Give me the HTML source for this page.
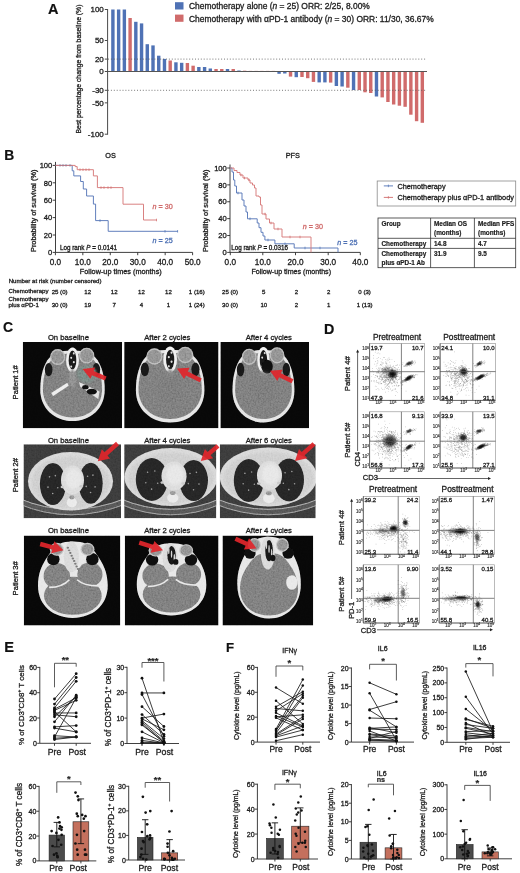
<!DOCTYPE html>
<html><head><meta charset="utf-8"><title>Figure</title>
<style>html,body{margin:0;padding:0;background:#fff;}body{width:520px;height:873px;overflow:hidden;}svg{display:block;}</style>
</head><body>
<svg width="520" height="873" viewBox="0 0 520 873" font-family="Liberation Sans, Arial, sans-serif">
<rect width="520" height="873" fill="#fff"/>
<defs><filter id="b04" x="-20%" y="-20%" width="140%" height="140%"><feGaussianBlur stdDeviation="0.5"/></filter><filter id="b1" x="-30%" y="-30%" width="160%" height="160%"><feGaussianBlur stdDeviation="1.2"/></filter><filter id="b2" x="-30%" y="-30%" width="160%" height="160%"><feGaussianBlur stdDeviation="2.5"/></filter><filter id="nz" x="0" y="0" width="100%" height="100%"><feTurbulence type="fractalNoise" baseFrequency="0.6" numOctaves="2" seed="3"/><feColorMatrix type="matrix" values="1 0 0 0 0  1 0 0 0 0  1 0 0 0 0  0 0 0 0 1"/></filter><radialGradient id="rg"><stop offset="0" stop-color="#000" stop-opacity="1"/><stop offset="0.45" stop-color="#111" stop-opacity="0.85"/><stop offset="1" stop-color="#444" stop-opacity="0"/></radialGradient></defs>
<text x="48" y="14" font-size="14.5" font-weight="bold" fill="#111" stroke="#111" stroke-width="0.18">A</text>
<rect x="175" y="2.2" width="8.5" height="7.3" fill="#4f72b5"/>
<rect x="175" y="14.6" width="8.5" height="7.2" fill="#d06b6b"/>
<text x="189" y="8.82" font-size="8.45" fill="#1c1c1c" stroke="#1c1c1c" stroke-width="0.3">Chemotherapy alone (<tspan font-style="italic">n</tspan> = 25) ORR: 2/25, 8.00%</text>
<text x="189" y="21.62" font-size="8.45" fill="#1c1c1c" stroke="#1c1c1c" stroke-width="0.3">Chemotherapy with αPD-1 antibody (<tspan font-style="italic">n</tspan> = 30) ORR: 11/30, 36.67%</text>
<line x1="107.6" y1="9" x2="107.6" y2="134.7" stroke="#4a4a4a" stroke-width="1"/>
<line x1="104.8" y1="9.5" x2="107.6" y2="9.5" stroke="#4a4a4a" stroke-width="1"/>
<text x="103.8" y="12.36" font-size="8" text-anchor="end" fill="#1c1c1c" stroke="#1c1c1c" stroke-width="0.3">100</text>
<line x1="104.8" y1="40.5" x2="107.6" y2="40.5" stroke="#4a4a4a" stroke-width="1"/>
<text x="103.8" y="43.36" font-size="8" text-anchor="end" fill="#1c1c1c" stroke="#1c1c1c" stroke-width="0.3">50</text>
<line x1="104.8" y1="59.1" x2="107.6" y2="59.1" stroke="#4a4a4a" stroke-width="1"/>
<text x="103.8" y="61.96" font-size="8" text-anchor="end" fill="#1c1c1c" stroke="#1c1c1c" stroke-width="0.3">20</text>
<line x1="104.8" y1="71.5" x2="107.6" y2="71.5" stroke="#4a4a4a" stroke-width="1"/>
<text x="103.8" y="74.36" font-size="8" text-anchor="end" fill="#1c1c1c" stroke="#1c1c1c" stroke-width="0.3">0</text>
<line x1="104.8" y1="90.31" x2="107.6" y2="90.31" stroke="#4a4a4a" stroke-width="1"/>
<text x="103.8" y="93.17" font-size="8" text-anchor="end" fill="#1c1c1c" stroke="#1c1c1c" stroke-width="0.3">-30</text>
<line x1="104.8" y1="102.85" x2="107.6" y2="102.85" stroke="#4a4a4a" stroke-width="1"/>
<text x="103.8" y="105.71" font-size="8" text-anchor="end" fill="#1c1c1c" stroke="#1c1c1c" stroke-width="0.3">-50</text>
<line x1="104.8" y1="134.2" x2="107.6" y2="134.2" stroke="#4a4a4a" stroke-width="1"/>
<text x="103.8" y="137.06" font-size="8" text-anchor="end" fill="#1c1c1c" stroke="#1c1c1c" stroke-width="0.3">-100</text>
<text x="78.7" y="71.43" font-size="6.8" text-anchor="middle" fill="#1c1c1c" stroke="#1c1c1c" stroke-width="0.3" transform="rotate(-90 78.7 69)">Best percentage change from baseline (%)</text>
<rect x="111.2" y="9.5" width="3.4" height="62" fill="#4f72b5"/>
<rect x="116.93" y="9.5" width="3.4" height="62" fill="#4f72b5"/>
<rect x="122.66" y="9.5" width="3.4" height="62" fill="#4f72b5"/>
<rect x="128.39" y="18" width="3.4" height="53.5" fill="#d06b6b"/>
<rect x="134.12" y="21.8" width="3.4" height="49.7" fill="#4f72b5"/>
<rect x="139.85" y="23.4" width="3.4" height="48.1" fill="#4f72b5"/>
<rect x="145.58" y="44.2" width="3.4" height="27.3" fill="#4f72b5"/>
<rect x="151.31" y="45.4" width="3.4" height="26.1" fill="#4f72b5"/>
<rect x="157.04" y="55.7" width="3.4" height="15.8" fill="#4f72b5"/>
<rect x="162.77" y="58.9" width="3.4" height="12.6" fill="#4f72b5"/>
<rect x="168.5" y="60.5" width="3.4" height="11" fill="#d06b6b"/>
<rect x="174.23" y="62.3" width="3.4" height="9.2" fill="#4f72b5"/>
<rect x="179.96" y="62.8" width="3.4" height="8.7" fill="#4f72b5"/>
<rect x="185.69" y="63" width="3.4" height="8.5" fill="#d06b6b"/>
<rect x="191.42" y="65.7" width="3.4" height="5.8" fill="#d06b6b"/>
<rect x="197.15" y="67" width="3.4" height="4.5" fill="#4f72b5"/>
<rect x="202.88" y="67" width="3.4" height="4.5" fill="#4f72b5"/>
<rect x="208.61" y="68.5" width="3.4" height="3" fill="#4f72b5"/>
<rect x="214.34" y="69" width="3.4" height="2.5" fill="#d06b6b"/>
<rect x="220.07" y="69" width="3.4" height="2.5" fill="#d06b6b"/>
<rect x="225.8" y="69" width="3.4" height="2.5" fill="#4f72b5"/>
<rect x="231.53" y="69" width="3.4" height="2.5" fill="#d06b6b"/>
<rect x="237.26" y="70.5" width="3.4" height="1" fill="#4f72b5"/>
<rect x="242.99" y="70.7" width="3.4" height="0.8" fill="#d06b6b"/>
<rect x="248.72" y="70.9" width="3.4" height="0.6" fill="#d06b6b"/>
<rect x="254.45" y="70.9" width="3.4" height="0.6" fill="#d06b6b"/>
<rect x="260.18" y="70.9" width="3.4" height="0.6" fill="#d06b6b"/>
<rect x="265.91" y="70.9" width="3.4" height="0.6" fill="#d06b6b"/>
<rect x="271.64" y="70.9" width="3.4" height="0.6" fill="#d06b6b"/>
<rect x="277.37" y="71.5" width="3.4" height="2.3" fill="#4f72b5"/>
<rect x="283.1" y="71.5" width="3.4" height="2" fill="#4f72b5"/>
<rect x="288.83" y="71.5" width="3.4" height="5.1" fill="#d06b6b"/>
<rect x="294.56" y="71.5" width="3.4" height="5.7" fill="#4f72b5"/>
<rect x="300.29" y="71.5" width="3.4" height="5.5" fill="#d06b6b"/>
<rect x="306.02" y="71.5" width="3.4" height="6.7" fill="#d06b6b"/>
<rect x="311.75" y="71.5" width="3.4" height="10.4" fill="#d06b6b"/>
<rect x="317.48" y="71.5" width="3.4" height="10.9" fill="#4f72b5"/>
<rect x="323.21" y="71.5" width="3.4" height="10.9" fill="#4f72b5"/>
<rect x="328.94" y="71.5" width="3.4" height="11.1" fill="#d06b6b"/>
<rect x="334.67" y="71.5" width="3.4" height="14.5" fill="#4f72b5"/>
<rect x="340.4" y="71.5" width="3.4" height="15" fill="#4f72b5"/>
<rect x="346.13" y="71.5" width="3.4" height="16.2" fill="#d06b6b"/>
<rect x="351.86" y="71.5" width="3.4" height="18.5" fill="#4f72b5"/>
<rect x="357.59" y="71.5" width="3.4" height="18.5" fill="#d06b6b"/>
<rect x="363.32" y="71.5" width="3.4" height="20.8" fill="#d06b6b"/>
<rect x="369.05" y="71.5" width="3.4" height="21.5" fill="#d06b6b"/>
<rect x="374.78" y="71.5" width="3.4" height="25" fill="#4f72b5"/>
<rect x="380.51" y="71.5" width="3.4" height="25.9" fill="#d06b6b"/>
<rect x="386.24" y="71.5" width="3.4" height="30.5" fill="#d06b6b"/>
<rect x="391.97" y="71.5" width="3.4" height="33" fill="#d06b6b"/>
<rect x="397.7" y="71.5" width="3.4" height="34.2" fill="#d06b6b"/>
<rect x="403.43" y="71.5" width="3.4" height="35.3" fill="#d06b6b"/>
<rect x="409.16" y="71.5" width="3.4" height="43.2" fill="#d06b6b"/>
<rect x="414.89" y="71.5" width="3.4" height="49.7" fill="#d06b6b"/>
<rect x="420.62" y="71.5" width="3.4" height="51.3" fill="#d06b6b"/>
<line x1="108" y1="59.1" x2="427" y2="59.1" stroke="#555" stroke-width="0.8" stroke-dasharray="1 1.9"/>
<line x1="108" y1="90.31" x2="427" y2="90.31" stroke="#555" stroke-width="0.8" stroke-dasharray="1 1.9"/>
<line x1="108" y1="71.5" x2="427" y2="71.5" stroke="#555" stroke-width="1.1"/>
<text x="4.3" y="160" font-size="13.8" font-weight="bold" fill="#111" stroke="#111" stroke-width="0.18">B</text>
<line x1="55.5" y1="161.9" x2="55.5" y2="252.4" stroke="#2a2a2a" stroke-width="0.9"/>
<line x1="55.5" y1="252.4" x2="192.6" y2="252.4" stroke="#2a2a2a" stroke-width="0.9"/>
<line x1="52.7" y1="165.4" x2="55.5" y2="165.4" stroke="#2a2a2a" stroke-width="0.9"/>
<text x="52.3" y="168.11" font-size="7.6" text-anchor="end" fill="#1c1c1c" stroke="#1c1c1c" stroke-width="0.3">100</text>
<line x1="52.7" y1="182.8" x2="55.5" y2="182.8" stroke="#2a2a2a" stroke-width="0.9"/>
<text x="52.3" y="185.51" font-size="7.6" text-anchor="end" fill="#1c1c1c" stroke="#1c1c1c" stroke-width="0.3">80</text>
<line x1="52.7" y1="200.2" x2="55.5" y2="200.2" stroke="#2a2a2a" stroke-width="0.9"/>
<text x="52.3" y="202.91" font-size="7.6" text-anchor="end" fill="#1c1c1c" stroke="#1c1c1c" stroke-width="0.3">60</text>
<line x1="52.7" y1="217.6" x2="55.5" y2="217.6" stroke="#2a2a2a" stroke-width="0.9"/>
<text x="52.3" y="220.31" font-size="7.6" text-anchor="end" fill="#1c1c1c" stroke="#1c1c1c" stroke-width="0.3">40</text>
<line x1="52.7" y1="235" x2="55.5" y2="235" stroke="#2a2a2a" stroke-width="0.9"/>
<text x="52.3" y="237.71" font-size="7.6" text-anchor="end" fill="#1c1c1c" stroke="#1c1c1c" stroke-width="0.3">20</text>
<line x1="52.7" y1="252.4" x2="55.5" y2="252.4" stroke="#2a2a2a" stroke-width="0.9"/>
<text x="52.3" y="255.11" font-size="7.6" text-anchor="end" fill="#1c1c1c" stroke="#1c1c1c" stroke-width="0.3">0</text>
<line x1="55.4" y1="252.4" x2="55.4" y2="255.2" stroke="#2a2a2a" stroke-width="0.9"/>
<text x="55.4" y="264.53" font-size="8.2" text-anchor="middle" fill="#1c1c1c" stroke="#1c1c1c" stroke-width="0.3">0.0</text>
<line x1="82.84" y1="252.4" x2="82.84" y2="255.2" stroke="#2a2a2a" stroke-width="0.9"/>
<text x="82.84" y="264.53" font-size="8.2" text-anchor="middle" fill="#1c1c1c" stroke="#1c1c1c" stroke-width="0.3">10.0</text>
<line x1="110.28" y1="252.4" x2="110.28" y2="255.2" stroke="#2a2a2a" stroke-width="0.9"/>
<text x="110.28" y="264.53" font-size="8.2" text-anchor="middle" fill="#1c1c1c" stroke="#1c1c1c" stroke-width="0.3">20.0</text>
<line x1="137.72" y1="252.4" x2="137.72" y2="255.2" stroke="#2a2a2a" stroke-width="0.9"/>
<text x="137.72" y="264.53" font-size="8.2" text-anchor="middle" fill="#1c1c1c" stroke="#1c1c1c" stroke-width="0.3">30.0</text>
<line x1="165.16" y1="252.4" x2="165.16" y2="255.2" stroke="#2a2a2a" stroke-width="0.9"/>
<text x="165.16" y="264.53" font-size="8.2" text-anchor="middle" fill="#1c1c1c" stroke="#1c1c1c" stroke-width="0.3">40.0</text>
<line x1="192.6" y1="252.4" x2="192.6" y2="255.2" stroke="#2a2a2a" stroke-width="0.9"/>
<text x="192.6" y="264.53" font-size="8.2" text-anchor="middle" fill="#1c1c1c" stroke="#1c1c1c" stroke-width="0.3">50.0</text>
<text x="110.5" y="158.41" font-size="7.3" text-anchor="middle" fill="#1c1c1c" stroke="#1c1c1c" stroke-width="0.3">OS</text>
<text x="33.4" y="213.41" font-size="7.3" text-anchor="middle" fill="#1c1c1c" stroke="#1c1c1c" stroke-width="0.3" transform="rotate(-90 33.4 210.8)">Probability of survival (%)</text>
<text x="120.8" y="274.41" font-size="7.3" text-anchor="middle" fill="#1c1c1c" stroke="#1c1c1c" stroke-width="0.3">Follow-up times (months)</text>
<text x="60" y="250.25" font-size="6.3" fill="#1c1c1c" stroke="#1c1c1c" stroke-width="0.3">Log rank <tspan font-style="italic">P</tspan> = 0.0141</text>
<polyline points="55.5,165.4 72.2,165.4 72.2,170.8 73.8,170.8 73.8,175.9 80.6,175.9 80.6,181.5 83.3,181.5 83.3,189 86.6,189 86.6,196 93.4,196 93.4,204.1 95.6,204.1 95.6,220.6 108.2,220.6 108.2,231.3 177.8,231.3" fill="none" stroke="#5878b8" stroke-width="0.95"/>
<polyline points="55.5,165.4 75.2,165.4 75.2,166.6 77.2,166.6 77.2,169.7 93.4,169.7 93.4,175.9 97.4,175.9 97.4,187.6 123,187.6 123,204.2 143.5,204.2 143.5,220 156.8,220" fill="none" stroke="#d77a7a" stroke-width="0.95"/>
<line x1="60" y1="164.1" x2="60" y2="166.7" stroke="#7a7a9a" stroke-width="0.7"/>
<line x1="63" y1="164.1" x2="63" y2="166.7" stroke="#7a7a9a" stroke-width="0.7"/>
<line x1="66" y1="164.1" x2="66" y2="166.7" stroke="#7a7a9a" stroke-width="0.7"/>
<line x1="70" y1="164.1" x2="70" y2="166.7" stroke="#7a7a9a" stroke-width="0.7"/>
<line x1="80" y1="168.4" x2="80" y2="171" stroke="#d06b6b" stroke-width="0.7"/>
<line x1="83" y1="168.4" x2="83" y2="171" stroke="#d06b6b" stroke-width="0.7"/>
<line x1="86" y1="168.4" x2="86" y2="171" stroke="#d06b6b" stroke-width="0.7"/>
<line x1="89" y1="168.4" x2="89" y2="171" stroke="#d06b6b" stroke-width="0.7"/>
<line x1="101" y1="186.3" x2="101" y2="188.9" stroke="#d06b6b" stroke-width="0.7"/>
<line x1="104" y1="186.3" x2="104" y2="188.9" stroke="#d06b6b" stroke-width="0.7"/>
<line x1="108" y1="186.3" x2="108" y2="188.9" stroke="#d06b6b" stroke-width="0.7"/>
<line x1="111" y1="186.3" x2="111" y2="188.9" stroke="#d06b6b" stroke-width="0.7"/>
<line x1="156.5" y1="218.7" x2="156.5" y2="221.3" stroke="#d06b6b" stroke-width="0.7"/>
<line x1="100" y1="219.3" x2="100" y2="221.9" stroke="#4f72b5" stroke-width="0.7"/>
<line x1="165" y1="230" x2="165" y2="232.6" stroke="#4f72b5" stroke-width="0.7"/>
<line x1="177.6" y1="230" x2="177.6" y2="232.6" stroke="#4f72b5" stroke-width="0.7"/>
<text x="152.5" y="209.17" font-size="7.2" fill="#d06b6b" stroke="#d06b6b" stroke-width="0.3"><tspan font-style="italic">n</tspan> = 30</text>
<text x="152.5" y="243.37" font-size="7.2" fill="#4f72b5" stroke="#4f72b5" stroke-width="0.3"><tspan font-style="italic">n</tspan> = 25</text>
<line x1="230" y1="164.5" x2="230" y2="252.4" stroke="#2a2a2a" stroke-width="0.9"/>
<line x1="230" y1="252.4" x2="360.3" y2="252.4" stroke="#2a2a2a" stroke-width="0.9"/>
<line x1="227.2" y1="168" x2="230" y2="168" stroke="#2a2a2a" stroke-width="0.9"/>
<text x="226.8" y="170.71" font-size="7.6" text-anchor="end" fill="#1c1c1c" stroke="#1c1c1c" stroke-width="0.3">100</text>
<line x1="227.2" y1="184.88" x2="230" y2="184.88" stroke="#2a2a2a" stroke-width="0.9"/>
<text x="226.8" y="187.59" font-size="7.6" text-anchor="end" fill="#1c1c1c" stroke="#1c1c1c" stroke-width="0.3">80</text>
<line x1="227.2" y1="201.76" x2="230" y2="201.76" stroke="#2a2a2a" stroke-width="0.9"/>
<text x="226.8" y="204.47" font-size="7.6" text-anchor="end" fill="#1c1c1c" stroke="#1c1c1c" stroke-width="0.3">60</text>
<line x1="227.2" y1="218.64" x2="230" y2="218.64" stroke="#2a2a2a" stroke-width="0.9"/>
<text x="226.8" y="221.35" font-size="7.6" text-anchor="end" fill="#1c1c1c" stroke="#1c1c1c" stroke-width="0.3">40</text>
<line x1="227.2" y1="235.52" x2="230" y2="235.52" stroke="#2a2a2a" stroke-width="0.9"/>
<text x="226.8" y="238.23" font-size="7.6" text-anchor="end" fill="#1c1c1c" stroke="#1c1c1c" stroke-width="0.3">20</text>
<line x1="227.2" y1="252.4" x2="230" y2="252.4" stroke="#2a2a2a" stroke-width="0.9"/>
<text x="226.8" y="255.11" font-size="7.6" text-anchor="end" fill="#1c1c1c" stroke="#1c1c1c" stroke-width="0.3">0</text>
<line x1="230.3" y1="252.4" x2="230.3" y2="255.2" stroke="#2a2a2a" stroke-width="0.9"/>
<text x="230.3" y="264.53" font-size="8.2" text-anchor="middle" fill="#1c1c1c" stroke="#1c1c1c" stroke-width="0.3">0.0</text>
<line x1="262.8" y1="252.4" x2="262.8" y2="255.2" stroke="#2a2a2a" stroke-width="0.9"/>
<text x="262.8" y="264.53" font-size="8.2" text-anchor="middle" fill="#1c1c1c" stroke="#1c1c1c" stroke-width="0.3">10.0</text>
<line x1="295.5" y1="252.4" x2="295.5" y2="255.2" stroke="#2a2a2a" stroke-width="0.9"/>
<text x="295.5" y="264.53" font-size="8.2" text-anchor="middle" fill="#1c1c1c" stroke="#1c1c1c" stroke-width="0.3">20.0</text>
<line x1="328.2" y1="252.4" x2="328.2" y2="255.2" stroke="#2a2a2a" stroke-width="0.9"/>
<text x="328.2" y="264.53" font-size="8.2" text-anchor="middle" fill="#1c1c1c" stroke="#1c1c1c" stroke-width="0.3">30.0</text>
<line x1="360.3" y1="252.4" x2="360.3" y2="255.2" stroke="#2a2a2a" stroke-width="0.9"/>
<text x="360.3" y="264.53" font-size="8.2" text-anchor="middle" fill="#1c1c1c" stroke="#1c1c1c" stroke-width="0.3">40.0</text>
<text x="292.8" y="158.41" font-size="7.3" text-anchor="middle" fill="#1c1c1c" stroke="#1c1c1c" stroke-width="0.3">PFS</text>
<text x="205.8" y="213.41" font-size="7.3" text-anchor="middle" fill="#1c1c1c" stroke="#1c1c1c" stroke-width="0.3" transform="rotate(-90 205.8 210.8)">Probability of survival (%)</text>
<text x="291.2" y="274.33" font-size="7.1" text-anchor="middle" fill="#1c1c1c" stroke="#1c1c1c" stroke-width="0.3">Follow-up times (months)</text>
<text x="231.2" y="250.25" font-size="6.3" fill="#1c1c1c" stroke="#1c1c1c" stroke-width="0.3">Log rank <tspan font-style="italic">P</tspan> = 0.0316</text>
<polyline points="230,168 232,168 232,172 233.5,172 233.5,180 234.8,180 234.8,186 236.5,186 236.5,193 242,193 242,200 244,200 244,206 246,206 246,212 247.5,212 247.5,218.8 257.2,218.8 257.2,223 259,223 259,227.7 261,227.7 261,232.3 263,232.3 263,236 264.9,236 264.9,240 274.9,240 274.9,243.8 294.2,243.8 294.2,248 338,248 338,252.4" fill="none" stroke="#5878b8" stroke-width="0.95"/>
<polyline points="230,168 234,168 234,170.5 237,170.5 237,172.5 240,172.5 240,175 243,175 243,178 248,178 248,180 250,180 250,183 252.5,183 252.5,185 254.5,185 254.5,188 256,188 256,196 259,196 259,197 260.5,197 260.5,205 262,205 262,214 266,214 266,219 269.5,219 269.5,223 274,223 274,229 282,229 282,237 311,237 311,252.4" fill="none" stroke="#d77a7a" stroke-width="0.95"/>
<line x1="241" y1="173.7" x2="241" y2="176.3" stroke="#d06b6b" stroke-width="0.7"/>
<line x1="244.5" y1="176.7" x2="244.5" y2="179.3" stroke="#d06b6b" stroke-width="0.7"/>
<line x1="249" y1="178.7" x2="249" y2="181.3" stroke="#d06b6b" stroke-width="0.7"/>
<line x1="265" y1="212.7" x2="265" y2="215.3" stroke="#d06b6b" stroke-width="0.7"/>
<line x1="271" y1="221.7" x2="271" y2="224.3" stroke="#d06b6b" stroke-width="0.7"/>
<line x1="278" y1="227.7" x2="278" y2="230.3" stroke="#d06b6b" stroke-width="0.7"/>
<line x1="290" y1="235.7" x2="290" y2="238.3" stroke="#d06b6b" stroke-width="0.7"/>
<line x1="300" y1="235.7" x2="300" y2="238.3" stroke="#d06b6b" stroke-width="0.7"/>
<line x1="238" y1="191.7" x2="238" y2="194.3" stroke="#4f72b5" stroke-width="0.7"/>
<line x1="250" y1="217.5" x2="250" y2="220.1" stroke="#4f72b5" stroke-width="0.7"/>
<line x1="268" y1="238.7" x2="268" y2="241.3" stroke="#4f72b5" stroke-width="0.7"/>
<line x1="285" y1="242.5" x2="285" y2="245.1" stroke="#4f72b5" stroke-width="0.7"/>
<line x1="305" y1="246.7" x2="305" y2="249.3" stroke="#4f72b5" stroke-width="0.7"/>
<line x1="320" y1="246.7" x2="320" y2="249.3" stroke="#4f72b5" stroke-width="0.7"/>
<text x="302.8" y="229.17" font-size="7.2" fill="#d06b6b" stroke="#d06b6b" stroke-width="0.3"><tspan font-style="italic">n</tspan> = 30</text>
<text x="337.3" y="244.57" font-size="7.2" fill="#4f72b5" stroke="#4f72b5" stroke-width="0.3"><tspan font-style="italic">n</tspan> = 25</text>
<rect x="377.2" y="181" width="138.5" height="25" fill="none" stroke="#8a8a8a" stroke-width="0.8"/>
<line x1="383.8" y1="185.9" x2="393" y2="185.9" stroke="#4f72b5" stroke-width="0.9"/>
<line x1="388.4" y1="184.6" x2="388.4" y2="187.2" stroke="#4f72b5" stroke-width="0.7"/>
<line x1="383.8" y1="197.4" x2="393" y2="197.4" stroke="#d06b6b" stroke-width="0.9"/>
<line x1="388.4" y1="196.1" x2="388.4" y2="198.7" stroke="#d06b6b" stroke-width="0.7"/>
<text x="397.4" y="188.62" font-size="7.35" fill="#1c1c1c" stroke="#1c1c1c" stroke-width="0.3">Chemotherapy</text>
<text x="397.4" y="200.12" font-size="7.35" fill="#1c1c1c" stroke="#1c1c1c" stroke-width="0.3">Chemotherapy plus αPD-1 antibody</text>
<rect x="378" y="218" width="137.7" height="49.7" fill="none" stroke="#333" stroke-width="0.8"/>
<line x1="430.6" y1="218" x2="430.6" y2="267.7" stroke="#333" stroke-width="0.8"/>
<line x1="474.4" y1="218" x2="474.4" y2="267.7" stroke="#333" stroke-width="0.8"/>
<line x1="378" y1="238.3" x2="515.7" y2="238.3" stroke="#333" stroke-width="0.8"/>
<line x1="378" y1="248.4" x2="515.7" y2="248.4" stroke="#333" stroke-width="0.8"/>
<text x="381.5" y="225.88" font-size="6.4" font-weight="bold" fill="#1c1c1c" stroke="#1c1c1c" stroke-width="0.18">Group</text>
<text x="434" y="225.88" font-size="6.4" font-weight="bold" fill="#1c1c1c" stroke="#1c1c1c" stroke-width="0.18">Median OS</text>
<text x="434" y="234.88" font-size="6.4" font-weight="bold" fill="#1c1c1c" stroke="#1c1c1c" stroke-width="0.18">(months)</text>
<text x="478" y="225.88" font-size="6.4" font-weight="bold" fill="#1c1c1c" stroke="#1c1c1c" stroke-width="0.18">Median PFS</text>
<text x="478" y="234.88" font-size="6.4" font-weight="bold" fill="#1c1c1c" stroke="#1c1c1c" stroke-width="0.18">(months)</text>
<text x="381.5" y="245.58" font-size="6.4" font-weight="bold" fill="#1c1c1c" stroke="#1c1c1c" stroke-width="0.18">Chemotherapy</text>
<text x="434" y="245.58" font-size="6.4" font-weight="bold" fill="#1c1c1c" stroke="#1c1c1c" stroke-width="0.18">14.8</text>
<text x="478" y="245.58" font-size="6.4" font-weight="bold" fill="#1c1c1c" stroke="#1c1c1c" stroke-width="0.18">4.7</text>
<text x="381.5" y="256.08" font-size="6.4" font-weight="bold" fill="#1c1c1c" stroke="#1c1c1c" stroke-width="0.18">Chemotherapy</text>
<text x="381.5" y="265.48" font-size="6.4" font-weight="bold" fill="#1c1c1c" stroke="#1c1c1c" stroke-width="0.18">plus αPD-1 Ab</text>
<text x="434" y="256.08" font-size="6.4" font-weight="bold" fill="#1c1c1c" stroke="#1c1c1c" stroke-width="0.18">31.9</text>
<text x="478" y="256.08" font-size="6.4" font-weight="bold" fill="#1c1c1c" stroke="#1c1c1c" stroke-width="0.18">9.5</text>
<text x="8.7" y="282.68" font-size="6.1" fill="#1c1c1c" stroke="#1c1c1c" stroke-width="0.3">Number at risk (number censored)</text>
<text x="8.5" y="292.68" font-size="6.1" fill="#1c1c1c" stroke="#1c1c1c" stroke-width="0.3">Chemotherapy</text>
<text x="8.5" y="300.58" font-size="6.1" fill="#1c1c1c" stroke="#1c1c1c" stroke-width="0.3">Chemotherapy</text>
<text x="8.5" y="307.28" font-size="6.1" fill="#1c1c1c" stroke="#1c1c1c" stroke-width="0.3">plus αPD-1</text>
<text x="59.6" y="293.98" font-size="6.1" text-anchor="middle" fill="#1c1c1c" stroke="#1c1c1c" stroke-width="0.3">25 (0)</text>
<text x="59.6" y="306.78" font-size="6.1" text-anchor="middle" fill="#1c1c1c" stroke="#1c1c1c" stroke-width="0.3">30 (0)</text>
<text x="87.7" y="293.98" font-size="6.1" text-anchor="middle" fill="#1c1c1c" stroke="#1c1c1c" stroke-width="0.3">12</text>
<text x="87.7" y="306.78" font-size="6.1" text-anchor="middle" fill="#1c1c1c" stroke="#1c1c1c" stroke-width="0.3">19</text>
<text x="114.2" y="293.98" font-size="6.1" text-anchor="middle" fill="#1c1c1c" stroke="#1c1c1c" stroke-width="0.3">12</text>
<text x="114.2" y="306.78" font-size="6.1" text-anchor="middle" fill="#1c1c1c" stroke="#1c1c1c" stroke-width="0.3">7</text>
<text x="141.5" y="293.98" font-size="6.1" text-anchor="middle" fill="#1c1c1c" stroke="#1c1c1c" stroke-width="0.3">12</text>
<text x="141.5" y="306.78" font-size="6.1" text-anchor="middle" fill="#1c1c1c" stroke="#1c1c1c" stroke-width="0.3">4</text>
<text x="168.5" y="293.98" font-size="6.1" text-anchor="middle" fill="#1c1c1c" stroke="#1c1c1c" stroke-width="0.3">12</text>
<text x="168.5" y="306.78" font-size="6.1" text-anchor="middle" fill="#1c1c1c" stroke="#1c1c1c" stroke-width="0.3">1</text>
<text x="196.8" y="293.98" font-size="6.1" text-anchor="middle" fill="#1c1c1c" stroke="#1c1c1c" stroke-width="0.3">1 (16)</text>
<text x="196.8" y="306.78" font-size="6.1" text-anchor="middle" fill="#1c1c1c" stroke="#1c1c1c" stroke-width="0.3">1 (24)</text>
<text x="230" y="293.98" font-size="6.1" text-anchor="middle" fill="#1c1c1c" stroke="#1c1c1c" stroke-width="0.3">25 (0)</text>
<text x="230" y="306.78" font-size="6.1" text-anchor="middle" fill="#1c1c1c" stroke="#1c1c1c" stroke-width="0.3">30 (0)</text>
<text x="263.8" y="293.98" font-size="6.1" text-anchor="middle" fill="#1c1c1c" stroke="#1c1c1c" stroke-width="0.3">5</text>
<text x="263.8" y="306.78" font-size="6.1" text-anchor="middle" fill="#1c1c1c" stroke="#1c1c1c" stroke-width="0.3">10</text>
<text x="296.5" y="293.98" font-size="6.1" text-anchor="middle" fill="#1c1c1c" stroke="#1c1c1c" stroke-width="0.3">2</text>
<text x="296.5" y="306.78" font-size="6.1" text-anchor="middle" fill="#1c1c1c" stroke="#1c1c1c" stroke-width="0.3">2</text>
<text x="328.8" y="293.98" font-size="6.1" text-anchor="middle" fill="#1c1c1c" stroke="#1c1c1c" stroke-width="0.3">2</text>
<text x="328.8" y="306.78" font-size="6.1" text-anchor="middle" fill="#1c1c1c" stroke="#1c1c1c" stroke-width="0.3">1</text>
<text x="364.6" y="293.98" font-size="6.1" text-anchor="middle" fill="#1c1c1c" stroke="#1c1c1c" stroke-width="0.3">0 (3)</text>
<text x="364.6" y="306.78" font-size="6.1" text-anchor="middle" fill="#1c1c1c" stroke="#1c1c1c" stroke-width="0.3">1 (13)</text>
<text x="3" y="332.3" font-size="14" font-weight="bold" fill="#111" stroke="#111" stroke-width="0.18">C</text>
<text x="68.4" y="339.6" font-size="7.7" text-anchor="middle" fill="#1c1c1c" stroke="#1c1c1c" stroke-width="0.3">On baseline</text>
<text x="167.2" y="339.6" font-size="7.7" text-anchor="middle" fill="#1c1c1c" stroke="#1c1c1c" stroke-width="0.3">After 2 cycles</text>
<text x="268.8" y="339.6" font-size="7.7" text-anchor="middle" fill="#1c1c1c" stroke="#1c1c1c" stroke-width="0.3">After 4 cycles</text>
<text x="68.4" y="442.8" font-size="7.7" text-anchor="middle" fill="#1c1c1c" stroke="#1c1c1c" stroke-width="0.3">On baseline</text>
<text x="167.2" y="442.8" font-size="7.7" text-anchor="middle" fill="#1c1c1c" stroke="#1c1c1c" stroke-width="0.3">After 4 cycles</text>
<text x="268.8" y="442.8" font-size="7.7" text-anchor="middle" fill="#1c1c1c" stroke="#1c1c1c" stroke-width="0.3">After 6 cycles</text>
<text x="68.4" y="533.4" font-size="7.7" text-anchor="middle" fill="#1c1c1c" stroke="#1c1c1c" stroke-width="0.3">On baseline</text>
<text x="167.2" y="533.4" font-size="7.7" text-anchor="middle" fill="#1c1c1c" stroke="#1c1c1c" stroke-width="0.3">After 2 cycles</text>
<text x="268.8" y="533.4" font-size="7.7" text-anchor="middle" fill="#1c1c1c" stroke="#1c1c1c" stroke-width="0.3">After 4 cycles</text>
<clipPath id="c1"><rect x="22.8" y="342" width="99.3" height="86.3"/></clipPath>
<g clip-path="url(#c1)">
<rect x="22.8" y="342" width="99.3" height="86.3" fill="#070707"/>
<path d="M72.5 350.44 C85.38 350.44 93.11 353.26 97.62 360.32 C102.77 368.79 104.7 378.66 104.7 389.95 C104.7 408.3 90.53 421 72.5 421 C54.47 421 40.3 408.3 40.3 389.95 C40.3 378.66 42.23 368.79 47.38 360.32 C51.89 353.26 59.62 350.44 72.5 350.44Z" fill="#e2e2e2" filter="url(#b04)"/>
<path d="M72.5 353.44 C84.34 353.44 91.44 356.01 95.59 362.42 C100.32 370.12 102.1 379.1 102.1 389.37 C102.1 406.05 89.08 417.6 72.5 417.6 C55.92 417.6 42.9 406.05 42.9 389.37 C42.9 379.1 44.68 370.12 49.41 362.42 C53.56 356.01 60.66 353.44 72.5 353.44Z" fill="#727272" filter="url(#b04)"/>
<ellipse cx="48.67" cy="369.55" rx="3.86" ry="6.61" fill="#161616" filter="url(#b04)"/>
<ellipse cx="96.33" cy="369.55" rx="3.86" ry="6.61" fill="#161616" filter="url(#b04)"/>
<ellipse cx="57.69" cy="357.06" rx="7.6" ry="7.94" fill="#b4b4b4" filter="url(#b04)"/>
<ellipse cx="57.69" cy="357.06" rx="6.44" ry="6.61" fill="#858585" filter="url(#b04)"/>
<ellipse cx="86.67" cy="355.58" rx="7.6" ry="7.94" fill="#b4b4b4" filter="url(#b04)"/>
<ellipse cx="86.67" cy="355.58" rx="6.44" ry="6.61" fill="#858585" filter="url(#b04)"/>
<ellipse cx="72.5" cy="360" rx="6.44" ry="12.5" fill="#eeeeee" filter="url(#b04)"/>
<ellipse cx="72.5" cy="360" rx="3.86" ry="9.55" fill="#151515" filter="url(#b04)"/>
<ellipse cx="73.79" cy="353.38" rx="0.97" ry="1.1" fill="#d8d8d8"/>
<ellipse cx="71.21" cy="357.79" rx="0.97" ry="1.1" fill="#d8d8d8"/>
<ellipse cx="73.79" cy="362.2" rx="0.97" ry="1.1" fill="#d8d8d8"/>
<ellipse cx="71.21" cy="366.61" rx="0.97" ry="1.1" fill="#d8d8d8"/>
<ellipse cx="72.5" cy="378.37" rx="3.86" ry="8.82" fill="#838383" filter="url(#b1)"/>
<path d="M51.25 393.07 L67.35 382.78 L68.64 385.72 L53.18 396.01Z" fill="#ececec" filter="url(#b04)"/>
<path d="M78.94 382.05 L99.55 391.6 L98.26 398.95 L80.23 386.45Z" fill="#e0e0e0" filter="url(#b04)"/>
<ellipse cx="91.82" cy="391.6" rx="5.15" ry="2.94" fill="#101010" filter="url(#b04)"/>
<ellipse cx="85.38" cy="387.19" rx="3.22" ry="2.21" fill="#101010" filter="url(#b04)"/>
<ellipse cx="86.67" cy="373.96" rx="9.66" ry="8.82" fill="#6e7d78" filter="url(#b1)"/>
<rect x="22.8" y="342" width="99.3" height="86.3" filter="url(#nz)" opacity="0.3" style="mix-blend-mode:overlay"/>
</g>
<path d="M106.54 376.47 L93.6 371.09 L95.14 367.4 L82.6 368.9 L90.38 378.85 L91.91 375.15 L104.86 380.53Z" fill="#e0262b" opacity="0.93"/>
<clipPath id="c2"><rect x="124.2" y="342" width="94.3" height="86.3"/></clipPath>
<g clip-path="url(#c2)">
<rect x="124.2" y="342" width="94.3" height="86.3" fill="#070707"/>
<path d="M170.15 349.63 C183.85 349.63 192.07 352.54 196.87 359.82 C202.34 368.55 204.4 378.74 204.4 390.38 C204.4 409.3 189.33 422.4 170.15 422.4 C150.97 422.4 135.9 409.3 135.9 390.38 C135.9 378.74 137.96 368.55 143.44 359.82 C148.23 352.54 156.45 349.63 170.15 349.63Z" fill="#e2e2e2" filter="url(#b04)"/>
<path d="M170.15 352.63 C182.81 352.63 190.41 355.29 194.84 361.92 C199.9 369.89 201.8 379.18 201.8 389.8 C201.8 407.05 187.87 419 170.15 419 C152.43 419 138.5 407.05 138.5 389.8 C138.5 379.18 140.4 369.89 145.46 361.92 C149.89 355.29 157.49 352.63 170.15 352.63Z" fill="#727272" filter="url(#b04)"/>
<ellipse cx="144.81" cy="369.34" rx="4.11" ry="6.82" fill="#161616" filter="url(#b04)"/>
<ellipse cx="195.5" cy="369.34" rx="4.11" ry="6.82" fill="#161616" filter="url(#b04)"/>
<ellipse cx="154.4" cy="356.45" rx="8.08" ry="8.19" fill="#b4b4b4" filter="url(#b04)"/>
<ellipse cx="154.4" cy="356.45" rx="6.85" ry="6.82" fill="#858585" filter="url(#b04)"/>
<ellipse cx="185.22" cy="354.94" rx="8.08" ry="8.19" fill="#b4b4b4" filter="url(#b04)"/>
<ellipse cx="185.22" cy="354.94" rx="6.85" ry="6.82" fill="#858585" filter="url(#b04)"/>
<ellipse cx="170.15" cy="359.49" rx="6.85" ry="12.89" fill="#eeeeee" filter="url(#b04)"/>
<ellipse cx="170.15" cy="359.49" rx="4.11" ry="9.85" fill="#151515" filter="url(#b04)"/>
<ellipse cx="171.52" cy="352.66" rx="1.03" ry="1.14" fill="#d8d8d8"/>
<ellipse cx="168.78" cy="357.21" rx="1.03" ry="1.14" fill="#d8d8d8"/>
<ellipse cx="171.52" cy="361.76" rx="1.03" ry="1.14" fill="#d8d8d8"/>
<ellipse cx="168.78" cy="366.31" rx="1.03" ry="1.14" fill="#d8d8d8"/>
<ellipse cx="170.15" cy="378.44" rx="4.11" ry="9.1" fill="#838383" filter="url(#b1)"/>
<ellipse cx="170.15" cy="388.29" rx="12.33" ry="15.16" fill="#707070" filter="url(#b2)"/>
<rect x="124.2" y="342" width="94.3" height="86.3" filter="url(#nz)" opacity="0.3" style="mix-blend-mode:overlay"/>
</g>
<path d="M201.78 378.43 L187.82 371.45 L189.61 367.87 L177 368.5 L184.07 378.96 L185.85 375.39 L199.82 382.37Z" fill="#e0262b" opacity="0.93"/>
<clipPath id="c3"><rect x="220.4" y="342" width="88.6" height="86.3"/></clipPath>
<g clip-path="url(#c3)">
<rect x="220.4" y="342" width="88.6" height="86.3" fill="#070707"/>
<path d="M263.45 350.02 C275.83 350.02 283.26 352.92 287.59 360.17 C292.54 368.86 294.4 379.01 294.4 390.61 C294.4 409.45 280.78 422.5 263.45 422.5 C246.12 422.5 232.5 409.45 232.5 390.61 C232.5 379.01 234.36 368.86 239.31 360.17 C243.64 352.92 251.07 350.02 263.45 350.02Z" fill="#e2e2e2" filter="url(#b04)"/>
<path d="M263.45 353.02 C274.79 353.02 281.59 355.66 285.56 362.27 C290.1 370.2 291.8 379.45 291.8 390.02 C291.8 407.21 279.33 419.1 263.45 419.1 C247.57 419.1 235.1 407.21 235.1 390.02 C235.1 379.45 236.8 370.2 241.34 362.27 C245.31 355.66 252.11 353.02 263.45 353.02Z" fill="#727272" filter="url(#b04)"/>
<ellipse cx="240.55" cy="369.65" rx="3.71" ry="6.79" fill="#161616" filter="url(#b04)"/>
<ellipse cx="286.35" cy="369.65" rx="3.71" ry="6.79" fill="#161616" filter="url(#b04)"/>
<ellipse cx="249.21" cy="356.81" rx="7.3" ry="8.15" fill="#b4b4b4" filter="url(#b04)"/>
<ellipse cx="249.21" cy="356.81" rx="6.19" ry="6.79" fill="#858585" filter="url(#b04)"/>
<ellipse cx="277.07" cy="355.31" rx="7.3" ry="8.15" fill="#b4b4b4" filter="url(#b04)"/>
<ellipse cx="277.07" cy="355.31" rx="6.19" ry="6.79" fill="#858585" filter="url(#b04)"/>
<ellipse cx="263.45" cy="359.83" rx="6.19" ry="12.84" fill="#eeeeee" filter="url(#b04)"/>
<ellipse cx="263.45" cy="359.83" rx="3.71" ry="9.81" fill="#151515" filter="url(#b04)"/>
<ellipse cx="264.69" cy="353.04" rx="0.93" ry="1.13" fill="#d8d8d8"/>
<ellipse cx="262.21" cy="357.57" rx="0.93" ry="1.13" fill="#d8d8d8"/>
<ellipse cx="264.69" cy="362.1" rx="0.93" ry="1.13" fill="#d8d8d8"/>
<ellipse cx="262.21" cy="366.63" rx="0.93" ry="1.13" fill="#d8d8d8"/>
<ellipse cx="263.45" cy="378.71" rx="3.71" ry="9.06" fill="#838383" filter="url(#b1)"/>
<ellipse cx="267.16" cy="366.63" rx="5.57" ry="6.79" fill="#080808" filter="url(#b04)"/>
<ellipse cx="263.45" cy="388.52" rx="11.14" ry="15.1" fill="#707070" filter="url(#b2)"/>
<rect x="220.4" y="342" width="88.6" height="86.3" filter="url(#nz)" opacity="0.3" style="mix-blend-mode:overlay"/>
</g>
<path d="M293.43 379.21 L280.9 373.36 L282.59 369.73 L270 370.7 L277.35 380.97 L279.04 377.35 L291.57 383.19Z" fill="#e0262b" opacity="0.93"/>
<clipPath id="c4"><rect x="23.5" y="444.3" width="97.5" height="74"/></clipPath>
<g clip-path="url(#c4)">
<rect x="23.5" y="444.3" width="97.5" height="74" fill="#363636"/>
<path d="M18.5 498.3 Q70.5 520.3 126 498.3 L126 504.3 Q70.5 526.3 18.5 504.3Z" fill="#4e4e4e"/>
<path d="M18.5 498.3 Q70.5 520.3 126 498.3" fill="none" stroke="#b0b0b0" stroke-width="0.9"/>
<path d="M18.5 503.8 Q70.5 525.8 126 503.8" fill="none" stroke="#9a9a9a" stroke-width="0.9"/>
<ellipse cx="70.5" cy="481.3" rx="42.5" ry="29.3" fill="#d4d4d4" filter="url(#b04)"/>
<ellipse cx="70.5" cy="482.3" rx="39" ry="25.8" fill="#c9c9c9" filter="url(#b1)"/>
<ellipse cx="52.9" cy="484" rx="13" ry="21" fill="#222222" filter="url(#b04)"/>
<ellipse cx="90.7" cy="483.3" rx="12" ry="20.5" fill="#222222" filter="url(#b04)"/>
<ellipse cx="72.5" cy="480" rx="11.5" ry="14.5" fill="#d8d8d8" filter="url(#b04)"/>
<ellipse cx="73.5" cy="479" rx="8.05" ry="10.15" fill="#e4e4e4" filter="url(#b1)"/>
<ellipse cx="57.69" cy="487.68" rx="0.8" ry="0.8" fill="#8a8a8a"/>
<ellipse cx="52.75" cy="493.45" rx="0.8" ry="0.8" fill="#8a8a8a"/>
<ellipse cx="48" cy="487.17" rx="0.8" ry="0.8" fill="#8a8a8a"/>
<ellipse cx="49.5" cy="476.85" rx="0.8" ry="0.8" fill="#8a8a8a"/>
<ellipse cx="55.34" cy="475.65" rx="0.8" ry="0.8" fill="#8a8a8a"/>
<ellipse cx="62.35" cy="487" rx="1.8" ry="1.3" fill="#c0c0c0"/>
<ellipse cx="95.12" cy="486.89" rx="0.8" ry="0.8" fill="#8a8a8a"/>
<ellipse cx="90.56" cy="492.52" rx="0.8" ry="0.8" fill="#8a8a8a"/>
<ellipse cx="86.18" cy="486.39" rx="0.8" ry="0.8" fill="#8a8a8a"/>
<ellipse cx="87.56" cy="476.32" rx="0.8" ry="0.8" fill="#8a8a8a"/>
<ellipse cx="92.95" cy="475.15" rx="0.8" ry="0.8" fill="#8a8a8a"/>
<ellipse cx="81.25" cy="486.3" rx="1.8" ry="1.3" fill="#c0c0c0"/>
<ellipse cx="71.8" cy="502.4" rx="5.1" ry="4.98" fill="#e8e8e8" filter="url(#b04)"/>
<ellipse cx="71.8" cy="497.42" rx="2.55" ry="2.05" fill="#8a8a8a" filter="url(#b04)"/>
<rect x="23.5" y="444.3" width="97.5" height="74" filter="url(#nz)" opacity="0.3" style="mix-blend-mode:overlay"/>
</g>
<path d="M116.03 441.86 L104.51 452.21 L101.84 449.24 L97.8 461.2 L110.13 458.46 L107.45 455.48 L118.97 445.14Z" fill="#e0262b" opacity="0.93"/>
<clipPath id="c5"><rect x="124.2" y="444.3" width="92.1" height="74"/></clipPath>
<g clip-path="url(#c5)">
<rect x="124.2" y="444.3" width="92.1" height="74" fill="#363636"/>
<path d="M119.2 498.3 Q171 520.3 221.3 498.3 L221.3 504.3 Q171 526.3 119.2 504.3Z" fill="#4e4e4e"/>
<path d="M119.2 498.3 Q171 520.3 221.3 498.3" fill="none" stroke="#b0b0b0" stroke-width="0.9"/>
<path d="M119.2 503.8 Q171 525.8 221.3 503.8" fill="none" stroke="#9a9a9a" stroke-width="0.9"/>
<ellipse cx="171" cy="477" rx="46.5" ry="29" fill="#d4d4d4" filter="url(#b04)"/>
<ellipse cx="171" cy="478" rx="43" ry="25.5" fill="#c9c9c9" filter="url(#b1)"/>
<ellipse cx="151.8" cy="479.5" rx="16" ry="21.5" fill="#222222" filter="url(#b04)"/>
<ellipse cx="193.7" cy="480.5" rx="14.3" ry="20.5" fill="#222222" filter="url(#b04)"/>
<ellipse cx="174" cy="476" rx="12.5" ry="14.5" fill="#d8d8d8" filter="url(#b04)"/>
<ellipse cx="175" cy="475" rx="8.75" ry="10.15" fill="#e4e4e4" filter="url(#b1)"/>
<ellipse cx="157.69" cy="483.27" rx="0.8" ry="0.8" fill="#8a8a8a"/>
<ellipse cx="151.61" cy="489.17" rx="0.8" ry="0.8" fill="#8a8a8a"/>
<ellipse cx="145.77" cy="482.74" rx="0.8" ry="0.8" fill="#8a8a8a"/>
<ellipse cx="147.62" cy="472.18" rx="0.8" ry="0.8" fill="#8a8a8a"/>
<ellipse cx="154.8" cy="470.95" rx="0.8" ry="0.8" fill="#8a8a8a"/>
<ellipse cx="162.28" cy="482.5" rx="1.8" ry="1.3" fill="#c0c0c0"/>
<ellipse cx="198.97" cy="484.09" rx="0.8" ry="0.8" fill="#8a8a8a"/>
<ellipse cx="193.53" cy="489.72" rx="0.8" ry="0.8" fill="#8a8a8a"/>
<ellipse cx="188.31" cy="483.59" rx="0.8" ry="0.8" fill="#8a8a8a"/>
<ellipse cx="189.96" cy="473.52" rx="0.8" ry="0.8" fill="#8a8a8a"/>
<ellipse cx="196.38" cy="472.35" rx="0.8" ry="0.8" fill="#8a8a8a"/>
<ellipse cx="183.22" cy="483.5" rx="1.8" ry="1.3" fill="#c0c0c0"/>
<ellipse cx="172.75" cy="497.88" rx="5.58" ry="4.93" fill="#e8e8e8" filter="url(#b04)"/>
<ellipse cx="172.75" cy="492.95" rx="2.79" ry="2.03" fill="#8a8a8a" filter="url(#b04)"/>
<rect x="124.2" y="444.3" width="92.1" height="74" filter="url(#nz)" opacity="0.3" style="mix-blend-mode:overlay"/>
</g>
<path d="M216.54 444.15 L207.59 452.07 L204.94 449.07 L200.8 461 L213.15 458.36 L210.5 455.36 L219.46 447.45Z" fill="#e0262b" opacity="0.93"/>
<clipPath id="c6"><rect x="219.8" y="444.3" width="95.9" height="74"/></clipPath>
<g clip-path="url(#c6)">
<rect x="219.8" y="444.3" width="95.9" height="74" fill="#363636"/>
<path d="M214.8 498.3 Q268.4 520.3 320.7 498.3 L320.7 504.3 Q268.4 526.3 214.8 504.3Z" fill="#4e4e4e"/>
<path d="M214.8 498.3 Q268.4 520.3 320.7 498.3" fill="none" stroke="#b0b0b0" stroke-width="0.9"/>
<path d="M214.8 503.8 Q268.4 525.8 320.7 503.8" fill="none" stroke="#9a9a9a" stroke-width="0.9"/>
<ellipse cx="268.4" cy="477" rx="48.5" ry="29.5" fill="#d4d4d4" filter="url(#b04)"/>
<ellipse cx="268.4" cy="478" rx="45" ry="26" fill="#c9c9c9" filter="url(#b1)"/>
<ellipse cx="248.8" cy="480.5" rx="15" ry="21.5" fill="#222222" filter="url(#b04)"/>
<ellipse cx="289" cy="480" rx="15" ry="21.5" fill="#222222" filter="url(#b04)"/>
<ellipse cx="269.5" cy="475.5" rx="12.5" ry="14.5" fill="#d8d8d8" filter="url(#b04)"/>
<ellipse cx="270.5" cy="474.5" rx="8.75" ry="10.15" fill="#e4e4e4" filter="url(#b1)"/>
<ellipse cx="254.33" cy="484.27" rx="0.8" ry="0.8" fill="#8a8a8a"/>
<ellipse cx="248.62" cy="490.17" rx="0.8" ry="0.8" fill="#8a8a8a"/>
<ellipse cx="243.15" cy="483.74" rx="0.8" ry="0.8" fill="#8a8a8a"/>
<ellipse cx="244.88" cy="473.18" rx="0.8" ry="0.8" fill="#8a8a8a"/>
<ellipse cx="251.61" cy="471.95" rx="0.8" ry="0.8" fill="#8a8a8a"/>
<ellipse cx="258.85" cy="483.5" rx="1.8" ry="1.3" fill="#c0c0c0"/>
<ellipse cx="294.53" cy="483.77" rx="0.8" ry="0.8" fill="#8a8a8a"/>
<ellipse cx="288.82" cy="489.67" rx="0.8" ry="0.8" fill="#8a8a8a"/>
<ellipse cx="283.35" cy="483.24" rx="0.8" ry="0.8" fill="#8a8a8a"/>
<ellipse cx="285.08" cy="472.68" rx="0.8" ry="0.8" fill="#8a8a8a"/>
<ellipse cx="291.81" cy="471.45" rx="0.8" ry="0.8" fill="#8a8a8a"/>
<ellipse cx="278.95" cy="483" rx="1.8" ry="1.3" fill="#c0c0c0"/>
<ellipse cx="268.9" cy="498.24" rx="5.82" ry="5.02" fill="#e8e8e8" filter="url(#b04)"/>
<ellipse cx="268.9" cy="493.23" rx="2.91" ry="2.07" fill="#8a8a8a" filter="url(#b04)"/>
<rect x="219.8" y="444.3" width="95.9" height="74" filter="url(#nz)" opacity="0.3" style="mix-blend-mode:overlay"/>
</g>
<path d="M312.52 442.17 L301.68 451.99 L298.99 449.02 L295 461 L307.32 458.21 L304.63 455.25 L315.48 445.43Z" fill="#e0262b" opacity="0.93"/>
<clipPath id="c7"><rect x="23.8" y="535.6" width="96.5" height="89.9"/></clipPath>
<g clip-path="url(#c7)">
<rect x="23.8" y="535.6" width="96.5" height="89.9" fill="#070707"/>
<path d="M72.85 541.6 C84 541.6 89.58 544.65 95.15 552.28 C104.22 564.49 107.7 573.65 107.7 585.85 C107.7 605.69 92.37 617.9 72.85 617.9 C53.33 617.9 38 605.69 38 585.85 C38 573.65 41.48 564.49 50.55 552.28 C56.12 544.65 61.7 541.6 72.85 541.6Z" fill="#e4e4e4" filter="url(#b04)"/>
<ellipse cx="72.85" cy="595.77" rx="28.93" ry="19.07" fill="#727272" filter="url(#b04)"/>
<ellipse cx="56.82" cy="575.93" rx="13.24" ry="12.97" fill="#737373" filter="url(#b04)"/>
<ellipse cx="89.93" cy="574.41" rx="12.55" ry="12.21" fill="#737373" filter="url(#b04)"/>
<path d="M49.15 587.38 Q62.39 587.38 69.37 579.75" stroke="#e6e6e6" stroke-width="1.6" fill="none"/>
<path d="M97.94 585.85 Q84 585.85 77.03 579.75" stroke="#e6e6e6" stroke-width="1.6" fill="none"/>
<ellipse cx="53.33" cy="559.15" rx="6.27" ry="6.1" fill="#0c0c0c" filter="url(#b04)"/>
<ellipse cx="92.37" cy="559.15" rx="6.27" ry="6.1" fill="#0c0c0c" filter="url(#b04)"/>
<ellipse cx="56.82" cy="549.23" rx="6.97" ry="6.49" fill="#bdbdbd" filter="url(#b04)"/>
<ellipse cx="56.82" cy="549.23" rx="5.79" ry="5.34" fill="#858585" filter="url(#b04)"/>
<ellipse cx="87.49" cy="549.23" rx="6.97" ry="6.49" fill="#bdbdbd" filter="url(#b04)"/>
<ellipse cx="87.49" cy="549.23" rx="5.79" ry="5.34" fill="#858585" filter="url(#b04)"/>
<ellipse cx="71.46" cy="556.86" rx="7.67" ry="15.26" fill="#d6d6d6" filter="url(#b04)"/>
<ellipse cx="67.83" cy="547.7" rx="1.25" ry="0.99" fill="#6a6a6a"/>
<ellipse cx="69.09" cy="550.37" rx="1.25" ry="0.99" fill="#6a6a6a"/>
<ellipse cx="70.34" cy="553.05" rx="1.25" ry="0.99" fill="#6a6a6a"/>
<ellipse cx="71.6" cy="555.72" rx="1.25" ry="0.99" fill="#6a6a6a"/>
<ellipse cx="72.85" cy="558.39" rx="1.25" ry="0.99" fill="#6a6a6a"/>
<ellipse cx="74.1" cy="561.06" rx="1.25" ry="0.99" fill="#6a6a6a"/>
<ellipse cx="75.36" cy="563.73" rx="1.25" ry="0.99" fill="#6a6a6a"/>
<ellipse cx="76.61" cy="566.4" rx="1.25" ry="0.99" fill="#6a6a6a"/>
<ellipse cx="77.87" cy="569.07" rx="1.25" ry="0.99" fill="#6a6a6a"/>
<rect x="23.8" y="535.6" width="96.5" height="89.9" filter="url(#nz)" opacity="0.3" style="mix-blend-mode:overlay"/>
</g>
<path d="M39.63 546.13 L52.2 549.49 L51.17 553.35 L63.4 550.2 L54.37 541.37 L53.34 545.23 L40.77 541.87Z" fill="#e0262b" opacity="0.93"/>
<clipPath id="c8"><rect x="124.8" y="535.6" width="93.7" height="89.9"/></clipPath>
<g clip-path="url(#c8)">
<rect x="124.8" y="535.6" width="93.7" height="89.9" fill="#070707"/>
<path d="M171.55 543.2 C182.67 543.2 188.23 546.09 193.79 553.31 C202.82 564.86 206.3 573.52 206.3 585.08 C206.3 603.85 191.01 615.4 171.55 615.4 C152.09 615.4 136.8 603.85 136.8 585.08 C136.8 573.52 140.28 564.86 149.31 553.31 C154.87 546.09 160.43 543.2 171.55 543.2Z" fill="#e4e4e4" filter="url(#b04)"/>
<ellipse cx="171.55" cy="594.46" rx="28.84" ry="18.05" fill="#727272" filter="url(#b04)"/>
<ellipse cx="155.56" cy="575.69" rx="13.21" ry="12.27" fill="#737373" filter="url(#b04)"/>
<ellipse cx="188.58" cy="574.25" rx="12.51" ry="11.55" fill="#737373" filter="url(#b04)"/>
<path d="M147.92 586.52 Q161.12 586.52 168.08 579.3" stroke="#e6e6e6" stroke-width="1.6" fill="none"/>
<path d="M196.57 585.08 Q182.67 585.08 175.72 579.3" stroke="#e6e6e6" stroke-width="1.6" fill="none"/>
<ellipse cx="152.09" cy="559.81" rx="6.25" ry="5.78" fill="#0c0c0c" filter="url(#b04)"/>
<ellipse cx="191.01" cy="559.81" rx="6.25" ry="5.78" fill="#0c0c0c" filter="url(#b04)"/>
<ellipse cx="155.56" cy="550.42" rx="6.95" ry="6.14" fill="#bdbdbd" filter="url(#b04)"/>
<ellipse cx="155.56" cy="550.42" rx="5.77" ry="5.05" fill="#858585" filter="url(#b04)"/>
<ellipse cx="186.15" cy="550.42" rx="6.95" ry="6.14" fill="#bdbdbd" filter="url(#b04)"/>
<ellipse cx="186.15" cy="550.42" rx="5.77" ry="5.05" fill="#858585" filter="url(#b04)"/>
<ellipse cx="170.16" cy="557.64" rx="7.65" ry="14.44" fill="#d6d6d6" filter="url(#b04)"/>
<ellipse cx="171.55" cy="555.47" rx="4.17" ry="9.39" fill="#121212" filter="url(#b04)"/>
<ellipse cx="168.77" cy="550.42" rx="0.7" ry="3.61" fill="#cfcfcf"/>
<ellipse cx="171.55" cy="554.03" rx="0.7" ry="3.61" fill="#cfcfcf"/>
<ellipse cx="174.33" cy="557.64" rx="0.7" ry="3.61" fill="#cfcfcf"/>
<ellipse cx="175.72" cy="561.97" rx="2.78" ry="2.89" fill="#111"/>
<rect x="124.8" y="535.6" width="93.7" height="89.9" filter="url(#nz)" opacity="0.3" style="mix-blend-mode:overlay"/>
</g>
<path d="M138.52 544.69 L151.86 549.01 L150.63 552.81 L163 550.3 L154.44 541.02 L153.21 544.82 L139.88 540.51Z" fill="#e0262b" opacity="0.93"/>
<clipPath id="c9"><rect x="222.5" y="535.6" width="90.7" height="89.9"/></clipPath>
<g clip-path="url(#c9)">
<rect x="222.5" y="535.6" width="90.7" height="89.9" fill="#070707"/>
<path d="M269.05 536.8 C279.21 536.8 284.29 540.06 289.37 548.22 C297.62 561.28 300.8 571.07 300.8 584.13 C300.8 605.34 286.83 618.4 269.05 618.4 C251.27 618.4 237.3 605.34 237.3 584.13 C237.3 571.07 240.48 561.28 248.73 548.22 C253.81 540.06 258.89 536.8 269.05 536.8Z" fill="#e4e4e4" filter="url(#b04)"/>
<path d="M269.05 553.12 C278.31 553.12 282.95 555.61 287.58 561.84 C295.11 571.8 298 579.28 298 589.24 C298 605.44 285.26 615.4 269.05 615.4 C252.84 615.4 240.1 605.44 240.1 589.24 C240.1 579.28 243 571.8 250.52 561.84 C255.15 555.61 259.79 553.12 269.05 553.12Z" fill="#737373" filter="url(#b04)"/>
<ellipse cx="291.91" cy="582.5" rx="5.71" ry="7.34" fill="#e6e6e6" filter="url(#b04)"/>
<ellipse cx="250" cy="553.12" rx="5.71" ry="5.71" fill="#101010" filter="url(#b04)"/>
<ellipse cx="288.1" cy="553.12" rx="5.71" ry="5.71" fill="#101010" filter="url(#b04)"/>
<ellipse cx="254.45" cy="544.96" rx="6.35" ry="6.94" fill="#bdbdbd" filter="url(#b04)"/>
<ellipse cx="254.45" cy="544.96" rx="5.27" ry="5.71" fill="#858585" filter="url(#b04)"/>
<ellipse cx="282.38" cy="544.96" rx="6.35" ry="6.94" fill="#bdbdbd" filter="url(#b04)"/>
<ellipse cx="282.38" cy="544.96" rx="5.27" ry="5.71" fill="#858585" filter="url(#b04)"/>
<ellipse cx="267.78" cy="553.12" rx="6.99" ry="16.32" fill="#d6d6d6" filter="url(#b04)"/>
<ellipse cx="269.05" cy="550.67" rx="3.81" ry="10.61" fill="#121212" filter="url(#b04)"/>
<ellipse cx="266.51" cy="544.96" rx="0.64" ry="4.08" fill="#cfcfcf"/>
<ellipse cx="269.05" cy="549.04" rx="0.64" ry="4.08" fill="#cfcfcf"/>
<ellipse cx="271.59" cy="553.12" rx="0.64" ry="4.08" fill="#cfcfcf"/>
<ellipse cx="272.86" cy="558.02" rx="2.54" ry="3.26" fill="#111"/>
<rect x="222.5" y="535.6" width="90.7" height="89.9" filter="url(#nz)" opacity="0.3" style="mix-blend-mode:overlay"/>
</g>
<path d="M234.49 540.8 L245.58 545.85 L243.92 549.49 L256.5 548.4 L249.06 538.2 L247.4 541.84 L236.31 536.8Z" fill="#e0262b" opacity="0.93"/>
<text x="15.7" y="385.01" font-size="7.6" text-anchor="middle" fill="#1c1c1c" stroke="#1c1c1c" stroke-width="0.3" transform="rotate(-90 15.7 382.3)">Patient 1#</text>
<text x="15.7" y="477.91" font-size="7.6" text-anchor="middle" fill="#1c1c1c" stroke="#1c1c1c" stroke-width="0.3" transform="rotate(-90 15.7 475.2)">Patient 2#</text>
<text x="15.7" y="581.01" font-size="7.6" text-anchor="middle" fill="#1c1c1c" stroke="#1c1c1c" stroke-width="0.3" transform="rotate(-90 15.7 578.3)">Patient 3#</text>
<text x="324" y="333.6" font-size="14.3" font-weight="bold" fill="#111" stroke="#111" stroke-width="0.18">D</text>
<text x="397" y="339.8" font-size="8.35" text-anchor="middle" fill="#1c1c1c" stroke="#1c1c1c" stroke-width="0.3">Pretreatment</text>
<text x="469.2" y="339.8" font-size="8.35" text-anchor="middle" fill="#1c1c1c" stroke="#1c1c1c" stroke-width="0.3">Posttreatment</text>
<text x="393" y="492.3" font-size="8.35" text-anchor="middle" fill="#1c1c1c" stroke="#1c1c1c" stroke-width="0.3">Pretreatment</text>
<text x="467.6" y="492.3" font-size="8.35" text-anchor="middle" fill="#1c1c1c" stroke="#1c1c1c" stroke-width="0.3">Posttreatment</text>
<rect x="369.6" y="343.6" width="55" height="56.8" fill="#fff"/>
<ellipse cx="392.5" cy="374" rx="6" ry="5.5" fill="url(#rg)" opacity="0.95" transform="rotate(0 392.5 374)"/>
<ellipse cx="386" cy="370" rx="6" ry="4" fill="url(#rg)" opacity="0.35" transform="rotate(-35 386 370)"/>
<ellipse cx="409" cy="363.4" rx="3.6" ry="2.1" fill="url(#rg)" opacity="0.8" transform="rotate(-25 409 363.4)"/>
<ellipse cx="408.6" cy="378" rx="5.8" ry="2.6" fill="url(#rg)" opacity="0.95" transform="rotate(-35 408.6 378)"/>
<path d="M392.0 375.0h.7v.7h-.7zM392.2 378.7h.7v.7h-.7zM392.4 370.7h.7v.7h-.7zM385.3 369.5h.7v.7h-.7zM392.5 373.3h.7v.7h-.7zM386.6 372.3h.7v.7h-.7zM391.9 377.1h.7v.7h-.7zM387.7 374.3h.7v.7h-.7zM389.8 381.0h.7v.7h-.7zM391.3 376.4h.7v.7h-.7zM392.7 372.4h.7v.7h-.7zM395.1 378.0h.7v.7h-.7zM390.4 373.7h.7v.7h-.7zM391.1 379.3h.7v.7h-.7zM391.3 370.1h.7v.7h-.7zM391.9 376.3h.7v.7h-.7zM387.5 375.2h.7v.7h-.7zM392.6 381.9h.7v.7h-.7zM391.4 373.3h.7v.7h-.7zM392.1 370.3h.7v.7h-.7zM392.3 371.9h.7v.7h-.7zM384.6 377.0h.7v.7h-.7zM392.5 368.6h.7v.7h-.7zM391.4 370.6h.7v.7h-.7zM389.8 369.5h.7v.7h-.7zM389.6 372.9h.7v.7h-.7zM387.2 371.2h.7v.7h-.7zM396.9 368.9h.7v.7h-.7zM391.9 374.3h.7v.7h-.7zM388.1 369.7h.7v.7h-.7zM390.5 372.2h.7v.7h-.7zM396.1 376.4h.7v.7h-.7zM395.4 373.5h.7v.7h-.7zM390.4 379.3h.7v.7h-.7zM398.6 379.2h.7v.7h-.7zM392.0 376.9h.7v.7h-.7zM391.1 374.1h.7v.7h-.7zM386.2 375.8h.7v.7h-.7zM388.5 370.9h.7v.7h-.7zM399.1 369.1h.7v.7h-.7zM390.4 376.6h.7v.7h-.7zM391.9 366.3h.7v.7h-.7zM396.7 374.2h.7v.7h-.7zM392.2 373.8h.7v.7h-.7zM388.3 375.8h.7v.7h-.7zM392.0 369.4h.7v.7h-.7zM393.3 364.9h.7v.7h-.7zM391.1 373.4h.7v.7h-.7zM390.1 372.6h.7v.7h-.7zM394.3 374.4h.7v.7h-.7zM397.3 375.9h.7v.7h-.7zM393.8 374.2h.7v.7h-.7zM390.6 373.2h.7v.7h-.7zM389.0 377.1h.7v.7h-.7zM389.9 374.7h.7v.7h-.7zM391.1 373.3h.7v.7h-.7zM396.5 370.8h.7v.7h-.7zM398.8 373.3h.7v.7h-.7zM395.4 370.7h.7v.7h-.7zM392.8 375.0h.7v.7h-.7zM393.8 380.5h.7v.7h-.7zM385.2 369.1h.7v.7h-.7zM390.7 371.6h.7v.7h-.7zM387.9 373.8h.7v.7h-.7zM395.9 377.7h.7v.7h-.7zM390.6 372.8h.7v.7h-.7zM392.8 377.5h.7v.7h-.7zM390.7 377.6h.7v.7h-.7zM393.6 367.4h.7v.7h-.7zM391.0 370.1h.7v.7h-.7zM392.6 368.2h.7v.7h-.7zM393.2 370.3h.7v.7h-.7zM389.1 372.9h.7v.7h-.7zM386.6 374.0h.7v.7h-.7zM397.2 371.3h.7v.7h-.7zM391.5 376.1h.7v.7h-.7zM395.4 370.8h.7v.7h-.7zM385.7 373.8h.7v.7h-.7zM388.0 375.3h.7v.7h-.7zM393.5 370.6h.7v.7h-.7zM392.9 373.9h.7v.7h-.7zM386.5 370.5h.7v.7h-.7zM387.1 372.8h.7v.7h-.7zM395.6 370.2h.7v.7h-.7zM394.9 372.6h.7v.7h-.7zM391.7 373.7h.7v.7h-.7zM398.5 373.5h.7v.7h-.7zM391.7 373.0h.7v.7h-.7zM395.0 377.2h.7v.7h-.7zM394.4 385.0h.7v.7h-.7zM385.9 377.1h.7v.7h-.7zM390.8 376.2h.7v.7h-.7zM389.6 376.0h.7v.7h-.7zM383.8 377.0h.7v.7h-.7zM392.1 369.6h.7v.7h-.7zM391.9 389.7h.7v.7h-.7zM396.9 381.7h.7v.7h-.7zM378.4 367.6h.7v.7h-.7zM384.3 375.2h.7v.7h-.7zM379.3 378.1h.7v.7h-.7zM393.8 388.7h.7v.7h-.7zM394.0 376.8h.7v.7h-.7zM390.5 380.3h.7v.7h-.7zM376.1 380.2h.7v.7h-.7zM390.2 379.9h.7v.7h-.7zM380.3 381.4h.7v.7h-.7zM384.9 381.4h.7v.7h-.7zM397.0 374.4h.7v.7h-.7zM382.2 370.2h.7v.7h-.7zM388.2 383.8h.7v.7h-.7zM384.5 369.2h.7v.7h-.7zM378.9 367.8h.7v.7h-.7zM402.2 380.3h.7v.7h-.7zM384.9 372.1h.7v.7h-.7zM380.7 370.5h.7v.7h-.7zM400.3 381.7h.7v.7h-.7zM374.5 381.5h.7v.7h-.7zM385.3 371.1h.7v.7h-.7zM386.3 379.9h.7v.7h-.7zM392.6 379.8h.7v.7h-.7zM381.0 380.2h.7v.7h-.7zM395.9 381.7h.7v.7h-.7zM385.8 374.9h.7v.7h-.7zM396.6 386.4h.7v.7h-.7zM387.6 377.0h.7v.7h-.7zM394.7 381.6h.7v.7h-.7zM387.6 368.4h.7v.7h-.7zM381.0 365.4h.7v.7h-.7zM393.0 378.6h.7v.7h-.7zM384.0 371.6h.7v.7h-.7zM395.3 372.9h.7v.7h-.7zM394.5 371.8h.7v.7h-.7zM398.8 372.5h.7v.7h-.7zM383.3 373.6h.7v.7h-.7zM395.9 384.5h.7v.7h-.7zM391.4 371.4h.7v.7h-.7zM389.1 373.8h.7v.7h-.7zM376.7 358.3h.7v.7h-.7zM389.9 379.6h.7v.7h-.7zM396.9 383.4h.7v.7h-.7zM380.2 374.8h.7v.7h-.7zM396.9 380.3h.7v.7h-.7zM384.2 369.2h.7v.7h-.7zM386.1 378.8h.7v.7h-.7zM386.5 377.4h.7v.7h-.7zM373.4 380.8h.7v.7h-.7zM392.7 381.8h.7v.7h-.7zM388.1 379.1h.7v.7h-.7zM393.5 381.5h.7v.7h-.7zM371.0 380.2h.7v.7h-.7zM380.0 382.8h.7v.7h-.7zM388.7 373.2h.7v.7h-.7zM398.8 371.1h.7v.7h-.7zM383.0 369.3h.7v.7h-.7zM382.9 367.6h.7v.7h-.7zM385.2 382.9h.7v.7h-.7zM389.2 382.1h.7v.7h-.7zM389.2 374.5h.7v.7h-.7zM377.8 372.7h.7v.7h-.7zM402.0 384.0h.7v.7h-.7zM381.7 377.1h.7v.7h-.7zM388.9 386.8h.7v.7h-.7zM398.6 375.7h.7v.7h-.7zM381.0 371.2h.7v.7h-.7zM389.0 377.7h.7v.7h-.7zM387.8 371.0h.7v.7h-.7zM377.5 382.3h.7v.7h-.7zM386.4 376.9h.7v.7h-.7zM387.9 371.9h.7v.7h-.7zM401.3 382.5h.7v.7h-.7zM389.0 367.6h.7v.7h-.7zM376.3 367.9h.7v.7h-.7zM382.5 372.1h.7v.7h-.7zM392.3 375.7h.7v.7h-.7zM385.1 365.9h.7v.7h-.7zM387.2 384.6h.7v.7h-.7zM400.2 371.7h.7v.7h-.7zM385.1 365.6h.7v.7h-.7zM394.3 371.0h.7v.7h-.7zM387.6 379.0h.7v.7h-.7zM390.0 374.0h.7v.7h-.7zM381.1 374.0h.7v.7h-.7zM374.9 385.7h.7v.7h-.7zM390.5 375.9h.7v.7h-.7zM391.0 373.6h.7v.7h-.7zM384.7 375.2h.7v.7h-.7zM379.3 369.6h.7v.7h-.7zM386.3 385.8h.7v.7h-.7zM382.8 381.6h.7v.7h-.7zM385.2 375.2h.7v.7h-.7zM382.4 377.6h.7v.7h-.7zM386.9 377.7h.7v.7h-.7zM380.2 378.9h.7v.7h-.7zM383.8 374.2h.7v.7h-.7zM391.4 379.3h.7v.7h-.7zM388.0 379.8h.7v.7h-.7zM395.2 369.7h.7v.7h-.7zM379.7 377.1h.7v.7h-.7zM379.8 368.6h.7v.7h-.7zM391.5 378.5h.7v.7h-.7zM381.7 371.1h.7v.7h-.7zM376.3 380.8h.7v.7h-.7zM388.4 389.2h.7v.7h-.7zM391.8 376.2h.7v.7h-.7zM375.2 375.1h.7v.7h-.7zM386.8 373.6h.7v.7h-.7zM382.3 374.1h.7v.7h-.7zM392.7 378.9h.7v.7h-.7zM385.0 391.8h.7v.7h-.7zM387.7 384.3h.7v.7h-.7zM389.2 381.9h.7v.7h-.7zM387.8 376.8h.7v.7h-.7zM392.6 378.2h.7v.7h-.7zM374.7 377.3h.7v.7h-.7zM381.5 364.5h.7v.7h-.7zM388.4 376.7h.7v.7h-.7zM385.0 360.9h.7v.7h-.7zM384.1 380.5h.7v.7h-.7zM396.7 365.3h.7v.7h-.7zM391.4 369.7h.7v.7h-.7zM392.5 389.8h.7v.7h-.7zM394.8 383.1h.7v.7h-.7zM396.6 376.0h.7v.7h-.7zM397.4 372.1h.7v.7h-.7zM381.9 359.5h.7v.7h-.7zM373.2 355.2h.7v.7h-.7zM400.1 376.3h.7v.7h-.7zM388.6 357.5h.7v.7h-.7zM383.8 375.6h.7v.7h-.7zM376.7 363.0h.7v.7h-.7zM374.9 351.7h.7v.7h-.7zM409.8 379.5h.7v.7h-.7zM379.9 375.8h.7v.7h-.7zM393.1 366.2h.7v.7h-.7zM397.2 371.8h.7v.7h-.7zM384.0 376.2h.7v.7h-.7zM395.9 365.4h.7v.7h-.7zM382.2 371.3h.7v.7h-.7zM381.1 379.3h.7v.7h-.7zM392.3 378.8h.7v.7h-.7zM380.4 367.4h.7v.7h-.7zM388.8 385.7h.7v.7h-.7zM390.0 370.4h.7v.7h-.7zM390.8 378.3h.7v.7h-.7zM395.8 372.6h.7v.7h-.7zM389.0 372.2h.7v.7h-.7zM372.1 370.5h.7v.7h-.7zM378.0 357.0h.7v.7h-.7zM385.5 371.8h.7v.7h-.7zM383.2 373.2h.7v.7h-.7zM382.6 366.5h.7v.7h-.7zM388.5 369.6h.7v.7h-.7zM383.8 357.2h.7v.7h-.7zM395.6 376.5h.7v.7h-.7zM376.9 376.2h.7v.7h-.7zM377.5 362.5h.7v.7h-.7zM390.2 364.7h.7v.7h-.7zM390.2 375.5h.7v.7h-.7zM376.4 372.6h.7v.7h-.7zM385.7 362.8h.7v.7h-.7zM389.3 370.2h.7v.7h-.7zM412.3 363.0h.7v.7h-.7zM410.8 364.1h.7v.7h-.7zM414.5 360.4h.7v.7h-.7zM407.9 362.9h.7v.7h-.7zM404.8 365.5h.7v.7h-.7zM406.4 363.6h.7v.7h-.7zM411.4 361.6h.7v.7h-.7zM410.4 362.8h.7v.7h-.7zM405.4 365.2h.7v.7h-.7zM408.8 361.1h.7v.7h-.7zM409.7 363.7h.7v.7h-.7zM409.8 362.6h.7v.7h-.7zM405.4 365.8h.7v.7h-.7zM412.2 361.8h.7v.7h-.7zM407.2 362.6h.7v.7h-.7zM411.6 362.5h.7v.7h-.7zM411.5 363.0h.7v.7h-.7zM408.5 364.9h.7v.7h-.7zM405.8 364.6h.7v.7h-.7zM410.0 364.0h.7v.7h-.7zM414.6 361.2h.7v.7h-.7zM407.0 363.5h.7v.7h-.7zM406.6 363.4h.7v.7h-.7zM409.3 362.2h.7v.7h-.7zM406.4 365.8h.7v.7h-.7zM412.0 360.7h.7v.7h-.7zM411.0 363.6h.7v.7h-.7zM405.3 364.4h.7v.7h-.7zM409.7 362.4h.7v.7h-.7zM413.2 362.3h.7v.7h-.7zM411.8 363.5h.7v.7h-.7zM409.3 361.8h.7v.7h-.7zM415.2 362.0h.7v.7h-.7zM413.7 363.8h.7v.7h-.7zM410.6 364.0h.7v.7h-.7zM404.2 365.7h.7v.7h-.7zM405.5 378.3h.7v.7h-.7zM408.0 378.3h.7v.7h-.7zM409.9 377.1h.7v.7h-.7zM410.4 375.8h.7v.7h-.7zM405.2 380.7h.7v.7h-.7zM407.9 379.5h.7v.7h-.7zM407.0 379.2h.7v.7h-.7zM402.3 380.9h.7v.7h-.7zM409.2 376.4h.7v.7h-.7zM404.9 378.8h.7v.7h-.7zM406.6 379.3h.7v.7h-.7zM406.7 379.5h.7v.7h-.7zM405.5 380.9h.7v.7h-.7zM408.9 377.9h.7v.7h-.7zM407.0 377.9h.7v.7h-.7zM411.6 378.6h.7v.7h-.7zM407.4 378.5h.7v.7h-.7zM400.7 380.9h.7v.7h-.7zM409.2 378.7h.7v.7h-.7zM408.1 378.2h.7v.7h-.7zM407.3 380.1h.7v.7h-.7zM411.9 376.2h.7v.7h-.7zM407.2 378.4h.7v.7h-.7zM405.6 380.7h.7v.7h-.7zM410.8 375.8h.7v.7h-.7zM412.7 374.8h.7v.7h-.7zM405.6 379.1h.7v.7h-.7zM412.5 376.1h.7v.7h-.7zM410.5 377.0h.7v.7h-.7zM407.4 376.5h.7v.7h-.7zM410.0 377.7h.7v.7h-.7zM409.8 376.0h.7v.7h-.7zM405.9 378.9h.7v.7h-.7zM407.1 377.0h.7v.7h-.7zM403.9 379.6h.7v.7h-.7zM405.8 380.7h.7v.7h-.7zM417.4 374.6h.7v.7h-.7zM411.3 376.8h.7v.7h-.7zM410.9 378.6h.7v.7h-.7zM403.4 380.5h.7v.7h-.7zM410.0 377.8h.7v.7h-.7zM410.8 375.8h.7v.7h-.7zM410.6 376.0h.7v.7h-.7zM406.3 378.7h.7v.7h-.7zM410.1 378.3h.7v.7h-.7zM413.9 377.6h.7v.7h-.7zM401.6 381.0h.7v.7h-.7zM405.1 380.2h.7v.7h-.7zM403.7 378.9h.7v.7h-.7zM409.6 378.0h.7v.7h-.7zM407.1 377.1h.7v.7h-.7zM405.0 376.9h.7v.7h-.7zM410.5 377.2h.7v.7h-.7zM412.8 377.6h.7v.7h-.7zM411.7 375.8h.7v.7h-.7zM407.2 379.3h.7v.7h-.7zM405.8 379.9h.7v.7h-.7zM409.2 376.7h.7v.7h-.7zM414.4 376.6h.7v.7h-.7zM412.4 375.6h.7v.7h-.7zM411.9 376.6h.7v.7h-.7zM413.0 374.2h.7v.7h-.7zM408.8 379.3h.7v.7h-.7zM411.8 375.3h.7v.7h-.7z" fill="#000" fill-opacity="0.3"/>
<path d="M391.0 370.9h.7v.7h-.7zM390.3 371.8h.7v.7h-.7zM391.9 376.4h.7v.7h-.7zM385.6 373.2h.7v.7h-.7zM383.2 372.1h.7v.7h-.7zM388.6 371.2h.7v.7h-.7zM390.0 373.6h.7v.7h-.7zM396.8 368.6h.7v.7h-.7zM394.7 369.8h.7v.7h-.7zM391.8 376.3h.7v.7h-.7zM392.4 369.8h.7v.7h-.7zM387.4 371.2h.7v.7h-.7zM396.4 376.4h.7v.7h-.7zM390.5 372.9h.7v.7h-.7zM392.0 372.4h.7v.7h-.7zM390.8 377.7h.7v.7h-.7zM386.1 366.9h.7v.7h-.7zM389.1 371.8h.7v.7h-.7zM394.5 375.8h.7v.7h-.7zM392.9 371.0h.7v.7h-.7zM391.6 367.0h.7v.7h-.7zM385.9 376.6h.7v.7h-.7zM396.4 379.0h.7v.7h-.7zM395.8 372.1h.7v.7h-.7zM396.4 373.5h.7v.7h-.7zM390.0 374.0h.7v.7h-.7zM397.8 371.7h.7v.7h-.7zM391.3 371.8h.7v.7h-.7zM389.4 375.6h.7v.7h-.7zM396.7 372.2h.7v.7h-.7zM394.2 372.9h.7v.7h-.7zM393.3 372.0h.7v.7h-.7zM393.9 376.7h.7v.7h-.7zM387.6 377.0h.7v.7h-.7zM388.0 368.1h.7v.7h-.7zM386.2 366.6h.7v.7h-.7zM389.0 368.7h.7v.7h-.7zM391.8 375.4h.7v.7h-.7zM392.7 371.3h.7v.7h-.7zM395.1 373.7h.7v.7h-.7zM391.7 374.3h.7v.7h-.7zM389.6 367.1h.7v.7h-.7zM387.9 370.7h.7v.7h-.7zM392.1 376.8h.7v.7h-.7zM389.6 377.8h.7v.7h-.7zM398.0 379.1h.7v.7h-.7zM392.9 373.8h.7v.7h-.7zM396.2 375.2h.7v.7h-.7zM385.6 379.5h.7v.7h-.7zM392.8 373.1h.7v.7h-.7zM391.8 372.0h.7v.7h-.7zM390.8 370.1h.7v.7h-.7zM391.2 374.4h.7v.7h-.7zM389.3 376.0h.7v.7h-.7zM392.0 370.5h.7v.7h-.7zM388.3 375.1h.7v.7h-.7zM395.8 379.3h.7v.7h-.7zM389.9 369.3h.7v.7h-.7zM389.0 372.2h.7v.7h-.7zM391.0 373.9h.7v.7h-.7zM394.1 374.2h.7v.7h-.7zM395.0 376.5h.7v.7h-.7zM394.2 381.9h.7v.7h-.7zM391.4 370.0h.7v.7h-.7zM395.8 372.3h.7v.7h-.7zM387.5 368.9h.7v.7h-.7zM385.9 371.3h.7v.7h-.7zM392.7 369.8h.7v.7h-.7zM396.7 376.1h.7v.7h-.7zM400.9 373.4h.7v.7h-.7zM390.7 377.4h.7v.7h-.7zM390.2 372.4h.7v.7h-.7zM388.4 369.5h.7v.7h-.7zM389.7 370.6h.7v.7h-.7zM393.4 373.2h.7v.7h-.7zM391.8 370.2h.7v.7h-.7zM391.9 368.0h.7v.7h-.7zM395.9 368.7h.7v.7h-.7zM389.2 371.5h.7v.7h-.7zM387.8 367.6h.7v.7h-.7zM392.6 374.2h.7v.7h-.7zM387.3 376.6h.7v.7h-.7zM396.9 364.1h.7v.7h-.7zM391.0 368.7h.7v.7h-.7zM389.0 367.4h.7v.7h-.7zM388.1 373.8h.7v.7h-.7zM389.3 373.8h.7v.7h-.7zM384.0 373.1h.7v.7h-.7zM390.6 376.1h.7v.7h-.7zM397.1 382.0h.7v.7h-.7zM389.6 376.1h.7v.7h-.7zM391.5 371.5h.7v.7h-.7zM390.8 367.0h.7v.7h-.7zM391.8 379.6h.7v.7h-.7zM379.1 378.8h.7v.7h-.7zM398.3 367.3h.7v.7h-.7zM381.4 368.3h.7v.7h-.7zM393.6 373.1h.7v.7h-.7zM384.6 368.2h.7v.7h-.7zM386.0 373.5h.7v.7h-.7zM386.0 378.6h.7v.7h-.7zM401.1 388.3h.7v.7h-.7zM394.2 361.3h.7v.7h-.7zM379.3 371.9h.7v.7h-.7zM373.8 380.0h.7v.7h-.7zM381.1 383.3h.7v.7h-.7zM387.4 364.8h.7v.7h-.7zM379.1 373.2h.7v.7h-.7zM384.6 367.0h.7v.7h-.7zM389.4 371.7h.7v.7h-.7zM384.5 384.5h.7v.7h-.7zM392.0 383.0h.7v.7h-.7zM386.4 370.1h.7v.7h-.7zM387.9 370.5h.7v.7h-.7zM392.6 379.7h.7v.7h-.7zM378.6 389.6h.7v.7h-.7zM389.8 376.8h.7v.7h-.7zM381.0 376.6h.7v.7h-.7zM384.6 371.7h.7v.7h-.7zM391.8 379.0h.7v.7h-.7zM375.7 365.9h.7v.7h-.7zM394.8 368.3h.7v.7h-.7zM389.1 378.5h.7v.7h-.7zM376.6 372.5h.7v.7h-.7zM388.3 379.0h.7v.7h-.7zM374.4 363.8h.7v.7h-.7zM384.4 382.0h.7v.7h-.7zM388.7 374.4h.7v.7h-.7zM380.7 375.8h.7v.7h-.7zM388.5 383.0h.7v.7h-.7zM389.1 382.2h.7v.7h-.7zM395.1 377.5h.7v.7h-.7zM383.5 372.6h.7v.7h-.7zM378.3 371.8h.7v.7h-.7zM387.6 379.3h.7v.7h-.7zM397.8 385.5h.7v.7h-.7zM386.9 370.9h.7v.7h-.7zM393.1 376.1h.7v.7h-.7zM396.5 378.6h.7v.7h-.7zM386.9 375.4h.7v.7h-.7zM391.1 373.8h.7v.7h-.7zM377.9 369.7h.7v.7h-.7zM377.6 388.2h.7v.7h-.7zM382.2 368.1h.7v.7h-.7zM378.3 370.9h.7v.7h-.7zM381.6 373.7h.7v.7h-.7zM381.3 377.5h.7v.7h-.7zM392.5 373.0h.7v.7h-.7zM387.7 368.8h.7v.7h-.7zM376.5 364.7h.7v.7h-.7zM390.1 388.8h.7v.7h-.7zM382.4 378.5h.7v.7h-.7zM379.0 374.8h.7v.7h-.7zM391.8 380.2h.7v.7h-.7zM388.0 388.4h.7v.7h-.7zM382.0 368.5h.7v.7h-.7zM389.4 375.0h.7v.7h-.7zM384.8 384.0h.7v.7h-.7zM377.6 360.8h.7v.7h-.7zM380.0 376.5h.7v.7h-.7zM383.2 381.7h.7v.7h-.7zM392.0 374.6h.7v.7h-.7zM385.1 379.2h.7v.7h-.7zM385.2 379.9h.7v.7h-.7zM390.3 372.8h.7v.7h-.7zM383.4 376.6h.7v.7h-.7zM384.3 368.8h.7v.7h-.7zM396.1 371.1h.7v.7h-.7zM391.9 380.1h.7v.7h-.7zM402.5 384.5h.7v.7h-.7zM386.6 374.0h.7v.7h-.7zM390.3 372.3h.7v.7h-.7zM385.4 359.0h.7v.7h-.7zM394.2 372.8h.7v.7h-.7zM393.6 380.3h.7v.7h-.7zM383.7 370.6h.7v.7h-.7zM385.4 370.2h.7v.7h-.7zM377.3 376.9h.7v.7h-.7zM388.7 358.7h.7v.7h-.7zM386.4 374.6h.7v.7h-.7zM385.3 377.2h.7v.7h-.7zM382.4 389.3h.7v.7h-.7zM381.7 373.5h.7v.7h-.7zM384.4 371.1h.7v.7h-.7zM383.7 382.3h.7v.7h-.7zM389.0 376.4h.7v.7h-.7zM393.3 379.2h.7v.7h-.7zM400.8 372.0h.7v.7h-.7zM388.9 367.8h.7v.7h-.7zM370.9 381.2h.7v.7h-.7zM394.8 376.1h.7v.7h-.7zM377.3 360.3h.7v.7h-.7zM393.2 376.4h.7v.7h-.7zM394.3 381.2h.7v.7h-.7zM402.0 382.5h.7v.7h-.7zM392.5 375.8h.7v.7h-.7zM391.4 374.3h.7v.7h-.7zM386.0 383.6h.7v.7h-.7zM384.6 381.4h.7v.7h-.7zM400.5 383.1h.7v.7h-.7zM391.5 374.6h.7v.7h-.7zM393.4 371.0h.7v.7h-.7zM392.0 369.4h.7v.7h-.7zM387.7 380.1h.7v.7h-.7zM376.6 372.1h.7v.7h-.7zM383.3 370.4h.7v.7h-.7zM377.4 376.2h.7v.7h-.7zM391.7 383.4h.7v.7h-.7zM394.7 374.4h.7v.7h-.7zM393.6 375.9h.7v.7h-.7zM375.8 389.2h.7v.7h-.7zM379.2 376.6h.7v.7h-.7zM381.7 376.5h.7v.7h-.7zM392.2 369.9h.7v.7h-.7zM377.6 372.5h.7v.7h-.7zM385.8 377.2h.7v.7h-.7zM389.3 371.8h.7v.7h-.7zM391.4 390.6h.7v.7h-.7zM390.4 382.2h.7v.7h-.7zM371.4 376.4h.7v.7h-.7zM377.6 372.1h.7v.7h-.7zM381.8 379.1h.7v.7h-.7zM389.6 373.7h.7v.7h-.7zM401.4 377.8h.7v.7h-.7zM387.1 384.6h.7v.7h-.7zM399.9 373.1h.7v.7h-.7zM378.2 368.4h.7v.7h-.7zM385.6 374.3h.7v.7h-.7zM382.5 347.8h.7v.7h-.7zM391.2 381.9h.7v.7h-.7zM373.0 357.8h.7v.7h-.7zM388.7 364.8h.7v.7h-.7zM392.6 374.6h.7v.7h-.7zM376.7 376.4h.7v.7h-.7zM388.1 386.2h.7v.7h-.7zM381.5 369.0h.7v.7h-.7zM394.8 367.0h.7v.7h-.7zM399.7 377.4h.7v.7h-.7zM390.1 388.5h.7v.7h-.7zM386.2 372.1h.7v.7h-.7zM375.3 361.0h.7v.7h-.7zM390.0 379.7h.7v.7h-.7zM385.4 377.2h.7v.7h-.7zM381.2 375.4h.7v.7h-.7zM394.6 376.0h.7v.7h-.7zM387.1 386.9h.7v.7h-.7zM383.7 375.2h.7v.7h-.7zM385.7 362.8h.7v.7h-.7zM387.9 359.9h.7v.7h-.7zM389.5 359.0h.7v.7h-.7zM379.5 353.6h.7v.7h-.7zM386.1 367.0h.7v.7h-.7zM380.1 364.2h.7v.7h-.7zM377.8 352.5h.7v.7h-.7zM386.5 363.3h.7v.7h-.7zM385.1 369.1h.7v.7h-.7zM385.5 377.2h.7v.7h-.7zM404.4 377.4h.7v.7h-.7zM379.7 364.9h.7v.7h-.7zM385.2 368.7h.7v.7h-.7zM413.2 361.5h.7v.7h-.7zM412.1 362.0h.7v.7h-.7zM409.9 362.8h.7v.7h-.7zM411.2 361.4h.7v.7h-.7zM408.8 364.0h.7v.7h-.7zM410.7 362.8h.7v.7h-.7zM410.0 364.4h.7v.7h-.7zM411.2 365.1h.7v.7h-.7zM407.4 364.3h.7v.7h-.7zM406.9 362.7h.7v.7h-.7zM406.6 364.0h.7v.7h-.7zM411.9 361.3h.7v.7h-.7zM411.1 362.6h.7v.7h-.7zM410.5 363.8h.7v.7h-.7zM409.6 362.7h.7v.7h-.7zM410.5 362.4h.7v.7h-.7zM407.7 364.6h.7v.7h-.7zM414.7 362.7h.7v.7h-.7zM408.5 364.9h.7v.7h-.7zM405.4 365.1h.7v.7h-.7zM412.6 362.8h.7v.7h-.7zM407.0 363.4h.7v.7h-.7zM406.1 362.6h.7v.7h-.7zM411.4 365.1h.7v.7h-.7zM406.6 366.4h.7v.7h-.7zM407.3 365.5h.7v.7h-.7zM406.2 363.8h.7v.7h-.7zM404.6 365.8h.7v.7h-.7zM411.4 363.7h.7v.7h-.7zM408.3 363.9h.7v.7h-.7zM406.9 364.8h.7v.7h-.7zM410.9 360.3h.7v.7h-.7zM412.0 361.0h.7v.7h-.7zM411.6 361.3h.7v.7h-.7zM411.3 362.9h.7v.7h-.7zM411.3 363.9h.7v.7h-.7zM409.6 365.8h.7v.7h-.7zM405.0 380.9h.7v.7h-.7zM412.3 376.8h.7v.7h-.7zM407.0 377.5h.7v.7h-.7zM413.0 376.3h.7v.7h-.7zM402.9 380.4h.7v.7h-.7zM409.0 379.0h.7v.7h-.7zM407.9 378.6h.7v.7h-.7zM405.0 379.6h.7v.7h-.7zM411.0 376.5h.7v.7h-.7zM407.6 379.2h.7v.7h-.7zM412.2 376.2h.7v.7h-.7zM409.6 376.2h.7v.7h-.7zM410.8 377.8h.7v.7h-.7zM404.7 380.0h.7v.7h-.7zM410.4 377.1h.7v.7h-.7zM404.0 380.6h.7v.7h-.7zM407.6 378.8h.7v.7h-.7zM405.7 378.4h.7v.7h-.7zM403.7 379.2h.7v.7h-.7zM409.6 376.8h.7v.7h-.7zM415.5 374.6h.7v.7h-.7zM412.6 376.8h.7v.7h-.7zM414.4 375.8h.7v.7h-.7zM412.2 375.5h.7v.7h-.7zM410.7 376.5h.7v.7h-.7zM405.1 379.0h.7v.7h-.7zM408.1 377.4h.7v.7h-.7zM406.2 379.6h.7v.7h-.7zM413.3 376.0h.7v.7h-.7zM411.0 376.9h.7v.7h-.7zM408.8 377.0h.7v.7h-.7zM411.7 377.2h.7v.7h-.7zM407.3 377.5h.7v.7h-.7zM412.7 377.0h.7v.7h-.7zM409.3 377.7h.7v.7h-.7zM412.2 374.9h.7v.7h-.7zM407.9 377.9h.7v.7h-.7zM412.0 375.6h.7v.7h-.7zM405.8 380.1h.7v.7h-.7zM401.6 380.4h.7v.7h-.7zM403.1 379.9h.7v.7h-.7zM407.7 376.7h.7v.7h-.7zM414.3 377.2h.7v.7h-.7zM413.1 376.9h.7v.7h-.7zM408.2 380.2h.7v.7h-.7zM410.3 374.9h.7v.7h-.7zM408.9 378.5h.7v.7h-.7zM409.7 377.6h.7v.7h-.7zM404.8 380.8h.7v.7h-.7zM406.1 379.5h.7v.7h-.7zM405.9 379.4h.7v.7h-.7zM407.9 376.9h.7v.7h-.7zM409.6 377.9h.7v.7h-.7zM412.0 376.6h.7v.7h-.7zM410.2 377.2h.7v.7h-.7zM406.8 379.3h.7v.7h-.7zM401.4 379.5h.7v.7h-.7zM415.1 374.5h.7v.7h-.7zM407.5 378.3h.7v.7h-.7zM408.5 377.9h.7v.7h-.7zM402.2 381.7h.7v.7h-.7zM405.7 378.6h.7v.7h-.7zM410.9 376.5h.7v.7h-.7z" fill="#000" fill-opacity="0.3"/>
<path d="M390.4 370.5h.7v.7h-.7zM393.7 375.2h.7v.7h-.7zM387.3 372.4h.7v.7h-.7zM387.6 374.9h.7v.7h-.7zM391.8 374.4h.7v.7h-.7zM395.7 371.2h.7v.7h-.7zM392.4 374.2h.7v.7h-.7zM395.0 374.4h.7v.7h-.7zM392.3 376.0h.7v.7h-.7zM397.0 371.6h.7v.7h-.7zM390.0 373.3h.7v.7h-.7zM394.3 367.0h.7v.7h-.7zM390.9 372.7h.7v.7h-.7zM393.2 373.6h.7v.7h-.7zM396.1 376.3h.7v.7h-.7zM392.0 376.0h.7v.7h-.7zM390.9 370.9h.7v.7h-.7zM392.7 375.7h.7v.7h-.7zM388.4 373.7h.7v.7h-.7zM395.4 374.7h.7v.7h-.7zM388.0 375.3h.7v.7h-.7zM389.0 376.7h.7v.7h-.7zM391.8 373.0h.7v.7h-.7zM391.8 371.2h.7v.7h-.7zM395.4 374.0h.7v.7h-.7zM390.7 373.0h.7v.7h-.7zM388.3 375.2h.7v.7h-.7zM385.8 376.6h.7v.7h-.7zM390.1 373.5h.7v.7h-.7zM393.0 373.9h.7v.7h-.7zM391.5 374.1h.7v.7h-.7zM387.2 377.3h.7v.7h-.7zM394.9 377.2h.7v.7h-.7zM393.7 377.1h.7v.7h-.7zM394.9 370.4h.7v.7h-.7zM392.9 374.2h.7v.7h-.7zM391.4 370.6h.7v.7h-.7zM388.5 371.7h.7v.7h-.7zM393.2 375.2h.7v.7h-.7zM392.0 368.9h.7v.7h-.7zM391.0 378.0h.7v.7h-.7zM380.6 372.1h.7v.7h-.7zM396.0 374.6h.7v.7h-.7zM393.9 374.8h.7v.7h-.7zM387.6 373.5h.7v.7h-.7zM390.4 376.7h.7v.7h-.7zM392.3 370.2h.7v.7h-.7zM392.0 379.4h.7v.7h-.7zM395.4 377.2h.7v.7h-.7zM391.3 374.2h.7v.7h-.7zM389.8 379.6h.7v.7h-.7zM391.8 377.1h.7v.7h-.7zM386.4 373.2h.7v.7h-.7zM397.3 372.9h.7v.7h-.7zM393.6 381.1h.7v.7h-.7zM387.6 370.1h.7v.7h-.7zM392.9 375.9h.7v.7h-.7zM392.1 379.2h.7v.7h-.7zM393.0 373.3h.7v.7h-.7zM392.7 373.7h.7v.7h-.7zM386.1 375.4h.7v.7h-.7zM391.5 368.0h.7v.7h-.7zM392.8 371.3h.7v.7h-.7zM392.4 370.0h.7v.7h-.7zM393.8 373.5h.7v.7h-.7zM394.8 373.3h.7v.7h-.7zM392.6 375.4h.7v.7h-.7zM388.7 376.8h.7v.7h-.7zM396.7 372.7h.7v.7h-.7zM397.6 371.7h.7v.7h-.7zM387.6 377.8h.7v.7h-.7zM391.8 372.1h.7v.7h-.7zM391.8 377.1h.7v.7h-.7zM395.0 372.2h.7v.7h-.7zM389.4 376.1h.7v.7h-.7zM391.6 374.2h.7v.7h-.7zM394.3 370.2h.7v.7h-.7zM388.2 371.4h.7v.7h-.7zM394.0 371.4h.7v.7h-.7zM398.5 372.9h.7v.7h-.7zM398.7 370.4h.7v.7h-.7zM394.9 370.6h.7v.7h-.7zM393.8 370.2h.7v.7h-.7zM388.6 378.9h.7v.7h-.7zM390.6 373.9h.7v.7h-.7zM391.9 378.5h.7v.7h-.7zM393.5 377.4h.7v.7h-.7zM386.3 374.8h.7v.7h-.7zM385.7 375.7h.7v.7h-.7zM397.3 370.1h.7v.7h-.7zM393.2 375.1h.7v.7h-.7zM385.1 376.3h.7v.7h-.7zM383.4 375.4h.7v.7h-.7zM381.6 375.2h.7v.7h-.7zM380.3 372.3h.7v.7h-.7zM391.1 368.7h.7v.7h-.7zM378.2 382.7h.7v.7h-.7zM389.2 382.7h.7v.7h-.7zM384.3 380.3h.7v.7h-.7zM389.1 370.8h.7v.7h-.7zM398.1 385.1h.7v.7h-.7zM380.4 373.5h.7v.7h-.7zM385.5 380.0h.7v.7h-.7zM382.0 378.6h.7v.7h-.7zM388.1 377.7h.7v.7h-.7zM393.2 381.7h.7v.7h-.7zM390.8 383.6h.7v.7h-.7zM386.2 372.2h.7v.7h-.7zM391.0 382.7h.7v.7h-.7zM388.0 375.1h.7v.7h-.7zM385.7 377.5h.7v.7h-.7zM387.9 371.0h.7v.7h-.7zM386.9 378.7h.7v.7h-.7zM393.3 374.8h.7v.7h-.7zM385.4 381.2h.7v.7h-.7zM382.1 371.1h.7v.7h-.7zM378.1 372.2h.7v.7h-.7zM395.8 391.1h.7v.7h-.7zM395.0 388.1h.7v.7h-.7zM395.0 395.1h.7v.7h-.7zM400.9 383.5h.7v.7h-.7zM391.3 368.8h.7v.7h-.7zM392.6 377.5h.7v.7h-.7zM384.8 386.8h.7v.7h-.7zM389.8 379.1h.7v.7h-.7zM386.1 380.6h.7v.7h-.7zM385.0 376.0h.7v.7h-.7zM386.7 360.5h.7v.7h-.7zM385.6 362.6h.7v.7h-.7zM400.8 373.6h.7v.7h-.7zM378.7 381.8h.7v.7h-.7zM392.1 385.7h.7v.7h-.7zM384.5 375.4h.7v.7h-.7zM383.1 376.5h.7v.7h-.7zM387.9 391.4h.7v.7h-.7zM390.5 374.5h.7v.7h-.7zM383.2 381.3h.7v.7h-.7zM387.3 367.8h.7v.7h-.7zM398.4 371.0h.7v.7h-.7zM398.9 385.1h.7v.7h-.7zM385.8 371.0h.7v.7h-.7zM382.4 368.5h.7v.7h-.7zM384.7 370.6h.7v.7h-.7zM398.0 385.7h.7v.7h-.7zM387.0 367.9h.7v.7h-.7zM378.7 383.5h.7v.7h-.7zM388.2 380.7h.7v.7h-.7zM383.5 380.8h.7v.7h-.7zM390.4 371.6h.7v.7h-.7zM382.3 373.3h.7v.7h-.7zM381.4 383.1h.7v.7h-.7zM384.8 378.8h.7v.7h-.7zM385.9 376.4h.7v.7h-.7zM386.0 364.5h.7v.7h-.7zM392.9 372.2h.7v.7h-.7zM381.7 377.7h.7v.7h-.7zM389.5 380.1h.7v.7h-.7zM382.1 379.5h.7v.7h-.7zM383.8 371.1h.7v.7h-.7zM383.1 372.5h.7v.7h-.7zM397.1 392.4h.7v.7h-.7zM388.7 371.1h.7v.7h-.7zM381.8 370.6h.7v.7h-.7zM382.4 369.6h.7v.7h-.7zM382.9 369.5h.7v.7h-.7zM381.0 387.7h.7v.7h-.7zM387.4 381.0h.7v.7h-.7zM397.5 369.1h.7v.7h-.7zM391.4 369.5h.7v.7h-.7zM382.4 363.6h.7v.7h-.7zM385.0 379.7h.7v.7h-.7zM384.7 372.7h.7v.7h-.7zM385.0 382.3h.7v.7h-.7zM376.2 386.4h.7v.7h-.7zM384.7 367.9h.7v.7h-.7zM399.7 376.9h.7v.7h-.7zM376.5 382.0h.7v.7h-.7zM395.2 377.3h.7v.7h-.7zM394.4 382.1h.7v.7h-.7zM389.4 361.7h.7v.7h-.7zM394.8 379.5h.7v.7h-.7zM380.0 357.9h.7v.7h-.7zM390.4 375.9h.7v.7h-.7zM394.5 374.5h.7v.7h-.7zM382.8 377.0h.7v.7h-.7zM387.2 368.2h.7v.7h-.7zM390.2 381.5h.7v.7h-.7zM399.4 372.8h.7v.7h-.7zM383.9 388.7h.7v.7h-.7zM379.1 370.3h.7v.7h-.7zM390.6 372.8h.7v.7h-.7zM388.4 377.0h.7v.7h-.7zM400.1 382.4h.7v.7h-.7zM384.7 378.9h.7v.7h-.7zM386.9 358.8h.7v.7h-.7zM387.4 377.3h.7v.7h-.7zM389.2 381.0h.7v.7h-.7zM375.7 375.1h.7v.7h-.7zM393.8 385.6h.7v.7h-.7zM383.4 380.8h.7v.7h-.7zM385.8 373.7h.7v.7h-.7zM397.9 375.8h.7v.7h-.7zM378.1 378.5h.7v.7h-.7zM378.5 378.3h.7v.7h-.7zM396.2 385.1h.7v.7h-.7zM386.2 388.2h.7v.7h-.7zM395.3 364.9h.7v.7h-.7zM382.3 368.3h.7v.7h-.7zM383.9 377.4h.7v.7h-.7zM382.8 379.2h.7v.7h-.7zM385.3 386.7h.7v.7h-.7zM378.5 371.2h.7v.7h-.7zM377.4 370.8h.7v.7h-.7zM399.6 377.7h.7v.7h-.7zM373.2 371.5h.7v.7h-.7zM390.1 379.9h.7v.7h-.7zM382.5 379.4h.7v.7h-.7zM387.8 383.0h.7v.7h-.7zM377.0 369.4h.7v.7h-.7zM387.7 375.9h.7v.7h-.7zM387.0 388.1h.7v.7h-.7zM383.1 376.3h.7v.7h-.7zM399.6 379.1h.7v.7h-.7zM384.3 377.7h.7v.7h-.7zM389.6 376.9h.7v.7h-.7zM381.0 368.8h.7v.7h-.7zM387.2 377.8h.7v.7h-.7zM399.1 364.8h.7v.7h-.7zM372.0 368.1h.7v.7h-.7zM401.9 364.2h.7v.7h-.7zM395.2 378.6h.7v.7h-.7zM386.8 370.8h.7v.7h-.7zM383.5 357.3h.7v.7h-.7zM389.8 376.9h.7v.7h-.7zM387.4 378.8h.7v.7h-.7zM382.9 362.7h.7v.7h-.7zM390.4 366.8h.7v.7h-.7zM389.0 380.7h.7v.7h-.7zM402.6 362.6h.7v.7h-.7zM399.6 378.5h.7v.7h-.7zM391.6 359.4h.7v.7h-.7zM390.2 365.8h.7v.7h-.7zM382.5 362.3h.7v.7h-.7zM386.0 369.5h.7v.7h-.7zM385.0 376.7h.7v.7h-.7zM373.0 374.1h.7v.7h-.7zM378.3 370.2h.7v.7h-.7zM393.2 372.5h.7v.7h-.7zM380.9 362.6h.7v.7h-.7zM395.2 389.3h.7v.7h-.7zM376.9 375.5h.7v.7h-.7zM376.8 353.4h.7v.7h-.7zM405.7 390.7h.7v.7h-.7zM386.8 385.2h.7v.7h-.7zM379.8 376.2h.7v.7h-.7zM380.7 383.6h.7v.7h-.7zM380.5 364.2h.7v.7h-.7zM380.8 361.4h.7v.7h-.7zM384.5 376.2h.7v.7h-.7zM401.6 385.0h.7v.7h-.7zM409.1 363.6h.7v.7h-.7zM405.3 364.1h.7v.7h-.7zM408.8 364.8h.7v.7h-.7zM410.9 361.8h.7v.7h-.7zM411.0 362.9h.7v.7h-.7zM411.5 362.8h.7v.7h-.7zM410.4 363.2h.7v.7h-.7zM409.9 362.6h.7v.7h-.7zM403.8 365.8h.7v.7h-.7zM409.3 363.3h.7v.7h-.7zM410.0 362.8h.7v.7h-.7zM408.3 363.9h.7v.7h-.7zM405.6 363.6h.7v.7h-.7zM412.1 360.3h.7v.7h-.7zM407.9 361.5h.7v.7h-.7zM411.5 361.0h.7v.7h-.7zM411.3 361.7h.7v.7h-.7zM409.9 362.2h.7v.7h-.7zM409.1 364.8h.7v.7h-.7zM408.4 362.7h.7v.7h-.7zM408.2 364.1h.7v.7h-.7zM407.9 361.2h.7v.7h-.7zM407.1 364.0h.7v.7h-.7zM410.9 362.0h.7v.7h-.7zM410.2 361.1h.7v.7h-.7zM411.2 362.5h.7v.7h-.7zM403.2 365.8h.7v.7h-.7zM412.3 362.7h.7v.7h-.7zM408.2 362.6h.7v.7h-.7zM406.3 365.3h.7v.7h-.7zM406.1 364.0h.7v.7h-.7zM406.1 363.8h.7v.7h-.7zM410.1 363.5h.7v.7h-.7zM407.2 364.1h.7v.7h-.7zM409.0 365.1h.7v.7h-.7zM410.8 362.4h.7v.7h-.7zM407.8 363.1h.7v.7h-.7zM410.4 376.5h.7v.7h-.7zM415.7 374.1h.7v.7h-.7zM406.4 378.9h.7v.7h-.7zM412.1 376.4h.7v.7h-.7zM412.9 377.0h.7v.7h-.7zM405.9 380.0h.7v.7h-.7zM404.9 379.3h.7v.7h-.7zM410.3 379.2h.7v.7h-.7zM401.0 381.9h.7v.7h-.7zM401.9 380.5h.7v.7h-.7zM408.6 375.6h.7v.7h-.7zM403.4 380.8h.7v.7h-.7zM409.4 377.5h.7v.7h-.7zM409.0 377.5h.7v.7h-.7zM410.6 376.9h.7v.7h-.7zM409.7 379.7h.7v.7h-.7zM403.5 380.4h.7v.7h-.7zM402.0 380.8h.7v.7h-.7zM409.3 376.3h.7v.7h-.7zM409.7 376.7h.7v.7h-.7zM410.3 377.7h.7v.7h-.7zM408.2 378.0h.7v.7h-.7zM407.5 378.4h.7v.7h-.7zM403.6 381.8h.7v.7h-.7zM414.3 375.3h.7v.7h-.7zM409.1 378.4h.7v.7h-.7zM402.6 381.5h.7v.7h-.7zM402.6 382.3h.7v.7h-.7zM409.1 380.5h.7v.7h-.7zM412.8 375.1h.7v.7h-.7zM405.6 378.9h.7v.7h-.7zM414.4 375.2h.7v.7h-.7zM404.3 381.1h.7v.7h-.7zM402.6 381.2h.7v.7h-.7zM406.5 377.5h.7v.7h-.7zM407.1 378.1h.7v.7h-.7zM401.1 381.7h.7v.7h-.7zM407.0 378.2h.7v.7h-.7zM406.9 379.3h.7v.7h-.7zM409.0 376.4h.7v.7h-.7zM408.4 377.7h.7v.7h-.7zM408.2 378.2h.7v.7h-.7zM414.0 377.0h.7v.7h-.7zM402.0 380.2h.7v.7h-.7zM410.9 377.5h.7v.7h-.7zM409.0 377.7h.7v.7h-.7zM402.9 380.7h.7v.7h-.7zM408.1 377.3h.7v.7h-.7zM408.6 377.2h.7v.7h-.7zM404.8 379.2h.7v.7h-.7zM410.5 378.2h.7v.7h-.7zM405.8 381.9h.7v.7h-.7zM406.8 380.2h.7v.7h-.7zM404.7 380.6h.7v.7h-.7zM404.0 378.9h.7v.7h-.7zM403.4 381.0h.7v.7h-.7zM403.9 380.0h.7v.7h-.7zM411.3 377.2h.7v.7h-.7zM410.8 376.1h.7v.7h-.7zM413.6 375.4h.7v.7h-.7zM409.1 376.1h.7v.7h-.7zM408.1 377.6h.7v.7h-.7zM411.8 377.3h.7v.7h-.7z" fill="#000" fill-opacity="0.3"/>
<rect x="369.6" y="343.6" width="55" height="56.8" fill="none" stroke="#8c8c8c" stroke-width="0.6"/>
<line x1="401.4" y1="343.6" x2="401.4" y2="400.4" stroke="#555" stroke-width="0.75"/>
<line x1="369.6" y1="371.7" x2="424.6" y2="371.7" stroke="#555" stroke-width="0.75"/>
<line x1="369.6" y1="343.6" x2="369.6" y2="400.4" stroke="#444" stroke-width="0.7"/>
<line x1="369.6" y1="400.4" x2="424.6" y2="400.4" stroke="#444" stroke-width="0.7"/>
<text x="370.8" y="349.64" font-size="6" fill="#1c1c1c" stroke="#1c1c1c" stroke-width="0.3">19.7</text>
<text x="423.6" y="349.64" font-size="6" text-anchor="end" fill="#1c1c1c" stroke="#1c1c1c" stroke-width="0.3">10.7</text>
<text x="370.8" y="399.84" font-size="6" fill="#1c1c1c" stroke="#1c1c1c" stroke-width="0.3">47.9</text>
<text x="423.6" y="399.84" font-size="6" text-anchor="end" fill="#1c1c1c" stroke="#1c1c1c" stroke-width="0.3">21.6</text>
<text x="369.1" y="400.4" font-size="4.5" text-anchor="end" fill="#333" stroke="#333" stroke-width="0.15">10<tspan font-size="3.3" dy="-1.6">1</tspan></text>
<line x1="368.8" y1="399.2" x2="369.6" y2="399.2" stroke="#444" stroke-width="0.4"/>
<text x="369.1" y="390.34" font-size="4.5" text-anchor="end" fill="#333" stroke="#333" stroke-width="0.15">10<tspan font-size="3.3" dy="-1.6">2</tspan></text>
<line x1="368.8" y1="389.14" x2="369.6" y2="389.14" stroke="#444" stroke-width="0.4"/>
<text x="369.1" y="380.28" font-size="4.5" text-anchor="end" fill="#333" stroke="#333" stroke-width="0.15">10<tspan font-size="3.3" dy="-1.6">3</tspan></text>
<line x1="368.8" y1="379.08" x2="369.6" y2="379.08" stroke="#444" stroke-width="0.4"/>
<text x="369.1" y="370.22" font-size="4.5" text-anchor="end" fill="#333" stroke="#333" stroke-width="0.15">10<tspan font-size="3.3" dy="-1.6">4</tspan></text>
<line x1="368.8" y1="369.02" x2="369.6" y2="369.02" stroke="#444" stroke-width="0.4"/>
<text x="369.1" y="360.16" font-size="4.5" text-anchor="end" fill="#333" stroke="#333" stroke-width="0.15">10<tspan font-size="3.3" dy="-1.6">5</tspan></text>
<line x1="368.8" y1="358.96" x2="369.6" y2="358.96" stroke="#444" stroke-width="0.4"/>
<text x="369.1" y="350.1" font-size="4.5" text-anchor="end" fill="#333" stroke="#333" stroke-width="0.15">10<tspan font-size="3.3" dy="-1.6">6</tspan></text>
<line x1="368.8" y1="348.9" x2="369.6" y2="348.9" stroke="#444" stroke-width="0.4"/>
<text x="378.95" y="404.4" font-size="4.5" text-anchor="middle" fill="#333" stroke="#333" stroke-width="0.15">10<tspan font-size="3.3" dy="-1.6">2</tspan></text>
<line x1="378.95" y1="400.4" x2="378.95" y2="401.2" stroke="#444" stroke-width="0.4"/>
<text x="392.98" y="404.4" font-size="4.5" text-anchor="middle" fill="#333" stroke="#333" stroke-width="0.15">10<tspan font-size="3.3" dy="-1.6">3</tspan></text>
<line x1="392.98" y1="400.4" x2="392.98" y2="401.2" stroke="#444" stroke-width="0.4"/>
<text x="407" y="404.4" font-size="4.5" text-anchor="middle" fill="#333" stroke="#333" stroke-width="0.15">10<tspan font-size="3.3" dy="-1.6">4</tspan></text>
<line x1="407" y1="400.4" x2="407" y2="401.2" stroke="#444" stroke-width="0.4"/>
<text x="421.03" y="404.4" font-size="4.5" text-anchor="middle" fill="#333" stroke="#333" stroke-width="0.15">10<tspan font-size="3.3" dy="-1.6">5</tspan></text>
<line x1="421.03" y1="400.4" x2="421.03" y2="401.2" stroke="#444" stroke-width="0.4"/>
<rect x="440.1" y="343.6" width="55.5" height="56.8" fill="#fff"/>
<ellipse cx="463.6" cy="371.6" rx="4.8" ry="4.5" fill="url(#rg)" opacity="0.9" transform="rotate(0 463.6 371.6)"/>
<ellipse cx="479.1" cy="363.6" rx="3.6" ry="2.1" fill="url(#rg)" opacity="0.75" transform="rotate(-25 479.1 363.6)"/>
<ellipse cx="480.2" cy="377" rx="6.2" ry="2.5" fill="url(#rg)" opacity="0.95" transform="rotate(-32 480.2 377)"/>
<path d="M459.4 367.4h.7v.7h-.7zM464.4 368.3h.7v.7h-.7zM457.9 372.7h.7v.7h-.7zM464.1 372.9h.7v.7h-.7zM466.5 374.6h.7v.7h-.7zM466.5 369.2h.7v.7h-.7zM461.5 369.4h.7v.7h-.7zM467.2 377.9h.7v.7h-.7zM460.9 376.0h.7v.7h-.7zM468.3 368.4h.7v.7h-.7zM463.0 368.6h.7v.7h-.7zM465.6 375.2h.7v.7h-.7zM460.6 371.9h.7v.7h-.7zM466.7 371.6h.7v.7h-.7zM462.4 373.8h.7v.7h-.7zM462.4 372.1h.7v.7h-.7zM460.1 375.6h.7v.7h-.7zM467.0 370.9h.7v.7h-.7zM464.1 371.7h.7v.7h-.7zM464.3 375.0h.7v.7h-.7zM462.0 369.8h.7v.7h-.7zM462.8 371.8h.7v.7h-.7zM461.6 369.3h.7v.7h-.7zM466.9 373.2h.7v.7h-.7zM463.1 367.4h.7v.7h-.7zM460.1 367.3h.7v.7h-.7zM472.1 374.2h.7v.7h-.7zM463.1 374.5h.7v.7h-.7zM467.9 368.4h.7v.7h-.7zM465.9 368.0h.7v.7h-.7zM465.2 370.4h.7v.7h-.7zM462.3 374.0h.7v.7h-.7zM466.3 368.4h.7v.7h-.7zM462.1 369.1h.7v.7h-.7zM462.3 372.5h.7v.7h-.7zM462.2 368.3h.7v.7h-.7zM465.2 379.0h.7v.7h-.7zM464.0 369.5h.7v.7h-.7zM464.1 369.9h.7v.7h-.7zM469.5 373.7h.7v.7h-.7zM466.8 371.2h.7v.7h-.7zM461.3 365.3h.7v.7h-.7zM458.6 373.7h.7v.7h-.7zM460.0 374.7h.7v.7h-.7zM461.8 369.1h.7v.7h-.7zM465.3 371.4h.7v.7h-.7zM463.7 369.8h.7v.7h-.7zM465.7 370.2h.7v.7h-.7zM465.2 374.6h.7v.7h-.7zM467.4 371.5h.7v.7h-.7zM463.0 368.9h.7v.7h-.7zM462.4 377.4h.7v.7h-.7zM462.4 365.2h.7v.7h-.7zM461.9 378.6h.7v.7h-.7zM461.8 373.7h.7v.7h-.7zM461.8 372.6h.7v.7h-.7zM463.8 375.0h.7v.7h-.7zM464.3 368.8h.7v.7h-.7zM463.9 369.3h.7v.7h-.7zM465.8 369.8h.7v.7h-.7zM461.3 370.3h.7v.7h-.7zM468.4 371.5h.7v.7h-.7zM464.3 368.0h.7v.7h-.7zM466.6 374.1h.7v.7h-.7zM466.4 369.4h.7v.7h-.7zM464.7 371.1h.7v.7h-.7zM460.3 376.9h.7v.7h-.7zM459.9 370.6h.7v.7h-.7zM466.6 374.9h.7v.7h-.7zM466.1 367.9h.7v.7h-.7zM463.7 370.4h.7v.7h-.7zM464.5 374.8h.7v.7h-.7zM470.0 373.4h.7v.7h-.7zM471.4 372.6h.7v.7h-.7zM455.4 365.9h.7v.7h-.7zM456.0 376.4h.7v.7h-.7zM451.5 379.2h.7v.7h-.7zM447.8 362.5h.7v.7h-.7zM465.1 388.2h.7v.7h-.7zM450.6 375.6h.7v.7h-.7zM466.9 380.4h.7v.7h-.7zM455.2 374.7h.7v.7h-.7zM456.7 394.6h.7v.7h-.7zM471.8 384.3h.7v.7h-.7zM462.7 384.0h.7v.7h-.7zM449.7 363.8h.7v.7h-.7zM464.9 385.2h.7v.7h-.7zM455.7 377.8h.7v.7h-.7zM464.6 375.2h.7v.7h-.7zM466.6 381.2h.7v.7h-.7zM455.2 374.6h.7v.7h-.7zM457.8 379.7h.7v.7h-.7zM472.3 387.0h.7v.7h-.7zM464.7 382.9h.7v.7h-.7zM463.6 382.9h.7v.7h-.7zM453.0 365.1h.7v.7h-.7zM454.4 373.8h.7v.7h-.7zM450.6 375.4h.7v.7h-.7zM453.2 361.9h.7v.7h-.7zM453.6 368.7h.7v.7h-.7zM462.7 381.2h.7v.7h-.7zM454.0 363.4h.7v.7h-.7zM455.1 372.9h.7v.7h-.7zM450.5 391.7h.7v.7h-.7zM470.3 383.3h.7v.7h-.7zM470.4 379.7h.7v.7h-.7zM451.0 372.1h.7v.7h-.7zM449.3 370.0h.7v.7h-.7zM451.1 372.9h.7v.7h-.7zM455.6 388.8h.7v.7h-.7zM456.3 379.7h.7v.7h-.7zM465.9 390.5h.7v.7h-.7zM447.2 380.9h.7v.7h-.7zM459.1 374.2h.7v.7h-.7zM463.9 376.8h.7v.7h-.7zM476.1 389.4h.7v.7h-.7zM443.4 375.3h.7v.7h-.7zM458.1 367.8h.7v.7h-.7zM462.6 370.5h.7v.7h-.7zM465.1 378.7h.7v.7h-.7zM452.6 371.3h.7v.7h-.7zM450.9 377.6h.7v.7h-.7zM445.8 372.6h.7v.7h-.7zM454.4 383.2h.7v.7h-.7zM458.1 367.1h.7v.7h-.7zM464.9 370.0h.7v.7h-.7zM449.6 385.6h.7v.7h-.7zM448.0 376.1h.7v.7h-.7zM460.5 369.2h.7v.7h-.7zM457.5 373.5h.7v.7h-.7zM459.3 376.2h.7v.7h-.7zM467.8 376.6h.7v.7h-.7zM452.4 388.1h.7v.7h-.7zM460.0 369.7h.7v.7h-.7zM455.7 380.6h.7v.7h-.7zM458.8 366.1h.7v.7h-.7zM460.6 375.5h.7v.7h-.7zM444.9 364.1h.7v.7h-.7zM458.3 375.7h.7v.7h-.7zM460.5 373.9h.7v.7h-.7zM449.7 367.6h.7v.7h-.7zM457.1 378.1h.7v.7h-.7zM470.4 389.9h.7v.7h-.7zM451.5 387.7h.7v.7h-.7zM449.5 372.1h.7v.7h-.7zM466.3 380.0h.7v.7h-.7zM457.7 380.2h.7v.7h-.7zM457.3 372.1h.7v.7h-.7zM457.9 392.7h.7v.7h-.7zM457.1 381.8h.7v.7h-.7zM450.5 377.8h.7v.7h-.7zM447.4 372.3h.7v.7h-.7zM462.8 376.0h.7v.7h-.7zM459.1 384.1h.7v.7h-.7zM458.9 388.6h.7v.7h-.7zM454.0 371.0h.7v.7h-.7zM454.4 381.7h.7v.7h-.7zM451.1 377.7h.7v.7h-.7zM460.5 385.8h.7v.7h-.7zM446.4 373.7h.7v.7h-.7zM451.1 378.6h.7v.7h-.7zM462.3 375.4h.7v.7h-.7zM455.9 373.0h.7v.7h-.7zM451.3 384.1h.7v.7h-.7zM450.5 377.1h.7v.7h-.7zM462.3 375.6h.7v.7h-.7zM458.6 386.4h.7v.7h-.7zM446.5 370.6h.7v.7h-.7zM448.9 382.4h.7v.7h-.7zM463.5 383.4h.7v.7h-.7zM461.0 372.1h.7v.7h-.7zM454.0 381.1h.7v.7h-.7zM463.8 381.3h.7v.7h-.7zM459.3 370.5h.7v.7h-.7zM455.6 384.6h.7v.7h-.7zM456.7 369.3h.7v.7h-.7zM460.1 375.7h.7v.7h-.7zM448.6 370.4h.7v.7h-.7zM454.9 362.6h.7v.7h-.7zM454.9 368.5h.7v.7h-.7zM445.7 375.8h.7v.7h-.7zM448.5 370.1h.7v.7h-.7zM462.8 384.8h.7v.7h-.7zM467.2 378.6h.7v.7h-.7zM455.6 359.9h.7v.7h-.7zM455.8 383.1h.7v.7h-.7zM454.8 382.1h.7v.7h-.7zM467.0 377.3h.7v.7h-.7zM462.3 366.7h.7v.7h-.7zM460.1 374.1h.7v.7h-.7zM464.5 382.6h.7v.7h-.7zM453.9 373.6h.7v.7h-.7zM447.4 374.8h.7v.7h-.7zM458.4 374.1h.7v.7h-.7zM454.1 383.6h.7v.7h-.7zM460.8 385.4h.7v.7h-.7zM453.9 381.3h.7v.7h-.7zM453.7 380.5h.7v.7h-.7zM473.3 384.0h.7v.7h-.7zM479.8 361.3h.7v.7h-.7zM480.0 363.2h.7v.7h-.7zM478.4 363.2h.7v.7h-.7zM479.2 363.1h.7v.7h-.7zM481.7 361.9h.7v.7h-.7zM477.2 366.1h.7v.7h-.7zM476.2 364.7h.7v.7h-.7zM484.2 360.6h.7v.7h-.7zM479.3 363.4h.7v.7h-.7zM481.1 362.5h.7v.7h-.7zM477.9 364.5h.7v.7h-.7zM479.0 363.2h.7v.7h-.7zM483.9 362.1h.7v.7h-.7zM480.6 363.5h.7v.7h-.7zM480.8 360.9h.7v.7h-.7zM480.9 363.3h.7v.7h-.7zM479.1 363.7h.7v.7h-.7zM479.1 361.0h.7v.7h-.7zM477.3 363.5h.7v.7h-.7zM480.6 365.2h.7v.7h-.7zM479.3 364.0h.7v.7h-.7zM482.8 361.1h.7v.7h-.7zM480.9 361.6h.7v.7h-.7zM477.5 364.5h.7v.7h-.7zM479.6 362.9h.7v.7h-.7zM481.4 362.0h.7v.7h-.7zM476.1 365.0h.7v.7h-.7zM481.1 364.4h.7v.7h-.7zM479.7 363.5h.7v.7h-.7zM481.0 362.6h.7v.7h-.7zM470.9 380.3h.7v.7h-.7zM477.7 378.0h.7v.7h-.7zM482.0 376.6h.7v.7h-.7zM477.9 377.6h.7v.7h-.7zM479.7 375.8h.7v.7h-.7zM483.5 376.4h.7v.7h-.7zM476.6 377.8h.7v.7h-.7zM475.3 377.7h.7v.7h-.7zM478.3 376.5h.7v.7h-.7zM477.8 377.2h.7v.7h-.7zM476.8 375.9h.7v.7h-.7zM485.1 374.5h.7v.7h-.7zM474.2 378.5h.7v.7h-.7zM473.1 378.5h.7v.7h-.7zM486.1 375.0h.7v.7h-.7zM480.7 376.2h.7v.7h-.7zM479.3 377.2h.7v.7h-.7zM484.5 374.7h.7v.7h-.7zM480.5 377.6h.7v.7h-.7zM479.9 377.9h.7v.7h-.7zM476.0 378.8h.7v.7h-.7zM483.3 375.1h.7v.7h-.7zM478.9 377.6h.7v.7h-.7zM475.9 377.7h.7v.7h-.7zM476.3 377.0h.7v.7h-.7zM481.1 374.5h.7v.7h-.7zM482.7 375.0h.7v.7h-.7zM477.5 378.9h.7v.7h-.7zM478.9 378.5h.7v.7h-.7zM483.6 375.8h.7v.7h-.7zM476.4 377.4h.7v.7h-.7zM478.4 377.8h.7v.7h-.7zM490.2 372.4h.7v.7h-.7zM482.7 376.5h.7v.7h-.7zM481.5 374.9h.7v.7h-.7zM475.8 379.6h.7v.7h-.7zM478.8 378.7h.7v.7h-.7zM479.5 377.2h.7v.7h-.7zM481.9 375.8h.7v.7h-.7zM479.6 377.7h.7v.7h-.7zM479.4 378.0h.7v.7h-.7zM481.9 376.1h.7v.7h-.7zM479.3 375.7h.7v.7h-.7zM477.4 378.1h.7v.7h-.7zM476.2 377.6h.7v.7h-.7zM475.7 378.6h.7v.7h-.7zM475.1 379.3h.7v.7h-.7zM480.6 377.3h.7v.7h-.7zM477.5 379.1h.7v.7h-.7zM482.4 377.5h.7v.7h-.7zM480.1 378.1h.7v.7h-.7zM472.7 378.9h.7v.7h-.7zM477.7 378.2h.7v.7h-.7zM480.9 376.8h.7v.7h-.7zM481.2 377.0h.7v.7h-.7zM486.9 374.6h.7v.7h-.7zM476.5 377.8h.7v.7h-.7zM483.2 375.9h.7v.7h-.7zM482.7 374.3h.7v.7h-.7zM475.3 377.0h.7v.7h-.7zM477.2 377.4h.7v.7h-.7zM481.4 376.7h.7v.7h-.7zM489.5 373.9h.7v.7h-.7zM476.2 377.6h.7v.7h-.7zM480.2 376.4h.7v.7h-.7zM483.2 376.3h.7v.7h-.7z" fill="#000" fill-opacity="0.3"/>
<path d="M465.0 379.3h.7v.7h-.7zM462.8 370.9h.7v.7h-.7zM464.6 369.9h.7v.7h-.7zM465.7 365.5h.7v.7h-.7zM459.4 371.2h.7v.7h-.7zM463.2 365.9h.7v.7h-.7zM469.3 368.0h.7v.7h-.7zM464.6 369.4h.7v.7h-.7zM467.8 371.8h.7v.7h-.7zM467.1 370.5h.7v.7h-.7zM458.8 368.8h.7v.7h-.7zM462.0 371.4h.7v.7h-.7zM462.6 368.4h.7v.7h-.7zM462.7 372.0h.7v.7h-.7zM465.5 375.5h.7v.7h-.7zM462.2 370.1h.7v.7h-.7zM466.6 369.9h.7v.7h-.7zM461.2 370.5h.7v.7h-.7zM461.9 360.6h.7v.7h-.7zM464.4 370.4h.7v.7h-.7zM460.8 375.2h.7v.7h-.7zM463.1 373.0h.7v.7h-.7zM468.6 370.8h.7v.7h-.7zM462.4 378.7h.7v.7h-.7zM459.6 372.8h.7v.7h-.7zM462.6 367.2h.7v.7h-.7zM461.8 369.0h.7v.7h-.7zM465.4 373.4h.7v.7h-.7zM462.2 367.4h.7v.7h-.7zM464.1 370.9h.7v.7h-.7zM466.2 372.3h.7v.7h-.7zM462.8 372.5h.7v.7h-.7zM465.6 372.9h.7v.7h-.7zM460.1 373.8h.7v.7h-.7zM461.3 371.5h.7v.7h-.7zM464.1 372.6h.7v.7h-.7zM462.7 372.6h.7v.7h-.7zM467.8 370.8h.7v.7h-.7zM463.4 367.5h.7v.7h-.7zM464.4 375.2h.7v.7h-.7zM464.4 372.1h.7v.7h-.7zM461.6 365.5h.7v.7h-.7zM466.2 371.9h.7v.7h-.7zM464.9 372.9h.7v.7h-.7zM461.3 371.3h.7v.7h-.7zM464.7 365.9h.7v.7h-.7zM466.4 371.4h.7v.7h-.7zM467.0 373.0h.7v.7h-.7zM466.4 372.7h.7v.7h-.7zM457.4 375.6h.7v.7h-.7zM469.9 373.1h.7v.7h-.7zM460.4 364.9h.7v.7h-.7zM464.9 376.6h.7v.7h-.7zM464.9 371.0h.7v.7h-.7zM462.1 366.2h.7v.7h-.7zM458.9 367.5h.7v.7h-.7zM462.2 373.1h.7v.7h-.7zM466.8 373.0h.7v.7h-.7zM465.7 371.2h.7v.7h-.7zM467.1 370.7h.7v.7h-.7zM463.1 376.2h.7v.7h-.7zM464.7 374.3h.7v.7h-.7zM467.5 370.4h.7v.7h-.7zM466.0 374.5h.7v.7h-.7zM462.5 374.8h.7v.7h-.7zM461.1 372.9h.7v.7h-.7zM459.1 372.3h.7v.7h-.7zM464.0 374.0h.7v.7h-.7zM464.7 369.8h.7v.7h-.7zM463.9 371.1h.7v.7h-.7zM464.8 367.3h.7v.7h-.7zM460.0 367.1h.7v.7h-.7zM461.0 374.0h.7v.7h-.7zM451.6 375.3h.7v.7h-.7zM459.9 390.8h.7v.7h-.7zM455.5 387.3h.7v.7h-.7zM452.1 377.2h.7v.7h-.7zM455.0 381.4h.7v.7h-.7zM468.1 380.3h.7v.7h-.7zM465.7 379.4h.7v.7h-.7zM463.3 374.0h.7v.7h-.7zM447.9 375.5h.7v.7h-.7zM452.1 369.4h.7v.7h-.7zM453.5 373.1h.7v.7h-.7zM464.3 376.3h.7v.7h-.7zM451.3 361.2h.7v.7h-.7zM459.5 367.9h.7v.7h-.7zM462.1 366.2h.7v.7h-.7zM473.2 380.9h.7v.7h-.7zM450.5 366.8h.7v.7h-.7zM467.9 374.0h.7v.7h-.7zM454.0 374.8h.7v.7h-.7zM466.1 379.7h.7v.7h-.7zM460.1 373.6h.7v.7h-.7zM450.2 363.6h.7v.7h-.7zM446.1 366.1h.7v.7h-.7zM453.7 383.3h.7v.7h-.7zM456.3 366.4h.7v.7h-.7zM457.9 374.6h.7v.7h-.7zM458.5 384.7h.7v.7h-.7zM454.9 368.5h.7v.7h-.7zM478.7 385.7h.7v.7h-.7zM461.3 381.6h.7v.7h-.7zM456.8 368.9h.7v.7h-.7zM458.5 384.8h.7v.7h-.7zM459.3 376.5h.7v.7h-.7zM466.3 368.7h.7v.7h-.7zM455.4 371.0h.7v.7h-.7zM460.7 377.0h.7v.7h-.7zM456.5 375.6h.7v.7h-.7zM466.7 380.4h.7v.7h-.7zM466.7 377.6h.7v.7h-.7zM452.3 378.6h.7v.7h-.7zM458.8 377.3h.7v.7h-.7zM460.8 365.8h.7v.7h-.7zM461.0 366.3h.7v.7h-.7zM453.7 370.9h.7v.7h-.7zM455.4 382.7h.7v.7h-.7zM450.0 371.8h.7v.7h-.7zM460.5 373.6h.7v.7h-.7zM455.4 369.9h.7v.7h-.7zM457.5 374.7h.7v.7h-.7zM465.6 378.9h.7v.7h-.7zM461.3 378.0h.7v.7h-.7zM464.3 377.1h.7v.7h-.7zM464.6 371.4h.7v.7h-.7zM452.6 376.5h.7v.7h-.7zM461.0 388.7h.7v.7h-.7zM457.1 391.2h.7v.7h-.7zM477.9 377.9h.7v.7h-.7zM453.9 377.9h.7v.7h-.7zM461.6 379.6h.7v.7h-.7zM470.9 376.0h.7v.7h-.7zM455.6 368.1h.7v.7h-.7zM454.6 373.4h.7v.7h-.7zM463.7 389.1h.7v.7h-.7zM454.8 385.3h.7v.7h-.7zM455.1 380.1h.7v.7h-.7zM454.2 374.5h.7v.7h-.7zM462.3 380.2h.7v.7h-.7zM461.2 389.4h.7v.7h-.7zM459.4 373.7h.7v.7h-.7zM459.9 370.2h.7v.7h-.7zM454.7 374.3h.7v.7h-.7zM456.5 376.9h.7v.7h-.7zM458.7 372.6h.7v.7h-.7zM452.3 371.4h.7v.7h-.7zM474.6 392.3h.7v.7h-.7zM456.4 381.4h.7v.7h-.7zM462.2 371.8h.7v.7h-.7zM451.9 370.7h.7v.7h-.7zM459.2 374.6h.7v.7h-.7zM444.8 365.7h.7v.7h-.7zM454.6 371.8h.7v.7h-.7zM445.6 385.2h.7v.7h-.7zM469.8 380.9h.7v.7h-.7zM451.1 372.7h.7v.7h-.7zM455.8 378.5h.7v.7h-.7zM448.9 381.1h.7v.7h-.7zM462.2 379.7h.7v.7h-.7zM452.5 387.9h.7v.7h-.7zM455.6 374.7h.7v.7h-.7zM466.4 384.6h.7v.7h-.7zM450.4 376.3h.7v.7h-.7zM460.0 383.0h.7v.7h-.7zM461.3 390.1h.7v.7h-.7zM452.8 375.1h.7v.7h-.7zM450.9 380.2h.7v.7h-.7zM455.5 373.7h.7v.7h-.7zM465.0 367.1h.7v.7h-.7zM453.7 367.0h.7v.7h-.7zM450.5 371.3h.7v.7h-.7zM467.5 387.5h.7v.7h-.7zM468.8 382.6h.7v.7h-.7zM453.6 385.1h.7v.7h-.7zM469.3 376.3h.7v.7h-.7zM451.6 367.1h.7v.7h-.7zM470.3 384.3h.7v.7h-.7zM456.8 370.6h.7v.7h-.7zM470.6 380.4h.7v.7h-.7zM460.7 371.2h.7v.7h-.7zM456.9 372.6h.7v.7h-.7zM460.8 373.1h.7v.7h-.7zM462.2 375.4h.7v.7h-.7zM457.9 377.3h.7v.7h-.7zM461.2 379.1h.7v.7h-.7zM457.3 377.8h.7v.7h-.7zM459.9 373.0h.7v.7h-.7zM448.3 367.6h.7v.7h-.7zM450.1 360.2h.7v.7h-.7zM445.9 384.8h.7v.7h-.7zM463.1 385.5h.7v.7h-.7zM454.4 376.0h.7v.7h-.7zM460.9 373.0h.7v.7h-.7zM455.2 374.9h.7v.7h-.7zM459.8 383.2h.7v.7h-.7zM460.7 384.7h.7v.7h-.7zM468.1 389.7h.7v.7h-.7zM484.0 363.5h.7v.7h-.7zM480.2 363.9h.7v.7h-.7zM480.2 363.6h.7v.7h-.7zM481.6 364.3h.7v.7h-.7zM473.2 363.2h.7v.7h-.7zM478.6 365.6h.7v.7h-.7zM479.1 361.1h.7v.7h-.7zM479.9 362.8h.7v.7h-.7zM474.4 365.0h.7v.7h-.7zM480.2 362.8h.7v.7h-.7zM480.0 364.7h.7v.7h-.7zM476.5 365.2h.7v.7h-.7zM477.0 365.0h.7v.7h-.7zM477.4 365.2h.7v.7h-.7zM477.7 363.2h.7v.7h-.7zM478.0 364.1h.7v.7h-.7zM480.3 363.8h.7v.7h-.7zM480.2 364.2h.7v.7h-.7zM479.3 363.0h.7v.7h-.7zM479.7 362.3h.7v.7h-.7zM479.1 364.1h.7v.7h-.7zM481.9 362.9h.7v.7h-.7zM483.7 363.0h.7v.7h-.7zM478.9 363.8h.7v.7h-.7zM481.0 360.5h.7v.7h-.7zM481.2 363.6h.7v.7h-.7zM478.3 362.8h.7v.7h-.7zM475.3 364.9h.7v.7h-.7zM478.5 364.6h.7v.7h-.7zM477.5 364.7h.7v.7h-.7zM483.9 376.4h.7v.7h-.7zM484.3 375.3h.7v.7h-.7zM482.4 378.9h.7v.7h-.7zM478.7 378.2h.7v.7h-.7zM480.6 375.4h.7v.7h-.7zM479.8 377.2h.7v.7h-.7zM489.5 372.9h.7v.7h-.7zM479.2 376.6h.7v.7h-.7zM484.5 376.2h.7v.7h-.7zM477.1 378.2h.7v.7h-.7zM476.7 379.3h.7v.7h-.7zM476.8 378.1h.7v.7h-.7zM477.9 379.1h.7v.7h-.7zM472.2 380.2h.7v.7h-.7zM474.0 379.1h.7v.7h-.7zM477.1 380.0h.7v.7h-.7zM480.9 375.9h.7v.7h-.7zM470.5 381.5h.7v.7h-.7zM487.5 375.3h.7v.7h-.7zM478.2 378.0h.7v.7h-.7zM482.8 374.9h.7v.7h-.7zM477.2 379.7h.7v.7h-.7zM478.0 379.2h.7v.7h-.7zM476.2 378.5h.7v.7h-.7zM477.6 376.7h.7v.7h-.7zM482.0 377.2h.7v.7h-.7zM479.0 377.8h.7v.7h-.7zM479.8 376.5h.7v.7h-.7zM487.0 372.7h.7v.7h-.7zM481.1 375.6h.7v.7h-.7zM478.7 376.3h.7v.7h-.7zM481.4 376.0h.7v.7h-.7zM478.5 377.2h.7v.7h-.7zM480.5 377.7h.7v.7h-.7zM481.5 375.9h.7v.7h-.7zM477.4 377.4h.7v.7h-.7zM482.1 376.0h.7v.7h-.7zM480.6 374.9h.7v.7h-.7zM477.7 378.4h.7v.7h-.7zM473.7 380.3h.7v.7h-.7zM479.9 375.9h.7v.7h-.7zM475.9 378.0h.7v.7h-.7zM472.0 380.4h.7v.7h-.7zM480.5 377.9h.7v.7h-.7zM482.2 376.0h.7v.7h-.7zM486.4 373.5h.7v.7h-.7zM479.5 378.2h.7v.7h-.7zM480.1 377.3h.7v.7h-.7zM481.4 376.3h.7v.7h-.7zM481.4 376.2h.7v.7h-.7zM480.5 375.9h.7v.7h-.7zM481.5 376.0h.7v.7h-.7zM473.5 378.7h.7v.7h-.7zM486.4 374.8h.7v.7h-.7zM484.2 374.9h.7v.7h-.7zM482.4 375.6h.7v.7h-.7zM484.2 374.9h.7v.7h-.7zM474.8 380.3h.7v.7h-.7zM475.2 377.6h.7v.7h-.7zM472.0 380.2h.7v.7h-.7zM480.6 378.8h.7v.7h-.7zM480.2 377.8h.7v.7h-.7zM480.2 378.2h.7v.7h-.7zM476.9 377.4h.7v.7h-.7zM481.8 376.5h.7v.7h-.7zM474.2 380.3h.7v.7h-.7zM483.0 376.6h.7v.7h-.7z" fill="#000" fill-opacity="0.3"/>
<path d="M460.6 374.5h.7v.7h-.7zM461.5 377.4h.7v.7h-.7zM464.0 374.2h.7v.7h-.7zM468.0 378.4h.7v.7h-.7zM461.2 369.8h.7v.7h-.7zM463.1 371.9h.7v.7h-.7zM460.4 369.2h.7v.7h-.7zM462.3 374.8h.7v.7h-.7zM465.5 373.8h.7v.7h-.7zM461.3 371.9h.7v.7h-.7zM468.0 377.5h.7v.7h-.7zM464.4 368.4h.7v.7h-.7zM464.8 370.8h.7v.7h-.7zM463.1 369.6h.7v.7h-.7zM458.5 370.4h.7v.7h-.7zM465.9 372.1h.7v.7h-.7zM466.1 369.4h.7v.7h-.7zM461.3 372.2h.7v.7h-.7zM463.9 365.9h.7v.7h-.7zM463.1 371.2h.7v.7h-.7zM463.6 374.5h.7v.7h-.7zM466.1 372.3h.7v.7h-.7zM462.7 376.0h.7v.7h-.7zM464.8 373.2h.7v.7h-.7zM464.8 370.9h.7v.7h-.7zM466.3 375.1h.7v.7h-.7zM453.2 369.8h.7v.7h-.7zM464.2 373.6h.7v.7h-.7zM468.5 375.5h.7v.7h-.7zM463.8 371.0h.7v.7h-.7zM462.7 371.3h.7v.7h-.7zM462.4 367.1h.7v.7h-.7zM458.6 368.8h.7v.7h-.7zM462.9 372.8h.7v.7h-.7zM465.3 371.7h.7v.7h-.7zM462.8 369.3h.7v.7h-.7zM464.7 363.9h.7v.7h-.7zM461.3 370.9h.7v.7h-.7zM462.9 373.9h.7v.7h-.7zM466.7 376.6h.7v.7h-.7zM464.5 372.2h.7v.7h-.7zM463.8 371.6h.7v.7h-.7zM468.6 377.2h.7v.7h-.7zM466.4 369.4h.7v.7h-.7zM459.2 368.5h.7v.7h-.7zM461.2 369.9h.7v.7h-.7zM463.7 371.6h.7v.7h-.7zM464.1 371.7h.7v.7h-.7zM466.2 372.0h.7v.7h-.7zM463.9 368.1h.7v.7h-.7zM458.9 373.2h.7v.7h-.7zM463.8 370.6h.7v.7h-.7zM457.9 375.1h.7v.7h-.7zM466.9 373.2h.7v.7h-.7zM469.7 370.6h.7v.7h-.7zM462.1 370.0h.7v.7h-.7zM465.4 368.3h.7v.7h-.7zM463.6 367.6h.7v.7h-.7zM461.2 374.4h.7v.7h-.7zM462.7 372.0h.7v.7h-.7zM468.1 370.8h.7v.7h-.7zM464.5 378.8h.7v.7h-.7zM462.7 362.6h.7v.7h-.7zM468.7 371.5h.7v.7h-.7zM464.8 367.6h.7v.7h-.7zM462.4 366.9h.7v.7h-.7zM465.4 373.5h.7v.7h-.7zM461.7 368.1h.7v.7h-.7zM464.8 371.9h.7v.7h-.7zM460.3 372.2h.7v.7h-.7zM463.4 372.9h.7v.7h-.7zM464.3 373.0h.7v.7h-.7zM461.1 367.1h.7v.7h-.7zM446.6 367.9h.7v.7h-.7zM447.6 370.8h.7v.7h-.7zM452.2 375.4h.7v.7h-.7zM462.5 385.7h.7v.7h-.7zM450.0 374.2h.7v.7h-.7zM456.1 372.7h.7v.7h-.7zM466.2 380.8h.7v.7h-.7zM471.6 379.4h.7v.7h-.7zM457.1 381.7h.7v.7h-.7zM463.0 385.1h.7v.7h-.7zM456.8 383.7h.7v.7h-.7zM459.5 370.3h.7v.7h-.7zM459.5 368.6h.7v.7h-.7zM454.6 367.0h.7v.7h-.7zM446.5 370.2h.7v.7h-.7zM456.3 372.5h.7v.7h-.7zM455.7 385.9h.7v.7h-.7zM466.6 381.6h.7v.7h-.7zM460.9 371.6h.7v.7h-.7zM464.7 373.4h.7v.7h-.7zM456.1 373.3h.7v.7h-.7zM445.7 376.1h.7v.7h-.7zM460.4 377.5h.7v.7h-.7zM466.4 376.8h.7v.7h-.7zM449.9 372.9h.7v.7h-.7zM469.9 383.0h.7v.7h-.7zM448.3 375.5h.7v.7h-.7zM458.8 384.7h.7v.7h-.7zM464.3 382.1h.7v.7h-.7zM463.6 382.2h.7v.7h-.7zM465.4 380.8h.7v.7h-.7zM463.7 376.1h.7v.7h-.7zM454.2 368.0h.7v.7h-.7zM462.2 387.4h.7v.7h-.7zM462.8 376.4h.7v.7h-.7zM453.5 375.2h.7v.7h-.7zM445.4 372.9h.7v.7h-.7zM465.7 394.8h.7v.7h-.7zM458.0 379.2h.7v.7h-.7zM458.4 383.3h.7v.7h-.7zM455.3 377.6h.7v.7h-.7zM455.1 386.9h.7v.7h-.7zM454.1 351.6h.7v.7h-.7zM459.7 371.3h.7v.7h-.7zM465.8 381.8h.7v.7h-.7zM466.7 385.4h.7v.7h-.7zM455.5 368.6h.7v.7h-.7zM465.6 375.1h.7v.7h-.7zM455.9 374.7h.7v.7h-.7zM449.0 370.6h.7v.7h-.7zM468.7 371.5h.7v.7h-.7zM454.2 372.6h.7v.7h-.7zM454.7 376.8h.7v.7h-.7zM458.0 375.4h.7v.7h-.7zM451.1 378.1h.7v.7h-.7zM462.4 369.7h.7v.7h-.7zM465.9 387.2h.7v.7h-.7zM471.1 387.6h.7v.7h-.7zM465.5 372.5h.7v.7h-.7zM454.0 377.9h.7v.7h-.7zM466.9 380.9h.7v.7h-.7zM452.4 372.1h.7v.7h-.7zM467.1 383.6h.7v.7h-.7zM468.6 394.9h.7v.7h-.7zM452.6 361.8h.7v.7h-.7zM456.0 371.5h.7v.7h-.7zM463.7 372.9h.7v.7h-.7zM460.1 383.3h.7v.7h-.7zM449.3 385.2h.7v.7h-.7zM456.8 393.7h.7v.7h-.7zM452.7 376.9h.7v.7h-.7zM447.0 372.8h.7v.7h-.7zM464.1 375.2h.7v.7h-.7zM446.6 365.0h.7v.7h-.7zM449.0 384.0h.7v.7h-.7zM471.8 391.9h.7v.7h-.7zM449.8 374.5h.7v.7h-.7zM471.4 378.9h.7v.7h-.7zM457.7 376.9h.7v.7h-.7zM466.8 375.0h.7v.7h-.7zM459.0 375.4h.7v.7h-.7zM462.8 380.7h.7v.7h-.7zM456.0 377.9h.7v.7h-.7zM458.9 375.8h.7v.7h-.7zM465.7 373.0h.7v.7h-.7zM454.1 380.3h.7v.7h-.7zM461.4 372.2h.7v.7h-.7zM460.5 377.8h.7v.7h-.7zM446.1 370.1h.7v.7h-.7zM458.9 385.7h.7v.7h-.7zM455.8 376.6h.7v.7h-.7zM443.6 361.8h.7v.7h-.7zM456.4 377.9h.7v.7h-.7zM455.4 374.2h.7v.7h-.7zM451.0 373.8h.7v.7h-.7zM464.2 380.4h.7v.7h-.7zM455.2 379.6h.7v.7h-.7zM469.4 379.5h.7v.7h-.7zM467.4 381.0h.7v.7h-.7zM455.0 372.7h.7v.7h-.7zM447.2 374.7h.7v.7h-.7zM457.1 372.4h.7v.7h-.7zM456.8 375.3h.7v.7h-.7zM456.9 386.2h.7v.7h-.7zM454.5 373.6h.7v.7h-.7zM450.8 369.2h.7v.7h-.7zM465.7 376.2h.7v.7h-.7zM461.5 374.8h.7v.7h-.7zM472.5 385.2h.7v.7h-.7zM453.7 385.7h.7v.7h-.7zM458.2 381.6h.7v.7h-.7zM459.2 376.7h.7v.7h-.7zM457.6 377.4h.7v.7h-.7zM462.4 373.1h.7v.7h-.7zM463.0 384.0h.7v.7h-.7zM454.2 382.0h.7v.7h-.7zM455.0 381.1h.7v.7h-.7zM463.2 381.8h.7v.7h-.7zM455.5 378.2h.7v.7h-.7zM464.8 382.6h.7v.7h-.7zM458.5 380.9h.7v.7h-.7zM458.7 378.8h.7v.7h-.7zM452.7 380.8h.7v.7h-.7zM458.5 379.1h.7v.7h-.7zM461.4 390.4h.7v.7h-.7zM482.5 362.4h.7v.7h-.7zM479.9 364.3h.7v.7h-.7zM474.4 365.8h.7v.7h-.7zM481.6 361.6h.7v.7h-.7zM478.4 364.7h.7v.7h-.7zM480.9 361.1h.7v.7h-.7zM475.3 364.8h.7v.7h-.7zM475.9 366.5h.7v.7h-.7zM482.6 362.3h.7v.7h-.7zM480.4 363.5h.7v.7h-.7zM478.1 363.9h.7v.7h-.7zM475.0 366.7h.7v.7h-.7zM478.8 362.1h.7v.7h-.7zM482.8 363.3h.7v.7h-.7zM479.8 361.0h.7v.7h-.7zM476.9 364.9h.7v.7h-.7zM477.9 362.9h.7v.7h-.7zM474.6 364.9h.7v.7h-.7zM484.8 361.7h.7v.7h-.7zM476.6 362.9h.7v.7h-.7zM479.0 362.3h.7v.7h-.7zM476.3 365.9h.7v.7h-.7zM477.8 364.9h.7v.7h-.7zM481.4 362.9h.7v.7h-.7zM479.8 363.5h.7v.7h-.7zM479.3 363.7h.7v.7h-.7zM482.2 362.0h.7v.7h-.7zM479.4 361.9h.7v.7h-.7zM477.3 364.3h.7v.7h-.7zM477.9 364.2h.7v.7h-.7zM487.9 373.7h.7v.7h-.7zM475.1 378.8h.7v.7h-.7zM479.6 376.7h.7v.7h-.7zM479.0 376.1h.7v.7h-.7zM481.9 375.6h.7v.7h-.7zM484.0 374.8h.7v.7h-.7zM486.2 374.2h.7v.7h-.7zM472.9 380.6h.7v.7h-.7zM480.7 376.5h.7v.7h-.7zM478.0 377.2h.7v.7h-.7zM476.7 378.8h.7v.7h-.7zM479.6 376.9h.7v.7h-.7zM482.1 375.4h.7v.7h-.7zM483.7 376.4h.7v.7h-.7zM474.3 379.0h.7v.7h-.7zM473.7 380.1h.7v.7h-.7zM480.3 374.6h.7v.7h-.7zM482.0 376.7h.7v.7h-.7zM477.4 377.0h.7v.7h-.7zM483.1 375.2h.7v.7h-.7zM475.4 378.0h.7v.7h-.7zM477.6 378.6h.7v.7h-.7zM475.4 380.9h.7v.7h-.7zM479.9 376.1h.7v.7h-.7zM475.5 377.9h.7v.7h-.7zM483.1 375.8h.7v.7h-.7zM484.4 375.8h.7v.7h-.7zM470.8 379.3h.7v.7h-.7zM477.7 377.5h.7v.7h-.7zM490.4 373.0h.7v.7h-.7zM473.8 380.4h.7v.7h-.7zM481.2 375.5h.7v.7h-.7zM475.2 379.1h.7v.7h-.7zM481.1 376.4h.7v.7h-.7zM483.0 376.3h.7v.7h-.7zM478.8 377.8h.7v.7h-.7zM485.4 376.3h.7v.7h-.7zM474.2 379.4h.7v.7h-.7zM486.4 375.4h.7v.7h-.7zM480.7 375.0h.7v.7h-.7zM482.6 374.8h.7v.7h-.7zM479.3 377.8h.7v.7h-.7zM476.5 378.0h.7v.7h-.7zM472.4 381.1h.7v.7h-.7zM477.4 377.3h.7v.7h-.7zM485.9 373.4h.7v.7h-.7zM475.1 378.5h.7v.7h-.7zM485.2 374.2h.7v.7h-.7zM476.8 379.6h.7v.7h-.7zM478.7 377.2h.7v.7h-.7zM478.7 379.2h.7v.7h-.7zM482.6 375.8h.7v.7h-.7zM481.1 377.3h.7v.7h-.7zM484.7 377.4h.7v.7h-.7zM485.2 375.8h.7v.7h-.7zM474.8 378.2h.7v.7h-.7zM476.3 377.7h.7v.7h-.7zM481.7 376.1h.7v.7h-.7zM476.1 377.4h.7v.7h-.7zM478.9 376.8h.7v.7h-.7zM481.5 376.4h.7v.7h-.7zM479.4 377.6h.7v.7h-.7zM477.2 377.9h.7v.7h-.7zM487.2 373.1h.7v.7h-.7zM475.4 378.8h.7v.7h-.7zM479.9 375.8h.7v.7h-.7zM478.7 377.8h.7v.7h-.7z" fill="#000" fill-opacity="0.3"/>
<rect x="440.1" y="343.6" width="55.5" height="56.8" fill="none" stroke="#8c8c8c" stroke-width="0.6"/>
<line x1="472.8" y1="343.6" x2="472.8" y2="400.4" stroke="#555" stroke-width="0.75"/>
<line x1="440.1" y1="371.6" x2="495.6" y2="371.6" stroke="#555" stroke-width="0.75"/>
<line x1="440.1" y1="343.6" x2="440.1" y2="400.4" stroke="#444" stroke-width="0.7"/>
<line x1="440.1" y1="400.4" x2="495.6" y2="400.4" stroke="#444" stroke-width="0.7"/>
<text x="441.3" y="349.64" font-size="6" fill="#1c1c1c" stroke="#1c1c1c" stroke-width="0.3">24.1</text>
<text x="494.6" y="349.64" font-size="6" text-anchor="end" fill="#1c1c1c" stroke="#1c1c1c" stroke-width="0.3">10.0</text>
<text x="441.3" y="399.84" font-size="6" fill="#1c1c1c" stroke="#1c1c1c" stroke-width="0.3">34.8</text>
<text x="494.6" y="399.84" font-size="6" text-anchor="end" fill="#1c1c1c" stroke="#1c1c1c" stroke-width="0.3">31.1</text>
<text x="439.6" y="400.4" font-size="4.5" text-anchor="end" fill="#333" stroke="#333" stroke-width="0.15">10<tspan font-size="3.3" dy="-1.6">1</tspan></text>
<line x1="439.3" y1="399.2" x2="440.1" y2="399.2" stroke="#444" stroke-width="0.4"/>
<text x="439.6" y="390.34" font-size="4.5" text-anchor="end" fill="#333" stroke="#333" stroke-width="0.15">10<tspan font-size="3.3" dy="-1.6">2</tspan></text>
<line x1="439.3" y1="389.14" x2="440.1" y2="389.14" stroke="#444" stroke-width="0.4"/>
<text x="439.6" y="380.28" font-size="4.5" text-anchor="end" fill="#333" stroke="#333" stroke-width="0.15">10<tspan font-size="3.3" dy="-1.6">3</tspan></text>
<line x1="439.3" y1="379.08" x2="440.1" y2="379.08" stroke="#444" stroke-width="0.4"/>
<text x="439.6" y="370.22" font-size="4.5" text-anchor="end" fill="#333" stroke="#333" stroke-width="0.15">10<tspan font-size="3.3" dy="-1.6">4</tspan></text>
<line x1="439.3" y1="369.02" x2="440.1" y2="369.02" stroke="#444" stroke-width="0.4"/>
<text x="439.6" y="360.16" font-size="4.5" text-anchor="end" fill="#333" stroke="#333" stroke-width="0.15">10<tspan font-size="3.3" dy="-1.6">5</tspan></text>
<line x1="439.3" y1="358.96" x2="440.1" y2="358.96" stroke="#444" stroke-width="0.4"/>
<text x="439.6" y="350.1" font-size="4.5" text-anchor="end" fill="#333" stroke="#333" stroke-width="0.15">10<tspan font-size="3.3" dy="-1.6">6</tspan></text>
<line x1="439.3" y1="348.9" x2="440.1" y2="348.9" stroke="#444" stroke-width="0.4"/>
<text x="449.54" y="404.4" font-size="4.5" text-anchor="middle" fill="#333" stroke="#333" stroke-width="0.15">10<tspan font-size="3.3" dy="-1.6">2</tspan></text>
<line x1="449.54" y1="400.4" x2="449.54" y2="401.2" stroke="#444" stroke-width="0.4"/>
<text x="463.69" y="404.4" font-size="4.5" text-anchor="middle" fill="#333" stroke="#333" stroke-width="0.15">10<tspan font-size="3.3" dy="-1.6">3</tspan></text>
<line x1="463.69" y1="400.4" x2="463.69" y2="401.2" stroke="#444" stroke-width="0.4"/>
<text x="477.84" y="404.4" font-size="4.5" text-anchor="middle" fill="#333" stroke="#333" stroke-width="0.15">10<tspan font-size="3.3" dy="-1.6">4</tspan></text>
<line x1="477.84" y1="400.4" x2="477.84" y2="401.2" stroke="#444" stroke-width="0.4"/>
<text x="491.99" y="404.4" font-size="4.5" text-anchor="middle" fill="#333" stroke="#333" stroke-width="0.15">10<tspan font-size="3.3" dy="-1.6">5</tspan></text>
<line x1="491.99" y1="400.4" x2="491.99" y2="401.2" stroke="#444" stroke-width="0.4"/>
<rect x="369.6" y="411.8" width="55" height="56.2" fill="#fff"/>
<ellipse cx="390" cy="441" rx="8.5" ry="7.5" fill="url(#rg)" opacity="0.8" transform="rotate(0 390 441)"/>
<ellipse cx="409" cy="431" rx="3.6" ry="2" fill="url(#rg)" opacity="0.7" transform="rotate(-20 409 431)"/>
<ellipse cx="408.8" cy="447" rx="5" ry="2.4" fill="url(#rg)" opacity="0.9" transform="rotate(-35 408.8 447)"/>
<path d="M393.3 443.2h.7v.7h-.7zM387.6 445.8h.7v.7h-.7zM395.1 447.3h.7v.7h-.7zM386.6 441.8h.7v.7h-.7zM387.6 436.4h.7v.7h-.7zM389.0 443.4h.7v.7h-.7zM385.7 439.0h.7v.7h-.7zM388.5 443.1h.7v.7h-.7zM389.9 436.4h.7v.7h-.7zM390.0 440.3h.7v.7h-.7zM387.3 436.4h.7v.7h-.7zM401.4 437.6h.7v.7h-.7zM399.0 445.2h.7v.7h-.7zM389.2 439.1h.7v.7h-.7zM379.9 446.4h.7v.7h-.7zM391.4 436.6h.7v.7h-.7zM379.8 442.3h.7v.7h-.7zM395.2 434.2h.7v.7h-.7zM389.9 435.7h.7v.7h-.7zM393.6 442.9h.7v.7h-.7zM386.7 444.1h.7v.7h-.7zM388.1 443.8h.7v.7h-.7zM391.1 448.1h.7v.7h-.7zM392.9 437.1h.7v.7h-.7zM382.7 448.9h.7v.7h-.7zM399.1 442.5h.7v.7h-.7zM389.3 441.0h.7v.7h-.7zM386.4 446.2h.7v.7h-.7zM395.1 439.2h.7v.7h-.7zM387.2 446.0h.7v.7h-.7zM390.1 440.6h.7v.7h-.7zM383.8 450.5h.7v.7h-.7zM385.9 441.0h.7v.7h-.7zM391.3 446.0h.7v.7h-.7zM398.9 444.1h.7v.7h-.7zM387.1 441.2h.7v.7h-.7zM382.0 443.2h.7v.7h-.7zM395.2 440.2h.7v.7h-.7zM394.9 441.8h.7v.7h-.7zM385.6 445.7h.7v.7h-.7zM388.5 442.8h.7v.7h-.7zM388.0 440.4h.7v.7h-.7zM384.9 427.0h.7v.7h-.7zM393.5 432.4h.7v.7h-.7zM381.9 435.6h.7v.7h-.7zM384.2 436.7h.7v.7h-.7zM383.6 438.7h.7v.7h-.7zM387.1 441.2h.7v.7h-.7zM391.9 443.3h.7v.7h-.7zM382.9 440.9h.7v.7h-.7zM387.6 432.9h.7v.7h-.7zM387.7 436.5h.7v.7h-.7zM384.2 441.3h.7v.7h-.7zM390.7 440.0h.7v.7h-.7zM389.5 439.5h.7v.7h-.7zM394.0 439.1h.7v.7h-.7zM387.9 439.9h.7v.7h-.7zM397.2 443.6h.7v.7h-.7zM390.9 438.5h.7v.7h-.7zM391.6 433.3h.7v.7h-.7zM391.8 438.1h.7v.7h-.7zM385.5 447.2h.7v.7h-.7zM389.5 438.0h.7v.7h-.7zM395.7 442.3h.7v.7h-.7zM391.8 441.7h.7v.7h-.7zM391.1 432.1h.7v.7h-.7zM391.3 445.7h.7v.7h-.7zM395.3 438.6h.7v.7h-.7zM393.5 444.7h.7v.7h-.7zM386.4 446.9h.7v.7h-.7zM389.9 443.2h.7v.7h-.7zM391.2 446.0h.7v.7h-.7zM391.7 443.8h.7v.7h-.7zM392.5 440.5h.7v.7h-.7zM394.9 444.3h.7v.7h-.7zM391.8 439.7h.7v.7h-.7zM400.0 438.3h.7v.7h-.7zM388.0 443.1h.7v.7h-.7zM395.3 439.5h.7v.7h-.7zM389.9 436.0h.7v.7h-.7zM387.8 436.3h.7v.7h-.7zM393.4 434.0h.7v.7h-.7zM389.9 440.3h.7v.7h-.7zM383.8 439.4h.7v.7h-.7zM390.7 440.8h.7v.7h-.7zM383.5 440.8h.7v.7h-.7zM389.3 449.5h.7v.7h-.7zM384.1 443.9h.7v.7h-.7zM381.0 439.2h.7v.7h-.7zM387.1 437.1h.7v.7h-.7zM391.4 441.6h.7v.7h-.7zM378.7 444.9h.7v.7h-.7zM394.5 441.2h.7v.7h-.7zM377.0 437.1h.7v.7h-.7zM379.6 439.5h.7v.7h-.7zM399.1 438.8h.7v.7h-.7zM389.9 441.7h.7v.7h-.7zM388.7 433.3h.7v.7h-.7zM401.4 441.1h.7v.7h-.7zM389.6 442.3h.7v.7h-.7zM390.9 435.1h.7v.7h-.7zM390.2 442.0h.7v.7h-.7zM387.5 444.2h.7v.7h-.7zM386.9 438.5h.7v.7h-.7zM379.6 446.0h.7v.7h-.7zM388.9 444.0h.7v.7h-.7zM393.3 445.0h.7v.7h-.7zM398.3 438.9h.7v.7h-.7zM393.6 436.2h.7v.7h-.7zM387.9 436.3h.7v.7h-.7zM383.1 434.8h.7v.7h-.7zM394.5 435.6h.7v.7h-.7zM388.4 442.3h.7v.7h-.7zM393.3 441.2h.7v.7h-.7zM391.6 435.4h.7v.7h-.7zM383.2 434.5h.7v.7h-.7zM387.0 442.4h.7v.7h-.7zM387.4 439.3h.7v.7h-.7zM390.9 446.3h.7v.7h-.7zM391.9 440.2h.7v.7h-.7zM390.9 434.7h.7v.7h-.7zM384.9 443.2h.7v.7h-.7zM379.6 432.1h.7v.7h-.7zM383.4 438.5h.7v.7h-.7zM383.9 444.6h.7v.7h-.7zM392.5 435.5h.7v.7h-.7zM394.3 435.6h.7v.7h-.7zM383.3 441.8h.7v.7h-.7zM394.8 437.5h.7v.7h-.7zM386.4 441.6h.7v.7h-.7zM390.1 444.2h.7v.7h-.7zM391.8 448.5h.7v.7h-.7zM388.3 437.8h.7v.7h-.7zM390.2 460.2h.7v.7h-.7zM378.4 446.0h.7v.7h-.7zM384.5 420.8h.7v.7h-.7zM385.6 456.7h.7v.7h-.7zM395.4 446.8h.7v.7h-.7zM403.9 457.2h.7v.7h-.7zM381.4 431.4h.7v.7h-.7zM407.2 455.3h.7v.7h-.7zM379.1 457.8h.7v.7h-.7zM380.4 442.9h.7v.7h-.7zM390.6 444.9h.7v.7h-.7zM372.3 436.6h.7v.7h-.7zM387.2 446.7h.7v.7h-.7zM386.1 437.2h.7v.7h-.7zM373.9 435.5h.7v.7h-.7zM389.0 440.6h.7v.7h-.7zM392.7 448.1h.7v.7h-.7zM382.5 439.2h.7v.7h-.7zM386.7 448.1h.7v.7h-.7zM393.0 447.6h.7v.7h-.7zM378.0 452.8h.7v.7h-.7zM397.8 458.6h.7v.7h-.7zM384.1 450.1h.7v.7h-.7zM391.4 443.8h.7v.7h-.7zM388.6 445.4h.7v.7h-.7zM387.3 453.7h.7v.7h-.7zM381.6 437.1h.7v.7h-.7zM403.0 455.4h.7v.7h-.7zM380.0 431.0h.7v.7h-.7zM394.8 444.2h.7v.7h-.7zM400.1 433.3h.7v.7h-.7zM382.8 451.5h.7v.7h-.7zM374.5 441.2h.7v.7h-.7zM382.6 437.3h.7v.7h-.7zM394.0 446.8h.7v.7h-.7zM375.7 436.4h.7v.7h-.7zM376.9 440.2h.7v.7h-.7zM383.9 446.2h.7v.7h-.7zM400.8 450.2h.7v.7h-.7zM388.9 452.8h.7v.7h-.7zM378.6 431.1h.7v.7h-.7zM376.1 435.5h.7v.7h-.7zM377.7 444.6h.7v.7h-.7zM387.3 446.4h.7v.7h-.7zM383.9 428.6h.7v.7h-.7zM388.0 434.6h.7v.7h-.7zM394.1 432.9h.7v.7h-.7zM394.6 445.7h.7v.7h-.7zM382.3 432.2h.7v.7h-.7zM379.6 431.3h.7v.7h-.7zM384.9 450.8h.7v.7h-.7zM389.4 422.9h.7v.7h-.7zM383.4 431.9h.7v.7h-.7zM378.5 449.6h.7v.7h-.7zM382.7 444.8h.7v.7h-.7zM392.0 449.9h.7v.7h-.7zM384.0 429.9h.7v.7h-.7zM391.0 451.1h.7v.7h-.7zM389.7 453.6h.7v.7h-.7zM399.8 445.1h.7v.7h-.7zM383.5 446.1h.7v.7h-.7zM387.1 452.4h.7v.7h-.7zM378.1 431.2h.7v.7h-.7zM390.1 440.1h.7v.7h-.7zM377.8 437.9h.7v.7h-.7zM390.4 451.8h.7v.7h-.7zM387.3 430.5h.7v.7h-.7zM394.9 440.8h.7v.7h-.7zM381.1 446.1h.7v.7h-.7zM388.8 445.0h.7v.7h-.7zM392.5 447.6h.7v.7h-.7zM380.1 440.0h.7v.7h-.7zM370.3 439.8h.7v.7h-.7zM393.3 441.1h.7v.7h-.7zM404.8 464.9h.7v.7h-.7zM387.2 426.9h.7v.7h-.7zM389.4 441.2h.7v.7h-.7zM394.6 447.9h.7v.7h-.7zM396.9 440.1h.7v.7h-.7zM389.0 446.2h.7v.7h-.7zM387.3 434.7h.7v.7h-.7zM374.9 443.3h.7v.7h-.7zM381.1 447.1h.7v.7h-.7zM380.2 434.9h.7v.7h-.7zM390.2 454.8h.7v.7h-.7zM378.0 453.7h.7v.7h-.7zM390.3 451.6h.7v.7h-.7zM391.7 445.5h.7v.7h-.7zM400.0 451.5h.7v.7h-.7zM387.0 427.6h.7v.7h-.7zM387.0 449.6h.7v.7h-.7zM396.6 436.3h.7v.7h-.7zM378.2 447.4h.7v.7h-.7zM391.4 451.0h.7v.7h-.7zM389.6 430.6h.7v.7h-.7zM375.3 440.7h.7v.7h-.7zM384.1 426.3h.7v.7h-.7zM371.8 449.8h.7v.7h-.7zM383.0 437.4h.7v.7h-.7zM396.8 447.3h.7v.7h-.7zM375.2 431.6h.7v.7h-.7zM387.2 451.2h.7v.7h-.7zM391.5 444.3h.7v.7h-.7zM398.1 447.8h.7v.7h-.7zM387.8 440.5h.7v.7h-.7zM394.5 442.6h.7v.7h-.7zM398.2 460.7h.7v.7h-.7zM382.9 444.2h.7v.7h-.7zM393.9 442.9h.7v.7h-.7zM391.4 431.0h.7v.7h-.7zM395.3 459.6h.7v.7h-.7zM387.5 450.2h.7v.7h-.7zM406.4 453.1h.7v.7h-.7zM391.1 438.8h.7v.7h-.7zM373.6 430.7h.7v.7h-.7zM380.7 428.2h.7v.7h-.7zM408.5 459.7h.7v.7h-.7zM375.2 448.7h.7v.7h-.7zM409.8 433.0h.7v.7h-.7zM407.9 431.0h.7v.7h-.7zM408.3 430.9h.7v.7h-.7zM412.0 429.8h.7v.7h-.7zM411.7 430.5h.7v.7h-.7zM410.2 428.8h.7v.7h-.7zM408.0 430.7h.7v.7h-.7zM413.3 428.6h.7v.7h-.7zM412.4 430.3h.7v.7h-.7zM407.4 430.1h.7v.7h-.7zM412.5 431.5h.7v.7h-.7zM408.6 432.6h.7v.7h-.7zM411.9 430.4h.7v.7h-.7zM404.5 430.9h.7v.7h-.7zM406.8 431.4h.7v.7h-.7zM409.6 428.3h.7v.7h-.7zM410.0 429.4h.7v.7h-.7zM410.0 431.4h.7v.7h-.7zM408.9 429.5h.7v.7h-.7zM410.3 431.3h.7v.7h-.7zM407.1 431.1h.7v.7h-.7zM406.5 432.4h.7v.7h-.7zM409.5 433.8h.7v.7h-.7zM408.0 430.0h.7v.7h-.7zM409.1 432.4h.7v.7h-.7zM411.1 430.4h.7v.7h-.7zM409.9 430.8h.7v.7h-.7zM404.1 449.4h.7v.7h-.7zM406.5 448.3h.7v.7h-.7zM407.6 447.6h.7v.7h-.7zM410.5 444.8h.7v.7h-.7zM414.4 444.6h.7v.7h-.7zM415.0 444.4h.7v.7h-.7zM409.2 446.0h.7v.7h-.7zM408.8 447.8h.7v.7h-.7zM411.9 444.9h.7v.7h-.7zM408.0 445.9h.7v.7h-.7zM408.1 448.2h.7v.7h-.7zM407.2 449.7h.7v.7h-.7zM407.7 447.7h.7v.7h-.7zM406.4 447.5h.7v.7h-.7zM406.5 450.1h.7v.7h-.7zM410.5 447.0h.7v.7h-.7zM409.4 445.6h.7v.7h-.7zM406.5 447.6h.7v.7h-.7zM403.4 447.7h.7v.7h-.7zM403.5 450.5h.7v.7h-.7zM409.9 445.3h.7v.7h-.7zM411.1 446.2h.7v.7h-.7zM411.4 446.2h.7v.7h-.7zM408.7 445.8h.7v.7h-.7zM408.3 448.5h.7v.7h-.7zM405.9 450.5h.7v.7h-.7zM412.9 445.3h.7v.7h-.7zM414.8 445.3h.7v.7h-.7zM411.6 444.0h.7v.7h-.7zM409.5 447.4h.7v.7h-.7zM409.8 446.9h.7v.7h-.7zM409.1 445.0h.7v.7h-.7zM414.0 444.2h.7v.7h-.7zM408.7 447.0h.7v.7h-.7zM410.9 446.0h.7v.7h-.7zM409.9 446.4h.7v.7h-.7zM418.9 442.8h.7v.7h-.7zM406.8 447.4h.7v.7h-.7zM406.2 447.3h.7v.7h-.7zM404.9 449.4h.7v.7h-.7z" fill="#000" fill-opacity="0.3"/>
<path d="M385.7 439.5h.7v.7h-.7zM389.2 437.3h.7v.7h-.7zM390.3 445.7h.7v.7h-.7zM393.8 445.8h.7v.7h-.7zM389.1 434.4h.7v.7h-.7zM388.4 441.0h.7v.7h-.7zM389.5 441.9h.7v.7h-.7zM391.8 445.0h.7v.7h-.7zM385.3 438.9h.7v.7h-.7zM393.2 441.9h.7v.7h-.7zM392.5 442.9h.7v.7h-.7zM388.9 442.2h.7v.7h-.7zM393.2 443.7h.7v.7h-.7zM390.5 445.1h.7v.7h-.7zM401.7 447.0h.7v.7h-.7zM393.6 438.6h.7v.7h-.7zM386.5 434.7h.7v.7h-.7zM395.3 450.1h.7v.7h-.7zM392.7 442.7h.7v.7h-.7zM397.8 434.9h.7v.7h-.7zM388.4 448.8h.7v.7h-.7zM394.1 436.2h.7v.7h-.7zM396.1 437.3h.7v.7h-.7zM394.6 442.7h.7v.7h-.7zM389.1 447.2h.7v.7h-.7zM397.0 434.3h.7v.7h-.7zM391.7 448.5h.7v.7h-.7zM387.9 443.1h.7v.7h-.7zM390.2 434.6h.7v.7h-.7zM379.6 432.7h.7v.7h-.7zM389.7 444.3h.7v.7h-.7zM378.2 440.2h.7v.7h-.7zM394.3 446.4h.7v.7h-.7zM397.0 439.5h.7v.7h-.7zM391.2 451.8h.7v.7h-.7zM390.4 447.8h.7v.7h-.7zM387.7 442.9h.7v.7h-.7zM393.1 443.4h.7v.7h-.7zM394.9 431.9h.7v.7h-.7zM392.8 440.8h.7v.7h-.7zM390.7 431.2h.7v.7h-.7zM387.0 438.8h.7v.7h-.7zM387.1 432.1h.7v.7h-.7zM394.3 443.1h.7v.7h-.7zM382.8 436.0h.7v.7h-.7zM391.0 439.5h.7v.7h-.7zM390.2 436.8h.7v.7h-.7zM396.7 438.0h.7v.7h-.7zM389.2 441.1h.7v.7h-.7zM390.4 444.1h.7v.7h-.7zM389.7 438.2h.7v.7h-.7zM384.5 444.0h.7v.7h-.7zM381.4 438.7h.7v.7h-.7zM394.0 441.7h.7v.7h-.7zM391.4 438.9h.7v.7h-.7zM383.4 440.5h.7v.7h-.7zM393.4 438.6h.7v.7h-.7zM391.1 436.4h.7v.7h-.7zM389.7 440.0h.7v.7h-.7zM384.9 433.7h.7v.7h-.7zM391.1 437.4h.7v.7h-.7zM383.1 446.4h.7v.7h-.7zM389.6 443.7h.7v.7h-.7zM391.4 440.5h.7v.7h-.7zM385.4 450.4h.7v.7h-.7zM385.8 433.9h.7v.7h-.7zM393.8 446.1h.7v.7h-.7zM386.7 447.6h.7v.7h-.7zM382.9 440.3h.7v.7h-.7zM392.3 437.1h.7v.7h-.7zM391.0 432.1h.7v.7h-.7zM383.3 443.1h.7v.7h-.7zM386.8 441.6h.7v.7h-.7zM381.6 436.9h.7v.7h-.7zM380.8 440.3h.7v.7h-.7zM398.5 447.4h.7v.7h-.7zM395.7 449.3h.7v.7h-.7zM391.3 449.5h.7v.7h-.7zM387.9 450.8h.7v.7h-.7zM379.2 445.5h.7v.7h-.7zM384.3 441.5h.7v.7h-.7zM389.6 435.4h.7v.7h-.7zM386.8 433.9h.7v.7h-.7zM386.2 441.9h.7v.7h-.7zM394.0 432.4h.7v.7h-.7zM387.8 443.4h.7v.7h-.7zM394.0 447.2h.7v.7h-.7zM394.5 437.4h.7v.7h-.7zM397.8 450.6h.7v.7h-.7zM378.5 445.0h.7v.7h-.7zM380.7 447.5h.7v.7h-.7zM394.7 438.0h.7v.7h-.7zM398.3 439.7h.7v.7h-.7zM394.8 441.9h.7v.7h-.7zM392.3 443.9h.7v.7h-.7zM393.4 433.7h.7v.7h-.7zM386.8 439.4h.7v.7h-.7zM396.1 443.5h.7v.7h-.7zM392.3 432.4h.7v.7h-.7zM386.0 448.6h.7v.7h-.7zM392.6 443.6h.7v.7h-.7zM384.9 433.2h.7v.7h-.7zM377.8 435.7h.7v.7h-.7zM384.2 444.8h.7v.7h-.7zM391.7 443.3h.7v.7h-.7zM391.9 439.7h.7v.7h-.7zM389.8 449.2h.7v.7h-.7zM381.7 447.1h.7v.7h-.7zM383.0 440.1h.7v.7h-.7zM390.1 440.7h.7v.7h-.7zM388.5 447.7h.7v.7h-.7zM394.8 439.1h.7v.7h-.7zM384.4 440.5h.7v.7h-.7zM384.7 445.6h.7v.7h-.7zM397.5 445.7h.7v.7h-.7zM392.0 443.6h.7v.7h-.7zM382.4 440.8h.7v.7h-.7zM396.7 448.9h.7v.7h-.7zM385.6 443.7h.7v.7h-.7zM388.1 445.6h.7v.7h-.7zM386.0 434.9h.7v.7h-.7zM393.8 439.7h.7v.7h-.7zM393.4 443.8h.7v.7h-.7zM392.6 437.3h.7v.7h-.7zM392.1 435.5h.7v.7h-.7zM388.9 431.1h.7v.7h-.7zM385.9 444.4h.7v.7h-.7zM376.5 441.2h.7v.7h-.7zM388.6 455.0h.7v.7h-.7zM381.7 443.1h.7v.7h-.7zM371.0 437.1h.7v.7h-.7zM374.5 454.4h.7v.7h-.7zM390.9 442.5h.7v.7h-.7zM382.1 454.0h.7v.7h-.7zM391.3 439.5h.7v.7h-.7zM383.2 450.7h.7v.7h-.7zM376.1 440.6h.7v.7h-.7zM382.1 440.2h.7v.7h-.7zM383.7 444.3h.7v.7h-.7zM384.4 438.2h.7v.7h-.7zM386.4 439.5h.7v.7h-.7zM389.4 444.6h.7v.7h-.7zM390.8 440.5h.7v.7h-.7zM391.7 450.0h.7v.7h-.7zM379.5 436.8h.7v.7h-.7zM405.2 426.5h.7v.7h-.7zM373.6 443.5h.7v.7h-.7zM385.7 457.5h.7v.7h-.7zM376.4 441.3h.7v.7h-.7zM383.6 436.5h.7v.7h-.7zM386.3 447.6h.7v.7h-.7zM377.9 442.6h.7v.7h-.7zM381.2 447.6h.7v.7h-.7zM389.3 449.3h.7v.7h-.7zM390.0 445.8h.7v.7h-.7zM383.8 441.8h.7v.7h-.7zM391.7 439.0h.7v.7h-.7zM387.7 445.0h.7v.7h-.7zM386.1 453.5h.7v.7h-.7zM389.3 450.1h.7v.7h-.7zM388.3 450.8h.7v.7h-.7zM411.8 444.7h.7v.7h-.7zM386.9 457.6h.7v.7h-.7zM383.6 436.9h.7v.7h-.7zM390.8 440.2h.7v.7h-.7zM383.5 446.7h.7v.7h-.7zM388.0 435.4h.7v.7h-.7zM386.6 451.0h.7v.7h-.7zM396.3 454.6h.7v.7h-.7zM385.6 440.1h.7v.7h-.7zM385.8 439.9h.7v.7h-.7zM392.9 447.9h.7v.7h-.7zM393.4 434.0h.7v.7h-.7zM388.8 446.8h.7v.7h-.7zM375.9 444.5h.7v.7h-.7zM388.0 453.5h.7v.7h-.7zM375.4 444.1h.7v.7h-.7zM394.5 442.2h.7v.7h-.7zM383.4 451.0h.7v.7h-.7zM380.2 440.9h.7v.7h-.7zM384.9 442.8h.7v.7h-.7zM382.1 456.7h.7v.7h-.7zM388.0 446.1h.7v.7h-.7zM390.6 445.7h.7v.7h-.7zM388.0 450.9h.7v.7h-.7zM391.1 437.1h.7v.7h-.7zM377.1 447.9h.7v.7h-.7zM389.0 459.7h.7v.7h-.7zM386.6 440.5h.7v.7h-.7zM405.2 452.6h.7v.7h-.7zM381.6 461.1h.7v.7h-.7zM389.8 452.8h.7v.7h-.7zM399.8 449.6h.7v.7h-.7zM397.8 449.3h.7v.7h-.7zM378.2 442.2h.7v.7h-.7zM381.6 450.7h.7v.7h-.7zM396.3 437.5h.7v.7h-.7zM374.3 444.2h.7v.7h-.7zM396.2 441.3h.7v.7h-.7zM391.7 444.0h.7v.7h-.7zM395.3 431.4h.7v.7h-.7zM380.2 444.6h.7v.7h-.7zM371.0 444.4h.7v.7h-.7zM376.7 437.1h.7v.7h-.7zM386.8 444.8h.7v.7h-.7zM382.2 448.1h.7v.7h-.7zM383.8 440.9h.7v.7h-.7zM397.3 456.0h.7v.7h-.7zM386.2 442.4h.7v.7h-.7zM375.2 464.7h.7v.7h-.7zM389.8 446.0h.7v.7h-.7zM394.0 447.1h.7v.7h-.7zM375.4 453.0h.7v.7h-.7zM385.0 443.7h.7v.7h-.7zM387.2 446.1h.7v.7h-.7zM382.8 446.4h.7v.7h-.7zM386.1 442.5h.7v.7h-.7zM384.0 431.2h.7v.7h-.7zM389.4 454.9h.7v.7h-.7zM384.6 452.2h.7v.7h-.7zM400.0 445.7h.7v.7h-.7zM389.9 434.7h.7v.7h-.7zM393.5 454.3h.7v.7h-.7zM413.8 448.5h.7v.7h-.7zM380.4 444.5h.7v.7h-.7zM383.4 445.8h.7v.7h-.7zM390.1 444.6h.7v.7h-.7zM386.5 437.6h.7v.7h-.7zM397.2 442.7h.7v.7h-.7zM399.6 454.0h.7v.7h-.7zM391.9 443.4h.7v.7h-.7zM379.5 436.8h.7v.7h-.7zM405.3 444.7h.7v.7h-.7zM394.1 439.9h.7v.7h-.7zM393.0 431.1h.7v.7h-.7zM381.5 426.9h.7v.7h-.7zM388.8 464.6h.7v.7h-.7zM386.4 449.6h.7v.7h-.7zM379.7 435.2h.7v.7h-.7zM389.9 457.8h.7v.7h-.7zM392.5 437.2h.7v.7h-.7zM385.0 450.7h.7v.7h-.7zM396.2 449.3h.7v.7h-.7zM383.2 438.5h.7v.7h-.7zM383.8 448.2h.7v.7h-.7zM391.6 433.3h.7v.7h-.7zM388.9 447.6h.7v.7h-.7zM388.3 454.7h.7v.7h-.7zM374.7 443.2h.7v.7h-.7zM385.0 423.9h.7v.7h-.7zM397.7 455.1h.7v.7h-.7zM405.8 432.7h.7v.7h-.7zM410.3 434.3h.7v.7h-.7zM409.8 430.6h.7v.7h-.7zM407.6 430.9h.7v.7h-.7zM404.5 434.4h.7v.7h-.7zM407.7 431.8h.7v.7h-.7zM408.1 432.3h.7v.7h-.7zM405.9 434.2h.7v.7h-.7zM406.4 430.0h.7v.7h-.7zM407.1 429.8h.7v.7h-.7zM405.8 431.3h.7v.7h-.7zM415.2 430.1h.7v.7h-.7zM411.5 429.0h.7v.7h-.7zM410.8 430.0h.7v.7h-.7zM410.0 430.7h.7v.7h-.7zM403.8 433.9h.7v.7h-.7zM409.8 430.5h.7v.7h-.7zM410.3 430.6h.7v.7h-.7zM413.6 430.0h.7v.7h-.7zM409.3 429.0h.7v.7h-.7zM410.3 431.6h.7v.7h-.7zM407.3 432.6h.7v.7h-.7zM408.9 430.8h.7v.7h-.7zM414.2 429.6h.7v.7h-.7zM404.8 432.9h.7v.7h-.7zM414.4 429.3h.7v.7h-.7zM411.2 445.5h.7v.7h-.7zM407.5 446.7h.7v.7h-.7zM412.4 446.5h.7v.7h-.7zM410.4 446.8h.7v.7h-.7zM410.9 445.6h.7v.7h-.7zM415.6 442.9h.7v.7h-.7zM408.7 447.0h.7v.7h-.7zM403.9 450.0h.7v.7h-.7zM407.9 446.5h.7v.7h-.7zM405.8 448.1h.7v.7h-.7zM407.3 448.7h.7v.7h-.7zM403.8 449.1h.7v.7h-.7zM405.9 447.5h.7v.7h-.7zM404.9 449.5h.7v.7h-.7zM410.2 446.0h.7v.7h-.7zM405.6 449.6h.7v.7h-.7zM407.9 447.4h.7v.7h-.7zM407.3 447.8h.7v.7h-.7zM408.7 445.5h.7v.7h-.7zM408.1 448.9h.7v.7h-.7zM401.7 451.0h.7v.7h-.7zM414.0 447.1h.7v.7h-.7zM409.6 446.3h.7v.7h-.7zM402.8 451.0h.7v.7h-.7zM408.1 445.2h.7v.7h-.7zM409.6 445.3h.7v.7h-.7zM411.2 445.7h.7v.7h-.7zM407.9 447.9h.7v.7h-.7zM412.1 445.3h.7v.7h-.7zM403.5 449.8h.7v.7h-.7zM409.3 448.1h.7v.7h-.7zM404.4 447.0h.7v.7h-.7zM406.3 447.4h.7v.7h-.7zM414.4 443.6h.7v.7h-.7zM402.3 450.6h.7v.7h-.7zM410.5 445.5h.7v.7h-.7zM410.1 447.9h.7v.7h-.7zM406.3 450.3h.7v.7h-.7zM414.4 443.9h.7v.7h-.7zM400.4 449.8h.7v.7h-.7z" fill="#000" fill-opacity="0.3"/>
<path d="M401.7 435.6h.7v.7h-.7zM383.4 443.4h.7v.7h-.7zM384.8 441.8h.7v.7h-.7zM385.1 446.7h.7v.7h-.7zM390.0 442.3h.7v.7h-.7zM382.8 441.2h.7v.7h-.7zM381.8 434.0h.7v.7h-.7zM396.5 443.2h.7v.7h-.7zM391.3 442.0h.7v.7h-.7zM391.5 442.4h.7v.7h-.7zM388.9 439.1h.7v.7h-.7zM384.2 441.5h.7v.7h-.7zM390.6 445.3h.7v.7h-.7zM391.7 444.0h.7v.7h-.7zM388.4 437.2h.7v.7h-.7zM394.8 447.1h.7v.7h-.7zM386.9 440.0h.7v.7h-.7zM393.0 443.5h.7v.7h-.7zM393.7 452.6h.7v.7h-.7zM384.3 439.3h.7v.7h-.7zM397.6 444.5h.7v.7h-.7zM391.7 444.2h.7v.7h-.7zM390.6 437.2h.7v.7h-.7zM394.9 440.3h.7v.7h-.7zM392.2 444.0h.7v.7h-.7zM394.4 439.9h.7v.7h-.7zM380.7 441.2h.7v.7h-.7zM388.0 444.0h.7v.7h-.7zM391.5 444.9h.7v.7h-.7zM383.1 438.8h.7v.7h-.7zM387.6 435.3h.7v.7h-.7zM397.3 443.2h.7v.7h-.7zM385.5 444.4h.7v.7h-.7zM382.8 442.8h.7v.7h-.7zM384.8 445.1h.7v.7h-.7zM385.3 438.6h.7v.7h-.7zM384.6 439.4h.7v.7h-.7zM388.2 434.0h.7v.7h-.7zM381.7 431.4h.7v.7h-.7zM390.7 444.4h.7v.7h-.7zM388.1 447.1h.7v.7h-.7zM395.6 439.8h.7v.7h-.7zM380.9 444.6h.7v.7h-.7zM386.1 444.3h.7v.7h-.7zM394.4 435.0h.7v.7h-.7zM394.3 437.8h.7v.7h-.7zM391.4 449.2h.7v.7h-.7zM385.7 436.0h.7v.7h-.7zM396.3 444.8h.7v.7h-.7zM388.8 438.0h.7v.7h-.7zM392.2 436.3h.7v.7h-.7zM387.5 442.8h.7v.7h-.7zM387.3 443.4h.7v.7h-.7zM392.5 444.3h.7v.7h-.7zM391.7 445.8h.7v.7h-.7zM389.1 445.8h.7v.7h-.7zM389.0 448.5h.7v.7h-.7zM392.6 441.0h.7v.7h-.7zM391.3 447.2h.7v.7h-.7zM385.8 443.3h.7v.7h-.7zM382.7 434.5h.7v.7h-.7zM396.4 440.0h.7v.7h-.7zM389.8 445.3h.7v.7h-.7zM391.5 435.8h.7v.7h-.7zM384.9 436.9h.7v.7h-.7zM384.9 440.2h.7v.7h-.7zM392.7 438.7h.7v.7h-.7zM393.7 441.7h.7v.7h-.7zM383.8 441.3h.7v.7h-.7zM389.6 435.3h.7v.7h-.7zM388.0 443.0h.7v.7h-.7zM386.5 441.6h.7v.7h-.7zM383.9 434.4h.7v.7h-.7zM389.8 447.7h.7v.7h-.7zM392.1 442.5h.7v.7h-.7zM389.2 436.3h.7v.7h-.7zM385.0 442.0h.7v.7h-.7zM392.7 440.7h.7v.7h-.7zM385.6 438.5h.7v.7h-.7zM385.8 438.3h.7v.7h-.7zM401.7 444.0h.7v.7h-.7zM393.6 439.7h.7v.7h-.7zM392.6 434.5h.7v.7h-.7zM394.8 441.9h.7v.7h-.7zM391.5 436.5h.7v.7h-.7zM395.2 430.3h.7v.7h-.7zM390.2 434.3h.7v.7h-.7zM388.4 441.9h.7v.7h-.7zM389.2 449.0h.7v.7h-.7zM387.8 451.3h.7v.7h-.7zM387.9 440.0h.7v.7h-.7zM390.2 442.5h.7v.7h-.7zM386.7 438.6h.7v.7h-.7zM385.6 442.3h.7v.7h-.7zM385.9 444.9h.7v.7h-.7zM379.9 443.5h.7v.7h-.7zM393.8 448.5h.7v.7h-.7zM393.2 441.6h.7v.7h-.7zM386.8 437.7h.7v.7h-.7zM384.4 438.7h.7v.7h-.7zM388.3 449.4h.7v.7h-.7zM386.6 439.3h.7v.7h-.7zM380.6 446.8h.7v.7h-.7zM387.7 441.8h.7v.7h-.7zM395.9 439.9h.7v.7h-.7zM390.0 438.5h.7v.7h-.7zM382.1 439.7h.7v.7h-.7zM392.5 435.4h.7v.7h-.7zM387.4 435.8h.7v.7h-.7zM393.5 438.7h.7v.7h-.7zM394.0 437.9h.7v.7h-.7zM393.6 443.6h.7v.7h-.7zM395.2 459.3h.7v.7h-.7zM381.5 437.2h.7v.7h-.7zM386.9 438.3h.7v.7h-.7zM391.5 442.0h.7v.7h-.7zM397.2 446.8h.7v.7h-.7zM382.3 438.9h.7v.7h-.7zM388.3 451.5h.7v.7h-.7zM393.2 435.9h.7v.7h-.7zM383.1 437.7h.7v.7h-.7zM384.2 444.4h.7v.7h-.7zM394.7 439.8h.7v.7h-.7zM386.3 434.5h.7v.7h-.7zM384.4 438.3h.7v.7h-.7zM383.5 442.7h.7v.7h-.7zM392.7 443.7h.7v.7h-.7zM391.7 447.0h.7v.7h-.7zM392.3 459.0h.7v.7h-.7zM382.0 434.5h.7v.7h-.7zM394.9 448.1h.7v.7h-.7zM393.6 460.6h.7v.7h-.7zM382.0 448.8h.7v.7h-.7zM378.6 447.7h.7v.7h-.7zM379.6 443.5h.7v.7h-.7zM396.3 450.7h.7v.7h-.7zM383.8 442.9h.7v.7h-.7zM377.6 430.9h.7v.7h-.7zM391.1 439.4h.7v.7h-.7zM387.6 458.6h.7v.7h-.7zM383.1 438.9h.7v.7h-.7zM397.8 447.0h.7v.7h-.7zM391.6 431.1h.7v.7h-.7zM395.4 444.1h.7v.7h-.7zM377.2 442.0h.7v.7h-.7zM395.7 452.8h.7v.7h-.7zM382.4 453.8h.7v.7h-.7zM390.0 443.1h.7v.7h-.7zM376.5 439.4h.7v.7h-.7zM384.8 453.4h.7v.7h-.7zM378.0 442.7h.7v.7h-.7zM410.6 458.6h.7v.7h-.7zM383.8 439.5h.7v.7h-.7zM375.5 436.0h.7v.7h-.7zM378.1 439.9h.7v.7h-.7zM383.9 443.4h.7v.7h-.7zM388.2 458.4h.7v.7h-.7zM386.5 444.2h.7v.7h-.7zM404.3 450.5h.7v.7h-.7zM393.1 450.9h.7v.7h-.7zM385.9 434.2h.7v.7h-.7zM377.9 434.0h.7v.7h-.7zM378.5 453.6h.7v.7h-.7zM380.5 453.4h.7v.7h-.7zM386.9 437.8h.7v.7h-.7zM384.9 439.1h.7v.7h-.7zM384.3 445.5h.7v.7h-.7zM389.2 450.7h.7v.7h-.7zM381.9 436.1h.7v.7h-.7zM391.4 445.9h.7v.7h-.7zM384.5 445.5h.7v.7h-.7zM389.9 444.4h.7v.7h-.7zM392.5 438.2h.7v.7h-.7zM388.4 444.9h.7v.7h-.7zM384.3 458.6h.7v.7h-.7zM387.0 438.7h.7v.7h-.7zM377.0 446.5h.7v.7h-.7zM378.9 450.7h.7v.7h-.7zM390.6 446.8h.7v.7h-.7zM388.2 435.5h.7v.7h-.7zM376.9 452.3h.7v.7h-.7zM381.8 452.9h.7v.7h-.7zM397.1 444.4h.7v.7h-.7zM396.6 440.0h.7v.7h-.7zM392.4 455.7h.7v.7h-.7zM383.2 441.3h.7v.7h-.7zM388.9 434.0h.7v.7h-.7zM384.5 445.4h.7v.7h-.7zM397.0 432.8h.7v.7h-.7zM389.2 451.9h.7v.7h-.7zM373.5 450.5h.7v.7h-.7zM390.7 431.7h.7v.7h-.7zM400.1 442.6h.7v.7h-.7zM388.0 442.8h.7v.7h-.7zM378.1 455.3h.7v.7h-.7zM389.8 451.0h.7v.7h-.7zM400.3 437.3h.7v.7h-.7zM376.0 442.3h.7v.7h-.7zM391.8 453.2h.7v.7h-.7zM382.4 449.4h.7v.7h-.7zM380.2 449.0h.7v.7h-.7zM390.3 438.9h.7v.7h-.7zM388.2 437.6h.7v.7h-.7zM391.2 440.5h.7v.7h-.7zM377.4 432.7h.7v.7h-.7zM392.0 440.6h.7v.7h-.7zM379.3 444.7h.7v.7h-.7zM391.9 450.0h.7v.7h-.7zM395.4 459.0h.7v.7h-.7zM398.5 437.3h.7v.7h-.7zM390.7 453.2h.7v.7h-.7zM379.3 441.2h.7v.7h-.7zM388.5 450.2h.7v.7h-.7zM387.0 449.8h.7v.7h-.7zM378.0 423.8h.7v.7h-.7zM382.1 446.7h.7v.7h-.7zM389.6 446.4h.7v.7h-.7zM381.2 431.0h.7v.7h-.7zM386.0 441.5h.7v.7h-.7zM386.4 429.4h.7v.7h-.7zM387.5 442.4h.7v.7h-.7zM384.7 457.8h.7v.7h-.7zM395.7 450.1h.7v.7h-.7zM389.5 456.7h.7v.7h-.7zM390.2 443.9h.7v.7h-.7zM389.2 442.4h.7v.7h-.7zM378.8 440.7h.7v.7h-.7zM396.3 444.7h.7v.7h-.7zM389.2 441.6h.7v.7h-.7zM386.3 444.6h.7v.7h-.7zM396.7 456.1h.7v.7h-.7zM375.9 436.3h.7v.7h-.7zM380.9 446.7h.7v.7h-.7zM378.9 439.9h.7v.7h-.7zM381.7 440.1h.7v.7h-.7zM386.5 452.6h.7v.7h-.7zM378.1 439.7h.7v.7h-.7zM385.2 454.6h.7v.7h-.7zM385.7 438.5h.7v.7h-.7zM406.0 444.2h.7v.7h-.7zM388.9 431.1h.7v.7h-.7zM388.1 450.8h.7v.7h-.7zM389.1 449.2h.7v.7h-.7zM395.5 452.6h.7v.7h-.7zM382.4 454.0h.7v.7h-.7zM388.6 433.3h.7v.7h-.7zM389.6 442.7h.7v.7h-.7zM375.7 445.1h.7v.7h-.7zM385.8 445.2h.7v.7h-.7zM388.9 448.8h.7v.7h-.7zM406.3 430.3h.7v.7h-.7zM415.7 428.6h.7v.7h-.7zM409.2 429.7h.7v.7h-.7zM407.1 431.9h.7v.7h-.7zM406.3 432.8h.7v.7h-.7zM409.5 431.9h.7v.7h-.7zM407.7 431.4h.7v.7h-.7zM409.5 431.8h.7v.7h-.7zM408.3 431.1h.7v.7h-.7zM407.7 432.0h.7v.7h-.7zM405.2 432.4h.7v.7h-.7zM403.0 431.8h.7v.7h-.7zM409.2 430.9h.7v.7h-.7zM409.7 429.3h.7v.7h-.7zM409.3 431.9h.7v.7h-.7zM407.1 432.5h.7v.7h-.7zM408.4 431.6h.7v.7h-.7zM410.1 428.9h.7v.7h-.7zM414.3 429.0h.7v.7h-.7zM411.3 430.8h.7v.7h-.7zM409.1 430.6h.7v.7h-.7zM406.3 432.8h.7v.7h-.7zM408.0 431.4h.7v.7h-.7zM409.9 430.6h.7v.7h-.7zM413.2 429.9h.7v.7h-.7zM410.0 429.2h.7v.7h-.7zM409.3 431.7h.7v.7h-.7zM414.7 444.5h.7v.7h-.7zM404.2 448.5h.7v.7h-.7zM409.0 447.2h.7v.7h-.7zM410.3 446.5h.7v.7h-.7zM409.4 448.0h.7v.7h-.7zM409.7 444.3h.7v.7h-.7zM412.4 447.6h.7v.7h-.7zM410.6 447.5h.7v.7h-.7zM406.0 448.6h.7v.7h-.7zM409.1 447.6h.7v.7h-.7zM406.9 449.6h.7v.7h-.7zM404.2 451.0h.7v.7h-.7zM405.5 449.0h.7v.7h-.7zM411.4 446.4h.7v.7h-.7zM411.1 446.4h.7v.7h-.7zM405.9 449.8h.7v.7h-.7zM410.2 445.9h.7v.7h-.7zM408.8 447.4h.7v.7h-.7zM415.3 442.1h.7v.7h-.7zM411.1 447.7h.7v.7h-.7zM411.5 446.4h.7v.7h-.7zM410.7 446.2h.7v.7h-.7zM412.3 444.0h.7v.7h-.7zM403.4 450.1h.7v.7h-.7zM410.5 448.0h.7v.7h-.7zM410.3 446.0h.7v.7h-.7zM409.3 446.5h.7v.7h-.7zM412.7 445.2h.7v.7h-.7zM410.1 445.9h.7v.7h-.7zM408.9 449.2h.7v.7h-.7zM407.4 448.1h.7v.7h-.7zM409.2 446.5h.7v.7h-.7zM409.4 446.3h.7v.7h-.7zM409.9 446.6h.7v.7h-.7zM412.5 444.8h.7v.7h-.7zM403.7 449.5h.7v.7h-.7zM407.8 448.7h.7v.7h-.7zM408.1 445.7h.7v.7h-.7zM406.0 449.7h.7v.7h-.7zM408.6 445.7h.7v.7h-.7z" fill="#000" fill-opacity="0.3"/>
<rect x="369.6" y="411.8" width="55" height="56.2" fill="none" stroke="#8c8c8c" stroke-width="0.6"/>
<line x1="401.4" y1="411.8" x2="401.4" y2="468" stroke="#555" stroke-width="0.75"/>
<line x1="369.6" y1="441.2" x2="424.6" y2="441.2" stroke="#555" stroke-width="0.75"/>
<line x1="369.6" y1="411.8" x2="369.6" y2="468" stroke="#444" stroke-width="0.7"/>
<line x1="369.6" y1="468" x2="424.6" y2="468" stroke="#444" stroke-width="0.7"/>
<text x="370.8" y="417.84" font-size="6" fill="#1c1c1c" stroke="#1c1c1c" stroke-width="0.3">16.8</text>
<text x="423.6" y="417.84" font-size="6" text-anchor="end" fill="#1c1c1c" stroke="#1c1c1c" stroke-width="0.3">9.13</text>
<text x="370.8" y="467.44" font-size="6" fill="#1c1c1c" stroke="#1c1c1c" stroke-width="0.3">56.8</text>
<text x="423.6" y="467.44" font-size="6" text-anchor="end" fill="#1c1c1c" stroke="#1c1c1c" stroke-width="0.3">17.3</text>
<text x="369.1" y="468" font-size="4.5" text-anchor="end" fill="#333" stroke="#333" stroke-width="0.15">10<tspan font-size="3.3" dy="-1.6">1</tspan></text>
<line x1="368.8" y1="466.8" x2="369.6" y2="466.8" stroke="#444" stroke-width="0.4"/>
<text x="369.1" y="458.06" font-size="4.5" text-anchor="end" fill="#333" stroke="#333" stroke-width="0.15">10<tspan font-size="3.3" dy="-1.6">2</tspan></text>
<line x1="368.8" y1="456.86" x2="369.6" y2="456.86" stroke="#444" stroke-width="0.4"/>
<text x="369.1" y="448.12" font-size="4.5" text-anchor="end" fill="#333" stroke="#333" stroke-width="0.15">10<tspan font-size="3.3" dy="-1.6">3</tspan></text>
<line x1="368.8" y1="446.92" x2="369.6" y2="446.92" stroke="#444" stroke-width="0.4"/>
<text x="369.1" y="438.18" font-size="4.5" text-anchor="end" fill="#333" stroke="#333" stroke-width="0.15">10<tspan font-size="3.3" dy="-1.6">4</tspan></text>
<line x1="368.8" y1="436.98" x2="369.6" y2="436.98" stroke="#444" stroke-width="0.4"/>
<text x="369.1" y="428.24" font-size="4.5" text-anchor="end" fill="#333" stroke="#333" stroke-width="0.15">10<tspan font-size="3.3" dy="-1.6">5</tspan></text>
<line x1="368.8" y1="427.04" x2="369.6" y2="427.04" stroke="#444" stroke-width="0.4"/>
<text x="369.1" y="418.3" font-size="4.5" text-anchor="end" fill="#333" stroke="#333" stroke-width="0.15">10<tspan font-size="3.3" dy="-1.6">6</tspan></text>
<line x1="368.8" y1="417.1" x2="369.6" y2="417.1" stroke="#444" stroke-width="0.4"/>
<text x="378.95" y="472" font-size="4.5" text-anchor="middle" fill="#333" stroke="#333" stroke-width="0.15">10<tspan font-size="3.3" dy="-1.6">2</tspan></text>
<line x1="378.95" y1="468" x2="378.95" y2="468.8" stroke="#444" stroke-width="0.4"/>
<text x="392.98" y="472" font-size="4.5" text-anchor="middle" fill="#333" stroke="#333" stroke-width="0.15">10<tspan font-size="3.3" dy="-1.6">3</tspan></text>
<line x1="392.98" y1="468" x2="392.98" y2="468.8" stroke="#444" stroke-width="0.4"/>
<text x="407" y="472" font-size="4.5" text-anchor="middle" fill="#333" stroke="#333" stroke-width="0.15">10<tspan font-size="3.3" dy="-1.6">4</tspan></text>
<line x1="407" y1="468" x2="407" y2="468.8" stroke="#444" stroke-width="0.4"/>
<text x="421.03" y="472" font-size="4.5" text-anchor="middle" fill="#333" stroke="#333" stroke-width="0.15">10<tspan font-size="3.3" dy="-1.6">5</tspan></text>
<line x1="421.03" y1="468" x2="421.03" y2="468.8" stroke="#444" stroke-width="0.4"/>
<rect x="440.1" y="411.8" width="55.5" height="56.2" fill="#fff"/>
<ellipse cx="463" cy="437.5" rx="4.8" ry="4.2" fill="url(#rg)" opacity="0.85" transform="rotate(0 463 437.5)"/>
<ellipse cx="479" cy="431" rx="3.6" ry="2.1" fill="url(#rg)" opacity="0.75" transform="rotate(-20 479 431)"/>
<ellipse cx="481" cy="446.5" rx="6.2" ry="2.5" fill="url(#rg)" opacity="0.95" transform="rotate(-30 481 446.5)"/>
<path d="M465.8 437.9h.7v.7h-.7zM465.9 436.4h.7v.7h-.7zM463.3 436.1h.7v.7h-.7zM463.4 439.9h.7v.7h-.7zM463.0 439.0h.7v.7h-.7zM463.2 441.0h.7v.7h-.7zM463.5 437.9h.7v.7h-.7zM461.9 438.0h.7v.7h-.7zM462.8 437.6h.7v.7h-.7zM462.3 434.2h.7v.7h-.7zM464.4 432.9h.7v.7h-.7zM461.5 438.7h.7v.7h-.7zM466.0 440.4h.7v.7h-.7zM463.8 432.8h.7v.7h-.7zM462.1 435.4h.7v.7h-.7zM462.8 434.4h.7v.7h-.7zM460.4 438.1h.7v.7h-.7zM469.2 433.2h.7v.7h-.7zM462.2 440.8h.7v.7h-.7zM465.2 438.3h.7v.7h-.7zM466.1 438.7h.7v.7h-.7zM463.7 436.0h.7v.7h-.7zM458.6 442.0h.7v.7h-.7zM462.4 436.6h.7v.7h-.7zM464.3 437.1h.7v.7h-.7zM465.6 441.6h.7v.7h-.7zM461.8 436.5h.7v.7h-.7zM463.1 437.9h.7v.7h-.7zM463.6 438.1h.7v.7h-.7zM466.6 434.4h.7v.7h-.7zM462.2 434.1h.7v.7h-.7zM460.8 436.2h.7v.7h-.7zM466.0 434.9h.7v.7h-.7zM466.8 432.1h.7v.7h-.7zM462.7 439.9h.7v.7h-.7zM460.9 442.8h.7v.7h-.7zM457.3 438.4h.7v.7h-.7zM464.3 436.6h.7v.7h-.7zM460.5 438.1h.7v.7h-.7zM464.2 437.3h.7v.7h-.7zM457.9 435.3h.7v.7h-.7zM461.5 434.3h.7v.7h-.7zM467.1 434.3h.7v.7h-.7zM463.4 433.7h.7v.7h-.7zM467.8 435.0h.7v.7h-.7zM463.5 437.5h.7v.7h-.7zM459.7 435.5h.7v.7h-.7zM461.2 437.7h.7v.7h-.7zM460.3 434.0h.7v.7h-.7zM459.4 432.9h.7v.7h-.7zM463.9 438.4h.7v.7h-.7zM469.0 432.0h.7v.7h-.7zM462.5 436.2h.7v.7h-.7zM465.1 434.3h.7v.7h-.7zM463.7 434.6h.7v.7h-.7zM466.2 436.0h.7v.7h-.7zM461.0 432.8h.7v.7h-.7zM469.9 438.0h.7v.7h-.7zM458.3 433.5h.7v.7h-.7zM460.7 438.1h.7v.7h-.7zM461.5 437.9h.7v.7h-.7zM461.0 434.0h.7v.7h-.7zM469.1 442.5h.7v.7h-.7zM463.4 439.0h.7v.7h-.7zM457.7 435.4h.7v.7h-.7zM462.6 441.1h.7v.7h-.7zM459.0 440.0h.7v.7h-.7zM459.6 435.9h.7v.7h-.7zM454.1 439.2h.7v.7h-.7zM455.2 454.6h.7v.7h-.7zM450.1 444.6h.7v.7h-.7zM469.1 444.6h.7v.7h-.7zM458.0 427.8h.7v.7h-.7zM453.1 451.1h.7v.7h-.7zM466.1 442.4h.7v.7h-.7zM462.3 441.1h.7v.7h-.7zM465.3 435.8h.7v.7h-.7zM461.8 453.6h.7v.7h-.7zM475.3 444.1h.7v.7h-.7zM471.4 437.7h.7v.7h-.7zM460.8 437.7h.7v.7h-.7zM472.1 438.0h.7v.7h-.7zM463.7 451.3h.7v.7h-.7zM456.3 449.2h.7v.7h-.7zM449.2 438.3h.7v.7h-.7zM464.8 454.1h.7v.7h-.7zM466.2 441.1h.7v.7h-.7zM466.7 450.7h.7v.7h-.7zM453.0 438.2h.7v.7h-.7zM447.5 439.3h.7v.7h-.7zM454.2 438.7h.7v.7h-.7zM458.2 447.1h.7v.7h-.7zM449.7 436.8h.7v.7h-.7zM462.4 443.0h.7v.7h-.7zM467.3 444.2h.7v.7h-.7zM461.4 437.3h.7v.7h-.7zM458.7 453.6h.7v.7h-.7zM451.9 426.7h.7v.7h-.7zM457.9 433.1h.7v.7h-.7zM458.1 444.3h.7v.7h-.7zM449.6 429.6h.7v.7h-.7zM454.6 440.8h.7v.7h-.7zM449.9 449.9h.7v.7h-.7zM462.6 454.5h.7v.7h-.7zM468.5 437.8h.7v.7h-.7zM458.5 438.3h.7v.7h-.7zM460.9 449.5h.7v.7h-.7zM472.1 452.0h.7v.7h-.7zM468.2 456.9h.7v.7h-.7zM460.4 448.4h.7v.7h-.7zM461.7 450.3h.7v.7h-.7zM471.5 449.5h.7v.7h-.7zM453.8 441.0h.7v.7h-.7zM468.2 433.4h.7v.7h-.7zM443.7 436.1h.7v.7h-.7zM466.7 446.0h.7v.7h-.7zM446.6 419.5h.7v.7h-.7zM454.1 448.0h.7v.7h-.7zM454.7 444.9h.7v.7h-.7zM446.2 432.7h.7v.7h-.7zM456.7 447.3h.7v.7h-.7zM476.0 450.4h.7v.7h-.7zM464.1 431.1h.7v.7h-.7zM472.7 457.8h.7v.7h-.7zM456.5 436.5h.7v.7h-.7zM457.8 451.3h.7v.7h-.7zM461.3 447.0h.7v.7h-.7zM452.0 447.7h.7v.7h-.7zM465.0 437.3h.7v.7h-.7zM465.2 454.2h.7v.7h-.7zM461.2 441.9h.7v.7h-.7zM457.7 442.3h.7v.7h-.7zM461.2 443.9h.7v.7h-.7zM454.4 444.0h.7v.7h-.7zM465.5 447.4h.7v.7h-.7zM463.7 435.3h.7v.7h-.7zM466.2 443.4h.7v.7h-.7zM444.9 455.6h.7v.7h-.7zM472.2 433.8h.7v.7h-.7zM467.6 447.7h.7v.7h-.7zM460.1 446.0h.7v.7h-.7zM456.5 442.1h.7v.7h-.7zM451.3 447.5h.7v.7h-.7zM446.9 452.8h.7v.7h-.7zM468.2 451.2h.7v.7h-.7zM466.5 443.6h.7v.7h-.7zM457.1 436.0h.7v.7h-.7zM463.9 446.1h.7v.7h-.7zM463.8 438.7h.7v.7h-.7zM449.2 435.9h.7v.7h-.7zM456.8 437.6h.7v.7h-.7zM465.2 449.8h.7v.7h-.7zM472.3 447.3h.7v.7h-.7zM458.7 447.6h.7v.7h-.7zM460.0 454.6h.7v.7h-.7zM451.2 442.1h.7v.7h-.7zM454.2 442.0h.7v.7h-.7zM447.5 444.7h.7v.7h-.7zM463.0 437.9h.7v.7h-.7zM456.8 463.2h.7v.7h-.7zM461.3 437.0h.7v.7h-.7zM467.8 445.2h.7v.7h-.7zM450.0 448.6h.7v.7h-.7zM461.7 446.8h.7v.7h-.7zM455.4 448.9h.7v.7h-.7zM456.4 449.7h.7v.7h-.7zM468.5 441.9h.7v.7h-.7zM456.4 454.3h.7v.7h-.7zM461.8 443.7h.7v.7h-.7zM461.1 442.1h.7v.7h-.7zM456.5 442.3h.7v.7h-.7zM471.3 456.8h.7v.7h-.7zM458.3 432.6h.7v.7h-.7zM464.2 453.2h.7v.7h-.7zM458.6 446.8h.7v.7h-.7zM455.3 447.8h.7v.7h-.7zM451.9 451.7h.7v.7h-.7zM466.4 446.1h.7v.7h-.7zM451.5 449.9h.7v.7h-.7zM477.3 430.6h.7v.7h-.7zM482.9 429.1h.7v.7h-.7zM475.0 431.5h.7v.7h-.7zM480.1 429.4h.7v.7h-.7zM478.0 430.0h.7v.7h-.7zM478.0 431.5h.7v.7h-.7zM481.5 430.9h.7v.7h-.7zM475.4 432.2h.7v.7h-.7zM476.0 431.9h.7v.7h-.7zM480.3 430.6h.7v.7h-.7zM481.8 429.4h.7v.7h-.7zM481.6 429.8h.7v.7h-.7zM478.0 431.8h.7v.7h-.7zM476.8 432.7h.7v.7h-.7zM478.2 430.2h.7v.7h-.7zM477.1 429.9h.7v.7h-.7zM481.4 427.2h.7v.7h-.7zM475.9 433.8h.7v.7h-.7zM477.8 432.5h.7v.7h-.7zM477.7 429.8h.7v.7h-.7zM476.6 430.0h.7v.7h-.7zM483.9 429.2h.7v.7h-.7zM479.6 429.5h.7v.7h-.7zM477.0 429.0h.7v.7h-.7zM479.7 431.8h.7v.7h-.7zM479.7 431.6h.7v.7h-.7zM479.9 432.0h.7v.7h-.7zM480.8 446.4h.7v.7h-.7zM484.0 445.2h.7v.7h-.7zM484.1 444.4h.7v.7h-.7zM482.4 446.1h.7v.7h-.7zM477.1 446.8h.7v.7h-.7zM483.0 445.2h.7v.7h-.7zM485.9 445.1h.7v.7h-.7zM482.7 445.2h.7v.7h-.7zM477.4 447.3h.7v.7h-.7zM482.1 445.1h.7v.7h-.7zM483.6 445.5h.7v.7h-.7zM482.4 445.4h.7v.7h-.7zM477.3 447.2h.7v.7h-.7zM487.0 444.7h.7v.7h-.7zM483.5 445.5h.7v.7h-.7zM478.8 445.8h.7v.7h-.7zM477.1 446.9h.7v.7h-.7zM480.2 446.9h.7v.7h-.7zM479.1 446.6h.7v.7h-.7zM481.7 446.2h.7v.7h-.7zM486.4 443.8h.7v.7h-.7zM481.6 446.5h.7v.7h-.7zM477.6 447.4h.7v.7h-.7zM485.3 445.4h.7v.7h-.7zM479.1 447.1h.7v.7h-.7zM486.7 444.1h.7v.7h-.7zM481.1 446.9h.7v.7h-.7zM480.6 448.2h.7v.7h-.7zM481.2 445.1h.7v.7h-.7zM480.9 446.6h.7v.7h-.7zM485.0 445.1h.7v.7h-.7zM479.1 447.2h.7v.7h-.7zM486.9 443.5h.7v.7h-.7zM480.7 446.2h.7v.7h-.7zM488.6 443.7h.7v.7h-.7zM481.4 446.2h.7v.7h-.7zM482.5 444.8h.7v.7h-.7zM481.8 445.9h.7v.7h-.7zM483.5 445.6h.7v.7h-.7zM480.4 447.1h.7v.7h-.7zM477.6 448.1h.7v.7h-.7zM481.4 446.5h.7v.7h-.7zM490.2 443.1h.7v.7h-.7zM483.5 444.6h.7v.7h-.7zM479.0 447.7h.7v.7h-.7zM480.1 448.1h.7v.7h-.7zM481.2 446.6h.7v.7h-.7zM481.1 445.9h.7v.7h-.7zM486.1 445.4h.7v.7h-.7zM478.7 446.8h.7v.7h-.7zM485.0 445.4h.7v.7h-.7zM484.1 447.7h.7v.7h-.7zM483.2 446.4h.7v.7h-.7zM482.0 445.4h.7v.7h-.7zM488.1 444.4h.7v.7h-.7zM483.2 445.5h.7v.7h-.7zM484.4 444.7h.7v.7h-.7zM482.1 445.7h.7v.7h-.7zM479.5 447.1h.7v.7h-.7zM479.2 446.8h.7v.7h-.7zM475.5 449.3h.7v.7h-.7zM481.6 445.9h.7v.7h-.7zM484.3 445.2h.7v.7h-.7zM477.6 447.3h.7v.7h-.7zM486.9 443.7h.7v.7h-.7zM478.2 447.7h.7v.7h-.7z" fill="#000" fill-opacity="0.3"/>
<path d="M462.9 438.1h.7v.7h-.7zM463.1 438.5h.7v.7h-.7zM458.6 435.8h.7v.7h-.7zM464.4 438.5h.7v.7h-.7zM458.0 441.4h.7v.7h-.7zM463.2 434.8h.7v.7h-.7zM466.2 440.1h.7v.7h-.7zM468.5 438.8h.7v.7h-.7zM463.6 433.2h.7v.7h-.7zM463.8 441.9h.7v.7h-.7zM456.5 436.3h.7v.7h-.7zM462.5 435.9h.7v.7h-.7zM465.3 427.8h.7v.7h-.7zM467.4 438.6h.7v.7h-.7zM464.7 436.3h.7v.7h-.7zM467.0 434.4h.7v.7h-.7zM466.7 437.1h.7v.7h-.7zM464.9 437.7h.7v.7h-.7zM465.0 434.7h.7v.7h-.7zM466.8 438.8h.7v.7h-.7zM469.7 435.6h.7v.7h-.7zM464.6 433.3h.7v.7h-.7zM462.4 438.5h.7v.7h-.7zM462.8 440.9h.7v.7h-.7zM458.2 439.7h.7v.7h-.7zM463.5 440.9h.7v.7h-.7zM464.8 435.1h.7v.7h-.7zM466.2 440.1h.7v.7h-.7zM467.9 430.3h.7v.7h-.7zM464.3 440.3h.7v.7h-.7zM465.2 435.2h.7v.7h-.7zM460.0 438.9h.7v.7h-.7zM464.2 444.6h.7v.7h-.7zM458.9 434.8h.7v.7h-.7zM463.6 438.4h.7v.7h-.7zM462.2 435.3h.7v.7h-.7zM459.2 435.2h.7v.7h-.7zM469.0 437.4h.7v.7h-.7zM463.2 440.6h.7v.7h-.7zM464.1 440.1h.7v.7h-.7zM464.0 430.2h.7v.7h-.7zM468.4 441.8h.7v.7h-.7zM471.2 434.9h.7v.7h-.7zM463.2 440.9h.7v.7h-.7zM466.1 436.8h.7v.7h-.7zM460.8 435.9h.7v.7h-.7zM461.1 437.5h.7v.7h-.7zM459.0 429.0h.7v.7h-.7zM465.0 434.0h.7v.7h-.7zM464.5 438.7h.7v.7h-.7zM462.7 437.9h.7v.7h-.7zM463.8 438.9h.7v.7h-.7zM459.8 437.4h.7v.7h-.7zM464.3 435.7h.7v.7h-.7zM460.7 434.9h.7v.7h-.7zM463.2 432.6h.7v.7h-.7zM457.6 439.1h.7v.7h-.7zM462.0 439.5h.7v.7h-.7zM462.5 435.2h.7v.7h-.7zM464.6 440.4h.7v.7h-.7zM465.5 436.5h.7v.7h-.7zM461.2 432.8h.7v.7h-.7zM466.2 436.7h.7v.7h-.7zM460.7 440.6h.7v.7h-.7zM464.4 436.0h.7v.7h-.7zM455.6 439.0h.7v.7h-.7zM459.7 435.4h.7v.7h-.7zM451.6 446.3h.7v.7h-.7zM457.8 455.5h.7v.7h-.7zM465.2 437.1h.7v.7h-.7zM462.0 451.2h.7v.7h-.7zM450.0 442.0h.7v.7h-.7zM461.4 438.3h.7v.7h-.7zM444.9 427.6h.7v.7h-.7zM450.0 431.0h.7v.7h-.7zM447.9 444.2h.7v.7h-.7zM456.9 453.0h.7v.7h-.7zM476.3 454.2h.7v.7h-.7zM453.4 437.4h.7v.7h-.7zM456.5 434.9h.7v.7h-.7zM455.9 437.8h.7v.7h-.7zM462.3 453.5h.7v.7h-.7zM458.7 436.8h.7v.7h-.7zM448.9 431.8h.7v.7h-.7zM461.8 449.6h.7v.7h-.7zM451.7 445.3h.7v.7h-.7zM467.3 446.5h.7v.7h-.7zM455.4 453.9h.7v.7h-.7zM454.4 453.4h.7v.7h-.7zM462.8 437.1h.7v.7h-.7zM467.7 442.8h.7v.7h-.7zM453.5 430.3h.7v.7h-.7zM469.2 438.2h.7v.7h-.7zM460.1 433.2h.7v.7h-.7zM457.3 441.0h.7v.7h-.7zM460.6 449.4h.7v.7h-.7zM453.7 438.1h.7v.7h-.7zM455.2 438.6h.7v.7h-.7zM459.1 445.9h.7v.7h-.7zM447.7 449.4h.7v.7h-.7zM468.2 439.9h.7v.7h-.7zM462.9 440.2h.7v.7h-.7zM465.5 445.6h.7v.7h-.7zM449.8 433.2h.7v.7h-.7zM457.2 442.0h.7v.7h-.7zM468.4 439.4h.7v.7h-.7zM458.0 450.3h.7v.7h-.7zM451.8 434.3h.7v.7h-.7zM458.9 438.3h.7v.7h-.7zM470.6 433.3h.7v.7h-.7zM458.9 448.7h.7v.7h-.7zM453.6 436.0h.7v.7h-.7zM458.0 435.1h.7v.7h-.7zM466.0 438.3h.7v.7h-.7zM456.8 450.6h.7v.7h-.7zM447.0 448.4h.7v.7h-.7zM462.8 438.8h.7v.7h-.7zM451.0 438.3h.7v.7h-.7zM455.8 445.3h.7v.7h-.7zM460.9 458.4h.7v.7h-.7zM449.9 446.4h.7v.7h-.7zM453.8 445.0h.7v.7h-.7zM471.6 454.4h.7v.7h-.7zM463.6 454.6h.7v.7h-.7zM447.0 443.6h.7v.7h-.7zM461.0 436.7h.7v.7h-.7zM452.8 434.8h.7v.7h-.7zM450.7 440.1h.7v.7h-.7zM461.6 455.3h.7v.7h-.7zM464.8 451.3h.7v.7h-.7zM447.8 446.8h.7v.7h-.7zM454.3 418.8h.7v.7h-.7zM458.7 448.1h.7v.7h-.7zM471.6 448.8h.7v.7h-.7zM459.6 443.1h.7v.7h-.7zM463.4 451.3h.7v.7h-.7zM457.2 435.7h.7v.7h-.7zM471.8 456.5h.7v.7h-.7zM454.8 429.4h.7v.7h-.7zM448.8 441.5h.7v.7h-.7zM454.4 445.0h.7v.7h-.7zM455.3 456.2h.7v.7h-.7zM462.7 466.7h.7v.7h-.7zM460.9 434.0h.7v.7h-.7zM450.0 455.1h.7v.7h-.7zM449.0 439.5h.7v.7h-.7zM455.7 442.9h.7v.7h-.7zM467.1 451.4h.7v.7h-.7zM443.8 446.7h.7v.7h-.7zM461.5 440.6h.7v.7h-.7zM464.6 445.4h.7v.7h-.7zM464.4 442.0h.7v.7h-.7zM449.3 436.9h.7v.7h-.7zM466.8 441.0h.7v.7h-.7zM457.9 434.5h.7v.7h-.7zM473.0 445.1h.7v.7h-.7zM454.3 427.6h.7v.7h-.7zM465.3 453.8h.7v.7h-.7zM461.5 452.3h.7v.7h-.7zM449.7 437.7h.7v.7h-.7zM447.5 433.5h.7v.7h-.7zM457.9 440.1h.7v.7h-.7zM464.4 439.6h.7v.7h-.7zM458.8 447.2h.7v.7h-.7zM447.1 440.4h.7v.7h-.7zM466.1 450.2h.7v.7h-.7zM458.1 436.0h.7v.7h-.7zM460.6 447.1h.7v.7h-.7zM461.4 447.4h.7v.7h-.7zM451.6 442.8h.7v.7h-.7zM467.4 444.9h.7v.7h-.7zM453.3 432.0h.7v.7h-.7zM467.7 449.5h.7v.7h-.7zM449.2 449.3h.7v.7h-.7zM451.0 445.8h.7v.7h-.7zM457.3 438.1h.7v.7h-.7zM468.5 448.2h.7v.7h-.7zM460.8 441.3h.7v.7h-.7zM455.6 441.8h.7v.7h-.7zM476.7 433.6h.7v.7h-.7zM479.0 432.0h.7v.7h-.7zM476.7 432.8h.7v.7h-.7zM483.2 427.7h.7v.7h-.7zM479.8 430.4h.7v.7h-.7zM481.4 430.0h.7v.7h-.7zM473.7 432.8h.7v.7h-.7zM484.1 430.2h.7v.7h-.7zM480.8 429.8h.7v.7h-.7zM477.0 432.0h.7v.7h-.7zM481.9 428.6h.7v.7h-.7zM476.9 431.2h.7v.7h-.7zM476.3 430.7h.7v.7h-.7zM482.2 431.5h.7v.7h-.7zM481.8 429.7h.7v.7h-.7zM479.1 430.9h.7v.7h-.7zM480.5 430.2h.7v.7h-.7zM476.8 433.3h.7v.7h-.7zM478.4 430.9h.7v.7h-.7zM479.1 431.8h.7v.7h-.7zM480.0 431.2h.7v.7h-.7zM477.7 432.9h.7v.7h-.7zM476.5 430.2h.7v.7h-.7zM481.1 431.2h.7v.7h-.7zM478.4 431.5h.7v.7h-.7zM479.9 431.9h.7v.7h-.7zM481.0 447.2h.7v.7h-.7zM479.9 445.5h.7v.7h-.7zM487.3 445.3h.7v.7h-.7zM479.6 445.6h.7v.7h-.7zM481.5 447.9h.7v.7h-.7zM480.5 445.6h.7v.7h-.7zM483.1 445.4h.7v.7h-.7zM487.0 443.9h.7v.7h-.7zM484.4 444.7h.7v.7h-.7zM484.1 445.9h.7v.7h-.7zM485.0 445.3h.7v.7h-.7zM486.6 445.3h.7v.7h-.7zM485.2 445.8h.7v.7h-.7zM478.9 447.3h.7v.7h-.7zM484.7 445.4h.7v.7h-.7zM482.3 445.0h.7v.7h-.7zM481.7 446.6h.7v.7h-.7zM479.3 448.4h.7v.7h-.7zM484.1 445.0h.7v.7h-.7zM484.6 444.7h.7v.7h-.7zM485.5 442.5h.7v.7h-.7zM480.5 447.4h.7v.7h-.7zM479.7 446.6h.7v.7h-.7zM477.2 447.0h.7v.7h-.7zM483.1 445.8h.7v.7h-.7zM479.9 447.1h.7v.7h-.7zM476.7 448.5h.7v.7h-.7zM487.0 443.4h.7v.7h-.7zM482.6 446.0h.7v.7h-.7zM489.5 444.4h.7v.7h-.7zM479.1 447.7h.7v.7h-.7zM471.9 449.9h.7v.7h-.7zM479.6 446.2h.7v.7h-.7zM478.8 446.7h.7v.7h-.7zM480.7 446.4h.7v.7h-.7zM481.4 446.4h.7v.7h-.7zM487.3 444.4h.7v.7h-.7zM480.6 445.8h.7v.7h-.7zM481.3 445.9h.7v.7h-.7zM481.7 444.3h.7v.7h-.7zM479.5 446.6h.7v.7h-.7zM479.9 447.2h.7v.7h-.7zM484.6 444.5h.7v.7h-.7zM490.2 444.5h.7v.7h-.7zM482.1 446.0h.7v.7h-.7zM484.5 443.3h.7v.7h-.7zM475.4 448.7h.7v.7h-.7zM478.2 447.4h.7v.7h-.7zM478.3 447.2h.7v.7h-.7zM483.1 446.7h.7v.7h-.7zM480.2 447.0h.7v.7h-.7zM485.8 445.1h.7v.7h-.7zM482.1 446.2h.7v.7h-.7zM484.7 445.3h.7v.7h-.7zM479.3 446.1h.7v.7h-.7zM482.4 445.2h.7v.7h-.7zM478.5 448.0h.7v.7h-.7zM478.9 447.7h.7v.7h-.7zM483.0 447.2h.7v.7h-.7zM473.1 450.4h.7v.7h-.7zM481.0 446.6h.7v.7h-.7zM479.8 445.4h.7v.7h-.7zM478.5 446.8h.7v.7h-.7zM486.2 444.5h.7v.7h-.7zM479.1 447.4h.7v.7h-.7zM484.2 446.6h.7v.7h-.7zM482.5 446.3h.7v.7h-.7z" fill="#000" fill-opacity="0.3"/>
<path d="M457.5 440.6h.7v.7h-.7zM467.8 438.9h.7v.7h-.7zM463.3 436.9h.7v.7h-.7zM465.1 438.2h.7v.7h-.7zM459.3 440.2h.7v.7h-.7zM466.4 438.2h.7v.7h-.7zM463.8 433.0h.7v.7h-.7zM462.9 441.2h.7v.7h-.7zM466.0 438.9h.7v.7h-.7zM461.2 434.5h.7v.7h-.7zM461.1 436.8h.7v.7h-.7zM461.8 439.6h.7v.7h-.7zM460.2 436.7h.7v.7h-.7zM461.3 438.2h.7v.7h-.7zM458.9 435.8h.7v.7h-.7zM468.5 440.4h.7v.7h-.7zM459.6 438.0h.7v.7h-.7zM462.8 436.5h.7v.7h-.7zM467.9 433.8h.7v.7h-.7zM466.4 437.6h.7v.7h-.7zM466.8 439.1h.7v.7h-.7zM459.1 439.9h.7v.7h-.7zM463.4 439.0h.7v.7h-.7zM466.6 441.5h.7v.7h-.7zM465.7 436.5h.7v.7h-.7zM464.2 432.5h.7v.7h-.7zM461.9 434.8h.7v.7h-.7zM463.7 438.5h.7v.7h-.7zM462.7 438.7h.7v.7h-.7zM461.9 432.0h.7v.7h-.7zM468.6 438.2h.7v.7h-.7zM467.7 437.1h.7v.7h-.7zM459.0 441.4h.7v.7h-.7zM466.1 436.4h.7v.7h-.7zM462.3 441.1h.7v.7h-.7zM465.2 439.1h.7v.7h-.7zM465.6 435.1h.7v.7h-.7zM459.7 434.4h.7v.7h-.7zM463.7 438.1h.7v.7h-.7zM465.6 436.1h.7v.7h-.7zM461.8 439.0h.7v.7h-.7zM462.4 441.7h.7v.7h-.7zM462.4 434.4h.7v.7h-.7zM463.8 436.9h.7v.7h-.7zM463.8 437.8h.7v.7h-.7zM464.5 437.3h.7v.7h-.7zM463.7 437.9h.7v.7h-.7zM463.0 432.7h.7v.7h-.7zM463.9 436.1h.7v.7h-.7zM465.4 443.1h.7v.7h-.7zM462.0 434.9h.7v.7h-.7zM463.5 434.7h.7v.7h-.7zM461.8 435.9h.7v.7h-.7zM464.3 437.7h.7v.7h-.7zM463.5 439.7h.7v.7h-.7zM456.3 434.9h.7v.7h-.7zM460.6 432.4h.7v.7h-.7zM460.7 442.2h.7v.7h-.7zM467.2 432.6h.7v.7h-.7zM463.9 444.0h.7v.7h-.7zM462.0 436.0h.7v.7h-.7zM464.0 432.6h.7v.7h-.7zM461.1 441.0h.7v.7h-.7zM460.5 437.7h.7v.7h-.7zM461.5 439.7h.7v.7h-.7zM464.4 432.7h.7v.7h-.7zM456.3 437.7h.7v.7h-.7zM466.8 430.7h.7v.7h-.7zM461.0 463.1h.7v.7h-.7zM456.4 444.0h.7v.7h-.7zM455.2 437.1h.7v.7h-.7zM470.2 442.1h.7v.7h-.7zM469.3 455.0h.7v.7h-.7zM447.1 441.4h.7v.7h-.7zM460.2 441.9h.7v.7h-.7zM467.5 439.0h.7v.7h-.7zM442.0 430.0h.7v.7h-.7zM445.3 436.8h.7v.7h-.7zM460.5 448.8h.7v.7h-.7zM471.3 443.3h.7v.7h-.7zM453.5 434.3h.7v.7h-.7zM444.9 417.6h.7v.7h-.7zM465.7 435.0h.7v.7h-.7zM458.1 446.9h.7v.7h-.7zM455.8 433.5h.7v.7h-.7zM461.1 439.5h.7v.7h-.7zM456.4 451.4h.7v.7h-.7zM458.6 439.6h.7v.7h-.7zM445.8 446.7h.7v.7h-.7zM453.6 438.9h.7v.7h-.7zM447.9 444.7h.7v.7h-.7zM465.9 440.0h.7v.7h-.7zM454.9 448.9h.7v.7h-.7zM455.3 445.5h.7v.7h-.7zM459.0 445.6h.7v.7h-.7zM444.9 442.2h.7v.7h-.7zM451.4 443.8h.7v.7h-.7zM454.3 449.8h.7v.7h-.7zM463.3 456.1h.7v.7h-.7zM459.8 441.1h.7v.7h-.7zM450.2 437.4h.7v.7h-.7zM461.3 450.1h.7v.7h-.7zM458.4 456.0h.7v.7h-.7zM463.6 428.5h.7v.7h-.7zM458.8 452.4h.7v.7h-.7zM449.6 454.1h.7v.7h-.7zM456.6 439.1h.7v.7h-.7zM456.5 436.8h.7v.7h-.7zM459.3 446.8h.7v.7h-.7zM462.0 441.2h.7v.7h-.7zM450.6 436.7h.7v.7h-.7zM463.8 447.8h.7v.7h-.7zM461.2 443.6h.7v.7h-.7zM442.1 441.5h.7v.7h-.7zM456.6 447.2h.7v.7h-.7zM447.8 453.7h.7v.7h-.7zM461.6 441.4h.7v.7h-.7zM457.6 443.6h.7v.7h-.7zM462.8 455.1h.7v.7h-.7zM474.3 431.1h.7v.7h-.7zM453.6 439.6h.7v.7h-.7zM467.6 446.7h.7v.7h-.7zM458.8 439.2h.7v.7h-.7zM457.5 444.9h.7v.7h-.7zM449.4 446.7h.7v.7h-.7zM461.1 441.0h.7v.7h-.7zM464.2 435.3h.7v.7h-.7zM466.1 441.8h.7v.7h-.7zM455.6 457.3h.7v.7h-.7zM464.6 449.9h.7v.7h-.7zM457.8 450.9h.7v.7h-.7zM471.0 438.9h.7v.7h-.7zM446.7 433.2h.7v.7h-.7zM453.4 443.4h.7v.7h-.7zM453.2 439.1h.7v.7h-.7zM467.1 454.5h.7v.7h-.7zM466.8 445.3h.7v.7h-.7zM455.3 449.0h.7v.7h-.7zM465.0 437.0h.7v.7h-.7zM459.7 449.2h.7v.7h-.7zM462.8 446.4h.7v.7h-.7zM457.7 449.6h.7v.7h-.7zM465.5 438.6h.7v.7h-.7zM455.0 452.3h.7v.7h-.7zM454.0 451.1h.7v.7h-.7zM466.4 457.1h.7v.7h-.7zM464.2 443.4h.7v.7h-.7zM467.6 453.0h.7v.7h-.7zM456.3 428.1h.7v.7h-.7zM451.9 449.6h.7v.7h-.7zM445.9 448.1h.7v.7h-.7zM453.2 443.1h.7v.7h-.7zM457.4 437.4h.7v.7h-.7zM454.1 447.3h.7v.7h-.7zM458.5 442.8h.7v.7h-.7zM451.3 437.0h.7v.7h-.7zM455.3 432.3h.7v.7h-.7zM461.5 443.5h.7v.7h-.7zM455.6 435.0h.7v.7h-.7zM467.7 446.9h.7v.7h-.7zM460.7 435.7h.7v.7h-.7zM458.7 446.4h.7v.7h-.7zM451.6 450.0h.7v.7h-.7zM460.5 437.6h.7v.7h-.7zM454.4 436.0h.7v.7h-.7zM471.9 453.1h.7v.7h-.7zM461.9 444.2h.7v.7h-.7zM468.8 449.1h.7v.7h-.7zM449.1 432.6h.7v.7h-.7zM463.6 446.8h.7v.7h-.7zM453.6 441.2h.7v.7h-.7zM463.6 434.8h.7v.7h-.7zM446.2 425.2h.7v.7h-.7zM473.8 443.7h.7v.7h-.7zM471.6 448.7h.7v.7h-.7zM460.7 453.6h.7v.7h-.7zM464.8 445.2h.7v.7h-.7zM454.5 438.5h.7v.7h-.7zM479.1 431.0h.7v.7h-.7zM476.0 431.4h.7v.7h-.7zM479.4 430.5h.7v.7h-.7zM482.5 430.1h.7v.7h-.7zM477.9 430.9h.7v.7h-.7zM482.4 427.8h.7v.7h-.7zM478.1 433.5h.7v.7h-.7zM474.4 429.4h.7v.7h-.7zM476.9 433.1h.7v.7h-.7zM479.3 431.4h.7v.7h-.7zM474.1 435.2h.7v.7h-.7zM477.3 430.3h.7v.7h-.7zM480.3 431.6h.7v.7h-.7zM478.3 430.4h.7v.7h-.7zM482.4 431.2h.7v.7h-.7zM478.9 430.2h.7v.7h-.7zM483.9 429.7h.7v.7h-.7zM476.6 431.2h.7v.7h-.7zM478.0 430.6h.7v.7h-.7zM483.3 430.3h.7v.7h-.7zM479.6 431.7h.7v.7h-.7zM477.3 433.3h.7v.7h-.7zM474.4 431.4h.7v.7h-.7zM476.4 433.0h.7v.7h-.7zM482.6 429.5h.7v.7h-.7zM480.2 430.6h.7v.7h-.7zM483.8 430.8h.7v.7h-.7zM475.4 448.1h.7v.7h-.7zM481.7 446.0h.7v.7h-.7zM480.0 448.4h.7v.7h-.7zM480.1 446.2h.7v.7h-.7zM478.4 446.4h.7v.7h-.7zM484.6 446.2h.7v.7h-.7zM475.4 447.6h.7v.7h-.7zM476.9 448.0h.7v.7h-.7zM481.0 447.5h.7v.7h-.7zM487.8 443.5h.7v.7h-.7zM487.1 443.4h.7v.7h-.7zM482.3 445.8h.7v.7h-.7zM480.4 446.6h.7v.7h-.7zM484.8 445.7h.7v.7h-.7zM476.2 448.7h.7v.7h-.7zM485.4 444.8h.7v.7h-.7zM480.6 445.8h.7v.7h-.7zM489.0 443.7h.7v.7h-.7zM486.5 444.5h.7v.7h-.7zM481.4 446.3h.7v.7h-.7zM479.4 448.2h.7v.7h-.7zM479.3 448.1h.7v.7h-.7zM477.0 448.4h.7v.7h-.7zM479.2 444.9h.7v.7h-.7zM487.8 445.2h.7v.7h-.7zM476.2 448.4h.7v.7h-.7zM483.1 446.1h.7v.7h-.7zM478.8 447.0h.7v.7h-.7zM483.2 445.1h.7v.7h-.7zM482.0 447.0h.7v.7h-.7zM486.1 445.5h.7v.7h-.7zM475.1 448.3h.7v.7h-.7zM484.8 445.3h.7v.7h-.7zM484.3 444.3h.7v.7h-.7zM474.4 448.5h.7v.7h-.7zM487.6 444.9h.7v.7h-.7zM482.0 447.2h.7v.7h-.7zM479.5 446.1h.7v.7h-.7zM484.3 445.1h.7v.7h-.7zM481.9 447.2h.7v.7h-.7zM486.5 445.0h.7v.7h-.7zM481.5 446.4h.7v.7h-.7zM479.2 446.8h.7v.7h-.7zM478.9 447.8h.7v.7h-.7zM484.2 445.4h.7v.7h-.7zM481.1 445.8h.7v.7h-.7zM477.7 449.0h.7v.7h-.7zM482.9 445.1h.7v.7h-.7zM476.3 449.2h.7v.7h-.7zM479.4 447.0h.7v.7h-.7zM481.9 446.4h.7v.7h-.7zM479.7 447.5h.7v.7h-.7zM484.3 446.3h.7v.7h-.7zM482.8 446.5h.7v.7h-.7zM484.8 445.6h.7v.7h-.7zM480.5 447.2h.7v.7h-.7zM481.1 445.8h.7v.7h-.7zM480.4 447.8h.7v.7h-.7zM488.6 443.9h.7v.7h-.7zM478.1 446.8h.7v.7h-.7zM483.0 446.2h.7v.7h-.7zM477.5 448.7h.7v.7h-.7zM477.9 446.8h.7v.7h-.7zM478.8 446.3h.7v.7h-.7zM482.5 445.5h.7v.7h-.7zM477.1 446.9h.7v.7h-.7zM478.1 447.1h.7v.7h-.7z" fill="#000" fill-opacity="0.3"/>
<rect x="440.1" y="411.8" width="55.5" height="56.2" fill="none" stroke="#8c8c8c" stroke-width="0.6"/>
<line x1="472.8" y1="411.8" x2="472.8" y2="468" stroke="#555" stroke-width="0.75"/>
<line x1="440.1" y1="441.2" x2="495.6" y2="441.2" stroke="#555" stroke-width="0.75"/>
<line x1="440.1" y1="411.8" x2="440.1" y2="468" stroke="#444" stroke-width="0.7"/>
<line x1="440.1" y1="468" x2="495.6" y2="468" stroke="#444" stroke-width="0.7"/>
<text x="441.3" y="417.84" font-size="6" fill="#1c1c1c" stroke="#1c1c1c" stroke-width="0.3">33.9</text>
<text x="494.6" y="417.84" font-size="6" text-anchor="end" fill="#1c1c1c" stroke="#1c1c1c" stroke-width="0.3">13.5</text>
<text x="441.3" y="467.44" font-size="6" fill="#1c1c1c" stroke="#1c1c1c" stroke-width="0.3">25.5</text>
<text x="494.6" y="467.44" font-size="6" text-anchor="end" fill="#1c1c1c" stroke="#1c1c1c" stroke-width="0.3">27.1</text>
<text x="439.6" y="468" font-size="4.5" text-anchor="end" fill="#333" stroke="#333" stroke-width="0.15">10<tspan font-size="3.3" dy="-1.6">1</tspan></text>
<line x1="439.3" y1="466.8" x2="440.1" y2="466.8" stroke="#444" stroke-width="0.4"/>
<text x="439.6" y="458.06" font-size="4.5" text-anchor="end" fill="#333" stroke="#333" stroke-width="0.15">10<tspan font-size="3.3" dy="-1.6">2</tspan></text>
<line x1="439.3" y1="456.86" x2="440.1" y2="456.86" stroke="#444" stroke-width="0.4"/>
<text x="439.6" y="448.12" font-size="4.5" text-anchor="end" fill="#333" stroke="#333" stroke-width="0.15">10<tspan font-size="3.3" dy="-1.6">3</tspan></text>
<line x1="439.3" y1="446.92" x2="440.1" y2="446.92" stroke="#444" stroke-width="0.4"/>
<text x="439.6" y="438.18" font-size="4.5" text-anchor="end" fill="#333" stroke="#333" stroke-width="0.15">10<tspan font-size="3.3" dy="-1.6">4</tspan></text>
<line x1="439.3" y1="436.98" x2="440.1" y2="436.98" stroke="#444" stroke-width="0.4"/>
<text x="439.6" y="428.24" font-size="4.5" text-anchor="end" fill="#333" stroke="#333" stroke-width="0.15">10<tspan font-size="3.3" dy="-1.6">5</tspan></text>
<line x1="439.3" y1="427.04" x2="440.1" y2="427.04" stroke="#444" stroke-width="0.4"/>
<text x="439.6" y="418.3" font-size="4.5" text-anchor="end" fill="#333" stroke="#333" stroke-width="0.15">10<tspan font-size="3.3" dy="-1.6">6</tspan></text>
<line x1="439.3" y1="417.1" x2="440.1" y2="417.1" stroke="#444" stroke-width="0.4"/>
<text x="449.54" y="472" font-size="4.5" text-anchor="middle" fill="#333" stroke="#333" stroke-width="0.15">10<tspan font-size="3.3" dy="-1.6">2</tspan></text>
<line x1="449.54" y1="468" x2="449.54" y2="468.8" stroke="#444" stroke-width="0.4"/>
<text x="463.69" y="472" font-size="4.5" text-anchor="middle" fill="#333" stroke="#333" stroke-width="0.15">10<tspan font-size="3.3" dy="-1.6">3</tspan></text>
<line x1="463.69" y1="468" x2="463.69" y2="468.8" stroke="#444" stroke-width="0.4"/>
<text x="477.84" y="472" font-size="4.5" text-anchor="middle" fill="#333" stroke="#333" stroke-width="0.15">10<tspan font-size="3.3" dy="-1.6">4</tspan></text>
<line x1="477.84" y1="468" x2="477.84" y2="468.8" stroke="#444" stroke-width="0.4"/>
<text x="491.99" y="472" font-size="4.5" text-anchor="middle" fill="#333" stroke="#333" stroke-width="0.15">10<tspan font-size="3.3" dy="-1.6">5</tspan></text>
<line x1="491.99" y1="468" x2="491.99" y2="468.8" stroke="#444" stroke-width="0.4"/>
<rect x="363.3" y="496.3" width="56.1" height="57.9" fill="#fff"/>
<ellipse cx="393.5" cy="528.5" rx="5" ry="3.8" fill="url(#rg)" opacity="0.95" transform="rotate(0 393.5 528.5)"/>
<ellipse cx="405.3" cy="522.5" rx="3" ry="3.6" fill="url(#rg)" opacity="0.85" transform="rotate(0 405.3 522.5)"/>
<ellipse cx="383" cy="531" rx="7" ry="3" fill="url(#rg)" opacity="0.35" transform="rotate(0 383 531)"/>
<path d="M392.7 528.8h.7v.7h-.7zM391.1 529.1h.7v.7h-.7zM394.0 529.8h.7v.7h-.7zM391.0 532.8h.7v.7h-.7zM396.7 528.7h.7v.7h-.7zM392.9 528.2h.7v.7h-.7zM392.1 530.1h.7v.7h-.7zM392.2 528.6h.7v.7h-.7zM392.8 528.3h.7v.7h-.7zM392.2 527.4h.7v.7h-.7zM394.3 529.0h.7v.7h-.7zM396.4 529.0h.7v.7h-.7zM394.0 525.9h.7v.7h-.7zM390.2 529.9h.7v.7h-.7zM388.4 532.0h.7v.7h-.7zM392.9 528.3h.7v.7h-.7zM399.4 530.4h.7v.7h-.7zM394.6 529.0h.7v.7h-.7zM399.8 526.8h.7v.7h-.7zM393.8 526.6h.7v.7h-.7zM395.4 527.9h.7v.7h-.7zM398.7 531.7h.7v.7h-.7zM389.3 530.4h.7v.7h-.7zM393.3 529.1h.7v.7h-.7zM397.2 526.9h.7v.7h-.7zM397.3 530.1h.7v.7h-.7zM391.6 525.4h.7v.7h-.7zM388.8 531.7h.7v.7h-.7zM396.1 530.5h.7v.7h-.7zM397.4 528.6h.7v.7h-.7zM389.9 527.3h.7v.7h-.7zM393.2 527.6h.7v.7h-.7zM394.2 527.4h.7v.7h-.7zM395.0 532.3h.7v.7h-.7zM393.3 527.6h.7v.7h-.7zM395.3 527.4h.7v.7h-.7zM391.7 529.9h.7v.7h-.7zM396.7 526.6h.7v.7h-.7zM396.1 525.6h.7v.7h-.7zM395.7 529.8h.7v.7h-.7zM401.6 528.9h.7v.7h-.7zM393.8 525.8h.7v.7h-.7zM396.3 528.6h.7v.7h-.7zM396.5 530.9h.7v.7h-.7zM395.0 527.6h.7v.7h-.7zM394.0 526.8h.7v.7h-.7zM393.1 525.7h.7v.7h-.7zM393.6 527.7h.7v.7h-.7zM399.0 529.1h.7v.7h-.7zM395.0 532.0h.7v.7h-.7zM389.3 529.7h.7v.7h-.7zM395.5 527.5h.7v.7h-.7zM388.4 525.1h.7v.7h-.7zM394.7 527.3h.7v.7h-.7zM396.3 530.1h.7v.7h-.7zM396.7 531.4h.7v.7h-.7zM386.8 526.9h.7v.7h-.7zM397.2 529.8h.7v.7h-.7zM396.5 528.1h.7v.7h-.7zM394.9 527.7h.7v.7h-.7zM391.3 526.6h.7v.7h-.7zM396.7 526.4h.7v.7h-.7zM391.8 528.3h.7v.7h-.7zM390.2 528.2h.7v.7h-.7zM392.8 523.7h.7v.7h-.7zM396.5 526.4h.7v.7h-.7zM395.4 525.7h.7v.7h-.7zM393.7 527.3h.7v.7h-.7zM394.3 530.6h.7v.7h-.7zM389.4 530.4h.7v.7h-.7zM396.2 532.4h.7v.7h-.7zM389.5 529.9h.7v.7h-.7zM394.4 530.1h.7v.7h-.7zM395.1 527.4h.7v.7h-.7zM394.9 526.1h.7v.7h-.7zM394.2 527.1h.7v.7h-.7zM394.3 527.3h.7v.7h-.7zM390.2 528.4h.7v.7h-.7zM397.9 525.4h.7v.7h-.7zM397.5 529.0h.7v.7h-.7zM398.0 529.6h.7v.7h-.7zM388.6 528.9h.7v.7h-.7zM370.7 528.3h.7v.7h-.7zM391.5 534.0h.7v.7h-.7zM382.4 524.8h.7v.7h-.7zM392.6 534.8h.7v.7h-.7zM385.5 529.9h.7v.7h-.7zM386.8 527.4h.7v.7h-.7zM399.7 528.0h.7v.7h-.7zM390.8 528.3h.7v.7h-.7zM380.6 528.3h.7v.7h-.7zM379.1 528.7h.7v.7h-.7zM379.5 536.7h.7v.7h-.7zM384.2 531.5h.7v.7h-.7zM390.9 539.9h.7v.7h-.7zM398.5 532.0h.7v.7h-.7zM387.1 536.5h.7v.7h-.7zM383.2 533.2h.7v.7h-.7zM382.3 534.7h.7v.7h-.7zM376.3 531.8h.7v.7h-.7zM402.1 530.1h.7v.7h-.7zM376.7 526.9h.7v.7h-.7zM393.9 526.5h.7v.7h-.7zM382.1 527.8h.7v.7h-.7zM399.0 529.5h.7v.7h-.7zM382.3 536.3h.7v.7h-.7zM377.6 534.1h.7v.7h-.7zM373.4 529.5h.7v.7h-.7zM381.5 529.4h.7v.7h-.7zM395.3 524.2h.7v.7h-.7zM392.0 530.7h.7v.7h-.7zM393.2 532.9h.7v.7h-.7zM379.0 531.1h.7v.7h-.7zM384.5 535.3h.7v.7h-.7zM393.4 533.0h.7v.7h-.7zM373.9 530.1h.7v.7h-.7zM389.6 534.4h.7v.7h-.7zM390.6 536.5h.7v.7h-.7zM389.6 533.0h.7v.7h-.7zM395.4 530.7h.7v.7h-.7zM380.5 529.4h.7v.7h-.7zM397.1 536.8h.7v.7h-.7zM375.4 525.7h.7v.7h-.7zM380.2 522.4h.7v.7h-.7zM387.6 530.2h.7v.7h-.7zM391.2 538.9h.7v.7h-.7zM377.3 524.9h.7v.7h-.7zM380.2 526.6h.7v.7h-.7zM366.2 537.7h.7v.7h-.7zM374.6 531.4h.7v.7h-.7zM384.3 539.1h.7v.7h-.7zM391.1 531.6h.7v.7h-.7zM373.4 529.7h.7v.7h-.7zM389.7 535.3h.7v.7h-.7zM376.1 533.1h.7v.7h-.7zM393.1 538.0h.7v.7h-.7zM387.8 529.1h.7v.7h-.7zM381.7 530.1h.7v.7h-.7zM389.6 531.8h.7v.7h-.7zM400.0 528.6h.7v.7h-.7zM377.6 536.0h.7v.7h-.7zM406.7 537.6h.7v.7h-.7zM386.4 533.8h.7v.7h-.7zM394.8 530.4h.7v.7h-.7zM392.8 528.5h.7v.7h-.7zM368.9 536.8h.7v.7h-.7zM388.0 533.3h.7v.7h-.7zM392.9 524.6h.7v.7h-.7zM377.3 533.5h.7v.7h-.7zM391.3 524.0h.7v.7h-.7zM378.9 527.8h.7v.7h-.7zM388.2 528.3h.7v.7h-.7zM388.8 532.8h.7v.7h-.7zM378.0 533.7h.7v.7h-.7zM374.6 528.3h.7v.7h-.7zM384.7 523.5h.7v.7h-.7zM391.5 529.9h.7v.7h-.7zM384.7 532.9h.7v.7h-.7zM383.1 528.8h.7v.7h-.7zM387.2 537.0h.7v.7h-.7zM385.1 530.0h.7v.7h-.7zM395.0 527.4h.7v.7h-.7zM384.1 530.5h.7v.7h-.7zM390.9 530.8h.7v.7h-.7zM382.4 529.3h.7v.7h-.7zM388.3 533.1h.7v.7h-.7zM373.8 524.1h.7v.7h-.7zM373.3 531.7h.7v.7h-.7zM385.3 526.5h.7v.7h-.7zM378.0 531.7h.7v.7h-.7zM373.7 530.2h.7v.7h-.7zM381.6 531.4h.7v.7h-.7zM391.5 527.1h.7v.7h-.7zM391.5 534.7h.7v.7h-.7zM402.8 522.7h.7v.7h-.7zM383.0 531.6h.7v.7h-.7zM374.8 533.5h.7v.7h-.7zM395.1 531.3h.7v.7h-.7zM386.4 529.7h.7v.7h-.7zM380.9 527.7h.7v.7h-.7zM376.2 529.4h.7v.7h-.7zM398.6 530.6h.7v.7h-.7zM382.0 529.3h.7v.7h-.7zM392.2 530.6h.7v.7h-.7zM370.1 530.7h.7v.7h-.7zM374.1 529.4h.7v.7h-.7zM378.9 538.7h.7v.7h-.7zM393.8 533.6h.7v.7h-.7zM386.5 531.0h.7v.7h-.7zM392.5 533.2h.7v.7h-.7zM371.1 526.1h.7v.7h-.7zM376.9 528.9h.7v.7h-.7zM393.5 534.8h.7v.7h-.7zM383.3 534.7h.7v.7h-.7zM390.2 524.0h.7v.7h-.7zM383.3 535.0h.7v.7h-.7zM387.6 533.4h.7v.7h-.7zM389.6 533.6h.7v.7h-.7zM384.4 534.2h.7v.7h-.7zM394.1 520.8h.7v.7h-.7zM378.5 529.0h.7v.7h-.7zM379.8 533.7h.7v.7h-.7zM380.0 531.9h.7v.7h-.7zM405.9 524.3h.7v.7h-.7zM376.7 529.9h.7v.7h-.7zM394.0 528.6h.7v.7h-.7zM407.0 522.2h.7v.7h-.7zM404.6 521.4h.7v.7h-.7zM402.7 522.5h.7v.7h-.7zM399.3 522.2h.7v.7h-.7zM404.0 521.3h.7v.7h-.7zM405.6 522.1h.7v.7h-.7zM407.6 523.2h.7v.7h-.7zM405.9 522.2h.7v.7h-.7zM404.4 525.4h.7v.7h-.7zM407.6 517.2h.7v.7h-.7zM405.0 522.1h.7v.7h-.7zM403.5 525.4h.7v.7h-.7zM406.2 521.6h.7v.7h-.7zM403.1 524.1h.7v.7h-.7zM405.7 522.4h.7v.7h-.7zM402.1 518.2h.7v.7h-.7zM404.8 526.1h.7v.7h-.7zM404.8 524.0h.7v.7h-.7zM405.2 524.1h.7v.7h-.7zM406.0 524.3h.7v.7h-.7zM404.2 522.7h.7v.7h-.7zM403.7 519.0h.7v.7h-.7zM406.5 525.6h.7v.7h-.7zM403.3 523.5h.7v.7h-.7zM403.5 520.7h.7v.7h-.7zM408.9 521.4h.7v.7h-.7zM404.9 521.2h.7v.7h-.7zM407.3 524.5h.7v.7h-.7zM406.0 522.7h.7v.7h-.7zM402.3 524.6h.7v.7h-.7zM402.9 523.8h.7v.7h-.7zM400.5 524.8h.7v.7h-.7zM402.8 521.8h.7v.7h-.7zM404.4 522.0h.7v.7h-.7zM404.8 523.0h.7v.7h-.7zM405.8 520.8h.7v.7h-.7zM405.2 526.8h.7v.7h-.7zM402.8 539.0h.7v.7h-.7zM396.6 533.5h.7v.7h-.7zM403.3 546.7h.7v.7h-.7zM407.7 545.4h.7v.7h-.7zM401.5 529.5h.7v.7h-.7zM404.7 538.8h.7v.7h-.7zM401.4 542.2h.7v.7h-.7zM403.4 544.4h.7v.7h-.7zM404.9 540.8h.7v.7h-.7zM399.7 534.2h.7v.7h-.7zM401.3 540.8h.7v.7h-.7zM405.7 541.4h.7v.7h-.7zM402.2 537.7h.7v.7h-.7zM403.2 544.9h.7v.7h-.7zM402.9 540.8h.7v.7h-.7zM404.9 537.8h.7v.7h-.7zM402.7 538.8h.7v.7h-.7zM403.2 531.3h.7v.7h-.7zM401.1 535.0h.7v.7h-.7zM403.1 545.8h.7v.7h-.7zM398.7 547.5h.7v.7h-.7zM397.8 537.2h.7v.7h-.7zM401.6 545.7h.7v.7h-.7zM407.1 542.4h.7v.7h-.7zM404.0 546.3h.7v.7h-.7zM398.6 538.3h.7v.7h-.7zM407.0 534.7h.7v.7h-.7zM405.4 541.3h.7v.7h-.7zM403.7 537.8h.7v.7h-.7zM400.3 536.7h.7v.7h-.7zM403.0 535.0h.7v.7h-.7zM404.3 530.4h.7v.7h-.7zM400.6 545.6h.7v.7h-.7zM407.3 542.7h.7v.7h-.7zM404.6 533.3h.7v.7h-.7zM406.4 542.0h.7v.7h-.7zM400.1 551.5h.7v.7h-.7zM401.5 534.0h.7v.7h-.7zM400.6 541.3h.7v.7h-.7z" fill="#000" fill-opacity="0.3"/>
<path d="M390.7 528.9h.7v.7h-.7zM395.9 529.2h.7v.7h-.7zM396.8 526.5h.7v.7h-.7zM396.1 524.7h.7v.7h-.7zM393.0 528.8h.7v.7h-.7zM394.9 526.1h.7v.7h-.7zM389.9 527.7h.7v.7h-.7zM394.6 525.1h.7v.7h-.7zM395.8 530.1h.7v.7h-.7zM395.3 531.9h.7v.7h-.7zM393.6 526.9h.7v.7h-.7zM387.3 528.5h.7v.7h-.7zM395.7 526.8h.7v.7h-.7zM389.7 531.4h.7v.7h-.7zM397.6 525.8h.7v.7h-.7zM392.7 531.6h.7v.7h-.7zM390.4 527.7h.7v.7h-.7zM391.8 526.8h.7v.7h-.7zM395.7 528.6h.7v.7h-.7zM392.6 530.7h.7v.7h-.7zM397.3 532.3h.7v.7h-.7zM390.9 528.1h.7v.7h-.7zM393.7 528.7h.7v.7h-.7zM392.3 528.3h.7v.7h-.7zM394.1 525.4h.7v.7h-.7zM394.9 532.5h.7v.7h-.7zM393.4 527.7h.7v.7h-.7zM390.3 527.0h.7v.7h-.7zM392.6 526.2h.7v.7h-.7zM391.4 526.5h.7v.7h-.7zM388.5 530.0h.7v.7h-.7zM391.5 530.4h.7v.7h-.7zM390.9 530.8h.7v.7h-.7zM391.7 528.0h.7v.7h-.7zM391.4 525.0h.7v.7h-.7zM391.1 529.9h.7v.7h-.7zM394.5 526.7h.7v.7h-.7zM396.0 529.4h.7v.7h-.7zM399.2 526.0h.7v.7h-.7zM393.2 531.5h.7v.7h-.7zM386.1 527.5h.7v.7h-.7zM390.2 527.9h.7v.7h-.7zM393.5 529.2h.7v.7h-.7zM394.8 527.9h.7v.7h-.7zM387.2 526.6h.7v.7h-.7zM392.7 534.3h.7v.7h-.7zM388.5 528.9h.7v.7h-.7zM394.1 530.8h.7v.7h-.7zM398.2 529.0h.7v.7h-.7zM396.5 527.5h.7v.7h-.7zM397.6 530.4h.7v.7h-.7zM386.1 530.8h.7v.7h-.7zM396.5 530.3h.7v.7h-.7zM392.6 526.5h.7v.7h-.7zM391.1 532.7h.7v.7h-.7zM386.9 530.8h.7v.7h-.7zM393.2 527.5h.7v.7h-.7zM389.1 526.2h.7v.7h-.7zM396.2 524.9h.7v.7h-.7zM390.5 529.5h.7v.7h-.7zM399.4 528.4h.7v.7h-.7zM396.4 530.4h.7v.7h-.7zM391.9 530.2h.7v.7h-.7zM392.4 528.2h.7v.7h-.7zM396.8 527.1h.7v.7h-.7zM395.0 531.2h.7v.7h-.7zM397.4 531.2h.7v.7h-.7zM396.8 531.4h.7v.7h-.7zM394.3 531.1h.7v.7h-.7zM393.7 525.9h.7v.7h-.7zM392.0 530.6h.7v.7h-.7zM394.0 530.2h.7v.7h-.7zM397.6 529.0h.7v.7h-.7zM395.9 531.4h.7v.7h-.7zM394.6 531.6h.7v.7h-.7zM399.2 528.5h.7v.7h-.7zM390.9 528.4h.7v.7h-.7zM391.6 525.5h.7v.7h-.7zM393.9 533.7h.7v.7h-.7zM392.0 528.5h.7v.7h-.7zM387.4 535.9h.7v.7h-.7zM381.2 529.6h.7v.7h-.7zM387.3 535.9h.7v.7h-.7zM385.4 530.9h.7v.7h-.7zM389.7 530.1h.7v.7h-.7zM399.2 526.0h.7v.7h-.7zM383.2 529.8h.7v.7h-.7zM385.8 540.1h.7v.7h-.7zM385.1 529.0h.7v.7h-.7zM385.3 531.5h.7v.7h-.7zM386.6 527.1h.7v.7h-.7zM382.5 530.5h.7v.7h-.7zM393.3 531.6h.7v.7h-.7zM407.0 535.0h.7v.7h-.7zM389.6 535.3h.7v.7h-.7zM390.1 528.7h.7v.7h-.7zM382.5 531.1h.7v.7h-.7zM385.2 528.8h.7v.7h-.7zM391.4 531.7h.7v.7h-.7zM386.6 528.8h.7v.7h-.7zM384.6 534.8h.7v.7h-.7zM411.9 530.9h.7v.7h-.7zM388.4 531.0h.7v.7h-.7zM367.4 534.9h.7v.7h-.7zM390.9 530.3h.7v.7h-.7zM384.2 525.9h.7v.7h-.7zM392.1 539.3h.7v.7h-.7zM387.0 532.7h.7v.7h-.7zM388.6 533.3h.7v.7h-.7zM382.2 530.5h.7v.7h-.7zM387.1 536.0h.7v.7h-.7zM397.1 532.5h.7v.7h-.7zM365.9 532.7h.7v.7h-.7zM385.9 534.9h.7v.7h-.7zM388.1 532.2h.7v.7h-.7zM391.2 527.9h.7v.7h-.7zM397.3 533.0h.7v.7h-.7zM369.8 532.5h.7v.7h-.7zM393.0 532.6h.7v.7h-.7zM386.4 526.5h.7v.7h-.7zM379.6 530.1h.7v.7h-.7zM379.4 532.9h.7v.7h-.7zM389.8 529.8h.7v.7h-.7zM386.0 531.6h.7v.7h-.7zM381.1 524.8h.7v.7h-.7zM385.0 524.3h.7v.7h-.7zM387.3 533.8h.7v.7h-.7zM376.1 531.6h.7v.7h-.7zM378.9 530.6h.7v.7h-.7zM384.7 534.6h.7v.7h-.7zM374.9 532.2h.7v.7h-.7zM388.1 532.1h.7v.7h-.7zM380.2 530.1h.7v.7h-.7zM367.9 532.7h.7v.7h-.7zM394.8 535.0h.7v.7h-.7zM395.4 531.6h.7v.7h-.7zM391.9 528.4h.7v.7h-.7zM370.2 534.1h.7v.7h-.7zM380.7 538.7h.7v.7h-.7zM386.7 527.9h.7v.7h-.7zM393.0 527.6h.7v.7h-.7zM381.8 530.0h.7v.7h-.7zM386.7 525.4h.7v.7h-.7zM385.0 530.4h.7v.7h-.7zM387.1 521.4h.7v.7h-.7zM389.6 528.2h.7v.7h-.7zM383.9 528.0h.7v.7h-.7zM378.9 525.5h.7v.7h-.7zM387.8 539.4h.7v.7h-.7zM379.3 529.7h.7v.7h-.7zM394.1 532.6h.7v.7h-.7zM384.0 524.4h.7v.7h-.7zM388.8 538.8h.7v.7h-.7zM394.2 533.9h.7v.7h-.7zM372.1 529.5h.7v.7h-.7zM391.6 533.9h.7v.7h-.7zM392.5 531.7h.7v.7h-.7zM392.0 531.9h.7v.7h-.7zM387.5 531.6h.7v.7h-.7zM395.2 528.7h.7v.7h-.7zM381.1 525.7h.7v.7h-.7zM389.8 529.4h.7v.7h-.7zM367.5 531.8h.7v.7h-.7zM387.4 532.3h.7v.7h-.7zM403.0 538.0h.7v.7h-.7zM380.5 527.0h.7v.7h-.7zM379.4 531.7h.7v.7h-.7zM390.5 530.9h.7v.7h-.7zM386.5 525.9h.7v.7h-.7zM395.5 522.5h.7v.7h-.7zM374.7 530.6h.7v.7h-.7zM388.7 532.5h.7v.7h-.7zM384.5 543.3h.7v.7h-.7zM382.6 538.5h.7v.7h-.7zM388.6 524.1h.7v.7h-.7zM379.7 530.5h.7v.7h-.7zM375.6 533.6h.7v.7h-.7zM370.8 532.8h.7v.7h-.7zM401.6 529.1h.7v.7h-.7zM396.2 530.3h.7v.7h-.7zM378.2 524.8h.7v.7h-.7zM386.8 532.9h.7v.7h-.7zM394.8 541.2h.7v.7h-.7zM386.9 535.8h.7v.7h-.7zM376.5 532.0h.7v.7h-.7zM382.2 533.3h.7v.7h-.7zM388.7 533.3h.7v.7h-.7zM391.9 527.5h.7v.7h-.7zM388.3 531.0h.7v.7h-.7zM378.8 532.9h.7v.7h-.7zM381.0 537.3h.7v.7h-.7zM388.5 522.6h.7v.7h-.7zM369.1 530.2h.7v.7h-.7zM383.7 526.1h.7v.7h-.7zM393.8 524.3h.7v.7h-.7zM394.8 536.1h.7v.7h-.7zM382.6 535.3h.7v.7h-.7zM380.0 529.2h.7v.7h-.7zM375.7 543.8h.7v.7h-.7zM383.7 536.8h.7v.7h-.7zM387.6 523.4h.7v.7h-.7zM413.8 532.3h.7v.7h-.7zM397.9 531.6h.7v.7h-.7zM390.4 533.0h.7v.7h-.7zM386.5 526.0h.7v.7h-.7zM380.1 528.0h.7v.7h-.7zM407.3 528.2h.7v.7h-.7zM404.5 519.4h.7v.7h-.7zM404.4 518.1h.7v.7h-.7zM403.9 521.2h.7v.7h-.7zM406.5 529.2h.7v.7h-.7zM405.2 521.4h.7v.7h-.7zM403.5 523.0h.7v.7h-.7zM404.2 525.1h.7v.7h-.7zM407.7 523.2h.7v.7h-.7zM405.5 524.0h.7v.7h-.7zM403.0 525.2h.7v.7h-.7zM407.4 523.3h.7v.7h-.7zM402.6 518.9h.7v.7h-.7zM403.8 517.8h.7v.7h-.7zM407.2 520.0h.7v.7h-.7zM404.9 515.5h.7v.7h-.7zM406.0 521.7h.7v.7h-.7zM406.7 521.6h.7v.7h-.7zM405.0 521.7h.7v.7h-.7zM407.5 526.1h.7v.7h-.7zM404.8 529.5h.7v.7h-.7zM403.4 521.4h.7v.7h-.7zM405.3 522.5h.7v.7h-.7zM404.9 522.9h.7v.7h-.7zM405.9 523.6h.7v.7h-.7zM407.4 517.8h.7v.7h-.7zM402.7 519.5h.7v.7h-.7zM402.5 513.8h.7v.7h-.7zM406.8 524.3h.7v.7h-.7zM403.1 522.1h.7v.7h-.7zM405.3 522.2h.7v.7h-.7zM404.4 525.9h.7v.7h-.7zM405.4 519.1h.7v.7h-.7zM404.4 526.5h.7v.7h-.7zM404.4 523.2h.7v.7h-.7zM404.8 522.7h.7v.7h-.7zM404.7 521.0h.7v.7h-.7zM404.5 540.8h.7v.7h-.7zM406.3 544.7h.7v.7h-.7zM399.4 539.1h.7v.7h-.7zM404.4 537.0h.7v.7h-.7zM402.6 531.2h.7v.7h-.7zM405.7 534.3h.7v.7h-.7zM405.1 530.3h.7v.7h-.7zM406.0 539.8h.7v.7h-.7zM403.9 541.0h.7v.7h-.7zM401.8 546.6h.7v.7h-.7zM405.9 534.1h.7v.7h-.7zM405.2 532.5h.7v.7h-.7zM409.2 531.5h.7v.7h-.7zM402.7 547.8h.7v.7h-.7zM407.8 539.2h.7v.7h-.7zM405.8 542.2h.7v.7h-.7zM398.3 540.8h.7v.7h-.7zM402.4 549.0h.7v.7h-.7zM406.8 537.5h.7v.7h-.7zM404.5 535.7h.7v.7h-.7zM399.5 543.0h.7v.7h-.7zM403.3 539.2h.7v.7h-.7zM400.5 541.4h.7v.7h-.7zM406.2 534.0h.7v.7h-.7zM399.7 547.7h.7v.7h-.7zM404.0 545.4h.7v.7h-.7zM402.6 539.3h.7v.7h-.7zM405.7 541.9h.7v.7h-.7zM401.8 539.7h.7v.7h-.7zM406.0 543.4h.7v.7h-.7zM405.5 546.5h.7v.7h-.7zM406.2 542.7h.7v.7h-.7zM405.7 547.1h.7v.7h-.7zM405.1 536.1h.7v.7h-.7zM405.1 540.8h.7v.7h-.7zM402.8 538.0h.7v.7h-.7zM405.8 544.5h.7v.7h-.7zM405.2 541.0h.7v.7h-.7zM406.5 548.6h.7v.7h-.7z" fill="#000" fill-opacity="0.3"/>
<path d="M393.3 527.0h.7v.7h-.7zM391.1 530.1h.7v.7h-.7zM393.1 527.2h.7v.7h-.7zM394.7 527.3h.7v.7h-.7zM394.6 528.6h.7v.7h-.7zM393.5 528.2h.7v.7h-.7zM391.1 529.7h.7v.7h-.7zM394.8 526.9h.7v.7h-.7zM398.4 528.9h.7v.7h-.7zM394.5 527.3h.7v.7h-.7zM386.4 527.3h.7v.7h-.7zM388.3 532.8h.7v.7h-.7zM395.1 528.5h.7v.7h-.7zM393.7 526.3h.7v.7h-.7zM398.1 528.9h.7v.7h-.7zM393.9 524.5h.7v.7h-.7zM391.0 528.6h.7v.7h-.7zM395.9 528.3h.7v.7h-.7zM391.4 531.4h.7v.7h-.7zM390.1 531.5h.7v.7h-.7zM395.2 528.9h.7v.7h-.7zM392.9 527.6h.7v.7h-.7zM397.5 527.3h.7v.7h-.7zM395.7 528.5h.7v.7h-.7zM393.2 527.0h.7v.7h-.7zM397.6 530.1h.7v.7h-.7zM391.7 527.9h.7v.7h-.7zM395.1 525.0h.7v.7h-.7zM392.2 524.5h.7v.7h-.7zM395.1 531.8h.7v.7h-.7zM393.9 533.4h.7v.7h-.7zM388.9 530.1h.7v.7h-.7zM398.8 527.5h.7v.7h-.7zM390.0 528.2h.7v.7h-.7zM389.7 526.4h.7v.7h-.7zM395.1 526.9h.7v.7h-.7zM394.2 528.4h.7v.7h-.7zM390.6 530.8h.7v.7h-.7zM390.9 527.8h.7v.7h-.7zM394.7 531.6h.7v.7h-.7zM390.4 528.7h.7v.7h-.7zM392.9 522.7h.7v.7h-.7zM390.5 528.4h.7v.7h-.7zM391.1 531.4h.7v.7h-.7zM387.9 531.3h.7v.7h-.7zM397.0 525.5h.7v.7h-.7zM400.6 532.0h.7v.7h-.7zM389.2 524.3h.7v.7h-.7zM397.9 527.1h.7v.7h-.7zM396.1 527.0h.7v.7h-.7zM389.8 530.5h.7v.7h-.7zM396.1 529.6h.7v.7h-.7zM395.0 527.9h.7v.7h-.7zM394.3 527.5h.7v.7h-.7zM390.2 529.5h.7v.7h-.7zM397.1 531.8h.7v.7h-.7zM397.5 526.9h.7v.7h-.7zM392.1 528.7h.7v.7h-.7zM384.4 527.7h.7v.7h-.7zM399.3 528.3h.7v.7h-.7zM395.3 531.3h.7v.7h-.7zM395.0 530.8h.7v.7h-.7zM391.5 529.4h.7v.7h-.7zM393.9 528.1h.7v.7h-.7zM392.8 526.6h.7v.7h-.7zM398.4 531.2h.7v.7h-.7zM396.0 530.4h.7v.7h-.7zM390.4 530.6h.7v.7h-.7zM396.6 530.6h.7v.7h-.7zM395.7 525.4h.7v.7h-.7zM394.9 530.0h.7v.7h-.7zM393.6 531.1h.7v.7h-.7zM396.5 529.1h.7v.7h-.7zM393.3 530.4h.7v.7h-.7zM392.2 524.5h.7v.7h-.7zM393.6 527.2h.7v.7h-.7zM391.2 531.6h.7v.7h-.7zM398.5 523.8h.7v.7h-.7zM387.3 525.5h.7v.7h-.7zM390.8 528.9h.7v.7h-.7zM401.9 528.8h.7v.7h-.7zM381.3 524.4h.7v.7h-.7zM382.1 530.5h.7v.7h-.7zM401.0 529.8h.7v.7h-.7zM401.2 529.8h.7v.7h-.7zM398.5 531.2h.7v.7h-.7zM368.0 533.1h.7v.7h-.7zM389.3 529.6h.7v.7h-.7zM384.4 534.0h.7v.7h-.7zM383.1 531.0h.7v.7h-.7zM389.5 530.4h.7v.7h-.7zM387.1 530.3h.7v.7h-.7zM393.7 532.4h.7v.7h-.7zM394.3 529.6h.7v.7h-.7zM396.0 533.6h.7v.7h-.7zM406.7 532.3h.7v.7h-.7zM380.2 531.2h.7v.7h-.7zM383.9 530.7h.7v.7h-.7zM377.0 533.1h.7v.7h-.7zM379.8 528.4h.7v.7h-.7zM389.5 535.2h.7v.7h-.7zM384.0 531.7h.7v.7h-.7zM391.4 531.8h.7v.7h-.7zM374.9 529.6h.7v.7h-.7zM391.6 531.2h.7v.7h-.7zM383.7 533.2h.7v.7h-.7zM381.3 533.6h.7v.7h-.7zM385.8 530.8h.7v.7h-.7zM391.1 534.9h.7v.7h-.7zM381.3 535.1h.7v.7h-.7zM383.5 529.9h.7v.7h-.7zM392.0 529.0h.7v.7h-.7zM393.7 531.4h.7v.7h-.7zM403.0 533.9h.7v.7h-.7zM386.7 535.3h.7v.7h-.7zM385.4 528.4h.7v.7h-.7zM380.7 532.1h.7v.7h-.7zM372.2 533.8h.7v.7h-.7zM381.3 532.4h.7v.7h-.7zM395.1 529.2h.7v.7h-.7zM396.0 534.1h.7v.7h-.7zM397.7 539.9h.7v.7h-.7zM378.6 532.6h.7v.7h-.7zM391.1 534.7h.7v.7h-.7zM382.8 534.9h.7v.7h-.7zM392.5 535.1h.7v.7h-.7zM377.6 529.8h.7v.7h-.7zM383.3 528.5h.7v.7h-.7zM377.5 532.5h.7v.7h-.7zM377.8 528.6h.7v.7h-.7zM381.1 532.2h.7v.7h-.7zM381.6 530.2h.7v.7h-.7zM391.7 532.5h.7v.7h-.7zM385.9 530.7h.7v.7h-.7zM385.4 533.5h.7v.7h-.7zM386.8 531.7h.7v.7h-.7zM379.9 532.4h.7v.7h-.7zM386.0 530.5h.7v.7h-.7zM382.6 534.7h.7v.7h-.7zM394.0 529.7h.7v.7h-.7zM395.1 531.8h.7v.7h-.7zM379.3 531.5h.7v.7h-.7zM379.8 536.4h.7v.7h-.7zM386.2 524.6h.7v.7h-.7zM387.8 536.1h.7v.7h-.7zM373.9 535.4h.7v.7h-.7zM392.7 527.4h.7v.7h-.7zM396.0 524.3h.7v.7h-.7zM400.1 533.4h.7v.7h-.7zM384.6 525.7h.7v.7h-.7zM383.5 529.9h.7v.7h-.7zM391.1 534.7h.7v.7h-.7zM387.6 525.9h.7v.7h-.7zM392.4 531.7h.7v.7h-.7zM375.5 531.4h.7v.7h-.7zM375.3 531.5h.7v.7h-.7zM394.2 531.7h.7v.7h-.7zM382.5 527.9h.7v.7h-.7zM385.3 530.9h.7v.7h-.7zM389.1 529.7h.7v.7h-.7zM366.9 531.7h.7v.7h-.7zM388.0 527.8h.7v.7h-.7zM384.8 521.4h.7v.7h-.7zM382.6 526.8h.7v.7h-.7zM382.1 529.3h.7v.7h-.7zM400.8 535.0h.7v.7h-.7zM390.0 529.6h.7v.7h-.7zM381.9 533.1h.7v.7h-.7zM393.3 532.7h.7v.7h-.7zM384.7 537.3h.7v.7h-.7zM367.1 524.6h.7v.7h-.7zM394.7 533.6h.7v.7h-.7zM403.5 534.1h.7v.7h-.7zM382.8 530.6h.7v.7h-.7zM380.6 530.5h.7v.7h-.7zM376.4 529.4h.7v.7h-.7zM382.5 529.7h.7v.7h-.7zM382.6 525.4h.7v.7h-.7zM401.1 536.3h.7v.7h-.7zM387.0 529.9h.7v.7h-.7zM383.4 538.0h.7v.7h-.7zM396.6 532.1h.7v.7h-.7zM380.8 522.7h.7v.7h-.7zM386.3 525.6h.7v.7h-.7zM375.6 529.5h.7v.7h-.7zM396.5 530.2h.7v.7h-.7zM390.6 536.7h.7v.7h-.7zM380.9 530.5h.7v.7h-.7zM382.4 524.4h.7v.7h-.7zM388.9 531.2h.7v.7h-.7zM378.9 529.5h.7v.7h-.7zM386.1 528.5h.7v.7h-.7zM394.6 528.2h.7v.7h-.7zM380.3 525.6h.7v.7h-.7zM386.2 525.0h.7v.7h-.7zM385.1 531.3h.7v.7h-.7zM388.4 535.5h.7v.7h-.7zM375.5 529.7h.7v.7h-.7zM384.8 535.9h.7v.7h-.7zM366.4 534.0h.7v.7h-.7zM387.3 528.3h.7v.7h-.7zM390.2 530.7h.7v.7h-.7zM392.9 530.0h.7v.7h-.7zM387.9 526.4h.7v.7h-.7zM377.2 533.1h.7v.7h-.7zM405.6 532.8h.7v.7h-.7zM405.1 518.8h.7v.7h-.7zM405.8 519.7h.7v.7h-.7zM406.1 524.0h.7v.7h-.7zM403.0 521.6h.7v.7h-.7zM405.1 521.9h.7v.7h-.7zM406.7 525.0h.7v.7h-.7zM404.0 518.0h.7v.7h-.7zM406.6 520.4h.7v.7h-.7zM405.1 523.2h.7v.7h-.7zM403.0 521.2h.7v.7h-.7zM405.3 526.0h.7v.7h-.7zM402.6 522.7h.7v.7h-.7zM403.5 523.0h.7v.7h-.7zM403.7 526.1h.7v.7h-.7zM406.0 522.8h.7v.7h-.7zM406.5 521.8h.7v.7h-.7zM403.7 526.2h.7v.7h-.7zM403.3 520.4h.7v.7h-.7zM404.6 523.7h.7v.7h-.7zM404.9 524.6h.7v.7h-.7zM407.7 523.8h.7v.7h-.7zM404.3 519.2h.7v.7h-.7zM406.5 518.3h.7v.7h-.7zM403.5 521.1h.7v.7h-.7zM404.9 523.2h.7v.7h-.7zM405.4 523.3h.7v.7h-.7zM402.3 522.1h.7v.7h-.7zM405.6 523.1h.7v.7h-.7zM405.3 526.9h.7v.7h-.7zM409.5 525.9h.7v.7h-.7zM407.2 522.9h.7v.7h-.7zM407.8 521.0h.7v.7h-.7zM408.0 524.7h.7v.7h-.7zM405.7 526.1h.7v.7h-.7zM405.0 520.7h.7v.7h-.7zM404.8 521.9h.7v.7h-.7zM402.9 543.8h.7v.7h-.7zM399.2 542.5h.7v.7h-.7zM403.8 547.7h.7v.7h-.7zM401.9 535.2h.7v.7h-.7zM401.4 541.5h.7v.7h-.7zM403.0 539.0h.7v.7h-.7zM403.6 529.8h.7v.7h-.7zM405.5 535.8h.7v.7h-.7zM401.0 542.1h.7v.7h-.7zM403.1 539.0h.7v.7h-.7zM399.5 541.2h.7v.7h-.7zM398.0 546.6h.7v.7h-.7zM400.8 536.7h.7v.7h-.7zM401.5 537.1h.7v.7h-.7zM403.7 541.9h.7v.7h-.7zM402.0 535.8h.7v.7h-.7zM404.1 531.8h.7v.7h-.7zM403.8 541.5h.7v.7h-.7zM402.8 543.4h.7v.7h-.7zM401.6 544.7h.7v.7h-.7zM399.4 534.4h.7v.7h-.7zM402.9 539.7h.7v.7h-.7zM403.3 534.5h.7v.7h-.7zM405.1 542.1h.7v.7h-.7zM401.8 536.6h.7v.7h-.7zM402.1 541.5h.7v.7h-.7zM400.0 534.0h.7v.7h-.7zM403.5 542.8h.7v.7h-.7zM403.6 532.9h.7v.7h-.7zM405.9 537.9h.7v.7h-.7zM403.8 538.4h.7v.7h-.7zM402.8 540.8h.7v.7h-.7zM404.5 551.8h.7v.7h-.7zM405.2 548.0h.7v.7h-.7zM401.5 546.4h.7v.7h-.7zM401.6 543.8h.7v.7h-.7zM405.6 533.5h.7v.7h-.7zM402.6 536.8h.7v.7h-.7zM405.7 540.8h.7v.7h-.7zM408.0 535.9h.7v.7h-.7z" fill="#000" fill-opacity="0.3"/>
<rect x="363.3" y="496.3" width="56.1" height="57.9" fill="none" stroke="#8c8c8c" stroke-width="0.6"/>
<line x1="398.2" y1="496.3" x2="398.2" y2="554.2" stroke="#555" stroke-width="0.75"/>
<line x1="363.3" y1="530.3" x2="419.4" y2="530.3" stroke="#555" stroke-width="0.75"/>
<line x1="363.3" y1="496.3" x2="363.3" y2="554.2" stroke="#444" stroke-width="0.7"/>
<line x1="363.3" y1="554.2" x2="419.4" y2="554.2" stroke="#444" stroke-width="0.7"/>
<text x="364.5" y="502.34" font-size="6" fill="#1c1c1c" stroke="#1c1c1c" stroke-width="0.3">39.2</text>
<text x="418.4" y="502.34" font-size="6" text-anchor="end" fill="#1c1c1c" stroke="#1c1c1c" stroke-width="0.3">24.2</text>
<text x="364.5" y="553.64" font-size="6" fill="#1c1c1c" stroke="#1c1c1c" stroke-width="0.3">25.3</text>
<text x="418.4" y="553.64" font-size="6" text-anchor="end" fill="#1c1c1c" stroke="#1c1c1c" stroke-width="0.3">11.4</text>
<text x="362.8" y="554.2" font-size="4.5" text-anchor="end" fill="#333" stroke="#333" stroke-width="0.15">10<tspan font-size="3.3" dy="-1.6">1</tspan></text>
<line x1="362.5" y1="553" x2="363.3" y2="553" stroke="#444" stroke-width="0.4"/>
<text x="362.8" y="543.92" font-size="4.5" text-anchor="end" fill="#333" stroke="#333" stroke-width="0.15">10<tspan font-size="3.3" dy="-1.6">2</tspan></text>
<line x1="362.5" y1="542.72" x2="363.3" y2="542.72" stroke="#444" stroke-width="0.4"/>
<text x="362.8" y="533.64" font-size="4.5" text-anchor="end" fill="#333" stroke="#333" stroke-width="0.15">10<tspan font-size="3.3" dy="-1.6">3</tspan></text>
<line x1="362.5" y1="532.44" x2="363.3" y2="532.44" stroke="#444" stroke-width="0.4"/>
<text x="362.8" y="523.36" font-size="4.5" text-anchor="end" fill="#333" stroke="#333" stroke-width="0.15">10<tspan font-size="3.3" dy="-1.6">4</tspan></text>
<line x1="362.5" y1="522.16" x2="363.3" y2="522.16" stroke="#444" stroke-width="0.4"/>
<text x="362.8" y="513.08" font-size="4.5" text-anchor="end" fill="#333" stroke="#333" stroke-width="0.15">10<tspan font-size="3.3" dy="-1.6">5</tspan></text>
<line x1="362.5" y1="511.88" x2="363.3" y2="511.88" stroke="#444" stroke-width="0.4"/>
<text x="362.8" y="502.8" font-size="4.5" text-anchor="end" fill="#333" stroke="#333" stroke-width="0.15">10<tspan font-size="3.3" dy="-1.6">6</tspan></text>
<line x1="362.5" y1="501.6" x2="363.3" y2="501.6" stroke="#444" stroke-width="0.4"/>
<text x="372.84" y="558.2" font-size="4.5" text-anchor="middle" fill="#333" stroke="#333" stroke-width="0.15">10<tspan font-size="3.3" dy="-1.6">2</tspan></text>
<line x1="372.84" y1="554.2" x2="372.84" y2="555" stroke="#444" stroke-width="0.4"/>
<text x="387.14" y="558.2" font-size="4.5" text-anchor="middle" fill="#333" stroke="#333" stroke-width="0.15">10<tspan font-size="3.3" dy="-1.6">3</tspan></text>
<line x1="387.14" y1="554.2" x2="387.14" y2="555" stroke="#444" stroke-width="0.4"/>
<text x="401.45" y="558.2" font-size="4.5" text-anchor="middle" fill="#333" stroke="#333" stroke-width="0.15">10<tspan font-size="3.3" dy="-1.6">4</tspan></text>
<line x1="401.45" y1="554.2" x2="401.45" y2="555" stroke="#444" stroke-width="0.4"/>
<text x="415.75" y="558.2" font-size="4.5" text-anchor="middle" fill="#333" stroke="#333" stroke-width="0.15">10<tspan font-size="3.3" dy="-1.6">5</tspan></text>
<line x1="415.75" y1="554.2" x2="415.75" y2="555" stroke="#444" stroke-width="0.4"/>
<rect x="439.2" y="496.3" width="55.1" height="57.9" fill="#fff"/>
<ellipse cx="460" cy="531" rx="8" ry="3.4" fill="url(#rg)" opacity="0.95" transform="rotate(0 460 531)"/>
<ellipse cx="477" cy="537.5" rx="2.8" ry="5.5" fill="url(#rg)" opacity="0.6" transform="rotate(0 477 537.5)"/>
<ellipse cx="452" cy="531" rx="7" ry="3" fill="url(#rg)" opacity="0.35" transform="rotate(0 452 531)"/>
<path d="M463.1 531.3h.7v.7h-.7zM460.0 529.4h.7v.7h-.7zM464.8 534.2h.7v.7h-.7zM460.4 528.2h.7v.7h-.7zM463.8 531.7h.7v.7h-.7zM457.9 530.3h.7v.7h-.7zM463.7 531.5h.7v.7h-.7zM474.1 533.5h.7v.7h-.7zM458.0 531.6h.7v.7h-.7zM460.9 530.2h.7v.7h-.7zM462.4 526.9h.7v.7h-.7zM458.5 530.4h.7v.7h-.7zM459.9 531.5h.7v.7h-.7zM457.4 533.3h.7v.7h-.7zM462.7 530.7h.7v.7h-.7zM464.6 530.9h.7v.7h-.7zM467.1 531.8h.7v.7h-.7zM454.9 531.7h.7v.7h-.7zM462.2 528.9h.7v.7h-.7zM465.5 529.7h.7v.7h-.7zM468.8 530.9h.7v.7h-.7zM463.4 531.4h.7v.7h-.7zM457.9 531.7h.7v.7h-.7zM472.8 531.5h.7v.7h-.7zM452.5 531.5h.7v.7h-.7zM464.2 532.0h.7v.7h-.7zM467.4 533.8h.7v.7h-.7zM469.5 532.5h.7v.7h-.7zM454.6 528.2h.7v.7h-.7zM460.9 530.9h.7v.7h-.7zM462.4 530.3h.7v.7h-.7zM462.5 529.7h.7v.7h-.7zM456.1 531.2h.7v.7h-.7zM452.3 530.8h.7v.7h-.7zM458.4 530.0h.7v.7h-.7zM469.5 529.2h.7v.7h-.7zM464.5 530.3h.7v.7h-.7zM468.3 532.6h.7v.7h-.7zM464.0 528.7h.7v.7h-.7zM462.7 532.1h.7v.7h-.7zM462.4 533.0h.7v.7h-.7zM455.0 531.3h.7v.7h-.7zM454.0 531.7h.7v.7h-.7zM465.0 531.2h.7v.7h-.7zM457.7 530.7h.7v.7h-.7zM461.5 531.8h.7v.7h-.7zM462.9 531.9h.7v.7h-.7zM460.5 528.2h.7v.7h-.7zM453.0 531.2h.7v.7h-.7zM457.0 532.3h.7v.7h-.7zM463.3 530.7h.7v.7h-.7zM462.5 528.6h.7v.7h-.7zM460.4 529.3h.7v.7h-.7zM463.3 530.7h.7v.7h-.7zM457.3 534.9h.7v.7h-.7zM461.8 533.3h.7v.7h-.7zM469.5 531.0h.7v.7h-.7zM466.1 532.1h.7v.7h-.7zM463.0 531.1h.7v.7h-.7zM462.5 528.6h.7v.7h-.7zM456.4 529.4h.7v.7h-.7zM466.3 528.8h.7v.7h-.7zM454.5 528.2h.7v.7h-.7zM464.5 531.8h.7v.7h-.7zM459.3 528.4h.7v.7h-.7zM470.8 531.9h.7v.7h-.7zM455.8 530.7h.7v.7h-.7zM466.2 532.8h.7v.7h-.7zM466.3 529.6h.7v.7h-.7zM462.3 531.5h.7v.7h-.7zM463.5 529.4h.7v.7h-.7zM467.0 532.3h.7v.7h-.7zM460.3 532.5h.7v.7h-.7zM458.8 531.9h.7v.7h-.7zM452.9 530.6h.7v.7h-.7zM455.6 531.7h.7v.7h-.7zM464.0 534.1h.7v.7h-.7zM457.8 530.7h.7v.7h-.7zM456.5 529.9h.7v.7h-.7zM463.7 527.3h.7v.7h-.7zM469.5 528.3h.7v.7h-.7zM460.9 530.2h.7v.7h-.7zM468.0 527.8h.7v.7h-.7zM455.5 531.4h.7v.7h-.7zM459.7 531.6h.7v.7h-.7zM465.0 528.7h.7v.7h-.7zM461.6 531.1h.7v.7h-.7zM462.4 529.9h.7v.7h-.7zM457.4 530.5h.7v.7h-.7zM454.7 530.9h.7v.7h-.7zM465.4 528.9h.7v.7h-.7zM468.4 532.7h.7v.7h-.7zM467.5 528.0h.7v.7h-.7zM455.6 531.2h.7v.7h-.7zM465.0 532.9h.7v.7h-.7zM459.0 533.3h.7v.7h-.7zM456.7 531.3h.7v.7h-.7zM457.6 530.3h.7v.7h-.7zM467.7 530.0h.7v.7h-.7zM460.4 533.3h.7v.7h-.7zM444.6 535.2h.7v.7h-.7zM465.3 536.3h.7v.7h-.7zM461.1 531.6h.7v.7h-.7zM457.4 534.6h.7v.7h-.7zM466.3 533.1h.7v.7h-.7zM452.4 531.2h.7v.7h-.7zM459.7 531.5h.7v.7h-.7zM452.3 541.1h.7v.7h-.7zM446.8 544.7h.7v.7h-.7zM444.2 528.4h.7v.7h-.7zM456.0 531.9h.7v.7h-.7zM443.6 529.2h.7v.7h-.7zM464.3 532.7h.7v.7h-.7zM455.5 539.1h.7v.7h-.7zM472.4 531.1h.7v.7h-.7zM459.6 533.1h.7v.7h-.7zM446.3 537.5h.7v.7h-.7zM450.3 532.6h.7v.7h-.7zM464.2 532.0h.7v.7h-.7zM440.7 529.9h.7v.7h-.7zM460.5 533.9h.7v.7h-.7zM454.1 533.0h.7v.7h-.7zM466.8 535.4h.7v.7h-.7zM449.7 532.8h.7v.7h-.7zM448.5 539.8h.7v.7h-.7zM461.2 530.2h.7v.7h-.7zM464.7 534.2h.7v.7h-.7zM459.5 529.2h.7v.7h-.7zM450.4 533.6h.7v.7h-.7zM443.7 532.9h.7v.7h-.7zM476.8 531.3h.7v.7h-.7zM449.6 534.1h.7v.7h-.7zM466.3 530.0h.7v.7h-.7zM459.6 534.8h.7v.7h-.7zM450.3 539.4h.7v.7h-.7zM448.2 525.1h.7v.7h-.7zM457.2 534.4h.7v.7h-.7zM457.6 527.4h.7v.7h-.7zM449.3 536.6h.7v.7h-.7zM462.9 534.5h.7v.7h-.7zM456.3 529.8h.7v.7h-.7zM450.3 536.4h.7v.7h-.7zM452.1 528.4h.7v.7h-.7zM451.2 536.6h.7v.7h-.7zM448.8 530.5h.7v.7h-.7zM466.8 531.4h.7v.7h-.7zM443.4 534.0h.7v.7h-.7zM441.8 526.2h.7v.7h-.7zM460.8 531.9h.7v.7h-.7zM455.5 530.9h.7v.7h-.7zM440.5 533.7h.7v.7h-.7zM450.8 527.9h.7v.7h-.7zM466.5 529.9h.7v.7h-.7zM453.2 532.0h.7v.7h-.7zM443.5 528.5h.7v.7h-.7zM444.0 532.3h.7v.7h-.7zM463.1 531.5h.7v.7h-.7zM455.7 532.9h.7v.7h-.7zM458.8 533.4h.7v.7h-.7zM460.2 537.2h.7v.7h-.7zM443.3 532.5h.7v.7h-.7zM456.1 529.1h.7v.7h-.7zM444.3 534.0h.7v.7h-.7zM445.6 536.2h.7v.7h-.7zM455.0 536.6h.7v.7h-.7zM467.0 532.3h.7v.7h-.7zM450.5 532.2h.7v.7h-.7zM468.0 538.0h.7v.7h-.7zM461.6 530.9h.7v.7h-.7zM448.5 529.7h.7v.7h-.7zM450.5 531.1h.7v.7h-.7zM461.9 529.7h.7v.7h-.7zM453.7 528.9h.7v.7h-.7zM452.9 534.8h.7v.7h-.7zM446.5 529.5h.7v.7h-.7zM461.4 539.1h.7v.7h-.7zM459.7 527.4h.7v.7h-.7zM462.8 536.2h.7v.7h-.7zM467.5 525.2h.7v.7h-.7zM443.3 531.3h.7v.7h-.7zM457.6 526.6h.7v.7h-.7zM452.9 540.0h.7v.7h-.7zM455.1 536.4h.7v.7h-.7zM464.2 527.1h.7v.7h-.7zM472.1 526.8h.7v.7h-.7zM457.1 535.8h.7v.7h-.7zM457.8 536.7h.7v.7h-.7zM471.2 536.6h.7v.7h-.7zM457.9 531.1h.7v.7h-.7zM442.1 530.7h.7v.7h-.7zM443.9 525.3h.7v.7h-.7zM459.0 536.8h.7v.7h-.7zM457.6 529.5h.7v.7h-.7zM458.6 534.9h.7v.7h-.7zM464.5 533.1h.7v.7h-.7zM455.5 532.3h.7v.7h-.7zM460.6 531.0h.7v.7h-.7zM468.2 531.9h.7v.7h-.7zM455.8 533.1h.7v.7h-.7zM456.0 534.2h.7v.7h-.7zM449.1 545.6h.7v.7h-.7zM457.0 534.5h.7v.7h-.7zM460.2 526.4h.7v.7h-.7zM457.9 529.7h.7v.7h-.7zM477.3 541.1h.7v.7h-.7zM476.4 530.5h.7v.7h-.7zM475.3 532.3h.7v.7h-.7zM473.1 532.1h.7v.7h-.7zM478.2 545.1h.7v.7h-.7zM476.1 534.0h.7v.7h-.7zM479.1 536.8h.7v.7h-.7zM477.4 537.5h.7v.7h-.7zM472.6 528.3h.7v.7h-.7zM473.5 536.0h.7v.7h-.7zM479.1 546.1h.7v.7h-.7zM476.7 547.0h.7v.7h-.7zM477.7 543.8h.7v.7h-.7zM477.5 535.3h.7v.7h-.7zM477.1 539.1h.7v.7h-.7zM477.0 530.3h.7v.7h-.7zM476.7 538.6h.7v.7h-.7zM479.8 533.3h.7v.7h-.7zM473.1 538.0h.7v.7h-.7zM478.2 527.7h.7v.7h-.7zM475.2 534.3h.7v.7h-.7zM477.2 542.5h.7v.7h-.7zM476.5 528.6h.7v.7h-.7zM476.8 541.7h.7v.7h-.7zM480.1 528.1h.7v.7h-.7zM475.9 547.7h.7v.7h-.7zM477.9 536.8h.7v.7h-.7zM478.9 538.9h.7v.7h-.7zM476.6 532.3h.7v.7h-.7zM478.1 537.6h.7v.7h-.7zM477.7 544.0h.7v.7h-.7zM481.2 544.0h.7v.7h-.7zM476.3 524.6h.7v.7h-.7zM477.2 543.4h.7v.7h-.7zM476.2 545.4h.7v.7h-.7zM478.0 539.2h.7v.7h-.7zM477.8 538.3h.7v.7h-.7zM476.5 538.8h.7v.7h-.7zM474.8 542.1h.7v.7h-.7zM473.9 542.0h.7v.7h-.7zM480.4 540.2h.7v.7h-.7zM478.7 544.1h.7v.7h-.7zM473.9 535.8h.7v.7h-.7zM477.5 537.9h.7v.7h-.7zM477.2 541.2h.7v.7h-.7zM475.8 545.1h.7v.7h-.7zM478.8 539.9h.7v.7h-.7zM474.1 533.5h.7v.7h-.7zM476.6 536.5h.7v.7h-.7zM478.6 535.1h.7v.7h-.7zM475.7 531.7h.7v.7h-.7zM477.6 538.0h.7v.7h-.7zM477.8 529.4h.7v.7h-.7zM478.7 538.8h.7v.7h-.7zM479.0 531.3h.7v.7h-.7zM479.4 521.2h.7v.7h-.7zM475.4 535.7h.7v.7h-.7z" fill="#000" fill-opacity="0.3"/>
<path d="M469.5 526.7h.7v.7h-.7zM467.7 531.9h.7v.7h-.7zM452.3 531.5h.7v.7h-.7zM458.8 533.9h.7v.7h-.7zM465.4 529.0h.7v.7h-.7zM466.4 533.8h.7v.7h-.7zM458.2 532.1h.7v.7h-.7zM464.7 532.9h.7v.7h-.7zM461.5 530.1h.7v.7h-.7zM464.8 528.3h.7v.7h-.7zM468.6 528.0h.7v.7h-.7zM451.4 530.3h.7v.7h-.7zM463.1 529.9h.7v.7h-.7zM461.5 533.7h.7v.7h-.7zM462.6 529.7h.7v.7h-.7zM455.1 530.4h.7v.7h-.7zM464.9 529.7h.7v.7h-.7zM461.6 530.2h.7v.7h-.7zM455.6 533.6h.7v.7h-.7zM445.6 531.0h.7v.7h-.7zM463.9 529.3h.7v.7h-.7zM452.5 530.4h.7v.7h-.7zM456.8 534.4h.7v.7h-.7zM457.3 532.2h.7v.7h-.7zM451.8 534.4h.7v.7h-.7zM456.0 534.0h.7v.7h-.7zM466.8 532.1h.7v.7h-.7zM468.3 529.7h.7v.7h-.7zM458.0 531.2h.7v.7h-.7zM461.6 532.1h.7v.7h-.7zM464.8 530.2h.7v.7h-.7zM459.7 531.4h.7v.7h-.7zM461.9 532.1h.7v.7h-.7zM453.0 528.8h.7v.7h-.7zM460.8 528.0h.7v.7h-.7zM465.7 529.9h.7v.7h-.7zM457.6 530.8h.7v.7h-.7zM449.4 530.4h.7v.7h-.7zM456.0 531.4h.7v.7h-.7zM469.1 530.2h.7v.7h-.7zM467.4 531.0h.7v.7h-.7zM467.4 526.9h.7v.7h-.7zM455.6 532.5h.7v.7h-.7zM463.8 534.4h.7v.7h-.7zM460.3 531.2h.7v.7h-.7zM461.3 532.2h.7v.7h-.7zM464.1 533.1h.7v.7h-.7zM462.3 530.6h.7v.7h-.7zM466.8 532.9h.7v.7h-.7zM460.0 534.2h.7v.7h-.7zM461.9 529.9h.7v.7h-.7zM454.7 532.0h.7v.7h-.7zM470.6 528.3h.7v.7h-.7zM459.7 532.8h.7v.7h-.7zM467.7 531.4h.7v.7h-.7zM457.1 531.2h.7v.7h-.7zM463.8 533.7h.7v.7h-.7zM460.5 533.8h.7v.7h-.7zM469.9 531.1h.7v.7h-.7zM461.9 530.6h.7v.7h-.7zM457.6 530.0h.7v.7h-.7zM454.5 527.9h.7v.7h-.7zM462.0 533.1h.7v.7h-.7zM458.9 534.6h.7v.7h-.7zM461.5 533.1h.7v.7h-.7zM456.2 529.6h.7v.7h-.7zM460.6 532.3h.7v.7h-.7zM458.5 534.3h.7v.7h-.7zM459.4 534.5h.7v.7h-.7zM457.9 530.8h.7v.7h-.7zM464.7 531.4h.7v.7h-.7zM464.6 530.8h.7v.7h-.7zM461.2 532.0h.7v.7h-.7zM461.3 532.9h.7v.7h-.7zM456.0 532.1h.7v.7h-.7zM467.0 531.7h.7v.7h-.7zM464.2 528.9h.7v.7h-.7zM459.1 529.9h.7v.7h-.7zM461.6 535.0h.7v.7h-.7zM463.1 529.6h.7v.7h-.7zM458.6 533.3h.7v.7h-.7zM460.5 532.5h.7v.7h-.7zM459.7 532.0h.7v.7h-.7zM458.6 532.6h.7v.7h-.7zM461.7 529.0h.7v.7h-.7zM465.4 535.0h.7v.7h-.7zM462.4 530.7h.7v.7h-.7zM461.8 533.0h.7v.7h-.7zM460.3 533.4h.7v.7h-.7zM465.5 532.4h.7v.7h-.7zM464.0 530.2h.7v.7h-.7zM455.1 531.7h.7v.7h-.7zM462.8 531.4h.7v.7h-.7zM461.7 527.2h.7v.7h-.7zM464.1 531.6h.7v.7h-.7zM467.5 535.2h.7v.7h-.7zM455.7 532.8h.7v.7h-.7zM463.4 530.1h.7v.7h-.7zM466.0 535.0h.7v.7h-.7zM459.1 531.8h.7v.7h-.7zM472.3 532.9h.7v.7h-.7zM451.8 534.5h.7v.7h-.7zM467.4 536.9h.7v.7h-.7zM451.9 531.8h.7v.7h-.7zM447.5 525.9h.7v.7h-.7zM441.2 530.8h.7v.7h-.7zM457.1 534.8h.7v.7h-.7zM456.3 525.2h.7v.7h-.7zM455.0 535.8h.7v.7h-.7zM445.0 533.6h.7v.7h-.7zM451.0 532.4h.7v.7h-.7zM456.7 537.2h.7v.7h-.7zM465.8 532.7h.7v.7h-.7zM444.4 532.2h.7v.7h-.7zM461.2 526.1h.7v.7h-.7zM445.6 529.6h.7v.7h-.7zM459.0 524.3h.7v.7h-.7zM468.1 536.8h.7v.7h-.7zM457.4 534.4h.7v.7h-.7zM449.2 534.8h.7v.7h-.7zM454.7 525.2h.7v.7h-.7zM453.2 528.5h.7v.7h-.7zM442.6 531.1h.7v.7h-.7zM466.2 525.8h.7v.7h-.7zM463.5 532.8h.7v.7h-.7zM451.2 526.8h.7v.7h-.7zM463.0 530.0h.7v.7h-.7zM460.0 535.1h.7v.7h-.7zM471.2 532.6h.7v.7h-.7zM452.4 535.6h.7v.7h-.7zM447.4 533.8h.7v.7h-.7zM455.9 524.2h.7v.7h-.7zM447.7 536.3h.7v.7h-.7zM455.3 528.0h.7v.7h-.7zM463.4 528.2h.7v.7h-.7zM462.7 534.9h.7v.7h-.7zM445.4 530.9h.7v.7h-.7zM449.4 538.5h.7v.7h-.7zM454.6 530.5h.7v.7h-.7zM442.8 537.7h.7v.7h-.7zM449.7 529.8h.7v.7h-.7zM460.1 534.3h.7v.7h-.7zM458.3 522.2h.7v.7h-.7zM461.6 532.4h.7v.7h-.7zM462.0 534.2h.7v.7h-.7zM469.6 538.5h.7v.7h-.7zM461.7 534.2h.7v.7h-.7zM442.5 526.3h.7v.7h-.7zM448.8 532.0h.7v.7h-.7zM450.2 532.1h.7v.7h-.7zM442.4 537.5h.7v.7h-.7zM454.5 533.5h.7v.7h-.7zM457.6 535.2h.7v.7h-.7zM456.4 536.3h.7v.7h-.7zM447.6 536.0h.7v.7h-.7zM444.5 533.6h.7v.7h-.7zM454.1 534.1h.7v.7h-.7zM464.8 531.7h.7v.7h-.7zM443.2 532.0h.7v.7h-.7zM454.7 538.4h.7v.7h-.7zM452.1 531.2h.7v.7h-.7zM456.1 533.4h.7v.7h-.7zM448.8 533.6h.7v.7h-.7zM450.9 534.0h.7v.7h-.7zM461.2 534.4h.7v.7h-.7zM441.3 533.7h.7v.7h-.7zM457.2 525.2h.7v.7h-.7zM454.9 526.3h.7v.7h-.7zM444.0 531.5h.7v.7h-.7zM454.6 527.5h.7v.7h-.7zM466.5 533.6h.7v.7h-.7zM455.8 531.9h.7v.7h-.7zM458.3 528.7h.7v.7h-.7zM454.2 532.3h.7v.7h-.7zM465.4 529.7h.7v.7h-.7zM446.5 534.0h.7v.7h-.7zM462.7 532.8h.7v.7h-.7zM441.6 531.0h.7v.7h-.7zM455.2 531.5h.7v.7h-.7zM445.5 529.2h.7v.7h-.7zM476.4 536.5h.7v.7h-.7zM467.0 530.1h.7v.7h-.7zM458.0 529.7h.7v.7h-.7zM440.2 534.0h.7v.7h-.7zM445.3 540.0h.7v.7h-.7zM467.2 532.4h.7v.7h-.7zM456.2 538.5h.7v.7h-.7zM458.1 528.8h.7v.7h-.7zM441.6 529.4h.7v.7h-.7zM487.6 532.2h.7v.7h-.7zM454.6 531.0h.7v.7h-.7zM440.2 533.9h.7v.7h-.7zM457.7 536.1h.7v.7h-.7zM439.9 532.2h.7v.7h-.7zM466.9 528.5h.7v.7h-.7zM453.2 527.7h.7v.7h-.7zM465.7 532.8h.7v.7h-.7zM459.1 526.8h.7v.7h-.7zM460.9 537.6h.7v.7h-.7zM445.4 536.8h.7v.7h-.7zM462.8 535.4h.7v.7h-.7zM446.6 534.6h.7v.7h-.7zM472.7 527.9h.7v.7h-.7zM478.0 535.7h.7v.7h-.7zM478.2 536.3h.7v.7h-.7zM476.1 540.7h.7v.7h-.7zM476.5 533.8h.7v.7h-.7zM476.2 541.1h.7v.7h-.7zM477.3 542.5h.7v.7h-.7zM480.1 545.7h.7v.7h-.7zM478.9 536.0h.7v.7h-.7zM474.4 534.7h.7v.7h-.7zM475.9 523.3h.7v.7h-.7zM477.8 543.3h.7v.7h-.7zM474.5 534.7h.7v.7h-.7zM477.5 538.4h.7v.7h-.7zM473.3 536.9h.7v.7h-.7zM479.3 538.2h.7v.7h-.7zM476.6 541.2h.7v.7h-.7zM476.1 543.8h.7v.7h-.7zM473.7 539.3h.7v.7h-.7zM480.0 540.0h.7v.7h-.7zM476.5 541.6h.7v.7h-.7zM476.6 536.6h.7v.7h-.7zM479.2 537.4h.7v.7h-.7zM481.2 537.6h.7v.7h-.7zM479.3 540.7h.7v.7h-.7zM477.1 550.4h.7v.7h-.7zM476.3 542.8h.7v.7h-.7zM473.1 531.1h.7v.7h-.7zM475.2 535.4h.7v.7h-.7zM475.3 531.0h.7v.7h-.7zM474.7 534.8h.7v.7h-.7zM474.2 528.8h.7v.7h-.7zM478.1 530.4h.7v.7h-.7zM478.4 537.3h.7v.7h-.7zM478.0 539.2h.7v.7h-.7zM476.4 536.5h.7v.7h-.7zM475.5 532.9h.7v.7h-.7zM476.8 539.6h.7v.7h-.7zM476.3 535.8h.7v.7h-.7zM474.1 533.3h.7v.7h-.7zM478.4 535.6h.7v.7h-.7zM475.2 535.6h.7v.7h-.7zM477.2 535.9h.7v.7h-.7zM477.2 542.8h.7v.7h-.7zM478.7 539.6h.7v.7h-.7zM480.6 539.4h.7v.7h-.7zM475.1 536.5h.7v.7h-.7zM478.1 540.1h.7v.7h-.7zM477.2 531.8h.7v.7h-.7zM479.0 540.3h.7v.7h-.7zM477.7 538.4h.7v.7h-.7zM479.9 535.6h.7v.7h-.7zM478.0 540.1h.7v.7h-.7zM480.2 534.8h.7v.7h-.7zM477.8 535.3h.7v.7h-.7zM476.4 538.5h.7v.7h-.7zM474.7 538.2h.7v.7h-.7zM474.2 543.5h.7v.7h-.7z" fill="#000" fill-opacity="0.3"/>
<path d="M454.0 532.3h.7v.7h-.7zM455.5 529.9h.7v.7h-.7zM459.4 528.0h.7v.7h-.7zM463.4 532.4h.7v.7h-.7zM459.6 532.6h.7v.7h-.7zM458.5 529.6h.7v.7h-.7zM463.6 531.2h.7v.7h-.7zM474.2 533.0h.7v.7h-.7zM462.3 531.5h.7v.7h-.7zM464.8 531.1h.7v.7h-.7zM457.4 532.2h.7v.7h-.7zM462.1 532.3h.7v.7h-.7zM457.9 534.5h.7v.7h-.7zM458.4 532.0h.7v.7h-.7zM460.8 530.4h.7v.7h-.7zM460.8 529.5h.7v.7h-.7zM459.4 532.9h.7v.7h-.7zM461.6 529.2h.7v.7h-.7zM458.1 527.3h.7v.7h-.7zM465.3 531.7h.7v.7h-.7zM461.9 533.8h.7v.7h-.7zM455.5 532.5h.7v.7h-.7zM456.0 531.3h.7v.7h-.7zM465.6 532.6h.7v.7h-.7zM461.5 530.3h.7v.7h-.7zM460.1 528.0h.7v.7h-.7zM457.3 532.8h.7v.7h-.7zM465.8 532.8h.7v.7h-.7zM463.2 530.7h.7v.7h-.7zM463.4 531.0h.7v.7h-.7zM468.6 531.1h.7v.7h-.7zM461.3 530.0h.7v.7h-.7zM466.8 530.5h.7v.7h-.7zM465.8 532.1h.7v.7h-.7zM463.4 530.5h.7v.7h-.7zM465.8 529.3h.7v.7h-.7zM463.4 531.8h.7v.7h-.7zM452.3 530.4h.7v.7h-.7zM460.0 533.9h.7v.7h-.7zM461.2 529.3h.7v.7h-.7zM458.1 529.7h.7v.7h-.7zM451.5 533.6h.7v.7h-.7zM464.8 531.4h.7v.7h-.7zM466.2 529.9h.7v.7h-.7zM458.6 532.3h.7v.7h-.7zM455.9 534.0h.7v.7h-.7zM464.6 531.6h.7v.7h-.7zM459.9 535.5h.7v.7h-.7zM466.9 528.9h.7v.7h-.7zM462.4 531.5h.7v.7h-.7zM461.2 530.3h.7v.7h-.7zM462.4 529.4h.7v.7h-.7zM469.1 529.7h.7v.7h-.7zM465.1 530.6h.7v.7h-.7zM460.1 531.7h.7v.7h-.7zM457.9 533.5h.7v.7h-.7zM460.1 529.5h.7v.7h-.7zM462.5 528.0h.7v.7h-.7zM460.5 532.0h.7v.7h-.7zM467.7 535.5h.7v.7h-.7zM458.3 531.3h.7v.7h-.7zM466.4 533.6h.7v.7h-.7zM466.0 531.5h.7v.7h-.7zM461.4 529.2h.7v.7h-.7zM455.7 533.2h.7v.7h-.7zM459.9 528.9h.7v.7h-.7zM456.0 534.5h.7v.7h-.7zM459.9 534.4h.7v.7h-.7zM465.9 530.9h.7v.7h-.7zM458.5 530.4h.7v.7h-.7zM464.9 532.8h.7v.7h-.7zM464.0 529.5h.7v.7h-.7zM456.7 533.6h.7v.7h-.7zM459.7 529.4h.7v.7h-.7zM467.9 527.2h.7v.7h-.7zM462.9 532.1h.7v.7h-.7zM459.3 531.5h.7v.7h-.7zM464.6 530.5h.7v.7h-.7zM462.6 533.9h.7v.7h-.7zM455.3 529.2h.7v.7h-.7zM464.4 528.1h.7v.7h-.7zM458.8 530.6h.7v.7h-.7zM455.8 530.0h.7v.7h-.7zM466.0 531.2h.7v.7h-.7zM466.3 531.6h.7v.7h-.7zM464.2 528.5h.7v.7h-.7zM463.7 530.3h.7v.7h-.7zM459.2 532.4h.7v.7h-.7zM457.9 533.4h.7v.7h-.7zM456.8 528.9h.7v.7h-.7zM461.3 535.4h.7v.7h-.7zM461.6 531.0h.7v.7h-.7zM458.0 534.3h.7v.7h-.7zM454.9 529.4h.7v.7h-.7zM451.4 531.5h.7v.7h-.7zM464.6 532.6h.7v.7h-.7zM455.9 530.8h.7v.7h-.7zM462.4 529.3h.7v.7h-.7zM450.2 529.3h.7v.7h-.7zM458.0 532.2h.7v.7h-.7zM447.5 540.1h.7v.7h-.7zM460.3 526.4h.7v.7h-.7zM449.8 530.1h.7v.7h-.7zM461.2 533.8h.7v.7h-.7zM463.1 531.1h.7v.7h-.7zM447.4 538.8h.7v.7h-.7zM448.6 531.4h.7v.7h-.7zM462.9 541.5h.7v.7h-.7zM450.4 531.3h.7v.7h-.7zM458.6 529.9h.7v.7h-.7zM456.0 528.5h.7v.7h-.7zM469.2 533.3h.7v.7h-.7zM459.2 531.2h.7v.7h-.7zM450.0 535.7h.7v.7h-.7zM453.3 532.0h.7v.7h-.7zM449.6 533.9h.7v.7h-.7zM471.2 532.8h.7v.7h-.7zM452.3 528.7h.7v.7h-.7zM445.4 535.1h.7v.7h-.7zM462.4 533.5h.7v.7h-.7zM454.9 531.3h.7v.7h-.7zM441.3 525.2h.7v.7h-.7zM459.5 538.0h.7v.7h-.7zM448.4 532.0h.7v.7h-.7zM446.3 535.3h.7v.7h-.7zM454.6 535.3h.7v.7h-.7zM450.9 536.5h.7v.7h-.7zM461.9 532.5h.7v.7h-.7zM449.0 533.3h.7v.7h-.7zM456.2 535.9h.7v.7h-.7zM454.4 532.6h.7v.7h-.7zM453.0 533.3h.7v.7h-.7zM449.5 532.5h.7v.7h-.7zM464.7 530.5h.7v.7h-.7zM450.7 531.2h.7v.7h-.7zM457.5 530.6h.7v.7h-.7zM450.0 534.6h.7v.7h-.7zM446.1 532.6h.7v.7h-.7zM444.2 531.2h.7v.7h-.7zM452.8 528.2h.7v.7h-.7zM454.3 530.2h.7v.7h-.7zM456.8 536.7h.7v.7h-.7zM451.7 532.8h.7v.7h-.7zM451.4 536.0h.7v.7h-.7zM474.0 531.2h.7v.7h-.7zM448.9 530.3h.7v.7h-.7zM443.6 529.3h.7v.7h-.7zM453.4 533.5h.7v.7h-.7zM460.3 530.9h.7v.7h-.7zM444.7 535.8h.7v.7h-.7zM463.1 529.1h.7v.7h-.7zM478.7 527.1h.7v.7h-.7zM460.0 533.5h.7v.7h-.7zM441.4 530.2h.7v.7h-.7zM474.9 536.9h.7v.7h-.7zM466.8 534.1h.7v.7h-.7zM466.8 530.7h.7v.7h-.7zM444.9 535.9h.7v.7h-.7zM452.8 530.4h.7v.7h-.7zM449.6 534.7h.7v.7h-.7zM460.4 525.2h.7v.7h-.7zM451.6 530.7h.7v.7h-.7zM441.8 536.9h.7v.7h-.7zM453.7 534.4h.7v.7h-.7zM470.4 529.5h.7v.7h-.7zM453.1 538.1h.7v.7h-.7zM459.7 528.4h.7v.7h-.7zM456.7 532.6h.7v.7h-.7zM446.5 538.4h.7v.7h-.7zM450.9 531.5h.7v.7h-.7zM442.7 530.5h.7v.7h-.7zM459.9 531.4h.7v.7h-.7zM471.0 531.9h.7v.7h-.7zM454.5 529.4h.7v.7h-.7zM451.3 530.4h.7v.7h-.7zM456.1 530.9h.7v.7h-.7zM445.8 537.7h.7v.7h-.7zM450.2 534.2h.7v.7h-.7zM464.2 531.9h.7v.7h-.7zM455.4 530.3h.7v.7h-.7zM461.6 527.4h.7v.7h-.7zM466.1 536.4h.7v.7h-.7zM444.2 531.6h.7v.7h-.7zM451.0 534.6h.7v.7h-.7zM452.4 531.5h.7v.7h-.7zM451.9 531.9h.7v.7h-.7zM447.1 533.9h.7v.7h-.7zM448.4 531.4h.7v.7h-.7zM459.8 535.0h.7v.7h-.7zM451.8 529.9h.7v.7h-.7zM468.6 526.1h.7v.7h-.7zM468.6 532.0h.7v.7h-.7zM453.3 531.5h.7v.7h-.7zM448.7 533.8h.7v.7h-.7zM451.2 528.5h.7v.7h-.7zM454.3 530.4h.7v.7h-.7zM441.8 535.5h.7v.7h-.7zM452.7 526.6h.7v.7h-.7zM462.5 530.7h.7v.7h-.7zM463.3 531.2h.7v.7h-.7zM471.6 535.5h.7v.7h-.7zM440.9 533.5h.7v.7h-.7zM464.7 530.1h.7v.7h-.7zM478.5 546.8h.7v.7h-.7zM476.7 538.4h.7v.7h-.7zM476.8 539.4h.7v.7h-.7zM479.2 536.3h.7v.7h-.7zM482.0 537.0h.7v.7h-.7zM475.9 542.5h.7v.7h-.7zM479.3 534.5h.7v.7h-.7zM476.5 537.1h.7v.7h-.7zM476.3 546.4h.7v.7h-.7zM473.9 544.6h.7v.7h-.7zM479.7 539.3h.7v.7h-.7zM473.7 532.3h.7v.7h-.7zM476.0 548.1h.7v.7h-.7zM475.6 542.4h.7v.7h-.7zM477.4 534.3h.7v.7h-.7zM475.7 543.9h.7v.7h-.7zM476.4 534.5h.7v.7h-.7zM478.2 545.4h.7v.7h-.7zM480.3 531.7h.7v.7h-.7zM476.7 532.5h.7v.7h-.7zM477.1 545.0h.7v.7h-.7zM475.1 534.7h.7v.7h-.7zM477.5 531.5h.7v.7h-.7zM478.7 531.2h.7v.7h-.7zM477.9 533.2h.7v.7h-.7zM478.1 540.9h.7v.7h-.7zM474.0 536.2h.7v.7h-.7zM476.7 543.8h.7v.7h-.7zM476.8 550.6h.7v.7h-.7zM477.0 535.6h.7v.7h-.7zM476.2 541.8h.7v.7h-.7zM477.6 532.5h.7v.7h-.7zM478.6 539.3h.7v.7h-.7zM478.7 533.8h.7v.7h-.7zM479.4 538.4h.7v.7h-.7zM477.5 542.8h.7v.7h-.7zM475.9 532.4h.7v.7h-.7zM476.2 544.7h.7v.7h-.7zM475.5 535.0h.7v.7h-.7zM478.0 537.1h.7v.7h-.7zM476.9 544.6h.7v.7h-.7zM476.6 539.8h.7v.7h-.7zM476.4 536.0h.7v.7h-.7zM476.1 537.7h.7v.7h-.7zM477.8 533.3h.7v.7h-.7zM478.4 534.7h.7v.7h-.7zM477.5 542.8h.7v.7h-.7zM473.3 528.7h.7v.7h-.7zM476.8 536.1h.7v.7h-.7zM475.6 535.3h.7v.7h-.7zM479.7 536.5h.7v.7h-.7zM481.0 536.9h.7v.7h-.7zM477.9 542.0h.7v.7h-.7zM475.6 542.3h.7v.7h-.7zM475.8 532.3h.7v.7h-.7zM474.6 537.6h.7v.7h-.7zM477.5 534.1h.7v.7h-.7z" fill="#000" fill-opacity="0.3"/>
<rect x="439.2" y="496.3" width="55.1" height="57.9" fill="none" stroke="#8c8c8c" stroke-width="0.6"/>
<line x1="473.3" y1="496.3" x2="473.3" y2="554.2" stroke="#555" stroke-width="0.75"/>
<line x1="439.2" y1="530.4" x2="494.3" y2="530.4" stroke="#555" stroke-width="0.75"/>
<line x1="439.2" y1="496.3" x2="439.2" y2="554.2" stroke="#444" stroke-width="0.7"/>
<line x1="439.2" y1="554.2" x2="494.3" y2="554.2" stroke="#444" stroke-width="0.7"/>
<text x="440.4" y="502.34" font-size="6" fill="#1c1c1c" stroke="#1c1c1c" stroke-width="0.3">25.6</text>
<text x="493.3" y="502.34" font-size="6" text-anchor="end" fill="#1c1c1c" stroke="#1c1c1c" stroke-width="0.3">1.47</text>
<text x="440.4" y="553.64" font-size="6" fill="#1c1c1c" stroke="#1c1c1c" stroke-width="0.3">44.1</text>
<text x="493.3" y="553.64" font-size="6" text-anchor="end" fill="#1c1c1c" stroke="#1c1c1c" stroke-width="0.3">28.8</text>
<text x="438.7" y="554.2" font-size="4.5" text-anchor="end" fill="#333" stroke="#333" stroke-width="0.15">10<tspan font-size="3.3" dy="-1.6">1</tspan></text>
<line x1="438.4" y1="553" x2="439.2" y2="553" stroke="#444" stroke-width="0.4"/>
<text x="438.7" y="543.92" font-size="4.5" text-anchor="end" fill="#333" stroke="#333" stroke-width="0.15">10<tspan font-size="3.3" dy="-1.6">2</tspan></text>
<line x1="438.4" y1="542.72" x2="439.2" y2="542.72" stroke="#444" stroke-width="0.4"/>
<text x="438.7" y="533.64" font-size="4.5" text-anchor="end" fill="#333" stroke="#333" stroke-width="0.15">10<tspan font-size="3.3" dy="-1.6">3</tspan></text>
<line x1="438.4" y1="532.44" x2="439.2" y2="532.44" stroke="#444" stroke-width="0.4"/>
<text x="438.7" y="523.36" font-size="4.5" text-anchor="end" fill="#333" stroke="#333" stroke-width="0.15">10<tspan font-size="3.3" dy="-1.6">4</tspan></text>
<line x1="438.4" y1="522.16" x2="439.2" y2="522.16" stroke="#444" stroke-width="0.4"/>
<text x="438.7" y="513.08" font-size="4.5" text-anchor="end" fill="#333" stroke="#333" stroke-width="0.15">10<tspan font-size="3.3" dy="-1.6">5</tspan></text>
<line x1="438.4" y1="511.88" x2="439.2" y2="511.88" stroke="#444" stroke-width="0.4"/>
<text x="438.7" y="502.8" font-size="4.5" text-anchor="end" fill="#333" stroke="#333" stroke-width="0.15">10<tspan font-size="3.3" dy="-1.6">6</tspan></text>
<line x1="438.4" y1="501.6" x2="439.2" y2="501.6" stroke="#444" stroke-width="0.4"/>
<text x="448.57" y="558.2" font-size="4.5" text-anchor="middle" fill="#333" stroke="#333" stroke-width="0.15">10<tspan font-size="3.3" dy="-1.6">2</tspan></text>
<line x1="448.57" y1="554.2" x2="448.57" y2="555" stroke="#444" stroke-width="0.4"/>
<text x="462.62" y="558.2" font-size="4.5" text-anchor="middle" fill="#333" stroke="#333" stroke-width="0.15">10<tspan font-size="3.3" dy="-1.6">3</tspan></text>
<line x1="462.62" y1="554.2" x2="462.62" y2="555" stroke="#444" stroke-width="0.4"/>
<text x="476.67" y="558.2" font-size="4.5" text-anchor="middle" fill="#333" stroke="#333" stroke-width="0.15">10<tspan font-size="3.3" dy="-1.6">4</tspan></text>
<line x1="476.67" y1="554.2" x2="476.67" y2="555" stroke="#444" stroke-width="0.4"/>
<text x="490.72" y="558.2" font-size="4.5" text-anchor="middle" fill="#333" stroke="#333" stroke-width="0.15">10<tspan font-size="3.3" dy="-1.6">5</tspan></text>
<line x1="490.72" y1="554.2" x2="490.72" y2="555" stroke="#444" stroke-width="0.4"/>
<rect x="363.3" y="564.8" width="56.1" height="58.2" fill="#fff"/>
<ellipse cx="386.5" cy="599" rx="8" ry="3.3" fill="url(#rg)" opacity="0.9" transform="rotate(-6 386.5 599)"/>
<ellipse cx="403" cy="593" rx="2.8" ry="6" fill="url(#rg)" opacity="0.55" transform="rotate(0 403 593)"/>
<ellipse cx="378" cy="600" rx="6" ry="3" fill="url(#rg)" opacity="0.35" transform="rotate(0 378 600)"/>
<path d="M388.4 598.3h.7v.7h-.7zM385.3 595.5h.7v.7h-.7zM383.8 599.9h.7v.7h-.7zM388.2 597.5h.7v.7h-.7zM387.0 599.3h.7v.7h-.7zM378.8 598.0h.7v.7h-.7zM386.9 594.7h.7v.7h-.7zM385.9 603.2h.7v.7h-.7zM392.5 598.7h.7v.7h-.7zM381.7 602.3h.7v.7h-.7zM390.8 596.4h.7v.7h-.7zM389.7 598.0h.7v.7h-.7zM386.6 598.6h.7v.7h-.7zM391.2 600.1h.7v.7h-.7zM394.4 597.9h.7v.7h-.7zM390.0 598.5h.7v.7h-.7zM386.3 598.0h.7v.7h-.7zM383.6 599.1h.7v.7h-.7zM383.9 597.7h.7v.7h-.7zM383.9 598.9h.7v.7h-.7zM379.2 600.0h.7v.7h-.7zM384.0 598.4h.7v.7h-.7zM383.0 598.7h.7v.7h-.7zM378.8 600.8h.7v.7h-.7zM379.0 596.6h.7v.7h-.7zM387.9 602.1h.7v.7h-.7zM383.6 598.8h.7v.7h-.7zM392.5 599.5h.7v.7h-.7zM384.3 601.8h.7v.7h-.7zM390.4 599.9h.7v.7h-.7zM389.7 593.7h.7v.7h-.7zM392.6 602.5h.7v.7h-.7zM389.3 594.9h.7v.7h-.7zM380.9 597.3h.7v.7h-.7zM385.8 597.4h.7v.7h-.7zM384.3 597.0h.7v.7h-.7zM378.7 601.4h.7v.7h-.7zM390.5 601.0h.7v.7h-.7zM388.4 596.8h.7v.7h-.7zM377.7 601.2h.7v.7h-.7zM384.6 598.7h.7v.7h-.7zM375.5 600.2h.7v.7h-.7zM382.8 598.8h.7v.7h-.7zM386.9 596.9h.7v.7h-.7zM389.5 594.7h.7v.7h-.7zM383.6 598.3h.7v.7h-.7zM384.0 602.2h.7v.7h-.7zM391.4 602.1h.7v.7h-.7zM383.2 599.2h.7v.7h-.7zM383.6 595.6h.7v.7h-.7zM388.4 598.9h.7v.7h-.7zM384.1 597.6h.7v.7h-.7zM384.5 599.0h.7v.7h-.7zM382.7 596.7h.7v.7h-.7zM381.2 600.7h.7v.7h-.7zM388.7 597.9h.7v.7h-.7zM385.6 601.4h.7v.7h-.7zM386.0 596.3h.7v.7h-.7zM386.7 597.9h.7v.7h-.7zM391.4 595.7h.7v.7h-.7zM392.0 599.2h.7v.7h-.7zM381.9 600.5h.7v.7h-.7zM391.3 599.1h.7v.7h-.7zM393.6 599.7h.7v.7h-.7zM387.3 599.1h.7v.7h-.7zM389.1 602.9h.7v.7h-.7zM380.3 600.0h.7v.7h-.7zM375.2 602.7h.7v.7h-.7zM382.0 601.7h.7v.7h-.7zM392.9 602.0h.7v.7h-.7zM394.5 597.7h.7v.7h-.7zM386.7 599.7h.7v.7h-.7zM385.0 597.8h.7v.7h-.7zM379.9 599.1h.7v.7h-.7zM380.0 599.1h.7v.7h-.7zM375.4 599.9h.7v.7h-.7zM384.1 604.0h.7v.7h-.7zM394.2 599.6h.7v.7h-.7zM391.8 598.4h.7v.7h-.7zM386.2 598.4h.7v.7h-.7zM387.3 601.0h.7v.7h-.7zM386.4 597.8h.7v.7h-.7zM378.6 598.5h.7v.7h-.7zM384.9 596.6h.7v.7h-.7zM384.9 600.2h.7v.7h-.7zM389.5 599.1h.7v.7h-.7zM383.8 597.2h.7v.7h-.7zM393.1 600.4h.7v.7h-.7zM390.3 599.1h.7v.7h-.7zM390.3 593.5h.7v.7h-.7zM386.4 599.3h.7v.7h-.7zM380.4 597.9h.7v.7h-.7zM384.5 599.7h.7v.7h-.7zM384.8 600.2h.7v.7h-.7zM384.1 598.1h.7v.7h-.7zM379.4 599.1h.7v.7h-.7zM382.8 600.6h.7v.7h-.7zM390.3 596.7h.7v.7h-.7zM384.7 598.0h.7v.7h-.7zM389.1 601.9h.7v.7h-.7zM385.4 598.3h.7v.7h-.7zM380.8 598.3h.7v.7h-.7zM387.3 598.9h.7v.7h-.7zM376.9 598.8h.7v.7h-.7zM379.1 602.2h.7v.7h-.7zM384.2 597.2h.7v.7h-.7zM389.8 598.0h.7v.7h-.7zM384.7 595.0h.7v.7h-.7zM372.4 604.7h.7v.7h-.7zM385.5 603.5h.7v.7h-.7zM375.7 601.3h.7v.7h-.7zM368.8 597.3h.7v.7h-.7zM369.5 596.3h.7v.7h-.7zM377.1 602.0h.7v.7h-.7zM370.4 599.1h.7v.7h-.7zM389.6 600.8h.7v.7h-.7zM384.7 603.7h.7v.7h-.7zM382.2 602.8h.7v.7h-.7zM369.5 596.6h.7v.7h-.7zM390.1 597.8h.7v.7h-.7zM391.4 596.7h.7v.7h-.7zM385.3 600.5h.7v.7h-.7zM364.8 599.4h.7v.7h-.7zM371.4 599.9h.7v.7h-.7zM378.5 602.6h.7v.7h-.7zM365.0 609.3h.7v.7h-.7zM384.5 598.2h.7v.7h-.7zM397.1 595.3h.7v.7h-.7zM366.9 600.4h.7v.7h-.7zM387.6 599.8h.7v.7h-.7zM379.8 600.8h.7v.7h-.7zM374.1 602.2h.7v.7h-.7zM403.3 597.1h.7v.7h-.7zM370.2 602.9h.7v.7h-.7zM390.6 597.8h.7v.7h-.7zM376.6 598.8h.7v.7h-.7zM384.4 594.7h.7v.7h-.7zM387.2 603.8h.7v.7h-.7zM369.5 599.9h.7v.7h-.7zM379.3 599.3h.7v.7h-.7zM383.1 596.5h.7v.7h-.7zM400.7 598.8h.7v.7h-.7zM380.5 595.4h.7v.7h-.7zM366.0 597.9h.7v.7h-.7zM366.2 598.5h.7v.7h-.7zM381.3 603.5h.7v.7h-.7zM371.1 604.3h.7v.7h-.7zM371.2 606.1h.7v.7h-.7zM378.8 601.9h.7v.7h-.7zM377.4 601.7h.7v.7h-.7zM376.9 599.9h.7v.7h-.7zM368.5 600.8h.7v.7h-.7zM379.0 603.8h.7v.7h-.7zM381.7 595.8h.7v.7h-.7zM378.5 600.4h.7v.7h-.7zM391.1 601.6h.7v.7h-.7zM371.2 606.5h.7v.7h-.7zM378.3 603.6h.7v.7h-.7zM370.4 596.7h.7v.7h-.7zM382.5 602.6h.7v.7h-.7zM375.1 599.3h.7v.7h-.7zM377.4 606.1h.7v.7h-.7zM373.8 604.9h.7v.7h-.7zM401.6 600.2h.7v.7h-.7zM378.7 604.5h.7v.7h-.7zM382.6 597.6h.7v.7h-.7zM387.7 603.5h.7v.7h-.7zM373.6 593.5h.7v.7h-.7zM378.7 609.1h.7v.7h-.7zM367.7 596.4h.7v.7h-.7zM384.0 607.8h.7v.7h-.7zM374.7 596.5h.7v.7h-.7zM367.1 601.4h.7v.7h-.7zM391.6 596.8h.7v.7h-.7zM389.0 603.0h.7v.7h-.7zM388.2 597.1h.7v.7h-.7zM375.4 597.5h.7v.7h-.7zM374.8 601.6h.7v.7h-.7zM389.1 599.9h.7v.7h-.7zM391.3 598.0h.7v.7h-.7zM390.9 601.9h.7v.7h-.7zM388.7 598.7h.7v.7h-.7zM386.5 607.0h.7v.7h-.7zM381.2 603.4h.7v.7h-.7zM377.9 593.1h.7v.7h-.7zM397.6 598.8h.7v.7h-.7zM387.9 594.5h.7v.7h-.7zM377.1 602.5h.7v.7h-.7zM397.3 600.7h.7v.7h-.7zM368.5 597.9h.7v.7h-.7zM378.9 604.7h.7v.7h-.7zM374.1 600.8h.7v.7h-.7zM378.4 597.8h.7v.7h-.7zM382.8 600.0h.7v.7h-.7zM385.1 601.3h.7v.7h-.7zM389.2 600.2h.7v.7h-.7zM402.8 601.3h.7v.7h-.7zM404.8 590.4h.7v.7h-.7zM405.4 586.4h.7v.7h-.7zM402.0 607.4h.7v.7h-.7zM407.4 595.1h.7v.7h-.7zM404.3 585.0h.7v.7h-.7zM403.1 588.1h.7v.7h-.7zM406.5 596.1h.7v.7h-.7zM404.9 587.7h.7v.7h-.7zM402.6 596.8h.7v.7h-.7zM403.9 594.8h.7v.7h-.7zM401.9 596.9h.7v.7h-.7zM401.2 597.3h.7v.7h-.7zM406.6 593.8h.7v.7h-.7zM401.3 591.1h.7v.7h-.7zM400.4 597.2h.7v.7h-.7zM409.2 595.4h.7v.7h-.7zM405.4 595.6h.7v.7h-.7zM401.5 592.6h.7v.7h-.7zM400.9 599.5h.7v.7h-.7zM400.1 597.9h.7v.7h-.7zM400.9 581.0h.7v.7h-.7zM405.8 588.4h.7v.7h-.7zM401.6 597.7h.7v.7h-.7zM405.7 593.0h.7v.7h-.7zM395.9 598.8h.7v.7h-.7zM402.4 609.0h.7v.7h-.7zM400.5 597.5h.7v.7h-.7zM403.7 601.1h.7v.7h-.7zM401.2 598.3h.7v.7h-.7zM406.6 588.8h.7v.7h-.7zM402.0 594.9h.7v.7h-.7zM401.3 595.4h.7v.7h-.7zM405.8 597.4h.7v.7h-.7zM398.3 580.4h.7v.7h-.7zM402.1 591.0h.7v.7h-.7zM401.5 588.8h.7v.7h-.7zM400.8 594.8h.7v.7h-.7zM406.2 589.1h.7v.7h-.7zM401.7 594.1h.7v.7h-.7zM400.4 596.8h.7v.7h-.7zM403.5 592.4h.7v.7h-.7zM405.5 594.0h.7v.7h-.7zM406.2 584.7h.7v.7h-.7zM404.4 589.4h.7v.7h-.7zM402.8 593.3h.7v.7h-.7zM401.6 586.7h.7v.7h-.7zM402.5 598.0h.7v.7h-.7zM398.4 591.0h.7v.7h-.7zM402.1 602.3h.7v.7h-.7zM402.5 593.6h.7v.7h-.7zM403.4 597.7h.7v.7h-.7zM398.9 587.9h.7v.7h-.7z" fill="#000" fill-opacity="0.3"/>
<path d="M388.7 599.2h.7v.7h-.7zM378.2 596.1h.7v.7h-.7zM379.3 597.4h.7v.7h-.7zM379.3 598.2h.7v.7h-.7zM387.0 599.8h.7v.7h-.7zM377.5 599.0h.7v.7h-.7zM377.7 598.3h.7v.7h-.7zM377.7 601.5h.7v.7h-.7zM385.0 598.1h.7v.7h-.7zM392.4 598.7h.7v.7h-.7zM382.1 603.4h.7v.7h-.7zM384.4 599.1h.7v.7h-.7zM380.4 599.7h.7v.7h-.7zM380.9 601.0h.7v.7h-.7zM384.7 601.0h.7v.7h-.7zM385.5 601.7h.7v.7h-.7zM386.6 594.3h.7v.7h-.7zM385.4 601.6h.7v.7h-.7zM378.2 596.8h.7v.7h-.7zM396.4 597.3h.7v.7h-.7zM391.4 599.2h.7v.7h-.7zM384.6 598.5h.7v.7h-.7zM389.7 599.0h.7v.7h-.7zM391.9 602.7h.7v.7h-.7zM387.6 597.8h.7v.7h-.7zM382.6 598.6h.7v.7h-.7zM383.4 598.7h.7v.7h-.7zM387.7 600.8h.7v.7h-.7zM396.2 598.2h.7v.7h-.7zM389.9 597.3h.7v.7h-.7zM391.1 595.9h.7v.7h-.7zM382.1 599.1h.7v.7h-.7zM390.4 598.5h.7v.7h-.7zM381.5 598.5h.7v.7h-.7zM394.6 598.1h.7v.7h-.7zM388.4 593.5h.7v.7h-.7zM384.6 600.4h.7v.7h-.7zM380.2 600.1h.7v.7h-.7zM395.5 598.3h.7v.7h-.7zM389.6 599.9h.7v.7h-.7zM383.5 602.4h.7v.7h-.7zM378.4 598.4h.7v.7h-.7zM389.6 601.9h.7v.7h-.7zM391.9 597.1h.7v.7h-.7zM388.8 600.6h.7v.7h-.7zM384.3 597.6h.7v.7h-.7zM389.6 601.2h.7v.7h-.7zM389.1 600.3h.7v.7h-.7zM399.6 597.9h.7v.7h-.7zM387.2 600.8h.7v.7h-.7zM382.1 597.9h.7v.7h-.7zM385.6 598.5h.7v.7h-.7zM398.6 593.0h.7v.7h-.7zM383.0 598.7h.7v.7h-.7zM381.4 598.0h.7v.7h-.7zM388.5 600.3h.7v.7h-.7zM385.7 601.1h.7v.7h-.7zM393.7 602.4h.7v.7h-.7zM371.4 598.2h.7v.7h-.7zM389.4 597.9h.7v.7h-.7zM378.9 601.7h.7v.7h-.7zM389.2 601.4h.7v.7h-.7zM388.0 597.7h.7v.7h-.7zM381.6 597.7h.7v.7h-.7zM382.6 598.3h.7v.7h-.7zM374.1 600.4h.7v.7h-.7zM390.3 599.4h.7v.7h-.7zM383.8 599.2h.7v.7h-.7zM385.1 600.8h.7v.7h-.7zM383.0 598.4h.7v.7h-.7zM393.2 598.7h.7v.7h-.7zM387.4 598.0h.7v.7h-.7zM384.9 598.2h.7v.7h-.7zM393.0 596.9h.7v.7h-.7zM382.3 599.2h.7v.7h-.7zM383.1 598.6h.7v.7h-.7zM386.0 598.6h.7v.7h-.7zM395.6 601.0h.7v.7h-.7zM386.1 601.4h.7v.7h-.7zM388.7 595.0h.7v.7h-.7zM374.8 603.9h.7v.7h-.7zM374.2 598.0h.7v.7h-.7zM382.0 598.6h.7v.7h-.7zM390.1 596.9h.7v.7h-.7zM388.5 599.8h.7v.7h-.7zM385.8 601.3h.7v.7h-.7zM384.6 598.3h.7v.7h-.7zM387.8 596.8h.7v.7h-.7zM395.6 600.7h.7v.7h-.7zM389.0 598.3h.7v.7h-.7zM394.1 602.0h.7v.7h-.7zM386.3 602.5h.7v.7h-.7zM382.3 598.9h.7v.7h-.7zM391.9 598.4h.7v.7h-.7zM389.1 599.6h.7v.7h-.7zM379.7 597.6h.7v.7h-.7zM390.5 596.9h.7v.7h-.7zM382.3 602.4h.7v.7h-.7zM387.5 600.7h.7v.7h-.7zM389.0 599.0h.7v.7h-.7zM383.3 599.5h.7v.7h-.7zM378.6 599.9h.7v.7h-.7zM390.7 599.9h.7v.7h-.7zM384.3 595.7h.7v.7h-.7zM394.5 598.6h.7v.7h-.7zM386.5 596.5h.7v.7h-.7zM388.1 598.8h.7v.7h-.7zM377.8 602.9h.7v.7h-.7zM377.0 597.5h.7v.7h-.7zM383.0 599.6h.7v.7h-.7zM380.1 600.3h.7v.7h-.7zM371.0 593.4h.7v.7h-.7zM388.9 598.9h.7v.7h-.7zM386.4 600.4h.7v.7h-.7zM381.9 605.2h.7v.7h-.7zM406.0 605.4h.7v.7h-.7zM382.7 601.1h.7v.7h-.7zM379.0 593.8h.7v.7h-.7zM378.3 599.1h.7v.7h-.7zM364.7 601.3h.7v.7h-.7zM383.1 594.8h.7v.7h-.7zM378.2 602.2h.7v.7h-.7zM369.2 597.2h.7v.7h-.7zM373.6 601.8h.7v.7h-.7zM379.7 599.9h.7v.7h-.7zM374.8 600.3h.7v.7h-.7zM377.0 595.1h.7v.7h-.7zM371.2 600.6h.7v.7h-.7zM383.9 595.0h.7v.7h-.7zM387.6 599.6h.7v.7h-.7zM372.6 597.8h.7v.7h-.7zM385.7 599.9h.7v.7h-.7zM366.9 597.2h.7v.7h-.7zM388.5 605.1h.7v.7h-.7zM377.7 595.8h.7v.7h-.7zM381.1 600.6h.7v.7h-.7zM378.0 593.6h.7v.7h-.7zM398.8 603.2h.7v.7h-.7zM384.2 596.6h.7v.7h-.7zM387.8 600.8h.7v.7h-.7zM386.8 597.1h.7v.7h-.7zM375.5 602.4h.7v.7h-.7zM392.9 599.0h.7v.7h-.7zM367.0 601.6h.7v.7h-.7zM371.1 600.4h.7v.7h-.7zM396.0 598.0h.7v.7h-.7zM384.2 600.4h.7v.7h-.7zM388.7 600.8h.7v.7h-.7zM377.7 602.1h.7v.7h-.7zM384.8 598.7h.7v.7h-.7zM373.9 604.0h.7v.7h-.7zM373.7 600.2h.7v.7h-.7zM389.7 606.3h.7v.7h-.7zM378.3 606.4h.7v.7h-.7zM367.6 597.2h.7v.7h-.7zM383.8 601.1h.7v.7h-.7zM382.7 593.4h.7v.7h-.7zM378.7 597.7h.7v.7h-.7zM390.7 598.5h.7v.7h-.7zM376.5 599.2h.7v.7h-.7zM395.8 599.1h.7v.7h-.7zM382.7 599.1h.7v.7h-.7zM388.5 601.5h.7v.7h-.7zM371.5 602.0h.7v.7h-.7zM375.7 600.4h.7v.7h-.7zM376.7 599.2h.7v.7h-.7zM382.6 598.0h.7v.7h-.7zM395.8 593.4h.7v.7h-.7zM381.0 597.2h.7v.7h-.7zM375.0 600.1h.7v.7h-.7zM374.3 599.5h.7v.7h-.7zM371.6 603.8h.7v.7h-.7zM382.8 606.9h.7v.7h-.7zM368.0 600.0h.7v.7h-.7zM376.2 600.5h.7v.7h-.7zM390.3 603.0h.7v.7h-.7zM373.8 595.2h.7v.7h-.7zM370.0 603.9h.7v.7h-.7zM387.6 599.5h.7v.7h-.7zM365.3 597.8h.7v.7h-.7zM385.4 592.8h.7v.7h-.7zM379.4 600.1h.7v.7h-.7zM377.2 601.8h.7v.7h-.7zM396.7 592.5h.7v.7h-.7zM378.1 591.7h.7v.7h-.7zM390.7 604.1h.7v.7h-.7zM370.7 599.0h.7v.7h-.7zM376.7 599.4h.7v.7h-.7zM379.9 605.9h.7v.7h-.7zM401.2 597.8h.7v.7h-.7zM378.7 601.3h.7v.7h-.7zM374.8 592.9h.7v.7h-.7zM376.5 601.9h.7v.7h-.7zM383.8 603.2h.7v.7h-.7zM387.4 600.7h.7v.7h-.7zM400.7 590.0h.7v.7h-.7zM401.7 590.3h.7v.7h-.7zM403.3 585.4h.7v.7h-.7zM399.7 603.8h.7v.7h-.7zM403.0 587.7h.7v.7h-.7zM397.7 580.4h.7v.7h-.7zM403.5 593.8h.7v.7h-.7zM407.1 592.1h.7v.7h-.7zM405.7 595.2h.7v.7h-.7zM406.2 585.0h.7v.7h-.7zM404.1 594.2h.7v.7h-.7zM407.9 596.5h.7v.7h-.7zM401.6 586.1h.7v.7h-.7zM401.3 596.2h.7v.7h-.7zM404.3 583.5h.7v.7h-.7zM403.7 590.5h.7v.7h-.7zM400.0 586.6h.7v.7h-.7zM403.0 596.8h.7v.7h-.7zM404.0 598.3h.7v.7h-.7zM402.7 597.7h.7v.7h-.7zM399.6 583.9h.7v.7h-.7zM402.7 594.0h.7v.7h-.7zM401.0 577.2h.7v.7h-.7zM403.6 591.4h.7v.7h-.7zM401.1 586.8h.7v.7h-.7zM407.4 592.9h.7v.7h-.7zM404.0 602.0h.7v.7h-.7zM405.8 592.6h.7v.7h-.7zM403.3 598.1h.7v.7h-.7zM401.4 605.6h.7v.7h-.7zM404.6 596.9h.7v.7h-.7zM405.3 594.5h.7v.7h-.7zM403.4 601.0h.7v.7h-.7zM405.5 590.4h.7v.7h-.7zM403.8 590.3h.7v.7h-.7zM403.3 597.2h.7v.7h-.7zM408.4 593.3h.7v.7h-.7zM402.4 588.1h.7v.7h-.7zM400.1 605.3h.7v.7h-.7zM403.8 602.2h.7v.7h-.7zM401.2 601.3h.7v.7h-.7zM400.8 591.1h.7v.7h-.7zM402.7 601.4h.7v.7h-.7zM405.3 599.8h.7v.7h-.7zM404.2 596.2h.7v.7h-.7zM405.4 585.4h.7v.7h-.7zM403.1 594.7h.7v.7h-.7zM400.1 591.7h.7v.7h-.7zM405.4 597.7h.7v.7h-.7zM404.1 589.3h.7v.7h-.7zM399.5 599.1h.7v.7h-.7zM407.8 588.2h.7v.7h-.7zM401.6 592.1h.7v.7h-.7zM399.1 588.6h.7v.7h-.7z" fill="#000" fill-opacity="0.3"/>
<path d="M386.8 597.3h.7v.7h-.7zM386.4 599.8h.7v.7h-.7zM386.2 599.4h.7v.7h-.7zM388.2 598.2h.7v.7h-.7zM385.3 600.2h.7v.7h-.7zM382.6 599.8h.7v.7h-.7zM390.1 600.9h.7v.7h-.7zM384.8 600.8h.7v.7h-.7zM384.3 596.1h.7v.7h-.7zM378.3 600.8h.7v.7h-.7zM391.3 598.6h.7v.7h-.7zM389.8 603.2h.7v.7h-.7zM387.1 601.0h.7v.7h-.7zM386.8 598.9h.7v.7h-.7zM385.1 598.3h.7v.7h-.7zM385.8 598.0h.7v.7h-.7zM393.5 595.7h.7v.7h-.7zM391.3 600.9h.7v.7h-.7zM391.4 598.0h.7v.7h-.7zM386.9 604.4h.7v.7h-.7zM391.7 598.9h.7v.7h-.7zM389.1 602.0h.7v.7h-.7zM383.3 601.1h.7v.7h-.7zM380.4 601.4h.7v.7h-.7zM379.8 597.2h.7v.7h-.7zM376.4 597.2h.7v.7h-.7zM390.1 599.0h.7v.7h-.7zM388.0 597.4h.7v.7h-.7zM382.5 596.4h.7v.7h-.7zM377.3 598.0h.7v.7h-.7zM377.8 602.5h.7v.7h-.7zM382.1 600.3h.7v.7h-.7zM387.5 597.3h.7v.7h-.7zM385.2 596.7h.7v.7h-.7zM386.4 600.7h.7v.7h-.7zM391.8 601.2h.7v.7h-.7zM383.2 595.6h.7v.7h-.7zM387.4 598.0h.7v.7h-.7zM388.2 598.3h.7v.7h-.7zM393.6 600.4h.7v.7h-.7zM388.0 596.7h.7v.7h-.7zM384.0 597.9h.7v.7h-.7zM383.8 594.9h.7v.7h-.7zM388.4 598.8h.7v.7h-.7zM392.9 599.6h.7v.7h-.7zM387.7 596.6h.7v.7h-.7zM396.4 596.0h.7v.7h-.7zM396.2 598.1h.7v.7h-.7zM382.3 602.2h.7v.7h-.7zM390.2 599.8h.7v.7h-.7zM371.8 600.9h.7v.7h-.7zM392.9 595.0h.7v.7h-.7zM387.5 598.7h.7v.7h-.7zM388.5 598.4h.7v.7h-.7zM387.2 596.4h.7v.7h-.7zM384.1 600.8h.7v.7h-.7zM383.7 600.8h.7v.7h-.7zM384.2 600.2h.7v.7h-.7zM386.3 598.9h.7v.7h-.7zM388.6 600.5h.7v.7h-.7zM391.0 592.1h.7v.7h-.7zM388.0 599.0h.7v.7h-.7zM380.7 600.0h.7v.7h-.7zM388.0 598.9h.7v.7h-.7zM375.4 598.6h.7v.7h-.7zM386.7 596.6h.7v.7h-.7zM379.3 601.2h.7v.7h-.7zM383.5 601.9h.7v.7h-.7zM379.9 599.3h.7v.7h-.7zM384.8 598.6h.7v.7h-.7zM386.8 601.4h.7v.7h-.7zM393.2 600.4h.7v.7h-.7zM389.7 599.1h.7v.7h-.7zM376.8 598.2h.7v.7h-.7zM393.8 597.3h.7v.7h-.7zM386.7 599.6h.7v.7h-.7zM389.0 595.8h.7v.7h-.7zM381.6 598.8h.7v.7h-.7zM389.6 597.8h.7v.7h-.7zM394.0 596.7h.7v.7h-.7zM384.4 603.2h.7v.7h-.7zM388.0 598.2h.7v.7h-.7zM392.1 598.9h.7v.7h-.7zM381.3 600.5h.7v.7h-.7zM388.7 595.8h.7v.7h-.7zM394.4 597.6h.7v.7h-.7zM391.9 600.8h.7v.7h-.7zM390.2 597.0h.7v.7h-.7zM382.1 602.4h.7v.7h-.7zM384.3 598.1h.7v.7h-.7zM391.6 599.0h.7v.7h-.7zM387.6 601.1h.7v.7h-.7zM387.2 601.0h.7v.7h-.7zM380.1 601.6h.7v.7h-.7zM378.9 599.9h.7v.7h-.7zM384.7 596.9h.7v.7h-.7zM387.8 595.6h.7v.7h-.7zM388.1 598.2h.7v.7h-.7zM384.8 599.0h.7v.7h-.7zM390.9 597.2h.7v.7h-.7zM392.3 593.4h.7v.7h-.7zM389.9 599.8h.7v.7h-.7zM380.3 598.5h.7v.7h-.7zM396.0 602.5h.7v.7h-.7zM383.9 599.4h.7v.7h-.7zM387.8 599.6h.7v.7h-.7zM389.4 600.9h.7v.7h-.7zM373.4 598.5h.7v.7h-.7zM386.6 603.9h.7v.7h-.7zM377.1 598.3h.7v.7h-.7zM386.5 599.8h.7v.7h-.7zM382.0 595.8h.7v.7h-.7zM390.0 599.7h.7v.7h-.7zM371.7 598.4h.7v.7h-.7zM393.7 602.4h.7v.7h-.7zM404.8 601.3h.7v.7h-.7zM372.1 603.3h.7v.7h-.7zM385.5 604.1h.7v.7h-.7zM365.7 606.1h.7v.7h-.7zM398.9 602.9h.7v.7h-.7zM398.8 602.0h.7v.7h-.7zM399.1 601.3h.7v.7h-.7zM383.9 599.4h.7v.7h-.7zM378.8 601.3h.7v.7h-.7zM375.8 600.5h.7v.7h-.7zM376.6 598.3h.7v.7h-.7zM372.6 595.9h.7v.7h-.7zM393.7 594.0h.7v.7h-.7zM364.7 596.6h.7v.7h-.7zM380.6 602.1h.7v.7h-.7zM385.1 599.1h.7v.7h-.7zM374.0 603.1h.7v.7h-.7zM372.4 595.5h.7v.7h-.7zM387.5 598.2h.7v.7h-.7zM391.8 603.5h.7v.7h-.7zM388.4 600.1h.7v.7h-.7zM396.8 604.8h.7v.7h-.7zM366.4 599.2h.7v.7h-.7zM378.2 600.9h.7v.7h-.7zM367.4 598.9h.7v.7h-.7zM377.7 599.5h.7v.7h-.7zM376.4 600.5h.7v.7h-.7zM378.9 595.3h.7v.7h-.7zM388.5 597.6h.7v.7h-.7zM382.3 598.4h.7v.7h-.7zM387.1 599.0h.7v.7h-.7zM383.8 599.3h.7v.7h-.7zM389.3 604.4h.7v.7h-.7zM378.3 608.4h.7v.7h-.7zM389.1 599.6h.7v.7h-.7zM386.3 603.3h.7v.7h-.7zM392.1 600.8h.7v.7h-.7zM376.9 596.8h.7v.7h-.7zM374.1 595.8h.7v.7h-.7zM366.5 590.2h.7v.7h-.7zM371.3 603.6h.7v.7h-.7zM388.5 606.8h.7v.7h-.7zM376.6 601.2h.7v.7h-.7zM377.0 595.4h.7v.7h-.7zM369.7 604.8h.7v.7h-.7zM366.7 596.6h.7v.7h-.7zM388.2 604.5h.7v.7h-.7zM393.3 598.9h.7v.7h-.7zM383.4 602.8h.7v.7h-.7zM369.5 597.1h.7v.7h-.7zM383.1 602.6h.7v.7h-.7zM366.4 598.7h.7v.7h-.7zM384.0 601.9h.7v.7h-.7zM396.8 597.1h.7v.7h-.7zM383.9 594.5h.7v.7h-.7zM387.1 604.2h.7v.7h-.7zM389.0 592.2h.7v.7h-.7zM388.1 600.4h.7v.7h-.7zM389.4 594.2h.7v.7h-.7zM378.3 600.2h.7v.7h-.7zM389.1 592.9h.7v.7h-.7zM378.2 597.4h.7v.7h-.7zM368.4 602.0h.7v.7h-.7zM364.7 601.1h.7v.7h-.7zM383.8 601.0h.7v.7h-.7zM401.2 600.1h.7v.7h-.7zM395.2 605.3h.7v.7h-.7zM376.6 604.6h.7v.7h-.7zM400.8 601.1h.7v.7h-.7zM381.7 599.3h.7v.7h-.7zM399.9 599.1h.7v.7h-.7zM380.7 595.6h.7v.7h-.7zM372.7 604.9h.7v.7h-.7zM385.3 597.6h.7v.7h-.7zM407.6 600.0h.7v.7h-.7zM371.4 595.5h.7v.7h-.7zM385.4 599.4h.7v.7h-.7zM393.8 604.0h.7v.7h-.7zM386.3 598.4h.7v.7h-.7zM393.6 600.7h.7v.7h-.7zM404.3 592.5h.7v.7h-.7zM403.3 601.4h.7v.7h-.7zM402.7 593.2h.7v.7h-.7zM404.6 594.2h.7v.7h-.7zM403.2 605.9h.7v.7h-.7zM404.9 599.1h.7v.7h-.7zM401.9 588.5h.7v.7h-.7zM399.1 597.4h.7v.7h-.7zM404.7 593.3h.7v.7h-.7zM397.8 584.2h.7v.7h-.7zM400.8 593.3h.7v.7h-.7zM403.2 589.0h.7v.7h-.7zM402.3 600.0h.7v.7h-.7zM403.3 588.3h.7v.7h-.7zM406.4 603.4h.7v.7h-.7zM403.9 594.7h.7v.7h-.7zM402.8 585.2h.7v.7h-.7zM401.2 602.2h.7v.7h-.7zM399.9 591.4h.7v.7h-.7zM399.0 597.0h.7v.7h-.7zM405.8 589.6h.7v.7h-.7zM400.6 583.9h.7v.7h-.7zM401.0 587.7h.7v.7h-.7zM405.2 598.1h.7v.7h-.7zM403.0 590.6h.7v.7h-.7zM401.8 599.8h.7v.7h-.7zM398.9 595.9h.7v.7h-.7zM400.9 592.3h.7v.7h-.7zM400.0 600.4h.7v.7h-.7zM404.7 604.9h.7v.7h-.7zM400.2 588.4h.7v.7h-.7zM403.3 595.3h.7v.7h-.7zM399.6 594.9h.7v.7h-.7zM402.5 586.8h.7v.7h-.7zM400.2 595.3h.7v.7h-.7zM401.4 585.3h.7v.7h-.7zM403.3 588.7h.7v.7h-.7zM403.9 590.1h.7v.7h-.7zM408.3 595.7h.7v.7h-.7zM406.5 582.2h.7v.7h-.7zM401.7 600.0h.7v.7h-.7zM403.5 589.1h.7v.7h-.7zM402.3 582.1h.7v.7h-.7zM404.6 592.1h.7v.7h-.7zM403.1 591.2h.7v.7h-.7zM408.0 596.8h.7v.7h-.7zM400.3 592.8h.7v.7h-.7zM402.3 586.4h.7v.7h-.7zM402.0 598.2h.7v.7h-.7zM406.3 586.8h.7v.7h-.7zM402.1 587.1h.7v.7h-.7zM403.7 595.3h.7v.7h-.7zM406.7 583.5h.7v.7h-.7z" fill="#000" fill-opacity="0.3"/>
<rect x="363.3" y="564.8" width="56.1" height="58.2" fill="none" stroke="#8c8c8c" stroke-width="0.6"/>
<line x1="398.2" y1="564.8" x2="398.2" y2="623" stroke="#555" stroke-width="0.75"/>
<line x1="363.3" y1="598.3" x2="419.4" y2="598.3" stroke="#555" stroke-width="0.75"/>
<line x1="363.3" y1="564.8" x2="363.3" y2="623" stroke="#444" stroke-width="0.7"/>
<line x1="363.3" y1="623" x2="419.4" y2="623" stroke="#444" stroke-width="0.7"/>
<text x="364.5" y="570.84" font-size="6" fill="#1c1c1c" stroke="#1c1c1c" stroke-width="0.3">13.6</text>
<text x="418.4" y="570.84" font-size="6" text-anchor="end" fill="#1c1c1c" stroke="#1c1c1c" stroke-width="0.3">9.90</text>
<text x="364.5" y="622.44" font-size="6" fill="#1c1c1c" stroke="#1c1c1c" stroke-width="0.3">59.9</text>
<text x="418.4" y="622.44" font-size="6" text-anchor="end" fill="#1c1c1c" stroke="#1c1c1c" stroke-width="0.3">16.5</text>
<text x="362.8" y="623" font-size="4.5" text-anchor="end" fill="#333" stroke="#333" stroke-width="0.15">10<tspan font-size="3.3" dy="-1.6">1</tspan></text>
<line x1="362.5" y1="621.8" x2="363.3" y2="621.8" stroke="#444" stroke-width="0.4"/>
<text x="362.8" y="612.66" font-size="4.5" text-anchor="end" fill="#333" stroke="#333" stroke-width="0.15">10<tspan font-size="3.3" dy="-1.6">2</tspan></text>
<line x1="362.5" y1="611.46" x2="363.3" y2="611.46" stroke="#444" stroke-width="0.4"/>
<text x="362.8" y="602.32" font-size="4.5" text-anchor="end" fill="#333" stroke="#333" stroke-width="0.15">10<tspan font-size="3.3" dy="-1.6">3</tspan></text>
<line x1="362.5" y1="601.12" x2="363.3" y2="601.12" stroke="#444" stroke-width="0.4"/>
<text x="362.8" y="591.98" font-size="4.5" text-anchor="end" fill="#333" stroke="#333" stroke-width="0.15">10<tspan font-size="3.3" dy="-1.6">4</tspan></text>
<line x1="362.5" y1="590.78" x2="363.3" y2="590.78" stroke="#444" stroke-width="0.4"/>
<text x="362.8" y="581.64" font-size="4.5" text-anchor="end" fill="#333" stroke="#333" stroke-width="0.15">10<tspan font-size="3.3" dy="-1.6">5</tspan></text>
<line x1="362.5" y1="580.44" x2="363.3" y2="580.44" stroke="#444" stroke-width="0.4"/>
<text x="362.8" y="571.3" font-size="4.5" text-anchor="end" fill="#333" stroke="#333" stroke-width="0.15">10<tspan font-size="3.3" dy="-1.6">6</tspan></text>
<line x1="362.5" y1="570.1" x2="363.3" y2="570.1" stroke="#444" stroke-width="0.4"/>
<text x="372.84" y="627" font-size="4.5" text-anchor="middle" fill="#333" stroke="#333" stroke-width="0.15">10<tspan font-size="3.3" dy="-1.6">2</tspan></text>
<line x1="372.84" y1="623" x2="372.84" y2="623.8" stroke="#444" stroke-width="0.4"/>
<text x="387.14" y="627" font-size="4.5" text-anchor="middle" fill="#333" stroke="#333" stroke-width="0.15">10<tspan font-size="3.3" dy="-1.6">3</tspan></text>
<line x1="387.14" y1="623" x2="387.14" y2="623.8" stroke="#444" stroke-width="0.4"/>
<text x="401.45" y="627" font-size="4.5" text-anchor="middle" fill="#333" stroke="#333" stroke-width="0.15">10<tspan font-size="3.3" dy="-1.6">4</tspan></text>
<line x1="401.45" y1="623" x2="401.45" y2="623.8" stroke="#444" stroke-width="0.4"/>
<text x="415.75" y="627" font-size="4.5" text-anchor="middle" fill="#333" stroke="#333" stroke-width="0.15">10<tspan font-size="3.3" dy="-1.6">5</tspan></text>
<line x1="415.75" y1="623" x2="415.75" y2="623.8" stroke="#444" stroke-width="0.4"/>
<rect x="439.2" y="564.8" width="55.1" height="58.2" fill="#fff"/>
<ellipse cx="461" cy="597.8" rx="8" ry="2" fill="url(#rg)" opacity="0.95" transform="rotate(0 461 597.8)"/>
<ellipse cx="477.7" cy="604.4" rx="3" ry="4.5" fill="url(#rg)" opacity="0.85" transform="rotate(0 477.7 604.4)"/>
<ellipse cx="452" cy="598.5" rx="6" ry="2" fill="url(#rg)" opacity="0.3" transform="rotate(0 452 598.5)"/>
<path d="M472.2 598.3h.7v.7h-.7zM456.9 597.7h.7v.7h-.7zM465.3 597.7h.7v.7h-.7zM453.9 598.4h.7v.7h-.7zM461.4 600.1h.7v.7h-.7zM474.2 599.6h.7v.7h-.7zM462.2 599.3h.7v.7h-.7zM456.6 596.9h.7v.7h-.7zM463.1 599.1h.7v.7h-.7zM465.6 598.3h.7v.7h-.7zM458.0 596.2h.7v.7h-.7zM453.5 598.1h.7v.7h-.7zM467.4 599.6h.7v.7h-.7zM454.5 598.2h.7v.7h-.7zM455.2 597.1h.7v.7h-.7zM453.4 598.0h.7v.7h-.7zM467.0 597.7h.7v.7h-.7zM468.9 596.1h.7v.7h-.7zM455.0 600.5h.7v.7h-.7zM464.1 597.5h.7v.7h-.7zM463.2 597.2h.7v.7h-.7zM459.7 597.5h.7v.7h-.7zM469.0 597.6h.7v.7h-.7zM469.2 597.0h.7v.7h-.7zM450.6 596.5h.7v.7h-.7zM456.9 597.5h.7v.7h-.7zM459.2 599.0h.7v.7h-.7zM461.5 598.4h.7v.7h-.7zM464.4 601.7h.7v.7h-.7zM463.6 599.2h.7v.7h-.7zM462.7 597.9h.7v.7h-.7zM461.7 595.5h.7v.7h-.7zM461.0 597.2h.7v.7h-.7zM469.0 597.1h.7v.7h-.7zM464.5 599.8h.7v.7h-.7zM458.0 598.3h.7v.7h-.7zM463.5 599.4h.7v.7h-.7zM470.6 598.0h.7v.7h-.7zM453.5 596.6h.7v.7h-.7zM456.5 595.9h.7v.7h-.7zM464.4 595.2h.7v.7h-.7zM458.0 598.5h.7v.7h-.7zM465.2 599.0h.7v.7h-.7zM461.1 597.5h.7v.7h-.7zM461.6 598.8h.7v.7h-.7zM474.8 597.5h.7v.7h-.7zM464.7 597.6h.7v.7h-.7zM462.6 597.6h.7v.7h-.7zM464.6 599.0h.7v.7h-.7zM459.7 598.0h.7v.7h-.7zM466.8 598.3h.7v.7h-.7zM460.3 597.5h.7v.7h-.7zM469.2 596.8h.7v.7h-.7zM462.4 597.0h.7v.7h-.7zM461.2 598.7h.7v.7h-.7zM467.7 598.2h.7v.7h-.7zM466.8 598.1h.7v.7h-.7zM464.9 596.4h.7v.7h-.7zM456.9 596.3h.7v.7h-.7zM466.6 597.2h.7v.7h-.7zM464.6 597.0h.7v.7h-.7zM471.5 594.0h.7v.7h-.7zM460.7 599.7h.7v.7h-.7zM459.0 599.0h.7v.7h-.7zM459.7 599.3h.7v.7h-.7zM458.3 596.6h.7v.7h-.7zM466.0 597.8h.7v.7h-.7zM456.4 596.9h.7v.7h-.7zM463.5 600.2h.7v.7h-.7zM461.4 597.8h.7v.7h-.7zM463.5 596.1h.7v.7h-.7zM460.4 599.3h.7v.7h-.7zM465.8 599.6h.7v.7h-.7zM470.7 599.0h.7v.7h-.7zM457.7 595.7h.7v.7h-.7zM462.9 598.1h.7v.7h-.7zM463.9 598.0h.7v.7h-.7zM463.8 595.8h.7v.7h-.7zM473.1 599.7h.7v.7h-.7zM459.8 596.7h.7v.7h-.7zM459.3 599.9h.7v.7h-.7zM459.7 596.4h.7v.7h-.7zM460.3 599.1h.7v.7h-.7zM461.2 596.2h.7v.7h-.7zM471.4 598.9h.7v.7h-.7zM454.3 596.9h.7v.7h-.7zM476.2 597.3h.7v.7h-.7zM463.8 596.8h.7v.7h-.7zM462.0 596.6h.7v.7h-.7zM466.0 597.5h.7v.7h-.7zM462.0 597.0h.7v.7h-.7zM464.8 595.3h.7v.7h-.7zM465.4 599.4h.7v.7h-.7zM464.8 597.7h.7v.7h-.7zM451.0 598.1h.7v.7h-.7zM459.3 595.3h.7v.7h-.7zM468.5 597.5h.7v.7h-.7zM464.2 596.1h.7v.7h-.7zM451.2 596.7h.7v.7h-.7zM464.5 598.6h.7v.7h-.7zM453.9 600.6h.7v.7h-.7zM450.9 606.1h.7v.7h-.7zM449.4 598.0h.7v.7h-.7zM445.4 599.1h.7v.7h-.7zM443.7 602.8h.7v.7h-.7zM465.0 597.9h.7v.7h-.7zM448.8 599.9h.7v.7h-.7zM455.3 600.7h.7v.7h-.7zM459.0 599.0h.7v.7h-.7zM445.6 599.8h.7v.7h-.7zM456.6 595.3h.7v.7h-.7zM447.8 594.6h.7v.7h-.7zM461.3 598.7h.7v.7h-.7zM453.2 595.4h.7v.7h-.7zM463.1 600.5h.7v.7h-.7zM451.7 596.8h.7v.7h-.7zM451.4 600.9h.7v.7h-.7zM445.2 598.7h.7v.7h-.7zM448.3 599.7h.7v.7h-.7zM462.0 601.6h.7v.7h-.7zM453.7 598.8h.7v.7h-.7zM450.3 599.2h.7v.7h-.7zM451.8 602.1h.7v.7h-.7zM451.4 599.1h.7v.7h-.7zM457.3 604.8h.7v.7h-.7zM458.4 598.2h.7v.7h-.7zM444.9 600.5h.7v.7h-.7zM451.9 597.7h.7v.7h-.7zM445.8 597.1h.7v.7h-.7zM462.8 599.1h.7v.7h-.7zM441.9 592.6h.7v.7h-.7zM453.2 602.3h.7v.7h-.7zM458.7 600.5h.7v.7h-.7zM463.2 604.2h.7v.7h-.7zM463.6 596.1h.7v.7h-.7zM448.1 598.9h.7v.7h-.7zM449.8 602.8h.7v.7h-.7zM449.3 604.4h.7v.7h-.7zM456.4 601.8h.7v.7h-.7zM462.7 600.2h.7v.7h-.7zM471.4 599.5h.7v.7h-.7zM453.1 597.7h.7v.7h-.7zM447.3 597.1h.7v.7h-.7zM451.2 600.9h.7v.7h-.7zM457.7 598.9h.7v.7h-.7zM455.2 600.2h.7v.7h-.7zM453.4 600.8h.7v.7h-.7zM466.8 602.0h.7v.7h-.7zM452.5 599.7h.7v.7h-.7zM481.2 601.0h.7v.7h-.7zM470.4 599.1h.7v.7h-.7zM443.8 598.5h.7v.7h-.7zM444.2 598.1h.7v.7h-.7zM456.8 597.6h.7v.7h-.7zM448.0 597.8h.7v.7h-.7zM453.2 599.7h.7v.7h-.7zM461.2 598.1h.7v.7h-.7zM456.1 598.1h.7v.7h-.7zM464.2 602.1h.7v.7h-.7zM459.4 596.2h.7v.7h-.7zM442.0 599.4h.7v.7h-.7zM455.9 602.0h.7v.7h-.7zM450.6 601.6h.7v.7h-.7zM459.8 604.8h.7v.7h-.7zM449.7 602.7h.7v.7h-.7zM449.4 605.2h.7v.7h-.7zM450.6 598.8h.7v.7h-.7zM442.1 597.6h.7v.7h-.7zM449.4 596.5h.7v.7h-.7zM445.5 597.6h.7v.7h-.7zM452.1 596.8h.7v.7h-.7zM452.8 595.5h.7v.7h-.7zM450.6 600.1h.7v.7h-.7zM455.3 592.3h.7v.7h-.7zM478.7 602.9h.7v.7h-.7zM478.7 608.1h.7v.7h-.7zM473.8 595.9h.7v.7h-.7zM473.4 610.3h.7v.7h-.7zM474.7 604.4h.7v.7h-.7zM477.6 608.9h.7v.7h-.7zM475.1 596.4h.7v.7h-.7zM476.1 600.1h.7v.7h-.7zM475.9 608.8h.7v.7h-.7zM481.1 597.9h.7v.7h-.7zM480.0 603.9h.7v.7h-.7zM477.9 608.7h.7v.7h-.7zM478.6 615.1h.7v.7h-.7zM478.8 599.1h.7v.7h-.7zM480.4 601.4h.7v.7h-.7zM477.1 602.8h.7v.7h-.7zM477.9 604.6h.7v.7h-.7zM479.8 605.2h.7v.7h-.7zM473.5 602.8h.7v.7h-.7zM478.1 608.1h.7v.7h-.7zM481.5 601.4h.7v.7h-.7zM480.6 599.2h.7v.7h-.7zM480.5 609.4h.7v.7h-.7zM477.3 599.2h.7v.7h-.7zM476.9 605.6h.7v.7h-.7zM479.5 605.8h.7v.7h-.7zM478.6 608.3h.7v.7h-.7zM482.1 604.2h.7v.7h-.7zM478.5 601.2h.7v.7h-.7zM478.8 609.5h.7v.7h-.7zM476.3 603.4h.7v.7h-.7zM474.8 611.5h.7v.7h-.7zM478.1 604.7h.7v.7h-.7zM477.5 613.1h.7v.7h-.7zM477.5 602.5h.7v.7h-.7zM480.0 603.8h.7v.7h-.7zM477.7 604.8h.7v.7h-.7zM477.4 602.2h.7v.7h-.7zM481.9 604.5h.7v.7h-.7zM474.1 603.3h.7v.7h-.7zM475.8 608.5h.7v.7h-.7zM475.4 603.6h.7v.7h-.7zM477.9 607.4h.7v.7h-.7zM474.6 603.0h.7v.7h-.7zM480.1 598.4h.7v.7h-.7zM479.7 603.7h.7v.7h-.7zM479.5 607.1h.7v.7h-.7zM477.1 602.4h.7v.7h-.7zM476.7 598.7h.7v.7h-.7zM482.0 601.0h.7v.7h-.7zM477.5 602.8h.7v.7h-.7zM471.7 603.7h.7v.7h-.7zM478.1 603.2h.7v.7h-.7zM478.3 603.8h.7v.7h-.7zM480.1 611.3h.7v.7h-.7zM478.3 601.2h.7v.7h-.7zM478.5 610.9h.7v.7h-.7zM474.8 611.5h.7v.7h-.7zM474.7 603.7h.7v.7h-.7zM478.0 603.7h.7v.7h-.7z" fill="#000" fill-opacity="0.3"/>
<path d="M468.9 599.7h.7v.7h-.7zM457.6 597.9h.7v.7h-.7zM451.6 598.7h.7v.7h-.7zM466.9 595.3h.7v.7h-.7zM461.5 598.4h.7v.7h-.7zM459.2 597.3h.7v.7h-.7zM459.0 596.1h.7v.7h-.7zM457.2 597.0h.7v.7h-.7zM459.1 598.3h.7v.7h-.7zM457.4 596.2h.7v.7h-.7zM470.3 598.2h.7v.7h-.7zM467.0 596.5h.7v.7h-.7zM462.7 598.7h.7v.7h-.7zM460.6 597.3h.7v.7h-.7zM467.4 597.5h.7v.7h-.7zM465.3 596.9h.7v.7h-.7zM460.7 595.6h.7v.7h-.7zM456.3 596.5h.7v.7h-.7zM464.7 596.1h.7v.7h-.7zM456.6 598.9h.7v.7h-.7zM469.0 597.1h.7v.7h-.7zM457.3 598.1h.7v.7h-.7zM469.1 598.4h.7v.7h-.7zM467.4 597.2h.7v.7h-.7zM459.7 597.8h.7v.7h-.7zM462.2 596.7h.7v.7h-.7zM458.1 598.6h.7v.7h-.7zM455.8 597.6h.7v.7h-.7zM461.2 598.7h.7v.7h-.7zM463.0 600.9h.7v.7h-.7zM448.8 596.7h.7v.7h-.7zM465.1 598.8h.7v.7h-.7zM467.4 598.5h.7v.7h-.7zM460.1 596.4h.7v.7h-.7zM460.7 598.3h.7v.7h-.7zM463.8 598.8h.7v.7h-.7zM458.5 598.3h.7v.7h-.7zM455.7 598.3h.7v.7h-.7zM460.6 595.8h.7v.7h-.7zM457.4 598.9h.7v.7h-.7zM462.7 595.4h.7v.7h-.7zM456.6 600.1h.7v.7h-.7zM460.8 600.4h.7v.7h-.7zM462.8 596.8h.7v.7h-.7zM455.3 595.5h.7v.7h-.7zM466.7 598.9h.7v.7h-.7zM456.3 596.5h.7v.7h-.7zM461.1 597.1h.7v.7h-.7zM452.0 598.1h.7v.7h-.7zM467.1 598.6h.7v.7h-.7zM471.3 598.4h.7v.7h-.7zM464.5 598.3h.7v.7h-.7zM458.7 598.7h.7v.7h-.7zM470.5 599.3h.7v.7h-.7zM460.7 596.0h.7v.7h-.7zM466.6 598.9h.7v.7h-.7zM454.2 597.3h.7v.7h-.7zM465.1 597.7h.7v.7h-.7zM465.3 599.0h.7v.7h-.7zM472.1 597.8h.7v.7h-.7zM463.6 595.6h.7v.7h-.7zM464.4 598.3h.7v.7h-.7zM456.6 598.1h.7v.7h-.7zM466.5 596.1h.7v.7h-.7zM461.8 598.6h.7v.7h-.7zM465.0 598.8h.7v.7h-.7zM453.7 598.2h.7v.7h-.7zM463.1 597.3h.7v.7h-.7zM462.9 600.1h.7v.7h-.7zM468.5 597.2h.7v.7h-.7zM462.8 597.5h.7v.7h-.7zM464.1 597.7h.7v.7h-.7zM460.7 598.1h.7v.7h-.7zM459.2 596.1h.7v.7h-.7zM468.0 598.1h.7v.7h-.7zM464.4 597.6h.7v.7h-.7zM470.2 596.1h.7v.7h-.7zM459.3 598.7h.7v.7h-.7zM461.4 598.4h.7v.7h-.7zM454.2 600.4h.7v.7h-.7zM470.4 597.1h.7v.7h-.7zM456.2 597.9h.7v.7h-.7zM465.3 597.6h.7v.7h-.7zM465.8 597.8h.7v.7h-.7zM462.2 599.0h.7v.7h-.7zM459.5 598.6h.7v.7h-.7zM461.4 598.6h.7v.7h-.7zM464.1 599.5h.7v.7h-.7zM462.5 597.3h.7v.7h-.7zM455.1 594.7h.7v.7h-.7zM458.2 595.8h.7v.7h-.7zM465.0 596.7h.7v.7h-.7zM457.0 596.6h.7v.7h-.7zM461.2 598.4h.7v.7h-.7zM463.8 596.8h.7v.7h-.7zM453.7 599.1h.7v.7h-.7zM464.0 596.7h.7v.7h-.7zM460.3 597.9h.7v.7h-.7zM459.8 598.0h.7v.7h-.7zM458.3 598.8h.7v.7h-.7zM468.5 596.9h.7v.7h-.7zM450.7 595.8h.7v.7h-.7zM457.6 597.9h.7v.7h-.7zM444.5 601.4h.7v.7h-.7zM453.8 600.3h.7v.7h-.7zM456.1 599.7h.7v.7h-.7zM465.5 599.5h.7v.7h-.7zM452.6 594.6h.7v.7h-.7zM468.8 595.8h.7v.7h-.7zM454.6 593.9h.7v.7h-.7zM461.7 596.3h.7v.7h-.7zM453.5 598.8h.7v.7h-.7zM450.6 597.4h.7v.7h-.7zM451.4 597.3h.7v.7h-.7zM455.7 598.1h.7v.7h-.7zM454.2 598.7h.7v.7h-.7zM450.5 601.5h.7v.7h-.7zM453.7 599.7h.7v.7h-.7zM463.2 596.1h.7v.7h-.7zM446.2 598.4h.7v.7h-.7zM463.5 597.8h.7v.7h-.7zM452.9 597.8h.7v.7h-.7zM449.9 598.9h.7v.7h-.7zM442.3 597.9h.7v.7h-.7zM460.4 598.6h.7v.7h-.7zM467.7 596.2h.7v.7h-.7zM459.5 597.3h.7v.7h-.7zM448.3 599.5h.7v.7h-.7zM451.2 598.0h.7v.7h-.7zM459.5 598.7h.7v.7h-.7zM460.0 597.6h.7v.7h-.7zM444.4 598.9h.7v.7h-.7zM455.9 595.5h.7v.7h-.7zM459.5 596.4h.7v.7h-.7zM462.5 600.5h.7v.7h-.7zM452.1 599.5h.7v.7h-.7zM459.2 597.7h.7v.7h-.7zM447.8 602.9h.7v.7h-.7zM454.9 591.6h.7v.7h-.7zM454.7 600.0h.7v.7h-.7zM453.0 595.3h.7v.7h-.7zM454.2 596.1h.7v.7h-.7zM462.1 600.1h.7v.7h-.7zM465.4 595.3h.7v.7h-.7zM460.4 595.3h.7v.7h-.7zM464.7 601.1h.7v.7h-.7zM467.9 597.0h.7v.7h-.7zM451.7 599.5h.7v.7h-.7zM455.4 598.2h.7v.7h-.7zM462.4 597.3h.7v.7h-.7zM444.2 599.4h.7v.7h-.7zM457.2 597.8h.7v.7h-.7zM462.0 598.2h.7v.7h-.7zM455.9 598.4h.7v.7h-.7zM451.3 599.9h.7v.7h-.7zM464.3 599.6h.7v.7h-.7zM446.3 599.2h.7v.7h-.7zM447.8 598.2h.7v.7h-.7zM458.1 600.6h.7v.7h-.7zM448.0 599.4h.7v.7h-.7zM455.1 597.6h.7v.7h-.7zM450.4 598.5h.7v.7h-.7zM465.0 600.2h.7v.7h-.7zM453.3 602.9h.7v.7h-.7zM463.3 600.3h.7v.7h-.7zM444.9 594.5h.7v.7h-.7zM446.0 598.8h.7v.7h-.7zM470.9 598.8h.7v.7h-.7zM459.3 595.9h.7v.7h-.7zM469.5 596.3h.7v.7h-.7zM468.7 597.5h.7v.7h-.7zM462.8 597.9h.7v.7h-.7zM455.8 597.3h.7v.7h-.7zM480.7 605.2h.7v.7h-.7zM477.5 603.0h.7v.7h-.7zM475.6 607.8h.7v.7h-.7zM476.2 604.7h.7v.7h-.7zM475.5 599.3h.7v.7h-.7zM480.6 605.9h.7v.7h-.7zM479.2 611.4h.7v.7h-.7zM478.9 605.2h.7v.7h-.7zM477.8 608.4h.7v.7h-.7zM473.9 605.3h.7v.7h-.7zM478.8 612.3h.7v.7h-.7zM474.3 606.1h.7v.7h-.7zM476.7 608.4h.7v.7h-.7zM480.3 603.8h.7v.7h-.7zM476.8 605.6h.7v.7h-.7zM480.5 603.2h.7v.7h-.7zM473.2 607.6h.7v.7h-.7zM479.2 603.8h.7v.7h-.7zM477.8 606.0h.7v.7h-.7zM479.9 603.9h.7v.7h-.7zM478.7 605.2h.7v.7h-.7zM476.0 604.8h.7v.7h-.7zM482.1 604.1h.7v.7h-.7zM478.2 603.3h.7v.7h-.7zM479.0 596.5h.7v.7h-.7zM475.6 602.9h.7v.7h-.7zM477.6 607.5h.7v.7h-.7zM476.0 604.7h.7v.7h-.7zM479.6 597.1h.7v.7h-.7zM479.6 604.5h.7v.7h-.7zM480.4 604.1h.7v.7h-.7zM479.2 593.2h.7v.7h-.7zM477.5 608.0h.7v.7h-.7zM482.4 610.1h.7v.7h-.7zM477.9 604.4h.7v.7h-.7zM481.2 611.8h.7v.7h-.7zM478.0 602.7h.7v.7h-.7zM477.6 602.5h.7v.7h-.7zM480.2 607.3h.7v.7h-.7zM475.7 608.1h.7v.7h-.7zM474.8 604.8h.7v.7h-.7zM475.7 600.7h.7v.7h-.7zM477.6 607.5h.7v.7h-.7zM480.6 611.7h.7v.7h-.7zM481.0 611.9h.7v.7h-.7zM477.1 604.5h.7v.7h-.7zM479.7 603.5h.7v.7h-.7zM481.9 600.8h.7v.7h-.7zM480.3 603.7h.7v.7h-.7zM477.5 605.5h.7v.7h-.7zM482.7 603.9h.7v.7h-.7zM473.4 606.4h.7v.7h-.7zM479.4 606.4h.7v.7h-.7zM476.8 609.3h.7v.7h-.7zM476.6 605.5h.7v.7h-.7zM478.3 596.8h.7v.7h-.7zM475.4 600.0h.7v.7h-.7zM475.1 608.8h.7v.7h-.7zM477.6 598.5h.7v.7h-.7zM479.3 610.3h.7v.7h-.7z" fill="#000" fill-opacity="0.3"/>
<path d="M464.2 598.6h.7v.7h-.7zM457.1 599.5h.7v.7h-.7zM466.0 597.7h.7v.7h-.7zM464.2 595.4h.7v.7h-.7zM459.2 597.8h.7v.7h-.7zM461.1 600.7h.7v.7h-.7zM468.4 597.7h.7v.7h-.7zM452.4 599.4h.7v.7h-.7zM461.9 599.4h.7v.7h-.7zM456.5 597.0h.7v.7h-.7zM449.7 596.4h.7v.7h-.7zM464.5 597.4h.7v.7h-.7zM461.0 597.3h.7v.7h-.7zM460.6 597.6h.7v.7h-.7zM468.8 596.3h.7v.7h-.7zM464.5 599.0h.7v.7h-.7zM461.1 598.2h.7v.7h-.7zM466.0 594.5h.7v.7h-.7zM460.7 598.9h.7v.7h-.7zM461.0 598.9h.7v.7h-.7zM463.4 597.0h.7v.7h-.7zM468.3 600.2h.7v.7h-.7zM471.0 596.1h.7v.7h-.7zM466.1 597.4h.7v.7h-.7zM448.6 596.2h.7v.7h-.7zM452.6 598.2h.7v.7h-.7zM456.1 598.2h.7v.7h-.7zM456.3 597.6h.7v.7h-.7zM461.6 599.3h.7v.7h-.7zM468.6 595.6h.7v.7h-.7zM458.5 596.8h.7v.7h-.7zM463.0 597.4h.7v.7h-.7zM472.0 597.3h.7v.7h-.7zM463.9 597.7h.7v.7h-.7zM466.0 597.7h.7v.7h-.7zM465.6 596.9h.7v.7h-.7zM457.6 598.0h.7v.7h-.7zM462.2 599.3h.7v.7h-.7zM467.3 595.2h.7v.7h-.7zM464.4 599.0h.7v.7h-.7zM458.3 597.3h.7v.7h-.7zM464.3 599.3h.7v.7h-.7zM455.2 598.4h.7v.7h-.7zM465.8 598.8h.7v.7h-.7zM457.8 597.5h.7v.7h-.7zM472.7 598.0h.7v.7h-.7zM456.7 599.7h.7v.7h-.7zM460.9 597.8h.7v.7h-.7zM468.6 596.5h.7v.7h-.7zM459.8 598.5h.7v.7h-.7zM455.3 596.8h.7v.7h-.7zM470.5 598.9h.7v.7h-.7zM461.6 598.6h.7v.7h-.7zM452.5 597.0h.7v.7h-.7zM465.7 597.6h.7v.7h-.7zM466.0 597.2h.7v.7h-.7zM459.2 598.4h.7v.7h-.7zM455.3 598.9h.7v.7h-.7zM457.5 599.2h.7v.7h-.7zM462.4 594.7h.7v.7h-.7zM467.5 599.7h.7v.7h-.7zM444.6 596.9h.7v.7h-.7zM460.9 598.3h.7v.7h-.7zM467.4 596.9h.7v.7h-.7zM465.6 598.6h.7v.7h-.7zM463.2 597.6h.7v.7h-.7zM464.0 598.9h.7v.7h-.7zM460.9 599.1h.7v.7h-.7zM467.2 601.2h.7v.7h-.7zM458.8 598.2h.7v.7h-.7zM461.3 598.1h.7v.7h-.7zM461.9 599.3h.7v.7h-.7zM472.5 597.9h.7v.7h-.7zM465.0 597.0h.7v.7h-.7zM461.7 598.4h.7v.7h-.7zM447.5 598.9h.7v.7h-.7zM445.8 599.9h.7v.7h-.7zM454.9 598.7h.7v.7h-.7zM456.4 598.1h.7v.7h-.7zM462.0 596.6h.7v.7h-.7zM462.6 599.1h.7v.7h-.7zM457.4 596.3h.7v.7h-.7zM472.0 596.9h.7v.7h-.7zM452.4 596.9h.7v.7h-.7zM452.8 596.9h.7v.7h-.7zM467.0 599.2h.7v.7h-.7zM457.0 597.6h.7v.7h-.7zM455.4 595.0h.7v.7h-.7zM463.2 599.4h.7v.7h-.7zM449.6 596.9h.7v.7h-.7zM452.4 595.7h.7v.7h-.7zM464.2 598.2h.7v.7h-.7zM458.8 596.8h.7v.7h-.7zM458.5 599.2h.7v.7h-.7zM457.3 599.0h.7v.7h-.7zM456.2 599.5h.7v.7h-.7zM458.8 596.9h.7v.7h-.7zM463.8 595.1h.7v.7h-.7zM462.0 600.4h.7v.7h-.7zM464.7 598.7h.7v.7h-.7zM461.5 598.4h.7v.7h-.7zM450.6 600.3h.7v.7h-.7zM456.0 598.9h.7v.7h-.7zM446.5 598.3h.7v.7h-.7zM453.3 595.4h.7v.7h-.7zM453.5 600.9h.7v.7h-.7zM455.9 598.1h.7v.7h-.7zM456.2 598.6h.7v.7h-.7zM446.2 600.6h.7v.7h-.7zM460.7 602.4h.7v.7h-.7zM453.7 600.0h.7v.7h-.7zM447.2 596.9h.7v.7h-.7zM456.2 599.2h.7v.7h-.7zM455.3 601.9h.7v.7h-.7zM457.7 597.7h.7v.7h-.7zM470.9 600.3h.7v.7h-.7zM461.5 606.2h.7v.7h-.7zM460.9 596.4h.7v.7h-.7zM441.1 601.8h.7v.7h-.7zM456.7 600.0h.7v.7h-.7zM449.9 597.8h.7v.7h-.7zM467.0 599.7h.7v.7h-.7zM453.9 597.5h.7v.7h-.7zM456.9 599.6h.7v.7h-.7zM453.6 598.9h.7v.7h-.7zM460.1 600.2h.7v.7h-.7zM474.6 600.7h.7v.7h-.7zM455.2 595.4h.7v.7h-.7zM449.0 600.5h.7v.7h-.7zM457.0 599.2h.7v.7h-.7zM458.2 598.1h.7v.7h-.7zM445.3 599.1h.7v.7h-.7zM456.7 601.1h.7v.7h-.7zM450.2 599.1h.7v.7h-.7zM447.2 600.4h.7v.7h-.7zM444.6 600.2h.7v.7h-.7zM447.0 599.0h.7v.7h-.7zM450.0 601.6h.7v.7h-.7zM448.5 595.1h.7v.7h-.7zM456.3 597.5h.7v.7h-.7zM449.4 598.9h.7v.7h-.7zM454.7 595.1h.7v.7h-.7zM455.3 596.1h.7v.7h-.7zM451.0 599.2h.7v.7h-.7zM468.0 596.1h.7v.7h-.7zM462.2 602.1h.7v.7h-.7zM442.7 596.4h.7v.7h-.7zM458.8 601.5h.7v.7h-.7zM457.3 592.6h.7v.7h-.7zM458.4 604.0h.7v.7h-.7zM452.2 601.1h.7v.7h-.7zM463.9 596.1h.7v.7h-.7zM449.8 601.0h.7v.7h-.7zM460.1 599.3h.7v.7h-.7zM458.1 596.9h.7v.7h-.7zM471.6 599.0h.7v.7h-.7zM459.0 599.8h.7v.7h-.7zM458.9 601.3h.7v.7h-.7zM451.0 598.7h.7v.7h-.7zM443.3 599.1h.7v.7h-.7zM446.7 597.7h.7v.7h-.7zM466.8 603.3h.7v.7h-.7zM446.3 596.6h.7v.7h-.7zM471.2 595.8h.7v.7h-.7zM454.7 600.5h.7v.7h-.7zM456.1 602.6h.7v.7h-.7zM446.0 596.4h.7v.7h-.7zM456.5 604.5h.7v.7h-.7zM457.7 601.8h.7v.7h-.7zM448.9 599.5h.7v.7h-.7zM457.7 597.9h.7v.7h-.7zM465.9 596.0h.7v.7h-.7zM453.6 595.7h.7v.7h-.7zM479.5 608.0h.7v.7h-.7zM470.2 604.1h.7v.7h-.7zM478.7 607.2h.7v.7h-.7zM476.2 604.5h.7v.7h-.7zM476.4 599.3h.7v.7h-.7zM482.1 608.7h.7v.7h-.7zM477.2 611.8h.7v.7h-.7zM479.9 603.8h.7v.7h-.7zM480.8 604.9h.7v.7h-.7zM478.5 604.5h.7v.7h-.7zM481.0 608.1h.7v.7h-.7zM476.4 601.1h.7v.7h-.7zM482.3 599.7h.7v.7h-.7zM477.2 600.3h.7v.7h-.7zM474.3 602.1h.7v.7h-.7zM477.5 601.3h.7v.7h-.7zM479.2 607.5h.7v.7h-.7zM475.8 604.8h.7v.7h-.7zM476.6 605.4h.7v.7h-.7zM475.7 603.1h.7v.7h-.7zM477.6 607.3h.7v.7h-.7zM480.3 605.3h.7v.7h-.7zM477.5 607.2h.7v.7h-.7zM479.7 602.6h.7v.7h-.7zM475.4 596.1h.7v.7h-.7zM473.9 602.8h.7v.7h-.7zM478.7 609.3h.7v.7h-.7zM479.1 594.6h.7v.7h-.7zM477.7 601.0h.7v.7h-.7zM478.8 605.2h.7v.7h-.7zM478.6 604.2h.7v.7h-.7zM479.3 600.2h.7v.7h-.7zM475.1 606.4h.7v.7h-.7zM476.9 605.8h.7v.7h-.7zM479.3 606.4h.7v.7h-.7zM478.3 606.3h.7v.7h-.7zM476.4 602.9h.7v.7h-.7zM476.7 604.9h.7v.7h-.7zM477.1 605.4h.7v.7h-.7zM476.6 604.5h.7v.7h-.7zM481.1 602.4h.7v.7h-.7zM475.6 597.5h.7v.7h-.7zM481.6 602.6h.7v.7h-.7zM478.4 602.0h.7v.7h-.7zM478.8 599.8h.7v.7h-.7zM477.8 609.5h.7v.7h-.7zM479.6 604.7h.7v.7h-.7zM481.6 604.1h.7v.7h-.7zM478.7 603.0h.7v.7h-.7zM478.8 597.5h.7v.7h-.7zM478.8 607.2h.7v.7h-.7zM475.2 608.5h.7v.7h-.7zM478.5 605.8h.7v.7h-.7zM479.4 606.6h.7v.7h-.7zM476.8 614.1h.7v.7h-.7zM479.6 608.7h.7v.7h-.7zM478.2 603.7h.7v.7h-.7zM476.7 600.2h.7v.7h-.7zM474.1 609.3h.7v.7h-.7zM477.6 605.7h.7v.7h-.7z" fill="#000" fill-opacity="0.3"/>
<rect x="439.2" y="564.8" width="55.1" height="58.2" fill="none" stroke="#8c8c8c" stroke-width="0.6"/>
<line x1="473.3" y1="564.8" x2="473.3" y2="623" stroke="#555" stroke-width="0.75"/>
<line x1="439.2" y1="598.3" x2="494.3" y2="598.3" stroke="#555" stroke-width="0.75"/>
<line x1="439.2" y1="564.8" x2="439.2" y2="623" stroke="#444" stroke-width="0.7"/>
<line x1="439.2" y1="623" x2="494.3" y2="623" stroke="#444" stroke-width="0.7"/>
<text x="440.4" y="570.84" font-size="6" fill="#1c1c1c" stroke="#1c1c1c" stroke-width="0.3">3.52</text>
<text x="493.3" y="570.84" font-size="6" text-anchor="end" fill="#1c1c1c" stroke="#1c1c1c" stroke-width="0.3">0.15</text>
<text x="440.4" y="622.44" font-size="6" fill="#1c1c1c" stroke="#1c1c1c" stroke-width="0.3">55.8</text>
<text x="493.3" y="622.44" font-size="6" text-anchor="end" fill="#1c1c1c" stroke="#1c1c1c" stroke-width="0.3">40.5</text>
<text x="438.7" y="623" font-size="4.5" text-anchor="end" fill="#333" stroke="#333" stroke-width="0.15">10<tspan font-size="3.3" dy="-1.6">1</tspan></text>
<line x1="438.4" y1="621.8" x2="439.2" y2="621.8" stroke="#444" stroke-width="0.4"/>
<text x="438.7" y="612.66" font-size="4.5" text-anchor="end" fill="#333" stroke="#333" stroke-width="0.15">10<tspan font-size="3.3" dy="-1.6">2</tspan></text>
<line x1="438.4" y1="611.46" x2="439.2" y2="611.46" stroke="#444" stroke-width="0.4"/>
<text x="438.7" y="602.32" font-size="4.5" text-anchor="end" fill="#333" stroke="#333" stroke-width="0.15">10<tspan font-size="3.3" dy="-1.6">3</tspan></text>
<line x1="438.4" y1="601.12" x2="439.2" y2="601.12" stroke="#444" stroke-width="0.4"/>
<text x="438.7" y="591.98" font-size="4.5" text-anchor="end" fill="#333" stroke="#333" stroke-width="0.15">10<tspan font-size="3.3" dy="-1.6">4</tspan></text>
<line x1="438.4" y1="590.78" x2="439.2" y2="590.78" stroke="#444" stroke-width="0.4"/>
<text x="438.7" y="581.64" font-size="4.5" text-anchor="end" fill="#333" stroke="#333" stroke-width="0.15">10<tspan font-size="3.3" dy="-1.6">5</tspan></text>
<line x1="438.4" y1="580.44" x2="439.2" y2="580.44" stroke="#444" stroke-width="0.4"/>
<text x="438.7" y="571.3" font-size="4.5" text-anchor="end" fill="#333" stroke="#333" stroke-width="0.15">10<tspan font-size="3.3" dy="-1.6">6</tspan></text>
<line x1="438.4" y1="570.1" x2="439.2" y2="570.1" stroke="#444" stroke-width="0.4"/>
<text x="448.57" y="627" font-size="4.5" text-anchor="middle" fill="#333" stroke="#333" stroke-width="0.15">10<tspan font-size="3.3" dy="-1.6">2</tspan></text>
<line x1="448.57" y1="623" x2="448.57" y2="623.8" stroke="#444" stroke-width="0.4"/>
<text x="462.62" y="627" font-size="4.5" text-anchor="middle" fill="#333" stroke="#333" stroke-width="0.15">10<tspan font-size="3.3" dy="-1.6">3</tspan></text>
<line x1="462.62" y1="623" x2="462.62" y2="623.8" stroke="#444" stroke-width="0.4"/>
<text x="476.67" y="627" font-size="4.5" text-anchor="middle" fill="#333" stroke="#333" stroke-width="0.15">10<tspan font-size="3.3" dy="-1.6">4</tspan></text>
<line x1="476.67" y1="623" x2="476.67" y2="623.8" stroke="#444" stroke-width="0.4"/>
<text x="490.72" y="627" font-size="4.5" text-anchor="middle" fill="#333" stroke="#333" stroke-width="0.15">10<tspan font-size="3.3" dy="-1.6">5</tspan></text>
<line x1="490.72" y1="623" x2="490.72" y2="623.8" stroke="#444" stroke-width="0.4"/>
<line x1="357.6" y1="351.4" x2="357.6" y2="451" stroke="#222" stroke-width="0.7"/>
<path d="M356.1 352.4 L357.6 349.4 L359.1 352.4Z" fill="#222"/>
<line x1="377" y1="478.5" x2="489" y2="478.5" stroke="#222" stroke-width="0.7"/>
<path d="M488 477 L491 478.5 L488 480Z" fill="#222"/>
<text x="362.8" y="480.21" font-size="7.6" fill="#1c1c1c" stroke="#1c1c1c" stroke-width="0.3">CD3</text>
<text x="357.4" y="461.84" font-size="7.4" text-anchor="middle" fill="#1c1c1c" stroke="#1c1c1c" stroke-width="0.3" transform="rotate(-90 357.4 459.2)">CD4</text>
<line x1="351.6" y1="500.7" x2="351.6" y2="599" stroke="#222" stroke-width="0.7"/>
<path d="M350.1 501.7 L351.6 498.7 L353.1 501.7Z" fill="#222"/>
<line x1="377" y1="629.8" x2="491" y2="629.8" stroke="#222" stroke-width="0.7"/>
<path d="M490 628.3 L493 629.8 L490 631.3Z" fill="#222"/>
<text x="360.8" y="632.51" font-size="7.6" fill="#1c1c1c" stroke="#1c1c1c" stroke-width="0.3">CD3</text>
<text x="350.9" y="613.04" font-size="7.4" text-anchor="middle" fill="#1c1c1c" stroke="#1c1c1c" stroke-width="0.3" transform="rotate(-90 350.9 610.4)">PD-1</text>
<text x="347.6" y="376.48" font-size="7.8" text-anchor="middle" fill="#1c1c1c" stroke="#1c1c1c" stroke-width="0.3" transform="rotate(-90 347.6 373.7)">Patient 4#</text>
<text x="347.6" y="443.08" font-size="7.8" text-anchor="middle" fill="#1c1c1c" stroke="#1c1c1c" stroke-width="0.3" transform="rotate(-90 347.6 440.3)">Patient 5#</text>
<text x="341.2" y="530.48" font-size="7.8" text-anchor="middle" fill="#1c1c1c" stroke="#1c1c1c" stroke-width="0.3" transform="rotate(-90 341.2 527.7)">Patient 4#</text>
<text x="341.2" y="596.98" font-size="7.8" text-anchor="middle" fill="#1c1c1c" stroke="#1c1c1c" stroke-width="0.3" transform="rotate(-90 341.2 594.2)">Patient 5#</text>
<text x="4.2" y="652.2" font-size="14.6" font-weight="bold" fill="#111" stroke="#111" stroke-width="0.18">E</text>
<line x1="39.8" y1="666.9" x2="39.8" y2="743.3" stroke="#2a2a2a" stroke-width="0.9"/>
<line x1="39.8" y1="743.3" x2="91" y2="743.3" stroke="#2a2a2a" stroke-width="0.9"/>
<line x1="37.2" y1="743.3" x2="39.8" y2="743.3" stroke="#2a2a2a" stroke-width="0.9"/>
<text x="37" y="745.8" font-size="7" text-anchor="end" fill="#1c1c1c" stroke="#1c1c1c" stroke-width="0.3">0</text>
<line x1="37.2" y1="718" x2="39.8" y2="718" stroke="#2a2a2a" stroke-width="0.9"/>
<text x="37" y="720.5" font-size="7" text-anchor="end" fill="#1c1c1c" stroke="#1c1c1c" stroke-width="0.3">20</text>
<line x1="37.2" y1="692.7" x2="39.8" y2="692.7" stroke="#2a2a2a" stroke-width="0.9"/>
<text x="37" y="695.2" font-size="7" text-anchor="end" fill="#1c1c1c" stroke="#1c1c1c" stroke-width="0.3">40</text>
<line x1="37.2" y1="667.4" x2="39.8" y2="667.4" stroke="#2a2a2a" stroke-width="0.9"/>
<text x="37" y="669.9" font-size="7" text-anchor="end" fill="#1c1c1c" stroke="#1c1c1c" stroke-width="0.3">60</text>
<line x1="54.5" y1="743.3" x2="54.5" y2="745.8" stroke="#2a2a2a" stroke-width="0.9"/>
<line x1="76.2" y1="743.3" x2="76.2" y2="745.8" stroke="#2a2a2a" stroke-width="0.9"/>
<line x1="54.5" y1="699.02" x2="76.2" y2="673.72" stroke="#1a1a1a" stroke-width="0.85"/>
<line x1="54.5" y1="704.08" x2="76.2" y2="677.52" stroke="#1a1a1a" stroke-width="0.85"/>
<line x1="54.5" y1="707.88" x2="76.2" y2="681.31" stroke="#1a1a1a" stroke-width="0.85"/>
<line x1="54.5" y1="709.14" x2="76.2" y2="697.76" stroke="#1a1a1a" stroke-width="0.85"/>
<line x1="54.5" y1="710.41" x2="76.2" y2="700.29" stroke="#1a1a1a" stroke-width="0.85"/>
<line x1="54.5" y1="711.67" x2="76.2" y2="731.91" stroke="#1a1a1a" stroke-width="0.85"/>
<line x1="54.5" y1="712.94" x2="76.2" y2="712.94" stroke="#1a1a1a" stroke-width="0.85"/>
<line x1="54.5" y1="714.84" x2="76.2" y2="716.73" stroke="#1a1a1a" stroke-width="0.85"/>
<line x1="54.5" y1="716.73" x2="76.2" y2="696.5" stroke="#1a1a1a" stroke-width="0.85"/>
<line x1="54.5" y1="721.79" x2="76.2" y2="695.23" stroke="#1a1a1a" stroke-width="0.85"/>
<line x1="54.5" y1="726.85" x2="76.2" y2="725.59" stroke="#1a1a1a" stroke-width="0.85"/>
<line x1="54.5" y1="728.12" x2="76.2" y2="731.91" stroke="#1a1a1a" stroke-width="0.85"/>
<line x1="54.5" y1="735.71" x2="76.2" y2="736.97" stroke="#1a1a1a" stroke-width="0.85"/>
<line x1="54.5" y1="736.97" x2="76.2" y2="697.76" stroke="#1a1a1a" stroke-width="0.85"/>
<line x1="54.5" y1="738.24" x2="76.2" y2="736.97" stroke="#1a1a1a" stroke-width="0.85"/>
<line x1="54.5" y1="739.5" x2="76.2" y2="736.97" stroke="#1a1a1a" stroke-width="0.85"/>
<circle cx="54.5" cy="699.02" r="1.4" fill="#111"/>
<circle cx="76.2" cy="673.72" r="1.4" fill="#111"/>
<circle cx="54.5" cy="704.08" r="1.4" fill="#111"/>
<circle cx="76.2" cy="677.52" r="1.4" fill="#111"/>
<circle cx="54.5" cy="707.88" r="1.4" fill="#111"/>
<circle cx="76.2" cy="681.31" r="1.4" fill="#111"/>
<circle cx="54.5" cy="709.14" r="1.4" fill="#111"/>
<circle cx="76.2" cy="697.76" r="1.4" fill="#111"/>
<circle cx="54.5" cy="710.41" r="1.4" fill="#111"/>
<circle cx="76.2" cy="700.29" r="1.4" fill="#111"/>
<circle cx="54.5" cy="711.67" r="1.4" fill="#111"/>
<circle cx="76.2" cy="731.91" r="1.4" fill="#111"/>
<circle cx="54.5" cy="712.94" r="1.4" fill="#111"/>
<circle cx="76.2" cy="712.94" r="1.4" fill="#111"/>
<circle cx="54.5" cy="714.84" r="1.4" fill="#111"/>
<circle cx="76.2" cy="716.73" r="1.4" fill="#111"/>
<circle cx="54.5" cy="716.73" r="1.4" fill="#111"/>
<circle cx="76.2" cy="696.5" r="1.4" fill="#111"/>
<circle cx="54.5" cy="721.79" r="1.4" fill="#111"/>
<circle cx="76.2" cy="695.23" r="1.4" fill="#111"/>
<circle cx="54.5" cy="726.85" r="1.4" fill="#111"/>
<circle cx="76.2" cy="725.59" r="1.4" fill="#111"/>
<circle cx="54.5" cy="728.12" r="1.4" fill="#111"/>
<circle cx="76.2" cy="731.91" r="1.4" fill="#111"/>
<circle cx="54.5" cy="735.71" r="1.4" fill="#111"/>
<circle cx="76.2" cy="736.97" r="1.4" fill="#111"/>
<circle cx="54.5" cy="736.97" r="1.4" fill="#111"/>
<circle cx="76.2" cy="697.76" r="1.4" fill="#111"/>
<circle cx="54.5" cy="738.24" r="1.4" fill="#111"/>
<circle cx="76.2" cy="736.97" r="1.4" fill="#111"/>
<circle cx="54.5" cy="739.5" r="1.4" fill="#111"/>
<circle cx="76.2" cy="736.97" r="1.4" fill="#111"/>
<polyline points="54.5,687.3 54.5,663.3 76.2,663.3 76.2,666.7" fill="none" stroke="#333" stroke-width="0.8"/>
<text x="65.35" y="662.55" font-size="9.5" font-weight="bold" text-anchor="middle" fill="#1c1c1c" stroke="#1c1c1c" stroke-width="0.18">**</text>
<text x="54.6" y="754.71" font-size="8.7" text-anchor="middle" fill="#1c1c1c" stroke="#1c1c1c" stroke-width="0.3">Pre</text>
<text x="77.2" y="754.71" font-size="8.7" text-anchor="middle" fill="#1c1c1c" stroke="#1c1c1c" stroke-width="0.3">Post</text>
<text x="21" y="707.82" font-size="7.9" text-anchor="middle" fill="#1c1c1c" stroke="#1c1c1c" stroke-width="0.3" transform="rotate(-90 21 705)">% of CD3<tspan font-size="4.9" dy="-3.16">+</tspan><tspan dy="3.16">CD8</tspan><tspan font-size="4.9" dy="-3.16">+</tspan><tspan dy="3.16"> T cells</tspan></text>
<line x1="127" y1="666.8" x2="127" y2="743.5" stroke="#2a2a2a" stroke-width="0.9"/>
<line x1="127" y1="743.5" x2="179" y2="743.5" stroke="#2a2a2a" stroke-width="0.9"/>
<line x1="124.4" y1="743.5" x2="127" y2="743.5" stroke="#2a2a2a" stroke-width="0.9"/>
<text x="124.2" y="746" font-size="7" text-anchor="end" fill="#1c1c1c" stroke="#1c1c1c" stroke-width="0.3">0</text>
<line x1="124.4" y1="718.1" x2="127" y2="718.1" stroke="#2a2a2a" stroke-width="0.9"/>
<text x="124.2" y="720.6" font-size="7" text-anchor="end" fill="#1c1c1c" stroke="#1c1c1c" stroke-width="0.3">10</text>
<line x1="124.4" y1="692.7" x2="127" y2="692.7" stroke="#2a2a2a" stroke-width="0.9"/>
<text x="124.2" y="695.2" font-size="7" text-anchor="end" fill="#1c1c1c" stroke="#1c1c1c" stroke-width="0.3">20</text>
<line x1="124.4" y1="667.3" x2="127" y2="667.3" stroke="#2a2a2a" stroke-width="0.9"/>
<text x="124.2" y="669.8" font-size="7" text-anchor="end" fill="#1c1c1c" stroke="#1c1c1c" stroke-width="0.3">30</text>
<line x1="142" y1="743.5" x2="142" y2="746" stroke="#2a2a2a" stroke-width="0.9"/>
<line x1="163.9" y1="743.5" x2="163.9" y2="746" stroke="#2a2a2a" stroke-width="0.9"/>
<line x1="142" y1="678.22" x2="163.9" y2="742.23" stroke="#1a1a1a" stroke-width="0.85"/>
<line x1="142" y1="692.95" x2="163.9" y2="692.95" stroke="#1a1a1a" stroke-width="0.85"/>
<line x1="142" y1="694.48" x2="163.9" y2="736.13" stroke="#1a1a1a" stroke-width="0.85"/>
<line x1="142" y1="706.67" x2="163.9" y2="726.48" stroke="#1a1a1a" stroke-width="0.85"/>
<line x1="142" y1="714.54" x2="163.9" y2="734.36" stroke="#1a1a1a" stroke-width="0.85"/>
<line x1="142" y1="718.1" x2="163.9" y2="714.04" stroke="#1a1a1a" stroke-width="0.85"/>
<line x1="142" y1="718.86" x2="163.9" y2="729.78" stroke="#1a1a1a" stroke-width="0.85"/>
<line x1="142" y1="720.64" x2="163.9" y2="738.67" stroke="#1a1a1a" stroke-width="0.85"/>
<line x1="142" y1="722.16" x2="163.9" y2="741.21" stroke="#1a1a1a" stroke-width="0.85"/>
<line x1="142" y1="723.94" x2="163.9" y2="742.48" stroke="#1a1a1a" stroke-width="0.85"/>
<line x1="142" y1="724.96" x2="163.9" y2="742.23" stroke="#1a1a1a" stroke-width="0.85"/>
<line x1="142" y1="731.82" x2="163.9" y2="742.74" stroke="#1a1a1a" stroke-width="0.85"/>
<line x1="142" y1="737.91" x2="163.9" y2="742.99" stroke="#1a1a1a" stroke-width="0.85"/>
<line x1="142" y1="740.45" x2="163.9" y2="743.25" stroke="#1a1a1a" stroke-width="0.85"/>
<line x1="142" y1="742.23" x2="163.9" y2="742.74" stroke="#1a1a1a" stroke-width="0.85"/>
<line x1="142" y1="742.99" x2="163.9" y2="743.25" stroke="#1a1a1a" stroke-width="0.85"/>
<circle cx="142" cy="678.22" r="1.4" fill="#111"/>
<circle cx="163.9" cy="742.23" r="1.4" fill="#111"/>
<circle cx="142" cy="692.95" r="1.4" fill="#111"/>
<circle cx="163.9" cy="692.95" r="1.4" fill="#111"/>
<circle cx="142" cy="694.48" r="1.4" fill="#111"/>
<circle cx="163.9" cy="736.13" r="1.4" fill="#111"/>
<circle cx="142" cy="706.67" r="1.4" fill="#111"/>
<circle cx="163.9" cy="726.48" r="1.4" fill="#111"/>
<circle cx="142" cy="714.54" r="1.4" fill="#111"/>
<circle cx="163.9" cy="734.36" r="1.4" fill="#111"/>
<circle cx="142" cy="718.1" r="1.4" fill="#111"/>
<circle cx="163.9" cy="714.04" r="1.4" fill="#111"/>
<circle cx="142" cy="718.86" r="1.4" fill="#111"/>
<circle cx="163.9" cy="729.78" r="1.4" fill="#111"/>
<circle cx="142" cy="720.64" r="1.4" fill="#111"/>
<circle cx="163.9" cy="738.67" r="1.4" fill="#111"/>
<circle cx="142" cy="722.16" r="1.4" fill="#111"/>
<circle cx="163.9" cy="741.21" r="1.4" fill="#111"/>
<circle cx="142" cy="723.94" r="1.4" fill="#111"/>
<circle cx="163.9" cy="742.48" r="1.4" fill="#111"/>
<circle cx="142" cy="724.96" r="1.4" fill="#111"/>
<circle cx="163.9" cy="742.23" r="1.4" fill="#111"/>
<circle cx="142" cy="731.82" r="1.4" fill="#111"/>
<circle cx="163.9" cy="742.74" r="1.4" fill="#111"/>
<circle cx="142" cy="737.91" r="1.4" fill="#111"/>
<circle cx="163.9" cy="742.99" r="1.4" fill="#111"/>
<circle cx="142" cy="740.45" r="1.4" fill="#111"/>
<circle cx="163.9" cy="743.25" r="1.4" fill="#111"/>
<circle cx="142" cy="742.23" r="1.4" fill="#111"/>
<circle cx="163.9" cy="742.74" r="1.4" fill="#111"/>
<circle cx="142" cy="742.99" r="1.4" fill="#111"/>
<circle cx="163.9" cy="743.25" r="1.4" fill="#111"/>
<polyline points="142,667.7 142,662.5 163.9,662.5 163.9,681.5" fill="none" stroke="#333" stroke-width="0.8"/>
<text x="152.95" y="663.65" font-size="9.5" font-weight="bold" text-anchor="middle" fill="#1c1c1c" stroke="#1c1c1c" stroke-width="0.18">***</text>
<text x="142" y="754.71" font-size="8.7" text-anchor="middle" fill="#1c1c1c" stroke="#1c1c1c" stroke-width="0.3">Pre</text>
<text x="164.5" y="754.71" font-size="8.7" text-anchor="middle" fill="#1c1c1c" stroke="#1c1c1c" stroke-width="0.3">Post</text>
<text x="108.3" y="709.93" font-size="8.2" text-anchor="middle" fill="#1c1c1c" stroke="#1c1c1c" stroke-width="0.3" transform="rotate(-90 108.3 707)">% of CD3<tspan font-size="5.08" dy="-3.28">+</tspan><tspan dy="3.28">PD-1</tspan><tspan font-size="5.08" dy="-3.28">+</tspan><tspan dy="3.28"> cells</tspan></text>
<line x1="39.1" y1="785.88" x2="39.1" y2="860.9" stroke="#2a2a2a" stroke-width="0.9"/>
<line x1="39.1" y1="860.9" x2="96.3" y2="860.9" stroke="#2a2a2a" stroke-width="0.9"/>
<line x1="36.5" y1="860.9" x2="39.1" y2="860.9" stroke="#2a2a2a" stroke-width="0.9"/>
<text x="36.3" y="863.4" font-size="7" text-anchor="end" fill="#1c1c1c" stroke="#1c1c1c" stroke-width="0.3">0</text>
<line x1="36.5" y1="836.06" x2="39.1" y2="836.06" stroke="#2a2a2a" stroke-width="0.9"/>
<text x="36.3" y="838.56" font-size="7" text-anchor="end" fill="#1c1c1c" stroke="#1c1c1c" stroke-width="0.3">20</text>
<line x1="36.5" y1="811.22" x2="39.1" y2="811.22" stroke="#2a2a2a" stroke-width="0.9"/>
<text x="36.3" y="813.72" font-size="7" text-anchor="end" fill="#1c1c1c" stroke="#1c1c1c" stroke-width="0.3">40</text>
<line x1="36.5" y1="786.38" x2="39.1" y2="786.38" stroke="#2a2a2a" stroke-width="0.9"/>
<text x="36.3" y="788.88" font-size="7" text-anchor="end" fill="#1c1c1c" stroke="#1c1c1c" stroke-width="0.3">60</text>
<line x1="56.8" y1="860.9" x2="56.8" y2="863.4" stroke="#2a2a2a" stroke-width="0.9"/>
<line x1="80.9" y1="860.9" x2="80.9" y2="863.4" stroke="#2a2a2a" stroke-width="0.9"/>
<rect x="49.1" y="835.07" width="15.4" height="25.83" fill="#4b4b4b" stroke="#222" stroke-width="0.6"/>
<circle cx="58.15" cy="817.43" r="1.35" fill="#111"/>
<circle cx="59.46" cy="822.4" r="1.35" fill="#111"/>
<circle cx="60.05" cy="826.12" r="1.35" fill="#111"/>
<circle cx="61.67" cy="827.37" r="1.35" fill="#111"/>
<circle cx="59.44" cy="828.61" r="1.35" fill="#111"/>
<circle cx="61.45" cy="829.85" r="1.35" fill="#111"/>
<circle cx="51.62" cy="831.09" r="1.35" fill="#111"/>
<circle cx="56.42" cy="832.95" r="1.35" fill="#111"/>
<circle cx="61.68" cy="834.82" r="1.35" fill="#111"/>
<circle cx="58.44" cy="839.79" r="1.35" fill="#111"/>
<circle cx="61.21" cy="844.75" r="1.35" fill="#111"/>
<circle cx="52.55" cy="846" r="1.35" fill="#111"/>
<circle cx="56.46" cy="853.45" r="1.35" fill="#111"/>
<circle cx="54.01" cy="854.69" r="1.35" fill="#111"/>
<circle cx="57.28" cy="855.93" r="1.35" fill="#111"/>
<circle cx="57.61" cy="857.17" r="1.35" fill="#111"/>
<line x1="56.8" y1="822.4" x2="56.8" y2="846.87" stroke="#111" stroke-width="0.9"/>
<line x1="53.6" y1="822.4" x2="60" y2="822.4" stroke="#111" stroke-width="0.9"/>
<line x1="53.6" y1="846.87" x2="60" y2="846.87" stroke="#111" stroke-width="0.9"/>
<rect x="73" y="821.78" width="15.8" height="39.12" fill="#c4705d" stroke="#222" stroke-width="0.6"/>
<circle cx="75.54" cy="792.59" r="1.35" fill="#111"/>
<circle cx="77.78" cy="796.32" r="1.35" fill="#111"/>
<circle cx="78.47" cy="800.04" r="1.35" fill="#111"/>
<circle cx="85.48" cy="816.19" r="1.35" fill="#111"/>
<circle cx="83.82" cy="818.67" r="1.35" fill="#111"/>
<circle cx="77.16" cy="849.72" r="1.35" fill="#111"/>
<circle cx="84.17" cy="831.09" r="1.35" fill="#111"/>
<circle cx="76.93" cy="834.82" r="1.35" fill="#111"/>
<circle cx="82.19" cy="814.95" r="1.35" fill="#111"/>
<circle cx="76.79" cy="813.7" r="1.35" fill="#111"/>
<circle cx="75.42" cy="843.51" r="1.35" fill="#111"/>
<circle cx="84.99" cy="849.72" r="1.35" fill="#111"/>
<circle cx="77.7" cy="854.69" r="1.35" fill="#111"/>
<circle cx="77.77" cy="816.19" r="1.35" fill="#111"/>
<circle cx="86.21" cy="854.69" r="1.35" fill="#111"/>
<circle cx="85" cy="854.69" r="1.35" fill="#111"/>
<line x1="80.9" y1="798.92" x2="80.9" y2="843.64" stroke="#111" stroke-width="0.9"/>
<line x1="77.7" y1="798.92" x2="84.1" y2="798.92" stroke="#111" stroke-width="0.9"/>
<line x1="77.7" y1="843.64" x2="84.1" y2="843.64" stroke="#111" stroke-width="0.9"/>
<polyline points="56.8,792.8 56.8,781.8 80.9,781.8 80.9,785" fill="none" stroke="#333" stroke-width="0.8"/>
<text x="68.85" y="782.05" font-size="9.5" font-weight="bold" text-anchor="middle" fill="#1c1c1c" stroke="#1c1c1c" stroke-width="0.18">*</text>
<text x="56" y="871.41" font-size="8.7" text-anchor="middle" fill="#1c1c1c" stroke="#1c1c1c" stroke-width="0.3">Pre</text>
<text x="78.3" y="871.41" font-size="8.7" text-anchor="middle" fill="#1c1c1c" stroke="#1c1c1c" stroke-width="0.3">Post</text>
<text x="19.2" y="827.43" font-size="8.2" text-anchor="middle" fill="#1c1c1c" stroke="#1c1c1c" stroke-width="0.3" transform="rotate(-90 19.2 824.5)">% of CD3<tspan font-size="5.08" dy="-3.28">+</tspan><tspan dy="3.28">CD8</tspan><tspan font-size="5.08" dy="-3.28">+</tspan><tspan dy="3.28"> T cells</tspan></text>
<line x1="128.7" y1="785.79" x2="128.7" y2="860" stroke="#2a2a2a" stroke-width="0.9"/>
<line x1="128.7" y1="860" x2="185" y2="860" stroke="#2a2a2a" stroke-width="0.9"/>
<line x1="126.1" y1="860" x2="128.7" y2="860" stroke="#2a2a2a" stroke-width="0.9"/>
<text x="125.9" y="862.5" font-size="7" text-anchor="end" fill="#1c1c1c" stroke="#1c1c1c" stroke-width="0.3">0</text>
<line x1="126.1" y1="835.43" x2="128.7" y2="835.43" stroke="#2a2a2a" stroke-width="0.9"/>
<text x="125.9" y="837.93" font-size="7" text-anchor="end" fill="#1c1c1c" stroke="#1c1c1c" stroke-width="0.3">10</text>
<line x1="126.1" y1="810.86" x2="128.7" y2="810.86" stroke="#2a2a2a" stroke-width="0.9"/>
<text x="125.9" y="813.36" font-size="7" text-anchor="end" fill="#1c1c1c" stroke="#1c1c1c" stroke-width="0.3">20</text>
<line x1="126.1" y1="786.29" x2="128.7" y2="786.29" stroke="#2a2a2a" stroke-width="0.9"/>
<text x="125.9" y="788.79" font-size="7" text-anchor="end" fill="#1c1c1c" stroke="#1c1c1c" stroke-width="0.3">30</text>
<line x1="145.2" y1="860" x2="145.2" y2="862.5" stroke="#2a2a2a" stroke-width="0.9"/>
<line x1="169.6" y1="860" x2="169.6" y2="862.5" stroke="#2a2a2a" stroke-width="0.9"/>
<rect x="137.4" y="837.4" width="15.6" height="22.6" fill="#4b4b4b" stroke="#222" stroke-width="0.6"/>
<circle cx="142.88" cy="796.86" r="1.35" fill="#111"/>
<circle cx="150.28" cy="811.11" r="1.35" fill="#111"/>
<circle cx="145.63" cy="812.58" r="1.35" fill="#111"/>
<circle cx="147.16" cy="824.37" r="1.35" fill="#111"/>
<circle cx="141.95" cy="831.99" r="1.35" fill="#111"/>
<circle cx="150.05" cy="835.43" r="1.35" fill="#111"/>
<circle cx="147.3" cy="836.17" r="1.35" fill="#111"/>
<circle cx="150.33" cy="837.89" r="1.35" fill="#111"/>
<circle cx="149.53" cy="839.36" r="1.35" fill="#111"/>
<circle cx="142.99" cy="841.08" r="1.35" fill="#111"/>
<circle cx="143.67" cy="842.06" r="1.35" fill="#111"/>
<circle cx="141.53" cy="848.7" r="1.35" fill="#111"/>
<circle cx="141.3" cy="854.59" r="1.35" fill="#111"/>
<circle cx="140.42" cy="857.05" r="1.35" fill="#111"/>
<circle cx="143.01" cy="858.77" r="1.35" fill="#111"/>
<circle cx="146.33" cy="859.51" r="1.35" fill="#111"/>
<line x1="145.2" y1="819.71" x2="145.2" y2="854.35" stroke="#111" stroke-width="0.9"/>
<line x1="142" y1="819.71" x2="148.4" y2="819.71" stroke="#111" stroke-width="0.9"/>
<line x1="142" y1="854.35" x2="148.4" y2="854.35" stroke="#111" stroke-width="0.9"/>
<rect x="161.6" y="852.87" width="16.1" height="7.13" fill="#c4705d" stroke="#222" stroke-width="0.6"/>
<circle cx="164.19" cy="858.77" r="1.35" fill="#111"/>
<circle cx="171.61" cy="811.11" r="1.35" fill="#111"/>
<circle cx="167.87" cy="852.87" r="1.35" fill="#111"/>
<circle cx="167.56" cy="843.54" r="1.35" fill="#111"/>
<circle cx="173.15" cy="851.15" r="1.35" fill="#111"/>
<circle cx="169.44" cy="831.5" r="1.35" fill="#111"/>
<circle cx="167.62" cy="846.73" r="1.35" fill="#111"/>
<circle cx="169.44" cy="855.33" r="1.35" fill="#111"/>
<circle cx="171.9" cy="857.79" r="1.35" fill="#111"/>
<circle cx="164.78" cy="859.02" r="1.35" fill="#111"/>
<circle cx="174.88" cy="858.77" r="1.35" fill="#111"/>
<circle cx="164.4" cy="859.26" r="1.35" fill="#111"/>
<circle cx="172.4" cy="859.51" r="1.35" fill="#111"/>
<circle cx="173.44" cy="859.75" r="1.35" fill="#111"/>
<circle cx="164.35" cy="859.26" r="1.35" fill="#111"/>
<circle cx="172.82" cy="859.75" r="1.35" fill="#111"/>
<line x1="169.65" y1="839.61" x2="169.65" y2="860" stroke="#111" stroke-width="0.9"/>
<line x1="166.45" y1="839.61" x2="172.85" y2="839.61" stroke="#111" stroke-width="0.9"/>
<line x1="166.45" y1="860" x2="172.85" y2="860" stroke="#111" stroke-width="0.9"/>
<polyline points="145.2,787.7 145.2,782.5 169.6,782.5 169.6,801.5" fill="none" stroke="#333" stroke-width="0.8"/>
<text x="157.4" y="783.25" font-size="9.5" font-weight="bold" text-anchor="middle" fill="#1c1c1c" stroke="#1c1c1c" stroke-width="0.18">**</text>
<text x="145.2" y="871.31" font-size="8.7" text-anchor="middle" fill="#1c1c1c" stroke="#1c1c1c" stroke-width="0.3">Pre</text>
<text x="169.4" y="871.31" font-size="8.7" text-anchor="middle" fill="#1c1c1c" stroke="#1c1c1c" stroke-width="0.3">Post</text>
<text x="111.2" y="826.93" font-size="8.2" text-anchor="middle" fill="#1c1c1c" stroke="#1c1c1c" stroke-width="0.3" transform="rotate(-90 111.2 824)">% of CD3<tspan font-size="5.08" dy="-3.28">+</tspan><tspan dy="3.28">PD-1</tspan><tspan font-size="5.08" dy="-3.28">+</tspan><tspan dy="3.28"> cells</tspan></text>
<text x="226" y="651.8" font-size="13.2" font-weight="bold" fill="#111" stroke="#111" stroke-width="0.18">F</text>
<line x1="257.4" y1="666.9" x2="257.4" y2="742.1" stroke="#2a2a2a" stroke-width="0.9"/>
<line x1="257.4" y1="742.1" x2="320" y2="742.1" stroke="#2a2a2a" stroke-width="0.9"/>
<line x1="254.8" y1="742.1" x2="257.4" y2="742.1" stroke="#2a2a2a" stroke-width="0.9"/>
<text x="254.6" y="744.6" font-size="7" text-anchor="end" fill="#1c1c1c" stroke="#1c1c1c" stroke-width="0.3">0</text>
<line x1="254.8" y1="717.2" x2="257.4" y2="717.2" stroke="#2a2a2a" stroke-width="0.9"/>
<text x="254.6" y="719.7" font-size="7" text-anchor="end" fill="#1c1c1c" stroke="#1c1c1c" stroke-width="0.3">20</text>
<line x1="254.8" y1="692.3" x2="257.4" y2="692.3" stroke="#2a2a2a" stroke-width="0.9"/>
<text x="254.6" y="694.8" font-size="7" text-anchor="end" fill="#1c1c1c" stroke="#1c1c1c" stroke-width="0.3">40</text>
<line x1="254.8" y1="667.4" x2="257.4" y2="667.4" stroke="#2a2a2a" stroke-width="0.9"/>
<text x="254.6" y="669.9" font-size="7" text-anchor="end" fill="#1c1c1c" stroke="#1c1c1c" stroke-width="0.3">60</text>
<line x1="276" y1="742.1" x2="276" y2="744.6" stroke="#2a2a2a" stroke-width="0.9"/>
<line x1="302.8" y1="742.1" x2="302.8" y2="744.6" stroke="#2a2a2a" stroke-width="0.9"/>
<line x1="276" y1="687.57" x2="302.8" y2="703.75" stroke="#1a1a1a" stroke-width="0.85"/>
<line x1="276" y1="700.77" x2="302.8" y2="723.92" stroke="#1a1a1a" stroke-width="0.85"/>
<line x1="276" y1="706.74" x2="302.8" y2="691.68" stroke="#1a1a1a" stroke-width="0.85"/>
<line x1="276" y1="708.49" x2="302.8" y2="710.85" stroke="#1a1a1a" stroke-width="0.85"/>
<line x1="276" y1="710.85" x2="302.8" y2="693.67" stroke="#1a1a1a" stroke-width="0.85"/>
<line x1="276" y1="712.84" x2="302.8" y2="725.91" stroke="#1a1a1a" stroke-width="0.85"/>
<line x1="276" y1="715.96" x2="302.8" y2="726.91" stroke="#1a1a1a" stroke-width="0.85"/>
<line x1="276" y1="716.83" x2="302.8" y2="714.83" stroke="#1a1a1a" stroke-width="0.85"/>
<line x1="276" y1="729.03" x2="302.8" y2="679.6" stroke="#1a1a1a" stroke-width="0.85"/>
<line x1="276" y1="730.02" x2="302.8" y2="695.66" stroke="#1a1a1a" stroke-width="0.85"/>
<line x1="276" y1="731.02" x2="302.8" y2="685.58" stroke="#1a1a1a" stroke-width="0.85"/>
<line x1="276" y1="733.01" x2="302.8" y2="697.65" stroke="#1a1a1a" stroke-width="0.85"/>
<line x1="276" y1="734.01" x2="302.8" y2="716.83" stroke="#1a1a1a" stroke-width="0.85"/>
<line x1="276" y1="735" x2="302.8" y2="718.94" stroke="#1a1a1a" stroke-width="0.85"/>
<line x1="276" y1="735.88" x2="302.8" y2="725.91" stroke="#1a1a1a" stroke-width="0.85"/>
<line x1="276" y1="737.12" x2="302.8" y2="730.02" stroke="#1a1a1a" stroke-width="0.85"/>
<line x1="276" y1="740.73" x2="302.8" y2="734.63" stroke="#1a1a1a" stroke-width="0.85"/>
<line x1="276" y1="717.82" x2="302.8" y2="730.02" stroke="#1a1a1a" stroke-width="0.85"/>
<circle cx="276" cy="687.57" r="1.25" fill="#111"/>
<circle cx="302.8" cy="703.75" r="1.25" fill="#111"/>
<circle cx="276" cy="700.77" r="1.25" fill="#111"/>
<circle cx="302.8" cy="723.92" r="1.25" fill="#111"/>
<circle cx="276" cy="706.74" r="1.25" fill="#111"/>
<circle cx="302.8" cy="691.68" r="1.25" fill="#111"/>
<circle cx="276" cy="708.49" r="1.25" fill="#111"/>
<circle cx="302.8" cy="710.85" r="1.25" fill="#111"/>
<circle cx="276" cy="710.85" r="1.25" fill="#111"/>
<circle cx="302.8" cy="693.67" r="1.25" fill="#111"/>
<circle cx="276" cy="712.84" r="1.25" fill="#111"/>
<circle cx="302.8" cy="725.91" r="1.25" fill="#111"/>
<circle cx="276" cy="715.96" r="1.25" fill="#111"/>
<circle cx="302.8" cy="726.91" r="1.25" fill="#111"/>
<circle cx="276" cy="716.83" r="1.25" fill="#111"/>
<circle cx="302.8" cy="714.83" r="1.25" fill="#111"/>
<circle cx="276" cy="729.03" r="1.25" fill="#111"/>
<circle cx="302.8" cy="679.6" r="1.25" fill="#111"/>
<circle cx="276" cy="730.02" r="1.25" fill="#111"/>
<circle cx="302.8" cy="695.66" r="1.25" fill="#111"/>
<circle cx="276" cy="731.02" r="1.25" fill="#111"/>
<circle cx="302.8" cy="685.58" r="1.25" fill="#111"/>
<circle cx="276" cy="733.01" r="1.25" fill="#111"/>
<circle cx="302.8" cy="697.65" r="1.25" fill="#111"/>
<circle cx="276" cy="734.01" r="1.25" fill="#111"/>
<circle cx="302.8" cy="716.83" r="1.25" fill="#111"/>
<circle cx="276" cy="735" r="1.25" fill="#111"/>
<circle cx="302.8" cy="718.94" r="1.25" fill="#111"/>
<circle cx="276" cy="735.88" r="1.25" fill="#111"/>
<circle cx="302.8" cy="725.91" r="1.25" fill="#111"/>
<circle cx="276" cy="737.12" r="1.25" fill="#111"/>
<circle cx="302.8" cy="730.02" r="1.25" fill="#111"/>
<circle cx="276" cy="740.73" r="1.25" fill="#111"/>
<circle cx="302.8" cy="734.63" r="1.25" fill="#111"/>
<circle cx="276" cy="717.82" r="1.25" fill="#111"/>
<circle cx="302.8" cy="730.02" r="1.25" fill="#111"/>
<text x="289.7" y="652.7" font-size="7" text-anchor="middle" fill="#1c1c1c" stroke="#1c1c1c" stroke-width="0.3">IFNγ</text>
<polyline points="276,676.8 276,666 302.8,666 302.8,670.4" fill="none" stroke="#333" stroke-width="0.8"/>
<text x="289.4" y="666.25" font-size="9.5" font-weight="bold" text-anchor="middle" fill="#1c1c1c" stroke="#1c1c1c" stroke-width="0.18">*</text>
<text x="276" y="752.43" font-size="8.5" text-anchor="middle" fill="#1c1c1c" stroke="#1c1c1c" stroke-width="0.3">Pre</text>
<text x="302.8" y="752.43" font-size="8.5" text-anchor="middle" fill="#1c1c1c" stroke="#1c1c1c" stroke-width="0.3">Post</text>
<text x="236.2" y="708.16" font-size="6.9" text-anchor="middle" fill="#1c1c1c" stroke="#1c1c1c" stroke-width="0.3" transform="rotate(-90 236.2 705.7)">Cytokine level (pg/mL)</text>
<line x1="351.4" y1="667.5" x2="351.4" y2="742.1" stroke="#2a2a2a" stroke-width="0.9"/>
<line x1="351.4" y1="742.1" x2="414" y2="742.1" stroke="#2a2a2a" stroke-width="0.9"/>
<line x1="348.8" y1="742.1" x2="351.4" y2="742.1" stroke="#2a2a2a" stroke-width="0.9"/>
<text x="348.6" y="744.6" font-size="7" text-anchor="end" fill="#1c1c1c" stroke="#1c1c1c" stroke-width="0.3">0</text>
<line x1="348.8" y1="723.58" x2="351.4" y2="723.58" stroke="#2a2a2a" stroke-width="0.9"/>
<text x="348.6" y="726.07" font-size="7" text-anchor="end" fill="#1c1c1c" stroke="#1c1c1c" stroke-width="0.3">5</text>
<line x1="348.8" y1="705.05" x2="351.4" y2="705.05" stroke="#2a2a2a" stroke-width="0.9"/>
<text x="348.6" y="707.55" font-size="7" text-anchor="end" fill="#1c1c1c" stroke="#1c1c1c" stroke-width="0.3">10</text>
<line x1="348.8" y1="686.52" x2="351.4" y2="686.52" stroke="#2a2a2a" stroke-width="0.9"/>
<text x="348.6" y="689.02" font-size="7" text-anchor="end" fill="#1c1c1c" stroke="#1c1c1c" stroke-width="0.3">15</text>
<line x1="348.8" y1="668" x2="351.4" y2="668" stroke="#2a2a2a" stroke-width="0.9"/>
<text x="348.6" y="670.5" font-size="7" text-anchor="end" fill="#1c1c1c" stroke="#1c1c1c" stroke-width="0.3">20</text>
<line x1="369.6" y1="742.1" x2="369.6" y2="744.6" stroke="#2a2a2a" stroke-width="0.9"/>
<line x1="396.4" y1="742.1" x2="396.4" y2="744.6" stroke="#2a2a2a" stroke-width="0.9"/>
<line x1="369.6" y1="682.82" x2="396.4" y2="694.31" stroke="#1a1a1a" stroke-width="0.85"/>
<line x1="369.6" y1="693.19" x2="396.4" y2="740.25" stroke="#1a1a1a" stroke-width="0.85"/>
<line x1="369.6" y1="709.5" x2="396.4" y2="701.72" stroke="#1a1a1a" stroke-width="0.85"/>
<line x1="369.6" y1="710.24" x2="396.4" y2="726.91" stroke="#1a1a1a" stroke-width="0.85"/>
<line x1="369.6" y1="718.02" x2="396.4" y2="718.76" stroke="#1a1a1a" stroke-width="0.85"/>
<line x1="369.6" y1="727.65" x2="396.4" y2="732.84" stroke="#1a1a1a" stroke-width="0.85"/>
<line x1="369.6" y1="729.13" x2="396.4" y2="729.5" stroke="#1a1a1a" stroke-width="0.85"/>
<line x1="369.6" y1="728.39" x2="396.4" y2="726.91" stroke="#1a1a1a" stroke-width="0.85"/>
<line x1="369.6" y1="730.99" x2="396.4" y2="740.99" stroke="#1a1a1a" stroke-width="0.85"/>
<line x1="369.6" y1="733.95" x2="396.4" y2="736.17" stroke="#1a1a1a" stroke-width="0.85"/>
<line x1="369.6" y1="734.69" x2="396.4" y2="738.02" stroke="#1a1a1a" stroke-width="0.85"/>
<line x1="369.6" y1="736.91" x2="396.4" y2="738.02" stroke="#1a1a1a" stroke-width="0.85"/>
<line x1="369.6" y1="739.14" x2="396.4" y2="740.25" stroke="#1a1a1a" stroke-width="0.85"/>
<line x1="369.6" y1="740.62" x2="396.4" y2="740.99" stroke="#1a1a1a" stroke-width="0.85"/>
<line x1="369.6" y1="739.88" x2="396.4" y2="741.36" stroke="#1a1a1a" stroke-width="0.85"/>
<line x1="369.6" y1="738.39" x2="396.4" y2="731.36" stroke="#1a1a1a" stroke-width="0.85"/>
<circle cx="369.6" cy="682.82" r="1.25" fill="#111"/>
<circle cx="396.4" cy="694.31" r="1.25" fill="#111"/>
<circle cx="369.6" cy="693.19" r="1.25" fill="#111"/>
<circle cx="396.4" cy="740.25" r="1.25" fill="#111"/>
<circle cx="369.6" cy="709.5" r="1.25" fill="#111"/>
<circle cx="396.4" cy="701.72" r="1.25" fill="#111"/>
<circle cx="369.6" cy="710.24" r="1.25" fill="#111"/>
<circle cx="396.4" cy="726.91" r="1.25" fill="#111"/>
<circle cx="369.6" cy="718.02" r="1.25" fill="#111"/>
<circle cx="396.4" cy="718.76" r="1.25" fill="#111"/>
<circle cx="369.6" cy="727.65" r="1.25" fill="#111"/>
<circle cx="396.4" cy="732.84" r="1.25" fill="#111"/>
<circle cx="369.6" cy="729.13" r="1.25" fill="#111"/>
<circle cx="396.4" cy="729.5" r="1.25" fill="#111"/>
<circle cx="369.6" cy="728.39" r="1.25" fill="#111"/>
<circle cx="396.4" cy="726.91" r="1.25" fill="#111"/>
<circle cx="369.6" cy="730.99" r="1.25" fill="#111"/>
<circle cx="396.4" cy="740.99" r="1.25" fill="#111"/>
<circle cx="369.6" cy="733.95" r="1.25" fill="#111"/>
<circle cx="396.4" cy="736.17" r="1.25" fill="#111"/>
<circle cx="369.6" cy="734.69" r="1.25" fill="#111"/>
<circle cx="396.4" cy="738.02" r="1.25" fill="#111"/>
<circle cx="369.6" cy="736.91" r="1.25" fill="#111"/>
<circle cx="396.4" cy="738.02" r="1.25" fill="#111"/>
<circle cx="369.6" cy="739.14" r="1.25" fill="#111"/>
<circle cx="396.4" cy="740.25" r="1.25" fill="#111"/>
<circle cx="369.6" cy="740.62" r="1.25" fill="#111"/>
<circle cx="396.4" cy="740.99" r="1.25" fill="#111"/>
<circle cx="369.6" cy="739.88" r="1.25" fill="#111"/>
<circle cx="396.4" cy="741.36" r="1.25" fill="#111"/>
<circle cx="369.6" cy="738.39" r="1.25" fill="#111"/>
<circle cx="396.4" cy="731.36" r="1.25" fill="#111"/>
<text x="382.7" y="650.7" font-size="7" text-anchor="middle" fill="#1c1c1c" stroke="#1c1c1c" stroke-width="0.3">IL6</text>
<polyline points="369.6,669.4 369.6,664.3 396.4,664.3 396.4,680.5" fill="none" stroke="#333" stroke-width="0.8"/>
<text x="383" y="664.25" font-size="9.5" font-weight="bold" text-anchor="middle" fill="#1c1c1c" stroke="#1c1c1c" stroke-width="0.18">*</text>
<text x="369.6" y="752.43" font-size="8.5" text-anchor="middle" fill="#1c1c1c" stroke="#1c1c1c" stroke-width="0.3">Pre</text>
<text x="396.4" y="752.43" font-size="8.5" text-anchor="middle" fill="#1c1c1c" stroke="#1c1c1c" stroke-width="0.3">Post</text>
<text x="330.8" y="708.16" font-size="6.9" text-anchor="middle" fill="#1c1c1c" stroke="#1c1c1c" stroke-width="0.3" transform="rotate(-90 330.8 705.7)">Cytokine level (pg/mL)</text>
<line x1="447" y1="667.5" x2="447" y2="742.3" stroke="#2a2a2a" stroke-width="0.9"/>
<line x1="447" y1="742.3" x2="510" y2="742.3" stroke="#2a2a2a" stroke-width="0.9"/>
<line x1="444.4" y1="742.3" x2="447" y2="742.3" stroke="#2a2a2a" stroke-width="0.9"/>
<text x="444.2" y="744.8" font-size="7" text-anchor="end" fill="#1c1c1c" stroke="#1c1c1c" stroke-width="0.3">0</text>
<line x1="444.4" y1="727.44" x2="447" y2="727.44" stroke="#2a2a2a" stroke-width="0.9"/>
<text x="444.2" y="729.94" font-size="7" text-anchor="end" fill="#1c1c1c" stroke="#1c1c1c" stroke-width="0.3">50</text>
<line x1="444.4" y1="712.58" x2="447" y2="712.58" stroke="#2a2a2a" stroke-width="0.9"/>
<text x="444.2" y="715.08" font-size="7" text-anchor="end" fill="#1c1c1c" stroke="#1c1c1c" stroke-width="0.3">100</text>
<line x1="444.4" y1="697.72" x2="447" y2="697.72" stroke="#2a2a2a" stroke-width="0.9"/>
<text x="444.2" y="700.22" font-size="7" text-anchor="end" fill="#1c1c1c" stroke="#1c1c1c" stroke-width="0.3">150</text>
<line x1="444.4" y1="682.86" x2="447" y2="682.86" stroke="#2a2a2a" stroke-width="0.9"/>
<text x="444.2" y="685.36" font-size="7" text-anchor="end" fill="#1c1c1c" stroke="#1c1c1c" stroke-width="0.3">200</text>
<line x1="444.4" y1="668" x2="447" y2="668" stroke="#2a2a2a" stroke-width="0.9"/>
<text x="444.2" y="670.5" font-size="7" text-anchor="end" fill="#1c1c1c" stroke="#1c1c1c" stroke-width="0.3">250</text>
<line x1="465.8" y1="742.3" x2="465.8" y2="744.8" stroke="#2a2a2a" stroke-width="0.9"/>
<line x1="493" y1="742.3" x2="493" y2="744.8" stroke="#2a2a2a" stroke-width="0.9"/>
<line x1="465.8" y1="671.57" x2="493" y2="731.6" stroke="#1a1a1a" stroke-width="0.85"/>
<line x1="465.8" y1="696.83" x2="493" y2="733.98" stroke="#1a1a1a" stroke-width="0.85"/>
<line x1="465.8" y1="709.01" x2="493" y2="730.71" stroke="#1a1a1a" stroke-width="0.85"/>
<line x1="465.8" y1="718.52" x2="493" y2="728.33" stroke="#1a1a1a" stroke-width="0.85"/>
<line x1="465.8" y1="719.42" x2="493" y2="726.25" stroke="#1a1a1a" stroke-width="0.85"/>
<line x1="465.8" y1="722.98" x2="493" y2="735.76" stroke="#1a1a1a" stroke-width="0.85"/>
<line x1="465.8" y1="724.47" x2="493" y2="728.33" stroke="#1a1a1a" stroke-width="0.85"/>
<line x1="465.8" y1="727.44" x2="493" y2="731.6" stroke="#1a1a1a" stroke-width="0.85"/>
<line x1="465.8" y1="728.33" x2="493" y2="733.98" stroke="#1a1a1a" stroke-width="0.85"/>
<line x1="465.8" y1="731.6" x2="493" y2="730.71" stroke="#1a1a1a" stroke-width="0.85"/>
<line x1="465.8" y1="732.79" x2="493" y2="735.76" stroke="#1a1a1a" stroke-width="0.85"/>
<line x1="465.8" y1="734.87" x2="493" y2="737.25" stroke="#1a1a1a" stroke-width="0.85"/>
<line x1="465.8" y1="737.25" x2="493" y2="735.76" stroke="#1a1a1a" stroke-width="0.85"/>
<line x1="465.8" y1="738.44" x2="493" y2="737.25" stroke="#1a1a1a" stroke-width="0.85"/>
<line x1="465.8" y1="739.33" x2="493" y2="735.76" stroke="#1a1a1a" stroke-width="0.85"/>
<line x1="465.8" y1="736.36" x2="493" y2="733.38" stroke="#1a1a1a" stroke-width="0.85"/>
<circle cx="465.8" cy="671.57" r="1.25" fill="#111"/>
<circle cx="493" cy="731.6" r="1.25" fill="#111"/>
<circle cx="465.8" cy="696.83" r="1.25" fill="#111"/>
<circle cx="493" cy="733.98" r="1.25" fill="#111"/>
<circle cx="465.8" cy="709.01" r="1.25" fill="#111"/>
<circle cx="493" cy="730.71" r="1.25" fill="#111"/>
<circle cx="465.8" cy="718.52" r="1.25" fill="#111"/>
<circle cx="493" cy="728.33" r="1.25" fill="#111"/>
<circle cx="465.8" cy="719.42" r="1.25" fill="#111"/>
<circle cx="493" cy="726.25" r="1.25" fill="#111"/>
<circle cx="465.8" cy="722.98" r="1.25" fill="#111"/>
<circle cx="493" cy="735.76" r="1.25" fill="#111"/>
<circle cx="465.8" cy="724.47" r="1.25" fill="#111"/>
<circle cx="493" cy="728.33" r="1.25" fill="#111"/>
<circle cx="465.8" cy="727.44" r="1.25" fill="#111"/>
<circle cx="493" cy="731.6" r="1.25" fill="#111"/>
<circle cx="465.8" cy="728.33" r="1.25" fill="#111"/>
<circle cx="493" cy="733.98" r="1.25" fill="#111"/>
<circle cx="465.8" cy="731.6" r="1.25" fill="#111"/>
<circle cx="493" cy="730.71" r="1.25" fill="#111"/>
<circle cx="465.8" cy="732.79" r="1.25" fill="#111"/>
<circle cx="493" cy="735.76" r="1.25" fill="#111"/>
<circle cx="465.8" cy="734.87" r="1.25" fill="#111"/>
<circle cx="493" cy="737.25" r="1.25" fill="#111"/>
<circle cx="465.8" cy="737.25" r="1.25" fill="#111"/>
<circle cx="493" cy="735.76" r="1.25" fill="#111"/>
<circle cx="465.8" cy="738.44" r="1.25" fill="#111"/>
<circle cx="493" cy="737.25" r="1.25" fill="#111"/>
<circle cx="465.8" cy="739.33" r="1.25" fill="#111"/>
<circle cx="493" cy="735.76" r="1.25" fill="#111"/>
<circle cx="465.8" cy="736.36" r="1.25" fill="#111"/>
<circle cx="493" cy="733.38" r="1.25" fill="#111"/>
<text x="479.7" y="650.2" font-size="7" text-anchor="middle" fill="#1c1c1c" stroke="#1c1c1c" stroke-width="0.3">IL16</text>
<polyline points="465.8,667.6 465.8,663.6 493,663.6 493,676.4" fill="none" stroke="#333" stroke-width="0.8"/>
<text x="479.4" y="663.25" font-size="9.5" font-weight="bold" text-anchor="middle" fill="#1c1c1c" stroke="#1c1c1c" stroke-width="0.18">*</text>
<text x="465.8" y="752.43" font-size="8.5" text-anchor="middle" fill="#1c1c1c" stroke="#1c1c1c" stroke-width="0.3">Pre</text>
<text x="493" y="752.43" font-size="8.5" text-anchor="middle" fill="#1c1c1c" stroke="#1c1c1c" stroke-width="0.3">Post</text>
<text x="424.2" y="707.66" font-size="6.9" text-anchor="middle" fill="#1c1c1c" stroke="#1c1c1c" stroke-width="0.3" transform="rotate(-90 424.2 705.2)">Cytokine level (pg/mL)</text>
<line x1="257.4" y1="783.7" x2="257.4" y2="859" stroke="#2a2a2a" stroke-width="0.9"/>
<line x1="257.4" y1="859" x2="318" y2="859" stroke="#2a2a2a" stroke-width="0.9"/>
<line x1="254.8" y1="859" x2="257.4" y2="859" stroke="#2a2a2a" stroke-width="0.9"/>
<text x="254.6" y="861.5" font-size="7" text-anchor="end" fill="#1c1c1c" stroke="#1c1c1c" stroke-width="0.3">0</text>
<line x1="254.8" y1="834.07" x2="257.4" y2="834.07" stroke="#2a2a2a" stroke-width="0.9"/>
<text x="254.6" y="836.57" font-size="7" text-anchor="end" fill="#1c1c1c" stroke="#1c1c1c" stroke-width="0.3">20</text>
<line x1="254.8" y1="809.13" x2="257.4" y2="809.13" stroke="#2a2a2a" stroke-width="0.9"/>
<text x="254.6" y="811.63" font-size="7" text-anchor="end" fill="#1c1c1c" stroke="#1c1c1c" stroke-width="0.3">40</text>
<line x1="254.8" y1="784.2" x2="257.4" y2="784.2" stroke="#2a2a2a" stroke-width="0.9"/>
<text x="254.6" y="786.7" font-size="7" text-anchor="end" fill="#1c1c1c" stroke="#1c1c1c" stroke-width="0.3">60</text>
<line x1="274.9" y1="859" x2="274.9" y2="861.5" stroke="#2a2a2a" stroke-width="0.9"/>
<line x1="300.3" y1="859" x2="300.3" y2="861.5" stroke="#2a2a2a" stroke-width="0.9"/>
<rect x="266.5" y="838.43" width="16.8" height="20.57" fill="#4b4b4b" stroke="#222" stroke-width="0.6"/>
<circle cx="273.43" cy="804.39" r="1.25" fill="#111"/>
<circle cx="275.76" cy="817.61" r="1.25" fill="#111"/>
<circle cx="269.5" cy="823.59" r="1.25" fill="#111"/>
<circle cx="269.91" cy="825.34" r="1.25" fill="#111"/>
<circle cx="271.39" cy="827.71" r="1.25" fill="#111"/>
<circle cx="279.91" cy="829.7" r="1.25" fill="#111"/>
<circle cx="271.56" cy="832.82" r="1.25" fill="#111"/>
<circle cx="277.71" cy="833.69" r="1.25" fill="#111"/>
<circle cx="279.63" cy="845.91" r="1.25" fill="#111"/>
<circle cx="279.76" cy="846.91" r="1.25" fill="#111"/>
<circle cx="273.19" cy="847.9" r="1.25" fill="#111"/>
<circle cx="273.3" cy="849.9" r="1.25" fill="#111"/>
<circle cx="275.17" cy="850.9" r="1.25" fill="#111"/>
<circle cx="277.93" cy="851.89" r="1.25" fill="#111"/>
<circle cx="270.59" cy="852.77" r="1.25" fill="#111"/>
<circle cx="277.63" cy="854.01" r="1.25" fill="#111"/>
<circle cx="278.17" cy="857.63" r="1.25" fill="#111"/>
<circle cx="278.86" cy="834.69" r="1.25" fill="#111"/>
<line x1="274.9" y1="822.85" x2="274.9" y2="854.01" stroke="#111" stroke-width="0.9"/>
<line x1="271.7" y1="822.85" x2="278.1" y2="822.85" stroke="#111" stroke-width="0.9"/>
<line x1="271.7" y1="854.01" x2="278.1" y2="854.01" stroke="#111" stroke-width="0.9"/>
<rect x="291.7" y="826.21" width="17.2" height="32.79" fill="#c4705d" stroke="#222" stroke-width="0.6"/>
<circle cx="295.2" cy="820.6" r="1.25" fill="#111"/>
<circle cx="305.2" cy="840.8" r="1.25" fill="#111"/>
<circle cx="295.8" cy="808.51" r="1.25" fill="#111"/>
<circle cx="298.55" cy="827.71" r="1.25" fill="#111"/>
<circle cx="301.52" cy="810.5" r="1.25" fill="#111"/>
<circle cx="304.9" cy="842.79" r="1.25" fill="#111"/>
<circle cx="298.54" cy="843.79" r="1.25" fill="#111"/>
<circle cx="304.97" cy="831.7" r="1.25" fill="#111"/>
<circle cx="300.8" cy="796.42" r="1.25" fill="#111"/>
<circle cx="298.24" cy="812.5" r="1.25" fill="#111"/>
<circle cx="298.28" cy="802.4" r="1.25" fill="#111"/>
<circle cx="296.75" cy="814.49" r="1.25" fill="#111"/>
<circle cx="295.66" cy="833.69" r="1.25" fill="#111"/>
<circle cx="296.44" cy="835.81" r="1.25" fill="#111"/>
<circle cx="302.38" cy="842.79" r="1.25" fill="#111"/>
<circle cx="305.76" cy="846.91" r="1.25" fill="#111"/>
<circle cx="296.58" cy="851.52" r="1.25" fill="#111"/>
<circle cx="295.33" cy="846.91" r="1.25" fill="#111"/>
<line x1="300.3" y1="807.89" x2="300.3" y2="842.79" stroke="#111" stroke-width="0.9"/>
<line x1="297.1" y1="807.89" x2="303.5" y2="807.89" stroke="#111" stroke-width="0.9"/>
<line x1="297.1" y1="842.79" x2="303.5" y2="842.79" stroke="#111" stroke-width="0.9"/>
<text x="289.3" y="774.6" font-size="7" text-anchor="middle" fill="#1c1c1c" stroke="#1c1c1c" stroke-width="0.3">IFNγ</text>
<polyline points="274.9,789.9 274.9,784.2 300.3,784.2 300.3,788.3" fill="none" stroke="#333" stroke-width="0.8"/>
<text x="287.6" y="784.55" font-size="9.5" font-weight="bold" text-anchor="middle" fill="#1c1c1c" stroke="#1c1c1c" stroke-width="0.18">*</text>
<text x="275.2" y="869.63" font-size="8.5" text-anchor="middle" fill="#1c1c1c" stroke="#1c1c1c" stroke-width="0.3">Pre</text>
<text x="300.8" y="869.63" font-size="8.5" text-anchor="middle" fill="#1c1c1c" stroke="#1c1c1c" stroke-width="0.3">Post</text>
<text x="235.3" y="826.06" font-size="6.9" text-anchor="middle" fill="#1c1c1c" stroke="#1c1c1c" stroke-width="0.3" transform="rotate(-90 235.3 823.6)">Cytokine level (pg/mL)</text>
<line x1="351.4" y1="784.1" x2="351.4" y2="859" stroke="#2a2a2a" stroke-width="0.9"/>
<line x1="351.4" y1="859" x2="412" y2="859" stroke="#2a2a2a" stroke-width="0.9"/>
<line x1="348.8" y1="859" x2="351.4" y2="859" stroke="#2a2a2a" stroke-width="0.9"/>
<text x="348.6" y="861.5" font-size="7" text-anchor="end" fill="#1c1c1c" stroke="#1c1c1c" stroke-width="0.3">0</text>
<line x1="348.8" y1="840.4" x2="351.4" y2="840.4" stroke="#2a2a2a" stroke-width="0.9"/>
<text x="348.6" y="842.9" font-size="7" text-anchor="end" fill="#1c1c1c" stroke="#1c1c1c" stroke-width="0.3">5</text>
<line x1="348.8" y1="821.8" x2="351.4" y2="821.8" stroke="#2a2a2a" stroke-width="0.9"/>
<text x="348.6" y="824.3" font-size="7" text-anchor="end" fill="#1c1c1c" stroke="#1c1c1c" stroke-width="0.3">10</text>
<line x1="348.8" y1="803.2" x2="351.4" y2="803.2" stroke="#2a2a2a" stroke-width="0.9"/>
<text x="348.6" y="805.7" font-size="7" text-anchor="end" fill="#1c1c1c" stroke="#1c1c1c" stroke-width="0.3">15</text>
<line x1="348.8" y1="784.6" x2="351.4" y2="784.6" stroke="#2a2a2a" stroke-width="0.9"/>
<text x="348.6" y="787.1" font-size="7" text-anchor="end" fill="#1c1c1c" stroke="#1c1c1c" stroke-width="0.3">20</text>
<line x1="368.3" y1="859" x2="368.3" y2="861.5" stroke="#2a2a2a" stroke-width="0.9"/>
<line x1="393.5" y1="859" x2="393.5" y2="861.5" stroke="#2a2a2a" stroke-width="0.9"/>
<rect x="360" y="842.26" width="16.6" height="16.74" fill="#4b4b4b" stroke="#222" stroke-width="0.6"/>
<circle cx="373.65" cy="799.48" r="1.25" fill="#111"/>
<circle cx="368.67" cy="809.9" r="1.25" fill="#111"/>
<circle cx="367.26" cy="826.26" r="1.25" fill="#111"/>
<circle cx="365.41" cy="827.01" r="1.25" fill="#111"/>
<circle cx="369.33" cy="834.82" r="1.25" fill="#111"/>
<circle cx="371.89" cy="844.49" r="1.25" fill="#111"/>
<circle cx="367.81" cy="845.98" r="1.25" fill="#111"/>
<circle cx="367.44" cy="845.24" r="1.25" fill="#111"/>
<circle cx="363.41" cy="847.84" r="1.25" fill="#111"/>
<circle cx="372.88" cy="850.82" r="1.25" fill="#111"/>
<circle cx="363.16" cy="851.56" r="1.25" fill="#111"/>
<circle cx="368.23" cy="853.79" r="1.25" fill="#111"/>
<circle cx="372.02" cy="856.02" r="1.25" fill="#111"/>
<circle cx="364.24" cy="857.51" r="1.25" fill="#111"/>
<circle cx="370.85" cy="856.77" r="1.25" fill="#111"/>
<circle cx="373.25" cy="855.28" r="1.25" fill="#111"/>
<line x1="368.3" y1="824.4" x2="368.3" y2="859" stroke="#111" stroke-width="0.9"/>
<line x1="365.1" y1="824.4" x2="371.5" y2="824.4" stroke="#111" stroke-width="0.9"/>
<line x1="365.1" y1="859" x2="371.5" y2="859" stroke="#111" stroke-width="0.9"/>
<rect x="385.1" y="847.84" width="16.8" height="11.16" fill="#c4705d" stroke="#222" stroke-width="0.6"/>
<circle cx="394.93" cy="811.01" r="1.25" fill="#111"/>
<circle cx="396.67" cy="857.14" r="1.25" fill="#111"/>
<circle cx="389.17" cy="818.45" r="1.25" fill="#111"/>
<circle cx="392.78" cy="843.75" r="1.25" fill="#111"/>
<circle cx="389.64" cy="835.56" r="1.25" fill="#111"/>
<circle cx="397.29" cy="849.7" r="1.25" fill="#111"/>
<circle cx="391.24" cy="846.35" r="1.25" fill="#111"/>
<circle cx="392.98" cy="843.75" r="1.25" fill="#111"/>
<circle cx="398.99" cy="857.88" r="1.25" fill="#111"/>
<circle cx="397.37" cy="853.05" r="1.25" fill="#111"/>
<circle cx="398.74" cy="854.91" r="1.25" fill="#111"/>
<circle cx="392.99" cy="854.91" r="1.25" fill="#111"/>
<circle cx="393.37" cy="857.14" r="1.25" fill="#111"/>
<circle cx="396.02" cy="857.88" r="1.25" fill="#111"/>
<circle cx="393.27" cy="858.26" r="1.25" fill="#111"/>
<circle cx="391.2" cy="848.21" r="1.25" fill="#111"/>
<line x1="393.5" y1="834.45" x2="393.5" y2="859" stroke="#111" stroke-width="0.9"/>
<line x1="390.3" y1="834.45" x2="396.7" y2="834.45" stroke="#111" stroke-width="0.9"/>
<line x1="390.3" y1="859" x2="396.7" y2="859" stroke="#111" stroke-width="0.9"/>
<text x="381.7" y="776" font-size="7" text-anchor="middle" fill="#1c1c1c" stroke="#1c1c1c" stroke-width="0.3">IL6</text>
<polyline points="368.3,787.3 368.3,784.2 393.5,784.2 393.5,795.3" fill="none" stroke="#333" stroke-width="0.8"/>
<text x="380.9" y="782.3" font-size="7.2" font-weight="bold" text-anchor="middle" fill="#1c1c1c" stroke="#1c1c1c" stroke-width="0.18">ns</text>
<text x="368.6" y="869.63" font-size="8.5" text-anchor="middle" fill="#1c1c1c" stroke="#1c1c1c" stroke-width="0.3">Pre</text>
<text x="393.8" y="869.63" font-size="8.5" text-anchor="middle" fill="#1c1c1c" stroke="#1c1c1c" stroke-width="0.3">Post</text>
<text x="330.3" y="824.06" font-size="6.9" text-anchor="middle" fill="#1c1c1c" stroke="#1c1c1c" stroke-width="0.3" transform="rotate(-90 330.3 821.6)">Cytokine level (pg/mL)</text>
<line x1="447" y1="784.29" x2="447" y2="858.8" stroke="#2a2a2a" stroke-width="0.9"/>
<line x1="447" y1="858.8" x2="512" y2="858.8" stroke="#2a2a2a" stroke-width="0.9"/>
<line x1="444.4" y1="858.8" x2="447" y2="858.8" stroke="#2a2a2a" stroke-width="0.9"/>
<text x="444.2" y="861.3" font-size="7" text-anchor="end" fill="#1c1c1c" stroke="#1c1c1c" stroke-width="0.3">0</text>
<line x1="444.4" y1="834.13" x2="447" y2="834.13" stroke="#2a2a2a" stroke-width="0.9"/>
<text x="444.2" y="836.63" font-size="7" text-anchor="end" fill="#1c1c1c" stroke="#1c1c1c" stroke-width="0.3">100</text>
<line x1="444.4" y1="809.46" x2="447" y2="809.46" stroke="#2a2a2a" stroke-width="0.9"/>
<text x="444.2" y="811.96" font-size="7" text-anchor="end" fill="#1c1c1c" stroke="#1c1c1c" stroke-width="0.3">200</text>
<line x1="444.4" y1="784.79" x2="447" y2="784.79" stroke="#2a2a2a" stroke-width="0.9"/>
<text x="444.2" y="787.29" font-size="7" text-anchor="end" fill="#1c1c1c" stroke="#1c1c1c" stroke-width="0.3">300</text>
<line x1="464.7" y1="858.8" x2="464.7" y2="861.3" stroke="#2a2a2a" stroke-width="0.9"/>
<line x1="490.2" y1="858.8" x2="490.2" y2="861.3" stroke="#2a2a2a" stroke-width="0.9"/>
<rect x="456.3" y="844.49" width="16.8" height="14.31" fill="#4b4b4b" stroke="#222" stroke-width="0.6"/>
<circle cx="463.64" cy="800.09" r="1.25" fill="#111"/>
<circle cx="460.81" cy="821.05" r="1.25" fill="#111"/>
<circle cx="463.35" cy="831.17" r="1.25" fill="#111"/>
<circle cx="470.07" cy="839.06" r="1.25" fill="#111"/>
<circle cx="469.76" cy="839.8" r="1.25" fill="#111"/>
<circle cx="466.1" cy="842.76" r="1.25" fill="#111"/>
<circle cx="464.69" cy="844" r="1.25" fill="#111"/>
<circle cx="462.92" cy="846.46" r="1.25" fill="#111"/>
<circle cx="460.18" cy="847.21" r="1.25" fill="#111"/>
<circle cx="462.2" cy="849.92" r="1.25" fill="#111"/>
<circle cx="467.8" cy="850.91" r="1.25" fill="#111"/>
<circle cx="468.74" cy="852.63" r="1.25" fill="#111"/>
<circle cx="463.17" cy="854.61" r="1.25" fill="#111"/>
<circle cx="467.85" cy="855.59" r="1.25" fill="#111"/>
<circle cx="467.72" cy="856.33" r="1.25" fill="#111"/>
<circle cx="466.84" cy="853.87" r="1.25" fill="#111"/>
<line x1="464.7" y1="829.69" x2="464.7" y2="858.8" stroke="#111" stroke-width="0.9"/>
<line x1="461.5" y1="829.69" x2="467.9" y2="829.69" stroke="#111" stroke-width="0.9"/>
<line x1="461.5" y1="858.8" x2="467.9" y2="858.8" stroke="#111" stroke-width="0.9"/>
<rect x="482" y="851.89" width="16.3" height="6.91" fill="#c4705d" stroke="#222" stroke-width="0.6"/>
<circle cx="491.95" cy="849.92" r="1.25" fill="#111"/>
<circle cx="493.01" cy="851.89" r="1.25" fill="#111"/>
<circle cx="488.65" cy="849.18" r="1.25" fill="#111"/>
<circle cx="492.4" cy="847.21" r="1.25" fill="#111"/>
<circle cx="487.74" cy="845.48" r="1.25" fill="#111"/>
<circle cx="489.99" cy="853.37" r="1.25" fill="#111"/>
<circle cx="493.12" cy="847.21" r="1.25" fill="#111"/>
<circle cx="492.25" cy="849.92" r="1.25" fill="#111"/>
<circle cx="487.88" cy="851.89" r="1.25" fill="#111"/>
<circle cx="495.05" cy="849.18" r="1.25" fill="#111"/>
<circle cx="491.8" cy="853.37" r="1.25" fill="#111"/>
<circle cx="491.04" cy="854.61" r="1.25" fill="#111"/>
<circle cx="484.78" cy="853.37" r="1.25" fill="#111"/>
<circle cx="490.67" cy="854.61" r="1.25" fill="#111"/>
<circle cx="487.41" cy="853.37" r="1.25" fill="#111"/>
<circle cx="492.04" cy="851.4" r="1.25" fill="#111"/>
<line x1="490.15" y1="847.95" x2="490.15" y2="855.84" stroke="#111" stroke-width="0.9"/>
<line x1="486.95" y1="847.95" x2="493.35" y2="847.95" stroke="#111" stroke-width="0.9"/>
<line x1="486.95" y1="855.84" x2="493.35" y2="855.84" stroke="#111" stroke-width="0.9"/>
<text x="480.2" y="776.2" font-size="7" text-anchor="middle" fill="#1c1c1c" stroke="#1c1c1c" stroke-width="0.3">IL16</text>
<polyline points="464.7,789.9 464.7,785.4 490.2,785.4 490.2,800.9" fill="none" stroke="#333" stroke-width="0.8"/>
<text x="477.45" y="785.95" font-size="9.5" font-weight="bold" text-anchor="middle" fill="#1c1c1c" stroke="#1c1c1c" stroke-width="0.18">*</text>
<text x="464.3" y="870.33" font-size="8.5" text-anchor="middle" fill="#1c1c1c" stroke="#1c1c1c" stroke-width="0.3">Pre</text>
<text x="490.1" y="870.33" font-size="8.5" text-anchor="middle" fill="#1c1c1c" stroke="#1c1c1c" stroke-width="0.3">Post</text>
<text x="422.2" y="824.36" font-size="6.9" text-anchor="middle" fill="#1c1c1c" stroke="#1c1c1c" stroke-width="0.3" transform="rotate(-90 422.2 821.9)">Cytokine level (pg/mL)</text>
</svg>
</body></html>
